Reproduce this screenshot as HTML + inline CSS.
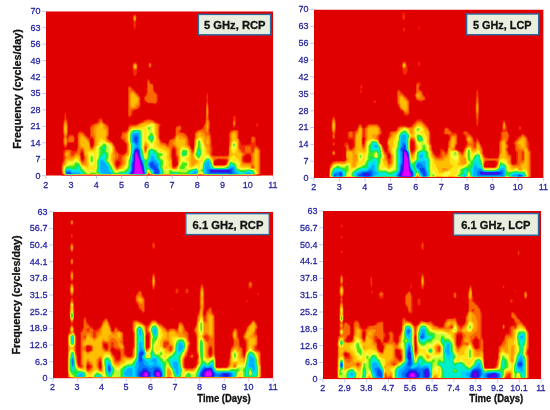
<!DOCTYPE html>
<html><head><meta charset="utf-8"><title>Wavelet spectra</title>
<style>
html,body{margin:0;padding:0;background:#fff;}
body{width:550px;height:410px;overflow:hidden;}
svg{display:block;font-family:"Liberation Sans",sans-serif;}
</style></head><body>
<svg width="550" height="410" viewBox="0 0 550 410">
<defs><filter id="bl" x="-5%" y="-5%" width="110%" height="110%"><feGaussianBlur stdDeviation="0.7"/></filter><clipPath id="clipA"><rect width="227.2" height="164.4"/></clipPath><clipPath id="clipB"><rect width="229.6" height="168.6"/></clipPath><clipPath id="clipC"><rect width="220.4" height="166.7"/></clipPath><clipPath id="clipD"><rect width="218.1" height="168.3"/></clipPath></defs>
<rect width="550" height="410" fill="#fff"/>
<g transform="translate(46.0,11.3)" clip-path="url(#clipA)"><rect width="227.2" height="164.4" fill="#e00000"/><g filter="url(#bl)"><path fill="rgb(228, 6, 0)" d="M88.1,2.2 88.8,2.0 89.2,2.2 89.9,2.8 90.6,4.2 91.0,6.8 90.8,9.2 91.1,14.2 90.8,17.8 90.1,21.2 89.2,22.7 88.8,23.0 88.2,22.8 87.8,22.2 87.2,20.8 86.6,17.8 86.3,14.8 86.5,5.8 87.0,3.8 87.6,2.8ZM88.5,47.8 89.2,47.7 90.2,48.2 91.1,49.2 91.7,50.2 92.7,53.7 93.1,57.8 93.0,61.8 92.2,65.8 91.6,67.2 90.8,68.7 90.2,69.2 89.2,69.7 88.2,69.6 87.8,69.2 86.9,68.2 86.2,67.0 85.3,63.8 84.9,59.8 85.0,55.8 85.8,51.7 86.9,49.2 87.8,48.2ZM103.7,50.2 104.8,50.5 105.2,51.0 105.8,52.2 106.1,53.8 106.0,55.2 105.7,56.2 105.1,57.2 104.2,57.8 103.2,57.5 102.8,57.0 102.2,55.8 101.9,54.2 102.0,52.8 102.3,51.7 102.9,50.8ZM102.1,66.2 102.8,66.2 103.2,66.4 103.8,66.9 105.0,71.2 105.7,71.8 107.2,72.2 107.8,72.8 108.1,73.8 108.2,77.2 108.5,78.2 110.2,79.8 111.1,81.2 112.8,82.3 113.4,83.2 113.5,86.2 113.4,90.8 112.8,91.7 111.1,92.8 110.1,94.8 109.2,95.3 108.3,95.1 107.1,93.2 106.2,92.8 101.8,92.6 98.9,91.8 98.1,90.8 97.5,88.8 97.4,86.2 98.1,83.2 98.8,82.3 99.8,81.6 100.2,80.5 100.4,69.8 101.2,66.9ZM45.0,70.8 46.2,70.4 47.0,70.8 47.5,71.2 47.7,71.8 47.7,72.8 47.4,73.2 46.8,73.8 45.8,74.0 45.2,73.8 44.6,73.2 44.3,72.8 44.3,71.8ZM83.1,72.8 83.8,72.7 84.2,72.9 85.8,74.9 87.8,75.9 88.2,76.4 89.1,78.2 90.8,79.3 92.1,81.2 94.1,82.8 95.1,86.8 95.1,94.2 94.4,97.2 93.6,98.2 89.8,99.3 88.8,100.1 88.5,100.8 88.5,103.2 88.1,104.2 87.6,104.8 85.8,105.6 85.1,106.8 85.0,109.8 85.4,111.2 86.2,111.9 88.8,112.0 90.2,111.9 93.2,111.2 94.0,110.8 95.2,108.9 100.2,107.5 101.8,105.4 102.8,105.2 103.6,105.8 104.2,107.0 104.8,107.5 109.2,108.6 110.2,109.2 110.7,110.2 111.2,110.9 112.0,111.2 116.0,112.2 116.6,112.8 116.8,113.2 116.8,113.9 116.2,114.6 114.8,115.4 114.2,116.7 114.2,126.4 114.8,127.5 116.6,128.8 117.4,130.2 118.2,130.7 120.8,131.2 121.2,131.2 122.0,130.8 122.5,128.8 123.2,127.8 125.2,127.0 126.8,125.3 127.8,124.8 128.4,124.2 128.8,122.8 128.9,116.8 129.3,115.2 130.2,114.5 132.1,113.8 133.2,112.4 134.2,112.2 134.8,112.4 135.4,113.2 136.1,115.8 136.1,117.2 135.8,119.8 136.0,120.2 136.8,120.7 138.8,121.0 140.8,121.6 141.6,122.2 143.0,127.2 144.2,128.3 144.9,129.2 145.2,134.2 145.9,136.8 146.2,137.3 146.8,137.4 147.3,136.2 147.9,122.8 148.6,119.8 148.8,119.2 149.8,118.6 153.8,117.5 154.2,117.0 154.9,115.8 155.2,115.4 156.5,114.8 157.0,114.2 157.2,113.2 156.8,112.2 155.2,111.6 154.7,110.8 154.7,109.8 155.2,108.9 156.2,108.6 157.0,108.8 157.6,109.2 158.2,110.8 158.6,110.2 159.4,102.3 160.1,82.8 160.7,79.2 161.2,78.1 161.8,78.6 161.9,79.2 162.5,82.8 163.2,102.8 163.8,108.2 164.5,109.2 164.6,110.2 164.7,117.2 165.8,120.8 166.4,123.8 166.9,127.8 167.0,131.8 168.1,134.8 168.6,137.2 168.6,140.2 167.9,143.2 168.8,143.8 174.8,143.8 180.8,143.8 181.8,143.2 182.0,142.2 182.0,136.2 182.3,133.2 182.3,123.2 183.0,119.8 183.1,116.8 183.2,116.0 183.8,115.4 184.8,115.2 185.6,115.8 186.4,117.2 186.8,117.5 187.2,117.2 186.2,115.5 185.5,112.8 185.2,109.2 185.4,105.8 186.0,102.8 186.8,100.8 187.8,99.7 188.2,99.5 189.2,99.7 190.2,100.8 191.0,102.8 191.6,105.8 191.8,108.8 191.6,111.8 191.0,114.8 190.2,116.6 189.2,117.8 191.8,118.0 192.2,118.3 193.0,119.2 193.2,120.8 193.2,126.4 193.8,127.5 195.2,128.8 195.9,130.8 196.8,131.4 197.8,131.5 202.8,131.5 203.8,131.2 204.2,130.2 204.5,125.8 205.2,124.8 205.8,124.5 207.8,124.4 209.8,124.9 210.8,125.4 211.4,126.2 211.6,133.2 212.2,134.4 213.8,135.3 214.3,135.9 214.9,137.8 215.1,139.2 215.2,164.2 15.3,164.2 15.0,156.2 15.4,151.8 16.0,148.8 16.0,139.8 16.2,139.0 16.8,138.4 18.1,137.8 17.0,135.2 16.5,131.8 16.4,128.8 16.7,125.8 16.3,119.8 16.4,113.2 17.0,108.2 17.8,105.0 18.1,101.2 18.7,99.2 19.2,98.8 19.8,99.0 20.3,100.2 20.8,103.8 21.5,105.8 22.1,108.8 22.6,114.2 22.7,121.8 22.8,121.9 24.2,121.5 26.2,121.5 27.8,121.9 28.4,122.8 29.2,126.2 29.2,129.8 28.7,131.2 28.2,131.8 27.2,132.1 23.8,132.2 22.8,132.4 22.5,132.8 22.0,135.2 21.2,137.2 24.2,137.4 27.2,138.0 29.3,138.0 30.2,137.5 30.7,136.8 30.8,135.8 30.8,122.8 31.1,121.2 31.9,119.2 32.5,118.8 33.2,118.5 35.8,118.5 37.0,118.7 37.7,119.3 38.8,120.9 40.7,122.2 41.6,124.2 42.2,124.6 42.8,124.5 43.3,123.2 43.4,115.8 44.2,112.9 45.2,112.1 49.1,111.2 50.0,110.8 50.5,109.8 50.6,106.2 51.2,105.4 52.2,105.1 54.8,105.0 55.8,105.1 56.6,105.8 57.8,110.2 58.2,111.0 62.1,112.2 62.9,113.2 63.6,116.2 63.7,123.2 63.2,126.2 63.6,127.2 64.2,127.8 65.8,128.4 66.1,128.8 67.2,130.8 69.2,132.2 70.5,137.2 72.2,138.8 72.7,140.2 73.2,140.9 74.2,141.4 76.2,141.5 77.7,141.2 78.4,140.8 78.9,139.8 79.0,138.8 79.0,134.2 78.7,132.8 77.8,131.8 76.4,131.2 75.9,130.8 74.9,128.8 72.9,127.2 72.7,126.2 73.2,125.3 74.5,124.2 75.1,121.2 75.9,119.2 76.8,118.6 79.8,118.4 80.8,117.9 81.2,116.9 81.9,113.8 82.0,107.2 81.4,104.2 81.3,102.8 81.3,77.2 81.5,75.8 82.1,73.8 82.4,73.2ZM203.5,85.8 204.8,85.5 205.7,85.8 206.4,86.2 207.0,87.2 207.2,88.8 206.9,89.8 206.2,90.7 205.2,91.2 204.2,91.3 203.2,90.9 202.6,90.2 202.1,89.2 202.0,88.2 202.2,87.2 202.8,86.3ZM187.7,88.8 188.8,88.8 189.5,89.2 190.2,90.2 190.5,91.8 190.5,93.2 190.1,94.2 189.2,95.4 188.2,95.7 187.2,95.4 186.8,95.0 186.1,93.8 185.9,92.8 185.9,91.2 186.2,90.2 186.8,89.4ZM210.8,108.8 211.7,108.8 212.8,109.7 213.4,111.2 213.7,113.2 213.6,115.2 213.0,117.2 212.2,118.3 211.2,118.7 210.2,118.4 209.4,117.3 208.9,115.8 208.7,114.2 208.8,112.2 209.2,110.8 209.8,109.6ZM187.7,117.7 187.6,117.8ZM45.2,128.4 44.8,129.2 44.8,130.6 45.1,133.8 45.2,134.1 45.8,134.5 46.2,134.4 46.8,133.3 46.8,129.8 46.2,128.5 45.8,128.3ZM127.2,138.5 126.8,139.2 126.7,140.8 126.7,146.2 127.0,152.8 127.3,153.8 127.8,154.2 128.2,154.3 130.8,153.6 131.2,152.8 131.2,152.2 130.8,151.2 129.8,150.2 129.6,149.8 129.4,146.2 128.9,143.2 128.7,139.2 128.2,138.5 127.8,138.3ZM35.8,142.1 35.4,142.8 35.3,143.8 35.6,146.8 36.2,147.6 36.8,147.4 37.2,146.8 37.2,145.2 36.8,142.4 36.2,141.9ZM200.8,144.6 199.8,145.1 199.1,146.2 199.0,148.2 199.2,149.4 199.8,150.0 200.8,150.3 202.8,150.3 203.8,150.0 204.2,149.2 204.3,148.8 204.3,146.2 204.0,145.2 203.4,144.8 202.8,144.5ZM172.2,148.7 170.9,149.2 170.2,150.2 168.8,151.4 168.5,152.2 168.8,153.0 169.8,153.3 177.2,153.3 178.3,153.3 179.1,152.8 179.7,150.2 179.7,149.8 179.2,149.0 177.8,148.7ZM70.8,151.5 70.3,152.8 70.7,153.8 71.2,154.0 71.8,153.8 72.2,153.2 72.3,152.2 71.8,151.5 71.2,151.3Z"/>
<path fill="rgb(243, 47, 0)" d="M88.5,3.2 89.2,3.4 89.9,4.2 90.3,5.8 90.4,7.2 90.2,9.2 89.6,10.8 89.8,13.2 89.6,15.8 89.2,17.3 88.8,17.9 88.2,17.5 87.8,15.8 87.6,13.2 87.9,10.8 87.2,9.2 87.0,7.2 87.3,4.8 87.8,3.8ZM88.3,51.2 89.2,51.0 89.8,51.2 90.5,51.8 91.3,53.2 91.6,54.8 90.8,62.1 90.2,63.4 89.8,64.1 89.2,64.5 88.8,64.5 88.2,64.1 87.8,63.4 87.3,62.2 86.9,60.3 86.9,57.8 86.6,55.8 86.6,54.2 87.1,52.8 87.7,51.8ZM103.1,51.8 103.7,51.3 104.2,51.3 104.9,51.8 105.3,52.8 105.5,53.8 105.3,55.2 104.9,56.2 104.2,56.7 103.7,56.7 103.2,56.4 102.7,55.2 102.5,53.2ZM102.1,68.2 102.8,68.1 103.2,68.5 103.8,69.5 104.1,71.2 104.8,72.1 106.5,72.8 107.1,73.2 107.4,74.2 107.5,77.2 107.8,78.8 108.8,80.2 111.2,82.8 111.9,83.8 112.0,86.2 111.9,90.2 111.2,91.2 109.2,93.1 108.8,93.1 107.2,92.3 106.2,92.1 102.8,92.0 101.2,91.7 100.4,91.2 99.2,90.2 98.6,89.2 98.2,88.2 98.1,86.8 98.3,85.8 100.2,82.6 100.8,81.2 101.1,70.2 101.3,69.2ZM83.0,74.8 83.8,74.5 84.2,74.8 92.2,82.8 94.2,85.8 94.5,87.8 94.4,94.2 93.8,96.1 92.1,97.8 91.1,98.2 88.8,98.8 87.3,99.8 86.8,100.8 86.5,103.2 85.7,104.2 83.8,106.1 83.2,106.0 82.3,104.8 82.0,102.8 82.0,77.2 82.3,75.8ZM161.1,82.2 161.2,81.8 161.8,82.8 162.0,84.8 161.9,89.8 162.4,92.8 162.6,96.8 162.7,105.2 163.1,108.8 163.8,109.5 164.0,110.8 163.9,117.2 163.2,119.2 164.4,121.8 165.1,124.8 165.6,128.8 165.6,133.8 166.3,135.8 166.7,137.8 166.6,140.2 165.9,142.8 166.0,143.2 167.2,144.2 169.2,144.5 180.8,144.5 181.8,144.2 182.2,143.8 182.5,142.8 182.6,136.2 183.0,133.2 183.1,122.8 183.3,121.8 184.8,118.9 185.2,118.6 190.8,118.5 191.5,118.8 192.1,119.2 192.5,120.8 192.6,126.8 193.9,129.2 194.8,132.8 195.7,134.4 196.2,134.5 197.8,133.8 199.2,133.4 203.8,133.2 204.8,133.0 205.0,132.2 205.0,127.2 205.2,126.0 205.8,125.4 206.2,125.2 207.2,125.1 208.2,125.3 209.6,126.2 210.0,127.2 209.9,130.8 209.5,132.8 209.8,133.2 213.8,137.4 214.4,139.2 214.5,162.8 214.2,163.1 207.2,163.2 20.2,163.2 16.8,163.2 16.2,163.1 16.0,162.8 15.6,159.8 15.6,155.8 16.2,151.8 17.1,149.8 17.3,148.8 17.5,146.2 17.4,141.8 17.5,140.2 17.9,139.2 19.4,138.2 21.8,138.0 23.8,138.1 24.8,138.3 27.2,140.1 29.2,139.7 30.2,139.2 31.2,137.8 31.4,136.8 31.5,123.2 31.8,121.9 32.2,121.0 32.8,120.4 33.8,120.0 35.8,120.0 36.8,120.4 38.7,122.2 40.3,124.2 41.8,125.7 42.8,126.3 43.8,126.4 44.0,126.2 44.0,125.7 44.0,116.8 44.2,115.8 44.6,114.8 45.2,113.9 47.2,112.6 50.1,111.8 51.0,111.2 51.8,110.2 52.4,107.7 52.8,107.2 53.7,106.9 54.8,106.8 55.8,107.3 56.7,108.8 57.2,110.8 57.5,111.2 58.2,111.8 60.6,112.8 62.2,114.4 62.9,116.2 63.0,122.8 62.8,124.2 62.0,126.2 62.1,126.8 63.2,128.2 65.8,130.4 67.6,132.2 69.2,135.2 69.8,137.6 70.2,138.6 71.8,140.8 74.2,143.2 74.8,143.3 76.8,143.0 77.8,142.6 79.7,140.8 80.0,140.2 80.3,139.2 80.3,134.2 80.0,132.8 74.5,126.7 74.4,126.2 75.3,124.2 75.8,121.9 76.2,121.0 77.2,120.2 79.8,119.9 80.8,119.3 81.7,117.8 82.2,115.8 82.6,114.8 83.8,113.3 84.2,113.1 88.8,113.3 90.2,113.1 91.8,112.3 94.2,111.5 98.2,108.8 100.6,108.2 102.2,107.4 102.8,107.4 104.8,108.3 107.2,108.8 108.1,109.2 110.4,111.2 111.3,111.8 113.2,112.3 114.5,113.2 114.6,113.8 113.8,115.4 113.5,116.8 113.5,125.8 113.8,127.2 115.2,129.5 116.4,130.8 117.4,131.2 119.7,131.8 121.2,132.6 121.8,132.5 122.4,131.8 123.4,128.8 124.0,128.2 126.6,127.2 127.8,126.3 129.0,124.8 129.5,123.2 129.5,117.2 129.9,115.8 130.8,115.1 132.1,114.8 133.8,114.0 134.2,114.0 134.8,114.5 135.2,115.2 135.4,116.8 135.2,118.1 134.5,119.8 134.5,120.2 135.0,120.8 135.8,121.2 138.2,121.7 139.6,122.2 140.1,122.8 141.2,124.4 141.8,125.4 142.3,127.8 143.4,129.8 143.6,133.2 144.7,135.2 145.5,137.8 146.2,138.7 146.8,138.8 147.2,138.3 147.8,136.7 148.0,133.8 148.1,129.2 148.5,126.3 148.6,122.8 148.8,121.7 149.8,120.3 150.9,119.2 151.9,118.8 154.2,118.2 155.1,117.8 156.2,116.8 157.2,115.6 157.7,114.8 158.2,112.7 159.3,111.8 159.9,104.8 160.0,96.8 160.2,92.8 160.7,89.8 160.6,84.8ZM19.1,101.2 19.2,101.1 19.8,101.6 19.9,102.2 20.2,106.2 21.2,108.8 21.8,112.8 22.0,119.2 21.4,125.8 21.8,127.5 22.1,125.8 22.8,124.4 23.8,123.5 24.8,123.3 26.2,123.3 27.2,123.8 28.2,125.4 28.5,127.2 28.5,129.8 28.1,130.8 27.5,131.2 26.8,131.4 22.2,131.5 21.8,131.7 21.4,133.8 20.9,135.2 20.2,136.3 19.8,136.6 19.2,136.6 18.8,136.3 18.1,135.2 17.5,133.2 17.1,130.2 17.2,128.2 17.6,125.8 17.0,119.8 17.1,114.2 17.6,109.8 18.5,106.8 18.6,102.8 18.8,101.9ZM188.0,104.8 188.2,104.5 188.8,104.5 189.2,105.0 189.8,106.3 190.0,108.2 189.5,113.8 188.8,115.7 188.2,116.1 187.8,115.9 187.2,114.8 186.9,111.8 187.2,106.8 187.6,105.2ZM210.7,112.2 211.2,112.0 211.6,112.2 212.0,113.2 211.9,114.8 211.2,115.4 210.8,115.2 210.4,114.2 210.4,113.2ZM44.2,126.5 44.0,126.8 44.0,129.8 44.5,133.8 45.0,135.2 45.8,135.9 46.2,135.7 46.8,135.1 47.4,133.8 47.4,129.2 47.2,128.2 46.2,126.9 45.2,126.6ZM127.2,137.0 126.3,138.2 126.1,139.2 126.0,146.2 126.4,149.2 126.6,153.8 127.2,155.2 127.8,155.6 128.2,155.6 131.2,154.0 131.7,153.2 131.8,152.2 130.9,149.2 130.7,146.2 129.7,143.8 129.3,138.8 128.8,137.5 128.2,137.0 127.8,136.8ZM35.8,140.4 34.8,141.8 34.6,143.2 35.2,147.8 35.8,148.7 36.2,149.0 36.8,149.0 37.7,147.8 37.9,145.8 37.2,141.7 36.8,140.8 36.2,140.4ZM200.8,143.1 199.8,143.8 197.8,145.8 197.4,147.2 197.6,149.2 198.4,150.2 199.8,150.8 202.2,151.0 204.0,150.8 204.6,150.2 204.9,149.2 205.0,146.2 204.7,144.8 204.2,144.0 203.3,143.1 202.2,143.0ZM171.2,148.2 170.2,148.6 169.3,149.2 168.2,150.7 168.0,151.8 168.0,152.8 168.2,153.4 168.8,153.7 176.8,153.8 178.8,153.7 179.5,153.2 179.8,152.8 180.9,149.8 180.8,149.2 180.5,148.8 179.8,148.3 178.8,148.1 172.8,148.0ZM71.2,149.7 70.8,149.9 70.1,150.8 69.7,151.8 69.6,152.8 69.8,153.8 70.2,154.6 70.8,155.2 71.2,155.4 71.8,155.2 73.2,153.8 73.6,153.2 73.9,152.2 73.7,150.7 73.2,149.7 72.2,149.5Z"/>
<path fill="rgb(252, 104, 0)" d="M88.3,4.2 88.8,4.1 89.2,4.3 89.7,5.3 90.0,6.8 89.8,9.1 89.2,10.1 88.8,10.3 88.2,10.1 87.8,9.4 87.4,7.8 87.5,5.8ZM88.2,52.2 88.8,52.0 89.8,52.1 90.4,52.8 91.0,54.2 91.1,55.8 90.8,57.1 90.2,57.9 89.2,58.5 88.4,58.2 87.8,57.8 87.2,56.2 87.1,54.8 87.3,53.8 87.8,52.8ZM103.6,52.2 104.2,52.1 104.8,52.7 105.0,53.2 105.0,54.8 104.8,55.3 104.2,55.9 103.6,55.8 103.0,54.8 103.0,53.2ZM102.2,69.8 102.8,69.8 103.2,70.6 103.5,71.8 104.2,72.7 105.8,73.2 106.5,73.8 106.8,74.8 106.9,78.2 107.6,80.8 108.2,81.7 109.8,82.6 110.2,83.3 110.5,84.8 110.5,89.8 110.2,90.8 109.2,91.7 108.8,91.8 106.2,91.4 102.2,91.2 101.4,90.8 100.7,89.8 99.2,88.6 98.8,87.8 98.8,86.8 99.0,86.2 100.8,84.6 101.5,81.8 101.7,80.2 101.7,71.2 101.9,70.2ZM83.1,76.2 83.8,75.9 84.2,76.2 84.7,76.8 85.4,78.2 85.8,78.6 87.8,79.6 89.2,81.5 90.9,82.8 92.1,84.8 93.5,86.2 93.8,87.8 93.8,93.2 93.5,94.8 91.8,96.2 90.8,97.5 86.2,98.6 85.4,99.2 85.0,100.2 84.9,103.2 84.3,104.2 83.8,104.6 83.1,104.2 82.7,102.8 82.7,78.2 82.8,77.1ZM161.1,91.8 161.2,91.3 161.8,92.2 162.0,94.2 162.4,100.2 162.1,106.2 162.6,109.2 163.3,110.8 163.3,116.8 162.8,118.2 162.5,121.8 163.8,124.1 164.4,127.2 164.6,130.8 164.4,134.8 165.0,136.8 165.2,138.8 164.6,142.2 164.8,143.2 165.2,144.0 166.8,144.9 168.8,145.2 180.8,145.2 181.8,144.9 182.2,144.6 182.8,143.8 183.0,142.8 183.0,136.2 183.6,132.8 183.8,122.8 184.2,121.8 186.8,119.4 188.2,119.2 190.8,119.3 191.5,119.8 191.8,120.3 191.9,126.2 193.1,129.8 193.3,136.8 193.8,137.6 195.2,138.8 195.7,140.2 196.2,140.9 197.2,141.4 198.8,141.5 199.0,141.8 198.9,142.8 198.4,143.8 196.8,144.9 196.3,145.8 196.2,149.2 196.8,150.6 197.2,150.9 198.8,151.4 200.8,151.7 203.8,151.6 204.7,151.2 205.2,150.8 205.6,149.2 205.7,146.2 205.0,141.8 205.2,141.5 206.8,141.3 207.5,140.8 208.6,136.2 209.2,135.4 209.8,135.2 210.8,135.6 213.5,138.8 213.8,140.8 213.9,162.8 211.8,163.1 207.2,163.2 108.8,163.2 104.2,163.1 102.8,162.9 100.8,163.2 96.8,163.2 20.2,163.2 17.8,163.1 16.6,162.8 16.0,159.8 16.1,155.2 16.8,152.3 18.2,149.8 18.9,146.8 18.4,142.8 18.6,141.2 19.2,139.5 19.8,139.0 20.8,138.7 23.2,138.7 24.2,139.0 24.8,139.6 25.0,140.2 25.1,143.2 25.8,144.1 26.2,144.3 27.2,144.2 27.8,143.9 29.2,141.8 30.6,141.2 31.1,140.8 32.1,136.8 32.2,123.2 32.8,122.0 33.8,121.5 36.2,121.6 37.2,122.1 38.6,124.2 40.2,125.5 41.6,127.2 42.8,128.2 43.2,129.1 43.9,132.2 44.2,134.8 44.8,136.5 45.2,137.0 45.8,137.1 46.6,136.8 48.0,133.8 48.1,129.2 47.9,127.8 47.2,125.9 46.8,125.4 45.2,124.7 44.8,123.8 44.8,116.2 45.2,115.4 46.8,114.7 48.2,113.0 52.3,111.8 53.3,110.8 53.9,109.2 54.8,108.7 55.8,109.0 56.5,110.8 57.2,111.8 59.6,113.2 60.3,114.2 62.0,115.8 62.3,117.2 62.3,123.2 62.0,124.2 61.0,125.8 60.8,126.8 61.0,127.2 62.4,128.8 63.5,130.2 65.8,131.3 66.7,132.2 67.5,134.2 68.8,136.2 69.8,140.5 70.2,141.2 71.8,142.1 72.2,142.8 72.5,144.2 72.4,146.8 71.8,147.6 70.4,148.2 69.8,148.8 68.9,151.8 68.9,152.8 69.2,153.8 70.2,156.3 70.8,156.9 71.2,157.0 71.9,156.8 73.1,155.2 74.8,153.9 75.2,153.2 75.5,152.2 75.5,146.8 75.8,145.5 76.2,144.9 77.8,144.3 78.4,143.8 79.5,142.2 80.8,141.2 81.2,140.1 81.3,134.2 81.2,132.8 80.8,131.9 79.2,130.3 78.6,128.8 78.1,128.2 76.7,127.8 75.8,126.8 75.8,125.8 76.5,122.2 77.2,121.7 79.8,121.4 80.8,121.0 82.4,117.8 83.0,115.8 83.8,115.0 85.8,114.4 90.2,114.2 92.7,112.8 97.2,111.0 98.8,109.5 101.8,108.7 102.8,108.7 106.2,109.3 107.1,109.7 108.2,110.9 112.3,112.8 113.0,113.2 113.2,113.8 112.9,116.8 112.9,125.8 113.0,126.8 114.3,130.2 114.8,131.1 115.2,131.4 119.2,132.5 120.6,134.2 121.2,134.7 122.2,134.6 122.8,134.0 124.0,129.2 124.8,128.7 127.8,127.9 128.2,127.6 128.8,126.8 130.1,123.2 130.2,117.2 130.5,116.2 131.2,115.7 133.2,115.3 134.2,115.5 134.7,116.2 134.7,117.2 134.2,118.1 132.9,119.2 132.7,120.2 132.9,120.8 133.8,121.4 138.2,122.5 138.8,123.0 139.3,124.2 141.0,125.8 141.9,129.2 142.0,132.8 142.3,133.8 144.0,135.8 145.4,138.8 145.8,140.2 146.2,140.9 146.8,141.0 147.4,140.2 148.1,137.2 148.5,133.8 148.5,129.2 149.1,126.8 149.2,123.2 149.5,122.2 152.2,119.5 157.2,118.1 157.9,117.2 158.8,113.6 159.8,112.4 160.4,106.2 160.3,101.2 160.4,96.2 160.8,92.7ZM18.9,108.8 19.2,108.4 19.8,108.4 20.2,109.0 20.6,109.8 21.2,112.8 21.5,116.2 21.4,121.2 20.7,125.8 21.2,127.8 21.3,130.2 20.8,133.4 20.2,134.5 19.8,134.9 19.1,134.8 18.4,133.8 17.9,132.2 17.7,130.2 17.8,127.8 18.3,125.8 17.6,120.8 17.6,115.2 18.0,111.2ZM188.0,109.2 188.2,109.0 188.8,109.6 189.1,111.8 188.9,113.8 188.8,114.4 188.2,115.0 187.6,114.2 187.3,112.2 187.5,110.2ZM23.6,125.2 24.2,125.0 26.2,125.0 26.9,125.2 27.5,125.8 27.8,126.8 27.8,129.2 27.7,129.8 27.2,130.5 26.2,130.8 23.8,130.8 22.8,130.6 22.4,130.2 22.1,129.2 22.8,126.4 23.0,125.8ZM206.0,126.2 206.8,125.8 207.2,125.9 208.0,126.2 208.3,126.8 208.5,128.2 208.4,130.2 207.8,131.1 207.2,131.3 206.2,131.1 205.8,130.2 205.7,127.2ZM127.2,135.2 126.8,135.4 126.2,135.9 125.5,138.2 125.4,139.8 125.3,145.8 126.0,149.2 126.0,152.8 126.2,154.5 126.8,156.2 127.3,156.8 128.2,156.9 129.2,156.4 131.6,154.2 132.1,153.2 132.1,151.8 131.8,145.9 131.5,145.2 130.3,143.2 130.1,139.2 129.9,137.8 129.3,136.2 128.9,135.8 128.2,135.3ZM200.0,135.2 201.2,135.0 203.2,135.1 204.0,135.2 204.6,135.8 205.0,136.8 205.0,137.8 205.0,141.2 204.8,141.5 199.2,141.5 199.0,141.2 199.1,136.8 199.4,135.8ZM99.2,136.2 99.2,138.3 99.8,138.6 100.1,136.8 100.0,136.2 99.8,135.8ZM35.8,138.2 35.2,138.4 34.6,139.2 33.9,142.8 34.7,147.8 35.2,149.6 35.8,150.4 36.2,150.7 36.8,150.8 37.2,150.6 37.9,149.8 38.5,147.8 38.6,146.2 37.2,139.2 36.8,138.5ZM170.2,147.6 168.5,148.2 168.0,149.2 167.6,151.2 167.6,152.8 168.1,153.8 168.8,154.1 177.2,154.2 179.2,153.9 180.2,153.2 180.5,152.8 181.9,149.8 181.8,148.8 181.5,148.2 179.8,147.5 178.2,147.3 172.8,147.3ZM206.2,154.9 205.9,155.8 206.0,156.2 206.8,156.6 207.2,156.5 207.5,156.2 207.6,155.8 207.4,155.2 206.8,154.8Z"/>
<path fill="rgb(255, 152, 0)" d="M88.2,5.2 88.8,4.9 89.2,5.3 89.7,6.8 89.4,8.8 88.8,9.5 88.3,9.2 87.7,7.8 87.8,6.2ZM88.7,52.8 89.2,52.7 89.8,52.9 90.3,53.8 90.6,54.8 90.6,55.7 90.3,56.8 89.8,57.5 89.2,57.7 88.8,57.7 88.2,57.3 87.6,55.8 87.8,54.0 88.2,53.1ZM103.7,53.2 104.3,53.2 104.5,54.2 104.2,54.8 103.7,54.8 103.5,54.2ZM84.4,80.8 84.8,80.6 85.8,80.5 87.2,80.9 89.2,82.8 90.3,84.2 92.2,86.2 92.7,87.2 92.8,91.2 92.2,93.1 90.7,94.2 89.5,96.2 88.4,96.8 86.8,97.0 84.8,96.9 84.2,96.6 83.9,95.8 83.7,93.8 83.7,83.8 83.9,81.8ZM161.2,94.2 161.8,95.6 162.0,100.8 161.8,105.8 161.2,107.2 160.8,104.9 160.6,100.8 160.8,96.5ZM161.2,108.2 161.8,108.8 162.0,109.8 162.3,112.2 162.4,114.8 162.0,119.2 161.8,120.6 161.2,121.2 160.6,119.8 160.1,115.2 160.5,110.2 160.8,109.1ZM19.1,110.8 19.2,110.6 19.8,110.6 20.2,111.4 20.8,113.5 21.0,116.2 21.0,119.2 20.8,121.9 20.2,124.0 19.8,124.8 19.2,124.8 18.8,124.0 18.2,121.9 18.0,119.2 18.2,113.8 18.8,111.4ZM99.3,110.8 100.2,110.4 101.8,110.3 105.8,110.4 108.2,111.7 110.2,112.5 111.7,113.8 111.9,114.8 111.8,123.2 112.1,126.2 113.2,128.8 113.7,130.8 114.1,131.8 115.2,133.0 118.2,133.6 121.2,136.1 123.8,136.7 124.0,137.2 124.3,138.8 124.4,146.2 125.2,148.2 125.5,149.2 125.6,153.2 126.0,155.8 126.3,156.8 126.9,157.2 127.8,157.5 128.8,157.4 130.2,156.8 131.8,154.8 132.4,153.2 132.4,145.8 132.2,144.8 131.3,142.8 131.1,138.2 130.9,136.8 130.2,135.8 126.6,132.2 126.4,131.8 126.4,131.2 126.8,130.8 128.8,128.6 130.2,124.9 131.8,123.3 132.2,123.2 133.7,123.8 139.8,127.0 140.4,128.8 140.6,133.2 140.9,133.8 143.2,136.2 144.2,137.8 144.8,138.8 145.3,141.2 146.2,142.5 146.8,142.5 147.2,142.0 148.0,140.2 148.9,133.8 149.0,129.2 149.2,128.1 150.1,126.2 150.3,123.2 150.8,122.2 152.2,120.8 153.2,120.3 154.8,120.3 156.1,120.8 157.1,121.2 158.2,122.5 159.1,124.2 159.8,126.8 160.0,125.8 160.8,124.6 161.2,124.2 161.8,124.2 162.2,124.6 162.8,125.4 163.2,126.8 163.6,128.8 163.6,132.2 162.9,135.8 163.4,136.8 163.7,138.2 163.4,141.2 164.8,144.6 165.8,145.8 167.3,146.8 167.4,147.8 167.3,152.2 167.7,153.8 168.2,154.3 169.2,154.5 178.2,154.5 179.8,154.1 180.9,153.2 182.4,149.8 182.4,148.2 181.8,146.8 181.7,146.2 182.9,144.8 183.4,143.2 183.5,136.8 183.6,135.8 184.3,133.2 184.7,129.8 184.8,123.2 185.3,122.2 186.8,120.8 187.8,120.3 188.8,120.2 190.2,120.7 190.7,121.8 190.9,126.2 192.2,128.8 192.5,129.8 192.5,136.2 192.8,137.6 194.3,140.2 196.6,142.8 196.6,143.2 195.7,145.2 195.5,148.8 195.8,150.6 196.8,152.2 197.2,152.5 198.2,152.8 203.8,152.9 204.8,153.2 205.0,153.8 205.1,155.8 205.5,156.8 206.8,157.2 207.8,157.0 208.1,156.8 208.4,155.8 208.2,154.8 206.5,152.2 206.9,149.8 207.0,143.2 208.2,141.1 208.8,138.2 209.2,137.5 209.8,137.1 210.2,137.0 210.8,137.3 212.5,139.2 212.8,140.8 212.8,158.8 213.0,162.8 210.8,163.0 204.2,163.2 160.2,163.2 154.2,163.0 149.8,163.2 108.8,163.2 103.8,162.9 103.2,162.8 102.8,161.9 102.2,162.1 102.1,162.8 101.2,163.0 97.8,163.2 20.8,163.2 18.8,163.1 17.2,162.8 16.5,159.8 16.5,155.8 16.8,154.6 18.7,150.8 19.3,148.2 20.5,146.2 19.3,144.2 19.1,142.8 19.8,141.0 20.8,140.1 22.2,140.2 23.1,140.8 23.4,142.2 23.5,145.2 23.9,145.8 24.8,146.0 25.8,146.2 26.8,146.0 29.2,143.8 30.2,143.1 31.8,142.8 32.2,142.8 32.8,143.1 33.8,144.8 34.5,149.2 35.2,150.9 36.2,152.1 36.8,152.4 37.8,152.5 38.8,152.2 39.4,150.8 39.6,146.8 39.5,145.8 38.6,143.8 37.8,138.4 36.8,136.9 36.2,136.7 34.2,136.4 33.9,136.2 33.3,134.8 33.2,126.8 33.6,124.2 34.2,123.5 35.2,123.3 36.2,123.5 41.2,128.2 42.1,129.2 43.2,131.7 44.2,137.1 44.8,137.6 45.2,137.8 46.2,137.8 46.8,137.6 47.2,137.1 47.8,135.8 48.9,133.8 49.2,132.2 48.9,125.8 48.6,124.2 47.4,121.8 47.4,118.2 49.5,114.2 52.2,113.2 54.8,110.9 55.2,110.8 57.8,113.2 58.5,114.2 59.2,116.2 60.2,116.9 60.9,117.8 61.3,119.2 61.3,122.8 61.1,123.8 60.2,125.8 60.2,127.6 60.8,128.6 62.2,130.2 63.8,131.2 65.2,131.7 66.0,132.2 67.8,136.2 68.3,141.8 69.4,144.8 68.1,148.2 68.1,152.8 70.0,157.2 70.8,157.7 71.2,157.8 72.6,157.2 73.9,156.2 77.0,152.8 77.2,151.8 77.3,147.2 77.5,146.2 80.8,142.7 81.4,141.8 81.8,140.8 82.0,138.8 81.9,132.8 80.6,130.2 79.8,126.7 78.9,125.2 78.8,124.8 79.0,124.2 81.2,121.6 82.5,118.8 84.0,116.2 84.5,115.8 86.2,115.1 89.8,115.0 91.1,114.8 95.2,112.3 97.6,111.8ZM187.9,110.8 188.3,110.3 188.7,111.8 188.6,112.8 188.3,113.7 187.7,112.8 187.7,111.2ZM19.2,126.2 19.8,126.2 20.2,126.8 20.7,128.8 20.5,131.8 20.2,132.6 19.8,133.2 19.2,133.2 18.8,132.6 18.3,130.2 18.5,127.8 18.8,126.8ZM99.8,134.2 99.2,134.4 98.8,135.2 98.5,136.2 98.7,139.8 99.2,140.8 99.8,140.8 100.1,140.2 100.8,136.8 100.7,135.2 100.2,134.5Z"/>
<path fill="rgb(255, 191, 0)" d="M88.4,6.2 88.8,5.9 89.2,6.8 89.2,7.8 88.8,8.5 88.2,7.8ZM88.6,53.8 89.2,53.5 89.6,53.8 90.1,54.8 89.9,56.2 89.2,56.9 88.7,56.8 88.1,55.8 88.1,54.8ZM86.0,82.2 87.1,82.2 87.9,82.8 88.9,84.8 90.9,86.2 91.2,86.8 91.5,87.8 91.4,90.2 91.1,91.2 88.9,92.8 88.2,94.5 87.8,95.1 86.8,95.4 86.0,95.2 85.4,94.8 85.0,93.2 85.1,83.8 85.4,82.8ZM161.2,98.2 161.4,100.8 161.2,103.2 161.1,100.8ZM103.3,111.8 104.8,111.4 106.2,111.5 109.2,112.8 110.0,113.2 110.3,113.8 110.5,114.8 110.6,123.8 111.3,127.2 112.7,129.2 113.6,133.8 114.2,134.6 114.8,134.9 117.8,135.0 118.8,135.3 119.4,135.8 120.8,137.7 122.1,138.2 122.6,138.8 123.0,140.2 123.1,146.8 123.3,147.2 124.7,148.8 125.0,149.8 125.1,153.8 125.4,156.2 126.1,157.2 126.8,157.7 127.8,157.9 128.8,157.9 130.9,157.2 131.4,156.8 132.4,154.2 132.8,152.8 133.1,149.2 133.2,146.8 133.1,145.2 132.5,142.8 132.5,136.8 132.2,136.0 131.8,135.3 130.1,134.2 129.8,133.8 129.5,132.8 129.6,129.2 130.2,126.6 130.8,125.6 131.2,125.4 131.8,125.5 132.2,126.0 132.9,127.2 133.8,127.9 137.2,128.1 138.2,128.4 138.9,129.2 139.0,133.2 139.4,134.2 141.5,135.8 144.0,138.8 145.0,143.2 145.1,152.8 145.2,153.5 145.8,154.1 146.8,154.3 147.8,153.9 148.3,153.2 148.9,151.8 151.0,150.2 151.1,149.8 150.9,149.2 148.8,148.2 148.0,147.2 147.6,143.2 148.4,140.2 148.9,135.8 149.3,133.8 149.5,129.2 149.9,128.2 151.4,126.2 151.8,122.8 152.2,122.1 153.2,121.8 154.1,122.2 154.8,124.0 155.2,124.6 157.0,125.2 157.8,126.0 157.9,126.8 158.0,129.8 158.8,133.8 159.2,134.7 160.4,135.8 161.7,138.2 161.7,139.2 161.2,140.2 161.4,140.8 163.0,142.2 165.1,146.8 166.2,147.6 166.7,148.2 167.0,149.2 167.1,152.8 167.3,153.8 168.2,154.6 169.2,154.8 178.2,154.8 180.1,154.2 181.6,153.2 182.7,150.2 183.0,149.2 183.1,146.2 183.9,143.2 184.1,136.2 184.9,134.2 185.3,131.8 185.9,129.8 186.1,123.2 186.8,122.1 187.2,121.8 188.2,121.7 188.8,121.9 189.3,122.8 189.5,126.2 189.8,127.0 191.2,128.5 191.8,129.6 191.9,136.8 192.6,140.2 193.2,141.2 194.8,142.1 195.2,142.8 195.2,143.8 194.8,146.2 194.9,149.8 195.6,153.2 196.2,154.1 197.8,154.5 203.2,154.6 203.8,154.8 204.8,156.8 205.4,157.2 206.2,157.5 207.2,157.6 208.6,157.2 209.0,156.8 209.1,155.8 208.5,152.2 208.6,142.8 209.2,139.6 209.6,138.8 210.2,138.4 210.8,138.7 211.2,139.2 211.5,140.8 211.5,158.8 212.1,162.8 209.8,163.0 203.8,163.1 159.8,163.1 154.2,162.9 149.8,163.1 120.2,163.0 108.2,163.1 104.8,163.0 103.6,162.8 103.2,161.5 102.8,161.1 102.2,161.2 101.7,162.7 100.8,163.0 98.8,163.1 42.2,163.0 21.2,163.1 19.2,163.1 17.7,162.8 16.9,159.2 17.0,155.8 17.4,154.8 18.9,152.8 20.0,148.8 20.8,148.1 26.8,147.9 27.9,147.2 29.1,145.2 29.8,144.8 30.8,144.5 32.2,144.6 32.7,144.8 33.2,145.3 33.9,149.2 35.8,153.3 36.5,153.8 39.2,154.3 39.9,154.2 40.6,153.8 41.0,152.2 40.9,145.8 40.7,145.2 39.2,143.7 38.5,138.2 37.8,135.9 37.0,135.2 35.2,134.6 34.6,133.8 34.5,129.2 34.7,126.2 35.2,125.4 35.8,125.2 36.8,125.3 37.2,125.6 38.8,127.7 40.4,128.8 41.3,130.8 42.8,132.3 43.4,136.8 43.8,137.8 44.3,138.2 45.2,138.6 46.2,138.6 47.2,138.2 48.0,137.2 48.5,135.8 49.9,134.2 50.4,133.2 50.6,116.2 51.3,115.4 52.8,114.7 54.1,112.8 54.8,112.3 55.8,112.4 56.6,113.2 57.0,114.2 57.0,116.8 57.2,117.5 57.8,118.1 59.3,118.9 59.9,119.8 59.9,123.2 59.4,126.8 60.1,129.8 60.5,130.2 61.2,130.7 65.2,132.5 65.8,133.2 66.8,135.8 67.1,137.2 67.1,139.8 66.5,143.2 66.5,148.8 67.2,152.8 67.5,153.8 68.5,155.2 69.3,157.2 70.2,158.2 71.2,158.4 74.8,157.0 76.2,155.1 78.2,153.9 78.7,153.2 79.0,152.2 79.1,146.2 79.6,145.2 81.4,143.8 82.2,142.1 82.6,139.8 82.6,133.8 82.5,132.8 81.4,129.8 81.3,123.8 81.6,122.2 83.2,118.9 85.4,116.2 86.2,115.8 91.2,115.5 93.8,114.7 95.0,113.2 95.8,112.8 99.2,112.1ZM161.2,112.2 161.7,114.8 161.2,117.2 161.0,114.8ZM19.1,113.2 19.2,113.0 19.8,113.0 20.2,114.4 20.5,116.2 20.4,120.2 19.8,122.4 19.2,122.4 19.0,121.8 18.5,119.2 18.6,115.8 18.8,114.4ZM19.2,128.8 19.2,128.5 19.8,128.5 19.8,128.8 19.9,129.8 19.8,130.9 19.2,130.8ZM161.0,128.8 161.2,128.3 161.8,128.3 162.2,129.6 162.3,131.8 161.8,133.1 161.2,133.1 160.8,131.8 160.7,129.8ZM99.2,132.1 98.8,133.0 98.2,135.2 98.1,136.8 98.6,140.8 99.2,141.6 99.8,141.6 100.4,140.8 101.5,135.8 100.7,132.8 100.2,132.2 99.8,131.9ZM20.1,142.2 20.8,141.8 21.6,142.2 21.8,143.2 21.2,144.0 20.8,144.2 20.1,143.8 19.9,143.2Z"/>
<path fill="rgb(255, 232, 20)" d="M104.4,112.2 105.8,112.1 106.8,112.3 108.3,113.2 108.9,114.2 109.2,122.8 110.4,126.2 110.5,133.8 110.7,134.8 111.9,135.8 115.2,137.2 120.8,140.2 121.2,141.2 121.5,142.8 121.4,144.2 120.8,146.2 122.8,150.8 122.8,154.8 123.1,155.2 125.3,157.2 126.8,158.1 128.2,158.4 129.8,158.2 131.2,157.8 131.8,157.2 133.0,153.8 133.3,151.8 134.2,148.8 134.2,146.2 133.7,142.8 134.0,138.2 134.8,135.9 135.2,135.0 135.8,134.7 137.7,135.8 140.8,136.6 142.2,137.8 143.3,139.2 143.6,142.2 143.5,144.2 143.2,145.4 142.1,147.8 143.4,150.8 143.8,154.8 144.2,155.6 145.2,155.9 146.8,155.8 147.8,155.2 150.2,153.0 152.2,152.5 152.8,151.6 153.1,150.2 152.9,149.8 151.6,148.8 149.4,147.8 148.9,147.2 148.5,146.2 148.1,143.2 148.8,140.2 149.2,136.0 150.1,133.2 150.3,129.2 150.9,128.2 152.2,126.9 153.2,126.1 153.8,126.1 155.4,126.8 156.0,127.2 156.2,127.8 156.6,129.8 157.8,131.9 158.2,134.6 159.4,136.8 159.8,141.8 160.2,142.5 161.8,143.0 162.8,143.7 163.7,145.2 164.3,146.8 166.2,148.6 166.6,149.8 166.9,153.2 167.2,154.1 167.8,154.7 169.2,155.1 177.8,155.2 179.2,155.0 181.2,154.1 182.1,153.2 183.8,147.8 184.2,146.9 185.8,145.4 186.8,144.8 187.2,144.2 187.2,143.8 188.2,143.8 190.2,145.8 190.2,146.8 191.2,146.8 192.8,148.8 193.8,151.1 194.2,154.7 194.8,155.6 196.8,156.1 202.8,156.1 205.8,157.8 209.2,158.0 209.8,158.2 211.2,161.2 211.5,162.8 208.2,163.0 203.2,163.1 159.8,163.1 154.2,162.8 149.8,163.1 120.2,162.9 108.2,163.1 104.0,162.8 103.5,161.2 102.8,160.3 102.2,160.4 101.7,161.1 101.5,162.8 99.2,163.1 42.2,162.9 21.2,163.1 19.2,163.0 18.0,162.8 17.5,159.2 17.8,155.8 18.4,154.8 20.2,152.8 21.2,150.1 21.8,149.8 22.8,149.6 26.8,149.4 27.8,148.7 30.2,146.5 31.2,146.4 31.8,146.5 32.2,147.0 33.0,149.2 34.4,151.2 35.2,153.6 35.8,154.2 37.8,154.8 39.8,156.0 41.2,156.2 42.2,156.1 42.4,155.8 42.5,154.8 42.3,145.2 42.1,143.8 41.3,141.8 41.5,140.2 41.8,140.0 42.2,139.9 47.2,139.9 48.2,139.7 48.7,138.9 49.5,136.2 51.6,133.8 51.9,133.2 52.2,131.2 52.7,129.8 53.7,128.3 54.8,127.2 55.8,127.2 56.1,127.8 59.9,130.8 62.2,131.8 63.8,132.8 65.2,134.2 66.2,135.8 66.5,137.2 66.4,140.2 66.2,141.2 65.3,142.8 65.0,143.8 64.9,148.8 65.0,149.2 66.2,151.2 66.8,153.8 68.5,157.2 70.2,159.0 71.2,159.2 73.2,158.3 75.1,157.8 76.1,157.2 78.8,154.7 80.0,153.2 80.3,152.2 80.4,148.2 80.6,146.2 80.9,145.8 82.7,143.8 83.1,142.8 83.4,140.2 83.4,133.8 83.2,132.8 82.3,130.8 82.0,129.8 82.0,123.8 82.3,122.2 83.9,119.2 85.8,117.4 86.8,116.9 95.6,116.2 97.8,115.3 99.1,114.2 100.1,113.8 102.8,113.1ZM187.5,129.8 188.2,129.3 188.8,129.3 190.2,130.1 190.8,131.2 191.0,132.8 190.8,137.2 190.6,138.8 189.8,140.6 188.8,142.1 188.2,142.2 187.2,142.2 187.1,141.8 186.8,141.5 185.8,140.1 185.2,139.0 184.9,137.2 185.9,131.8 186.8,130.4ZM99.2,130.5 98.8,131.0 98.2,132.2 97.6,136.8 98.2,141.0 98.8,142.0 99.2,142.5 99.8,142.5 100.2,142.0 100.8,141.0 101.2,138.4 102.5,136.2 102.6,135.2 102.5,133.8 102.1,132.8 100.2,130.8 99.8,130.4Z"/>
<path fill="rgb(246, 253, 71)" d="M104.4,113.2 105.8,112.8 106.8,113.1 107.3,113.8 107.5,114.8 107.6,120.3 108.3,123.8 109.7,126.2 109.6,127.3 108.6,128.8 108.2,129.6 107.5,133.2 107.5,135.2 107.7,136.2 108.1,136.8 108.8,137.2 112.8,138.3 113.1,138.8 113.8,140.0 114.2,140.5 118.8,141.6 119.6,142.2 119.8,142.8 119.6,143.8 117.7,145.1 117.3,145.8 117.2,146.2 117.3,146.8 117.8,147.4 119.6,148.8 120.0,149.8 119.9,153.2 119.2,154.2 118.2,154.9 117.8,155.8 117.9,156.8 118.2,157.4 118.8,157.8 120.8,158.0 124.2,157.5 126.8,158.6 128.2,158.9 130.8,158.6 131.8,158.2 132.4,157.2 132.6,155.8 133.4,153.8 133.8,151.8 135.0,150.2 135.4,149.2 135.4,146.2 134.8,144.2 134.6,142.8 135.0,138.8 135.8,137.8 136.8,137.4 137.8,137.3 140.2,137.4 141.2,137.8 142.2,138.8 142.6,139.8 142.7,142.2 142.5,143.8 141.8,144.7 139.5,145.8 139.2,146.2 139.0,147.8 139.1,149.2 139.5,149.8 141.8,150.8 142.5,151.8 142.6,153.2 142.1,155.8 142.4,156.8 142.8,157.0 143.8,157.3 147.2,156.9 148.2,156.3 149.2,155.1 150.2,154.7 151.1,155.2 152.0,156.8 152.5,157.2 153.2,157.6 153.8,157.3 154.4,156.2 154.6,152.2 155.2,151.4 156.3,150.8 157.1,149.8 157.9,146.8 158.0,144.8 157.8,144.5 156.2,144.8 155.8,145.1 155.4,145.8 154.7,147.8 153.8,148.5 152.8,148.5 150.0,147.2 149.4,146.8 148.8,144.5 148.6,143.2 149.4,139.8 149.8,136.1 150.8,133.8 151.0,129.2 151.8,128.2 152.8,127.6 153.2,127.5 154.2,127.8 154.7,128.2 155.5,130.8 156.8,131.9 157.2,132.8 158.0,136.8 158.0,144.2 158.2,144.5 161.8,144.6 162.8,145.0 164.1,147.2 165.9,149.2 166.6,153.2 167.0,154.2 167.8,155.1 168.8,155.5 169.8,155.6 177.8,155.6 179.2,155.4 181.8,154.3 182.2,153.8 183.1,151.2 184.2,148.7 184.8,148.4 185.2,148.4 186.5,149.8 187.2,150.2 191.2,151.1 192.1,151.8 192.5,152.8 192.6,155.8 192.7,156.2 193.2,156.9 194.1,157.2 195.2,157.3 203.2,157.1 205.8,158.1 208.2,158.5 209.0,159.2 210.3,161.2 210.8,162.8 203.8,163.0 159.2,163.0 156.8,162.8 156.6,162.2 155.9,161.8 153.8,161.3 153.2,161.5 153.0,161.8 152.7,162.8 150.2,163.0 119.8,162.8 108.2,163.0 104.3,162.8 103.9,161.2 103.2,160.0 102.8,159.5 102.2,159.5 101.8,160.1 101.5,160.8 101.2,162.8 99.2,163.0 58.8,163.0 42.2,162.8 21.2,163.1 18.3,162.8 18.0,158.8 18.5,155.8 19.2,154.8 21.6,153.2 22.4,151.8 22.8,151.4 23.8,151.1 26.2,151.0 27.2,150.7 27.9,150.2 29.2,148.6 30.2,148.2 30.8,148.4 31.9,149.8 33.8,151.1 34.2,151.9 34.8,153.8 35.2,154.4 37.6,155.8 38.8,157.4 40.7,158.8 41.8,160.4 42.2,160.6 42.8,160.6 43.2,160.4 44.8,158.4 45.8,158.1 46.8,158.4 48.2,159.9 48.8,160.0 49.2,159.8 49.8,156.8 49.8,149.2 50.5,145.8 50.6,136.8 51.1,135.8 52.9,134.2 53.8,132.4 54.2,131.9 57.8,130.9 59.2,131.1 62.2,132.6 62.9,133.2 63.4,134.2 65.2,135.5 65.6,136.2 65.8,137.2 65.8,140.0 65.2,141.1 64.2,141.8 63.8,142.8 63.6,146.8 63.2,149.3 63.7,150.2 65.5,151.8 67.8,157.6 69.8,159.7 70.8,160.2 71.8,160.0 73.8,158.8 77.8,157.8 78.4,157.2 79.6,155.2 81.0,153.8 81.3,152.8 81.4,149.2 81.6,147.8 82.2,145.8 83.4,144.2 83.8,143.2 84.1,139.8 84.1,133.8 83.8,132.2 83.0,130.8 82.7,129.8 82.8,122.7 85.2,118.8 85.8,118.3 86.8,117.9 89.8,117.6 93.8,117.6 97.1,118.8 97.8,119.5 98.0,120.8 98.0,129.2 97.4,132.2 97.1,136.2 97.8,140.8 98.7,143.2 99.2,146.2 99.8,146.7 100.2,145.8 100.4,143.2 101.1,141.2 101.5,138.8 102.2,137.7 103.5,136.8 103.8,136.2 104.0,135.2 104.0,133.8 103.7,132.8 103.2,132.1 101.8,130.9 101.2,130.3 100.5,127.8 100.4,126.2 100.9,123.2 101.0,121.2 100.9,119.8 100.4,117.8 100.4,116.2 100.8,115.3 101.2,114.8 103.2,114.1ZM187.0,131.2 187.8,130.9 188.8,131.0 189.7,131.8 190.1,132.8 190.1,134.2 189.4,136.8 188.8,137.6 188.2,137.8 187.2,137.8 186.8,137.6 186.1,136.8 186.1,132.8 186.5,131.8ZM45.0,141.8 46.2,141.7 47.1,142.2 47.9,144.2 48.2,145.8 48.1,150.2 47.4,153.2 46.8,154.1 45.8,154.4 44.8,154.1 44.2,153.5 43.4,149.8 43.5,144.8 44.2,142.4Z"/>
<path fill="rgb(187, 255, 46)" d="M102.0,115.2 103.8,115.0 104.8,115.0 105.4,115.2 105.6,115.8 105.7,116.8 105.5,119.2 107.2,121.8 107.8,124.2 108.7,126.2 108.6,127.2 107.8,128.8 107.2,131.2 106.2,132.6 105.8,132.9 104.8,132.2 102.8,130.2 101.7,128.6 101.2,127.2 101.2,125.8 102.4,123.2 102.8,120.7 102.7,120.2 101.3,118.2 101.1,117.2 101.2,116.0ZM88.5,118.2 91.2,118.1 93.8,118.2 94.8,118.6 95.6,119.2 96.3,120.2 96.5,123.8 96.3,136.2 97.2,138.8 97.5,141.2 98.6,146.8 99.2,147.6 99.8,147.7 100.2,147.4 100.8,146.8 101.1,142.8 102.0,138.8 102.8,138.0 105.2,136.4 105.8,136.2 106.2,136.4 108.2,137.7 110.1,138.2 111.1,138.8 113.2,140.9 114.3,141.3 116.5,141.8 117.5,142.2 117.9,142.8 118.0,143.2 117.7,143.8 115.8,145.8 115.7,146.2 115.8,146.8 117.7,148.8 118.4,149.8 118.5,152.2 118.2,153.3 117.2,154.9 117.1,156.8 117.8,158.1 119.8,160.6 120.2,160.7 122.4,158.8 123.8,158.2 124.8,158.2 126.8,159.3 127.8,159.6 131.2,159.5 132.4,159.2 132.9,158.8 133.2,155.2 134.6,152.2 135.8,150.8 137.2,149.5 139.2,150.7 141.0,151.2 141.8,152.0 141.9,152.8 141.8,153.8 140.6,156.2 140.6,157.2 140.8,157.8 141.2,158.0 143.2,158.0 147.2,157.5 149.8,156.4 150.2,156.4 151.2,157.1 153.2,158.9 153.8,158.7 155.6,156.8 155.9,155.8 156.1,152.8 157.6,150.2 158.8,147.4 159.8,146.4 161.2,146.1 162.2,146.3 162.8,146.6 164.9,148.8 165.8,150.4 166.3,153.2 166.7,154.2 167.8,155.6 168.8,156.1 177.2,156.2 179.2,155.9 182.2,154.3 182.8,153.6 183.2,151.8 183.8,150.7 184.8,149.8 185.2,149.9 186.8,150.7 189.2,151.3 190.6,152.2 191.0,153.2 191.5,156.2 191.8,156.8 192.8,157.5 193.8,157.9 195.2,158.0 200.2,158.0 203.2,157.7 205.8,158.5 207.3,158.8 208.3,159.3 209.6,161.8 209.9,162.8 203.2,163.0 159.2,163.0 157.3,162.8 157.0,161.8 156.5,161.2 153.2,160.1 152.5,161.2 152.2,162.8 150.8,163.0 127.8,162.9 119.8,162.8 108.2,163.0 104.6,162.8 104.3,161.2 103.3,159.2 102.8,158.8 102.2,158.7 101.8,159.0 101.4,159.8 101.0,162.8 99.2,163.0 69.8,162.9 58.8,163.0 42.2,162.8 21.8,163.0 18.6,162.8 18.4,158.8 19.0,156.2 19.5,155.2 20.2,154.7 22.2,153.9 23.8,152.9 26.8,152.5 29.2,150.3 29.8,150.0 30.2,149.9 33.2,151.3 33.8,151.9 34.3,153.8 35.2,155.2 42.2,162.1 42.8,162.1 44.7,160.3 45.8,159.8 48.0,160.8 49.4,160.8 49.8,160.4 50.0,159.8 50.4,156.8 50.6,149.2 51.8,145.8 52.1,136.8 52.8,135.8 55.8,132.8 57.2,131.8 58.2,131.6 59.8,132.0 61.2,133.2 62.2,136.3 63.1,137.8 63.0,146.2 62.8,147.2 62.1,149.2 62.3,149.8 64.5,152.2 65.8,154.4 66.2,155.3 66.8,157.2 67.8,158.9 68.9,160.2 69.8,160.7 70.8,160.9 71.8,160.7 74.2,159.6 77.8,159.0 80.2,156.8 81.7,154.2 82.0,152.8 82.2,148.8 84.2,143.5 84.6,139.8 84.6,133.8 84.4,132.2 83.4,129.8 83.4,124.2 83.6,122.8 85.1,119.8 85.8,119.0 86.8,118.5ZM153.0,128.2 153.8,128.4 154.1,128.8 154.8,131.2 155.9,133.2 156.4,141.2 156.3,142.8 154.8,145.2 154.2,147.0 153.8,147.6 152.8,147.8 151.4,147.2 150.3,146.2 149.2,144.3 149.0,143.2 149.1,142.2 150.0,140.2 150.4,136.8 151.4,134.2 151.7,129.2 152.2,128.5ZM187.4,131.8 188.2,131.7 188.8,131.9 189.2,132.5 189.4,133.2 189.3,134.2 188.9,135.2 188.2,136.0 187.8,136.2 187.2,136.0 186.8,135.2 186.5,133.8 186.8,132.3ZM136.5,138.2 138.2,138.0 140.8,138.2 141.2,138.5 141.8,139.2 142.0,140.2 141.9,142.8 141.6,143.8 141.1,144.2 139.8,144.8 137.8,146.1 137.2,146.2 136.8,146.1 135.8,144.9 135.1,143.2 135.6,139.2 135.9,138.8ZM45.0,143.8 45.8,143.3 46.2,143.5 47.2,144.8 47.4,145.8 47.3,150.2 46.8,151.5 46.2,152.1 45.8,152.3 45.2,152.1 44.8,151.5 44.1,149.8 44.1,145.8 44.3,144.8Z"/>
<path fill="rgb(75, 232, 25)" d="M102.1,116.2 102.8,115.9 103.6,116.2 103.8,117.2 103.2,118.0 102.8,118.2 102.1,117.8 101.9,116.8ZM88.5,118.8 90.2,118.5 93.2,118.6 94.6,119.2 95.1,120.2 95.5,123.2 95.5,136.2 95.7,137.2 96.8,139.1 97.0,141.2 98.1,146.8 98.8,147.9 99.8,148.4 100.7,147.8 101.2,147.2 101.6,146.2 101.7,142.8 102.3,139.2 103.2,138.4 105.2,137.5 106.8,137.6 109.8,139.0 111.1,140.8 111.8,141.3 113.8,142.0 115.8,142.3 116.4,142.8 116.6,143.2 116.3,143.8 115.8,144.2 114.2,144.9 113.8,145.5 113.7,146.2 114.1,147.2 116.2,148.6 116.9,149.8 117.0,152.8 116.4,155.2 116.4,156.2 117.5,159.2 117.7,162.8 110.8,163.0 105.1,162.8 104.9,161.8 103.8,159.1 103.2,158.5 102.2,158.2 101.8,158.3 101.3,158.8 101.1,159.2 100.8,162.8 99.8,162.9 89.2,163.0 70.2,162.8 54.8,162.9 52.7,162.8 52.2,162.1 51.8,161.8 50.7,161.7 50.6,161.8 50.5,162.8 44.1,162.8 44.8,161.6 45.8,161.1 49.2,161.7 50.2,161.7 50.5,161.2 50.6,158.8 51.1,156.2 51.2,149.8 51.4,148.8 52.7,146.8 53.4,143.2 53.6,136.8 54.2,135.6 56.2,134.4 57.4,132.8 58.2,132.4 59.4,132.8 60.1,133.8 60.6,136.2 60.1,139.8 60.6,140.8 61.8,141.8 62.3,142.8 62.2,146.6 62.0,147.2 61.0,148.8 61.0,149.8 62.8,151.2 63.5,152.2 64.1,153.8 65.4,155.2 66.1,157.2 67.8,160.5 69.2,161.4 70.8,161.6 71.8,161.4 73.8,160.5 77.8,160.2 78.7,159.8 79.8,158.5 81.2,157.4 81.8,156.8 82.5,154.2 82.8,149.2 83.9,146.8 84.6,143.8 85.0,140.2 85.0,133.2 84.1,129.8 84.1,123.2 84.6,121.8 85.9,119.8 86.6,119.2ZM105.1,121.8 105.8,121.7 106.5,122.2 108.0,126.2 107.8,127.2 106.7,130.2 106.2,131.0 105.8,131.3 105.2,131.2 104.6,130.8 103.4,128.8 102.2,127.7 101.8,126.7 101.8,126.2 102.2,125.3 103.4,124.2 104.4,122.2ZM152.7,129.2 153.2,129.2 153.7,129.8 154.4,132.8 154.5,136.2 155.1,138.8 155.2,140.8 155.1,142.8 154.9,143.8 153.8,146.3 153.2,146.9 152.8,147.0 151.8,146.4 150.0,144.2 149.6,143.2 149.7,142.2 150.8,140.3 151.0,138.2 152.0,134.8 152.2,130.2ZM187.3,132.8 187.8,132.5 188.4,132.8 188.6,133.8 188.2,134.4 187.8,134.6 187.3,134.2 187.1,133.2ZM137.3,138.8 139.8,138.7 140.8,139.0 141.2,139.8 141.3,141.8 141.2,142.8 140.8,143.6 138.2,144.9 137.2,145.0 136.8,144.9 136.0,144.2 135.6,142.8 136.2,139.7 136.8,139.0ZM45.1,145.2 45.8,144.8 46.2,145.0 46.8,146.2 46.8,149.4 46.2,150.5 45.8,150.7 45.1,150.2 44.7,149.2 44.7,146.2ZM161.4,147.2 162.8,147.3 163.8,148.0 164.4,148.8 165.5,151.2 166.1,153.8 167.2,155.7 168.2,156.6 169.2,156.8 176.8,156.8 179.2,156.5 182.2,154.8 183.0,153.8 183.8,151.4 184.2,150.9 185.2,150.7 188.2,151.8 189.1,152.2 190.1,154.2 190.7,156.8 191.1,157.2 192.0,157.8 193.8,158.5 194.8,158.6 200.2,158.6 203.2,158.1 204.2,158.3 207.2,159.2 207.8,159.7 208.8,161.8 209.1,162.8 203.8,162.9 184.2,163.0 160.2,163.0 157.6,162.8 157.2,161.2 156.8,160.7 155.1,159.8 154.9,159.2 155.2,158.6 156.8,157.2 157.0,156.2 157.2,152.2 158.8,149.0 159.8,147.9ZM30.0,151.2 32.2,151.6 33.2,152.2 35.8,157.6 37.4,158.8 38.5,160.2 40.4,161.8 40.9,162.8 22.2,163.0 18.8,162.7 18.8,158.8 20.0,155.8 20.8,155.2 23.2,154.6 26.8,154.5 27.5,154.2 28.1,153.8 29.1,151.8ZM136.8,151.2 138.2,151.2 140.8,152.0 141.2,152.7 141.0,153.8 139.4,155.2 138.8,157.0 138.2,157.6 136.8,158.0 134.2,157.8 133.8,157.4 133.6,156.8 133.8,155.5 135.2,153.8 136.1,151.8ZM149.7,157.2 150.8,157.4 152.1,158.8 152.3,159.8 151.8,162.8 148.2,163.0 123.0,162.8 123.2,159.8 123.5,159.2 124.2,158.9 125.2,159.2 126.2,159.9 127.2,160.3 131.8,160.4 134.8,161.0 139.8,161.0 140.8,160.7 141.2,160.4 142.2,159.2 143.0,158.8Z"/>
<path fill="rgb(12, 232, 90)" d="M88.6,119.2 90.2,119.0 92.8,119.0 93.8,119.3 94.5,120.2 94.9,123.2 95.0,136.8 96.0,139.2 96.4,142.8 97.2,144.7 97.7,146.8 98.2,148.0 99.2,149.2 99.8,149.5 102.0,147.2 102.5,145.8 102.9,140.2 103.3,139.2 104.8,138.3 105.8,138.1 106.8,138.3 108.3,139.2 112.2,143.2 112.3,143.8 112.1,145.8 112.4,146.8 115.1,149.8 115.4,151.8 115.4,156.2 116.9,159.2 117.0,162.8 110.8,163.0 105.8,162.8 105.5,161.8 104.0,158.8 102.8,157.8 101.8,157.7 101.2,157.8 100.8,158.5 100.6,162.8 100.2,162.8 96.8,163.0 89.2,163.0 71.0,162.8 72.4,161.8 73.8,161.1 77.8,160.9 79.2,160.4 80.8,159.2 83.0,156.8 83.2,155.4 83.5,149.8 84.4,147.2 85.4,139.8 85.4,133.2 84.6,129.2 84.6,123.2 84.9,122.2 85.8,120.9 86.8,120.1ZM104.8,124.2 105.2,123.9 105.8,123.8 106.8,124.9 107.3,126.2 107.0,127.8 105.8,129.2 105.2,129.1 104.7,128.7 103.1,126.8 103.1,126.2 103.3,125.7ZM57.9,134.2 58.2,134.0 58.8,134.0 59.2,134.5 59.7,135.2 59.9,136.2 59.8,137.2 58.5,139.8 60.7,142.2 61.2,143.2 61.2,146.2 60.2,148.5 60.2,149.8 60.8,150.5 62.5,151.8 63.3,153.8 66.0,158.2 67.0,160.8 68.5,162.8 60.8,162.9 53.4,162.8 53.0,161.8 51.5,160.8 51.1,160.2 51.1,158.8 51.9,156.2 52.0,150.2 52.2,149.2 53.2,147.2 53.8,144.8 55.2,142.2 55.8,139.8 55.4,137.8 55.5,136.8 56.3,135.8ZM152.5,137.2 152.8,137.0 153.2,137.0 153.8,137.5 154.3,138.8 154.5,140.2 154.4,142.8 154.2,143.6 153.8,144.6 153.3,145.2 152.8,145.4 152.2,145.2 150.9,143.8 150.6,142.8 151.4,140.8 151.8,138.5ZM137.3,140.2 138.2,140.0 139.4,140.2 139.9,140.8 140.2,141.8 140.1,142.8 139.7,143.2 138.8,144.0 137.8,144.3 136.8,144.2 136.1,143.2 136.2,141.7 136.8,140.8ZM161.9,147.8 162.8,147.8 163.9,148.8 164.4,149.8 165.6,153.8 167.1,156.2 167.6,156.8 168.2,157.0 177.8,157.2 180.2,156.8 181.2,156.2 182.2,155.4 183.4,153.8 184.1,151.8 184.8,151.3 185.3,151.3 188.8,153.5 189.6,154.8 190.3,157.2 190.8,157.8 193.8,159.4 195.2,159.7 199.2,159.6 200.8,159.3 202.8,158.6 203.8,158.6 204.8,158.9 207.2,160.3 208.2,161.8 208.4,162.8 184.2,163.0 160.2,162.9 158.0,162.8 157.7,161.2 156.6,159.2 157.5,156.8 157.7,152.2 158.2,151.0 160.0,148.8 160.8,148.1ZM99.8,150.2 99.2,150.5 98.8,151.8 98.7,152.8 99.2,154.5 99.8,155.0 100.2,154.5 100.5,152.8 100.2,150.9ZM30.8,153.2 31.8,153.0 32.2,153.1 33.2,153.9 34.2,155.6 34.8,157.6 35.2,158.5 38.2,161.2 39.4,162.8 22.2,163.0 19.0,162.8 19.2,158.8 19.8,157.4 20.2,156.8 20.8,156.5 21.8,156.2 27.2,156.2 28.8,156.0 29.2,155.8 29.7,155.2 30.2,153.9ZM149.6,157.8 150.8,158.0 151.2,158.4 151.7,159.2 151.5,162.8 148.2,162.9 140.2,162.8 142.7,160.3 144.2,159.2 145.2,158.7ZM124.9,161.2 125.8,161.0 131.2,161.1 133.1,161.8 134.2,162.8 124.5,162.8 124.7,161.8Z"/>
<path fill="rgb(0, 238, 204)" d="M89.1,119.8 91.2,119.5 93.2,119.7 93.8,120.2 94.2,121.5 94.5,123.8 94.6,136.8 95.4,139.8 95.6,143.2 96.8,145.2 97.4,147.2 98.5,149.8 98.4,153.2 99.2,156.6 100.0,158.8 100.3,162.8 96.8,163.0 72.7,162.8 73.2,162.1 74.2,161.8 78.2,161.6 80.8,160.8 81.4,160.2 83.8,157.2 84.0,156.2 84.2,151.2 84.9,147.2 85.4,142.2 86.0,139.2 85.9,133.2 85.0,129.8 85.1,123.2 85.3,122.2 85.8,121.6 86.2,121.2 87.8,120.6ZM104.6,125.8 105.2,125.3 105.8,125.3 106.2,125.6 106.6,126.2 106.6,126.8 106.2,127.4 105.8,127.7 105.2,127.7 104.8,127.4 104.4,126.8 104.4,126.2ZM57.7,135.8 58.2,135.5 58.9,135.8 59.1,136.8 58.8,137.4 58.2,137.7 57.5,137.2 57.3,136.8ZM152.7,138.8 153.2,138.7 153.6,139.2 153.8,140.8 153.6,143.2 153.2,143.8 152.8,144.0 152.2,143.8 151.7,142.8 152.2,139.7ZM104.6,139.2 105.8,138.8 106.8,139.1 107.3,139.8 107.8,140.8 109.8,142.1 110.2,142.8 110.8,146.8 111.2,147.4 112.9,148.8 113.9,150.8 114.1,152.2 114.2,156.4 114.6,157.2 115.8,158.5 116.2,159.2 116.3,162.8 110.8,162.9 106.5,162.8 106.2,161.6 104.4,158.8 103.2,157.6 101.4,156.8 101.1,156.2 101.1,149.8 101.7,148.8 102.8,147.7 103.2,146.8 104.0,142.8 104.1,140.2ZM137.7,141.8 138.5,142.2 138.6,142.8 138.2,143.3 137.2,143.5 136.9,143.2 136.8,142.6 137.2,141.8ZM57.4,142.2 58.3,141.8 58.8,141.8 59.7,142.8 60.0,143.8 60.0,145.8 59.4,148.8 59.5,149.8 60.2,150.8 62.0,152.2 63.4,155.2 64.0,157.2 65.2,158.5 65.7,159.3 67.1,162.8 54.1,162.8 53.3,161.2 52.0,160.2 51.7,159.8 51.7,158.8 52.6,157.2 52.8,156.3 53.0,149.2 54.5,145.2 55.0,144.8 56.2,144.1 56.6,143.8ZM161.7,148.2 162.8,148.3 163.2,148.6 163.8,149.2 164.9,153.8 166.4,156.2 166.8,156.8 167.8,157.3 169.2,157.5 178.2,157.5 181.2,156.9 182.3,156.2 184.6,152.2 185.2,152.2 186.8,153.5 188.8,154.4 189.3,155.2 189.7,157.2 190.2,158.1 192.1,159.2 193.8,160.8 195.2,161.0 197.8,160.9 200.8,160.2 202.8,159.2 203.8,159.1 204.8,159.6 207.2,161.5 207.8,162.8 184.2,162.9 158.3,162.8 157.5,159.2 158.0,156.8 158.1,152.2 158.8,151.1 159.8,150.2 160.9,148.8ZM31.9,155.2 32.2,155.0 32.8,154.9 33.2,155.2 33.8,156.2 34.0,157.8 34.7,159.8 35.2,160.4 37.2,161.6 37.9,162.8 22.2,162.9 19.2,162.8 19.4,159.2 19.8,158.3 20.2,157.7 21.3,157.4 22.8,157.3 24.2,157.4 26.8,158.0 30.2,157.9 31.1,157.2ZM149.1,158.2 150.2,158.2 150.8,158.5 151.2,159.1 151.4,160.2 151.2,162.7 142.1,162.8 142.8,161.6 145.7,159.2ZM127.3,161.8 131.0,161.8 131.8,162.0 132.3,162.8 126.1,162.8 126.3,162.2Z"/>
<path fill="rgb(0, 216, 250)" d="M89.2,120.8 90.8,120.3 92.8,120.5 93.2,120.9 93.9,122.2 94.1,123.8 94.1,136.2 94.8,139.2 95.0,143.2 96.4,146.8 97.8,149.2 98.1,153.8 98.8,157.2 99.8,160.8 100.0,162.8 96.8,163.0 80.3,162.8 83.2,159.6 84.2,157.8 84.5,156.8 84.6,151.8 85.4,147.2 85.7,142.8 86.7,139.8 87.0,136.2 86.9,133.2 85.8,131.1 85.5,129.8 85.5,123.2 85.8,122.4 86.2,121.8ZM105.9,142.8 106.2,142.6 107.2,142.9 108.5,143.8 109.4,146.8 112.2,149.8 113.2,151.2 113.5,152.8 113.6,156.8 115.1,159.8 115.2,162.8 110.8,162.9 107.0,162.8 106.8,161.2 106.2,160.2 102.5,156.2 101.9,155.2 101.5,153.2 101.7,150.8 103.7,147.8 104.2,145.2 104.6,144.2 105.2,143.3ZM55.2,146.8 56.2,146.3 57.2,146.3 57.8,146.6 58.6,149.8 60.8,152.2 62.2,154.4 62.8,155.3 63.3,157.8 63.8,158.6 65.8,160.9 66.2,161.8 66.5,162.8 55.2,162.8 54.6,161.8 52.8,159.8 52.6,159.2 53.3,157.2 53.5,156.2 53.6,149.2 54.2,147.9ZM162.0,148.8 162.8,148.8 163.3,149.2 164.3,154.2 165.5,156.2 166.8,157.2 168.2,157.7 169.8,157.7 178.2,157.7 181.2,157.3 182.7,156.8 184.2,154.1 184.8,153.7 185.2,153.7 188.2,154.8 188.7,155.2 189.2,157.3 189.8,158.4 194.2,162.8 184.2,162.9 158.7,162.8 158.1,159.2 158.6,152.2 159.2,151.3 160.2,150.7 161.3,149.2ZM20.6,158.2 21.8,158.0 24.2,158.2 26.2,159.2 27.2,159.5 30.2,159.5 32.2,159.2 32.8,159.3 36.0,162.8 22.2,162.9 19.4,162.8 19.8,159.4 20.0,158.8ZM149.0,158.8 150.2,158.7 150.8,159.2 151.0,160.2 150.8,162.8 143.6,162.8 144.3,161.8 145.8,160.3ZM202.7,160.2 203.8,160.1 204.2,160.4 205.7,161.8 206.4,162.8 197.3,162.8 198.4,161.8 199.2,161.3 201.6,160.8Z"/>
<path fill="rgb(0, 173, 255)" d="M89.2,121.8 90.8,121.5 92.2,121.6 92.7,121.8 93.2,122.2 93.4,122.8 93.5,135.8 94.4,139.2 94.6,143.2 95.7,147.2 96.9,148.8 97.3,149.8 98.5,157.8 99.7,162.8 96.8,162.9 82.1,162.8 82.6,161.8 84.0,160.2 84.8,158.0 85.0,156.2 85.0,152.2 85.9,147.8 86.2,142.8 87.3,140.8 88.5,135.8 88.5,133.8 88.2,132.8 87.8,132.1 86.7,131.2 86.1,130.2 86.0,128.2 86.1,123.2 86.3,122.8 86.8,122.4ZM105.7,144.8 106.4,144.8 107.1,145.2 107.9,147.2 109.8,148.6 110.8,150.2 112.5,151.8 112.8,152.8 113.0,156.8 114.1,159.8 114.2,162.8 107.5,162.8 107.3,161.2 106.8,159.5 106.2,158.9 104.8,157.9 104.1,157.2 102.2,154.0 102.0,152.8 102.2,151.8 103.8,149.8 104.5,147.8 104.8,145.8 105.2,145.0ZM55.3,148.2 55.9,148.2 56.6,148.8 57.3,150.2 59.3,151.8 60.3,153.8 61.8,155.0 62.2,155.8 62.5,157.8 63.2,160.1 63.8,160.7 65.2,161.5 65.8,162.8 57.0,162.8 56.8,162.0 56.2,161.4 54.3,160.2 53.7,159.2 54.1,156.8 54.2,149.8 54.6,148.8ZM161.9,149.8 162.2,149.5 162.8,149.8 163.6,154.8 164.1,156.2 164.8,156.9 168.2,157.9 179.2,157.9 181.8,157.6 182.9,157.2 183.4,156.8 184.2,155.2 184.8,154.9 185.2,154.8 187.2,155.2 188.3,155.8 188.9,158.2 189.8,160.2 190.2,160.7 191.8,161.6 192.4,162.8 159.1,162.8 158.7,159.2 159.1,152.8 159.2,152.2 160.8,151.2ZM21.1,158.8 23.8,158.8 24.7,159.2 25.8,160.4 26.8,160.9 32.8,161.1 33.9,161.8 34.4,162.8 19.7,162.8 19.8,161.2 20.2,159.5 20.8,158.9ZM148.7,159.8 149.8,159.3 150.2,159.6 150.4,160.2 150.3,162.8 145.1,162.8 145.8,161.6 147.8,160.7ZM202.8,161.2 203.8,161.3 204.2,161.6 204.9,162.8 199.2,162.8 199.5,162.2 200.2,161.8Z"/>
<path fill="rgb(2, 122, 250)" d="M87.9,123.8 89.2,123.4 90.8,123.3 91.8,123.5 92.2,124.1 92.7,126.2 92.6,130.8 92.2,132.5 91.8,133.6 91.2,134.0 87.8,130.8 87.1,129.8 87.1,125.8 87.2,124.6ZM91.2,135.2 91.8,135.4 92.2,136.1 93.2,137.5 93.9,138.8 94.3,143.8 95.2,147.6 97.1,151.2 98.5,159.8 99.3,162.8 96.8,162.9 83.4,162.8 84.7,160.2 85.2,158.2 85.5,152.2 85.8,151.2 86.6,149.2 87.0,142.8 87.8,141.1 88.2,138.8 88.6,137.8 89.8,136.4ZM106.0,149.2 106.2,149.1 106.8,149.2 108.2,149.9 109.7,152.2 111.2,153.4 112.1,156.8 113.4,159.2 113.5,162.8 107.9,162.8 107.5,159.8 107.1,158.8 106.6,158.2 105.2,157.7 104.3,156.8 103.0,153.2 103.0,152.2 103.8,151.2ZM184.7,156.8 185.8,156.5 186.7,156.8 187.1,157.2 187.6,158.8 188.0,161.2 188.5,162.8 161.6,162.8 161.3,161.8 161.1,158.8 161.2,158.0 161.8,157.6 165.2,157.6 168.8,158.2 178.8,158.2 182.8,157.8ZM21.5,159.8 22.8,159.7 23.8,160.0 26.8,162.8 20.0,162.8 20.2,161.1 20.8,160.2Z"/>
<path fill="rgb(8, 68, 240)" d="M89.6,125.2 90.2,125.2 90.8,125.4 91.2,126.0 91.4,126.8 91.3,130.2 90.8,131.1 90.2,131.2 89.8,131.2 89.1,130.8 88.8,130.2 88.5,129.2 88.7,126.2 88.9,125.8ZM89.5,137.8 90.2,137.5 91.8,137.6 92.8,138.1 93.2,138.8 93.5,139.8 93.7,143.2 94.3,145.2 94.7,147.2 95.5,149.8 96.8,152.1 97.6,155.8 98.1,159.8 98.8,162.8 84.4,162.8 85.7,159.2 85.9,157.2 86.1,152.2 87.4,149.8 87.7,142.8 88.7,138.8ZM105.4,151.2 106.2,151.2 107.1,151.8 107.9,153.8 110.1,155.2 110.8,157.2 112.4,158.8 112.8,159.8 112.8,162.8 108.5,162.8 108.1,159.2 107.8,158.3 107.2,157.8 105.2,156.9 104.8,156.1 104.1,152.8 104.6,151.8ZM164.3,158.2 165.2,158.1 168.8,158.5 177.8,158.5 184.8,158.2 185.2,158.4 185.9,159.2 186.0,162.8 182.9,162.8 182.7,162.2 182.2,161.9 181.2,161.7 165.2,161.6 164.2,161.2 163.5,160.2 163.5,159.2 163.7,158.8ZM21.1,161.2 22.2,161.0 23.8,161.3 24.4,161.8 24.9,162.8 20.4,162.8 20.7,161.8Z"/>
<path fill="rgb(35, 23, 229)" d="M90.0,138.2 90.8,138.2 91.8,138.6 92.4,139.2 92.6,139.8 93.0,143.2 93.9,145.2 95.2,150.8 97.1,155.2 97.6,159.8 98.4,162.8 85.0,162.8 85.3,161.8 86.5,159.8 86.7,158.8 86.9,152.8 87.8,150.8 88.0,149.8 88.2,142.8 89.2,138.8ZM164.7,158.8 165.8,158.6 169.2,158.9 182.2,158.7 183.9,159.2 184.2,159.8 184.3,160.2 184.0,160.8 183.2,161.0 165.8,160.9 165.0,160.8 164.4,160.2 164.3,159.2Z"/>
<path fill="rgb(95, 0, 229)" d="M89.8,139.2 90.2,139.0 90.8,139.1 91.2,139.5 91.6,140.2 92.2,143.3 93.3,145.2 94.3,148.8 95.3,153.2 96.7,155.8 97.0,159.2 98.0,162.8 85.7,162.8 86.1,161.8 87.2,160.6 87.8,159.5 87.9,152.8 88.5,149.2 88.5,143.2 88.8,142.1ZM165.6,159.2 169.8,159.5 180.8,159.3 181.8,159.5 182.2,159.8 181.8,160.0 180.8,160.2 166.5,160.2 165.8,160.1 165.2,159.8Z"/>
<path fill="rgb(175, 0, 255)" d="M89.7,141.2 90.2,140.8 90.8,141.1 91.2,141.8 91.8,144.2 93.8,148.4 94.7,153.8 95.8,156.2 96.1,159.2 97.2,161.5 97.5,162.8 87.1,162.8 88.2,160.8 88.4,159.8 88.5,152.8 88.9,149.8 89.0,143.2 89.2,142.0Z"/>
<path fill="rgb(228, 0, 255)" d="M89.7,142.8 90.2,142.3 90.6,142.8 91.8,147.1 93.2,148.9 93.9,153.8 94.5,156.2 94.6,159.8 95.2,160.7 96.2,161.3 96.7,161.8 97.0,162.8 88.5,162.8 89.1,159.8 89.2,152.8Z"/></g></g>
<g transform="translate(314.0,9.5)" clip-path="url(#clipB)"><rect width="229.6" height="168.6" fill="#e00000"/><g filter="url(#bl)"><path fill="rgb(228, 6, 0)" d="M88.9,1.2 89.8,0.9 90.2,1.0 90.8,1.6 91.5,3.2 91.9,5.8 91.9,8.2 91.4,10.8 90.8,12.0 90.2,12.6 89.8,12.7 89.2,12.6 88.8,12.2 88.2,11.3 87.8,9.8 87.5,7.8 87.5,5.8 87.8,3.8 88.2,2.3ZM104.6,15.2 105.2,15.1 105.8,15.3 106.4,16.2 106.7,17.8 106.6,19.2 106.3,20.2 105.8,21.1 105.2,21.3 104.8,21.3 104.2,20.8 103.7,19.8 103.5,18.8 103.6,16.8 104.1,15.8ZM90.2,16.8 90.8,16.9 91.5,17.8 91.8,18.8 92.0,20.2 91.8,21.8 91.4,22.8 90.8,23.5 90.2,23.7 89.8,23.6 89.0,22.8 88.6,21.8 88.4,20.2 88.6,18.8 88.9,17.8 89.8,16.8ZM89.9,48.8 90.8,48.5 91.8,48.6 92.8,49.2 93.8,50.4 94.5,51.8 95.1,53.8 95.8,57.8 95.7,62.2 94.8,66.5 94.0,68.2 93.2,69.3 92.2,70.2 91.2,70.5 89.8,70.2 88.8,69.3 88.0,68.2 86.9,65.2 86.2,61.2 86.3,57.2 87.0,53.2 88.2,50.4 89.2,49.2ZM104.2,50.2 104.8,49.8 105.3,49.8 105.8,50.0 106.6,51.2 107.0,53.2 107.1,55.2 106.7,57.2 106.2,58.2 105.8,58.8 105.2,59.0 104.8,59.0 104.0,58.2 103.5,57.2 103.2,55.8 103.2,52.8 103.6,51.2ZM190.0,60.2 190.8,59.8 191.2,59.8 192.0,60.2 192.3,60.8 192.4,61.8 191.8,63.0 190.8,63.2 190.0,62.8 189.6,61.8 189.7,60.8ZM103.0,71.2 104.2,71.0 106.8,71.0 107.5,71.2 108.1,71.8 108.5,73.2 108.4,76.2 107.7,77.1 106.2,78.0 105.9,78.8 105.8,79.2 106.2,80.0 107.8,80.5 108.7,81.2 109.5,83.8 111.2,85.2 112.0,87.8 112.1,89.8 111.7,90.8 111.2,91.2 108.9,92.2 108.1,93.8 107.2,94.3 106.2,94.3 105.8,94.1 104.6,92.2 102.3,91.2 101.5,90.2 100.9,88.2 99.8,87.2 99.2,86.2 99.4,85.2 100.8,84.0 101.2,82.9 101.4,74.8 102.1,72.2 102.4,71.8ZM46.7,72.2 47.2,71.9 47.8,72.1 48.2,73.0 48.7,74.8 48.9,76.8 48.7,83.8 48.2,85.6 47.8,86.4 47.2,86.8 46.8,86.8 46.2,86.4 45.8,85.6 45.4,84.2 45.1,82.2 45.2,80.2 45.7,78.2 45.9,74.8 46.2,73.2ZM163.0,72.2 163.2,71.9 163.8,72.4 164.2,74.2 164.8,78.2 165.4,87.2 165.7,97.8 165.5,108.2 165.0,117.2 164.2,122.8 163.8,124.6 163.2,125.1 162.8,124.4 162.2,122.3 161.6,117.2 161.1,108.8 160.9,99.3 161.1,89.8 161.5,81.2 162.2,74.7ZM84.1,74.2 84.8,74.2 85.2,74.4 85.8,75.0 85.9,75.8 86.1,79.2 86.6,80.2 87.2,80.8 88.8,81.4 89.2,81.9 90.1,83.8 91.8,84.8 93.1,86.8 94.8,87.8 95.4,88.8 96.1,92.2 96.1,103.2 95.4,106.8 94.8,107.6 94.2,107.9 91.2,108.0 90.5,107.8 89.9,107.2 88.5,102.2 87.8,101.8 86.3,101.2 85.8,100.8 84.9,98.8 83.8,97.7 83.1,96.8 82.4,93.2 82.3,82.8 83.0,79.2 83.1,75.2 83.4,74.8ZM59.3,89.2 60.8,89.1 61.8,89.2 63.0,89.8 63.9,90.8 64.3,91.8 64.3,92.8 63.9,93.8 62.8,94.8 61.2,95.3 59.8,95.3 58.2,94.7 57.3,93.8 56.9,92.8 57.0,91.2 57.8,90.1ZM127.7,90.8 128.2,90.5 129.2,90.6 129.9,91.2 130.3,92.2 130.3,93.2 130.0,94.2 129.2,95.0 128.8,95.1 128.2,95.1 127.6,94.8 127.2,94.2 126.9,93.2 127.0,91.8ZM106.0,98.2 107.2,98.2 108.1,98.8 108.3,99.8 107.8,100.6 107.2,100.8 106.2,100.8 105.4,100.2 105.2,99.2 105.4,98.8ZM19.6,104.2 20.2,104.4 20.8,105.1 21.6,107.2 22.3,111.8 22.6,116.2 22.4,120.2 21.7,125.2 21.5,128.8 20.8,130.8 19.8,131.7 19.2,131.5 18.7,130.8 17.9,128.8 17.7,125.2 17.0,120.8 16.8,116.8 17.0,112.2 17.6,108.2 18.6,105.2 19.2,104.3ZM103.0,108.2 103.8,108.0 106.2,108.0 107.8,108.4 108.2,108.9 108.7,110.2 109.2,110.9 110.8,111.8 112.2,113.9 114.2,114.9 114.8,115.5 115.8,120.2 116.2,121.0 117.7,122.2 118.0,123.2 118.0,132.8 118.7,136.2 118.8,139.8 119.2,141.0 120.7,142.2 121.3,143.8 122.2,144.7 123.2,144.8 124.1,144.2 124.4,143.2 124.5,141.8 124.4,140.2 124.1,139.2 123.5,138.8 121.8,138.1 121.2,137.5 121.0,136.8 121.0,129.8 121.4,128.8 122.2,128.1 124.2,128.0 124.5,128.2 124.6,129.8 124.9,130.8 127.1,132.2 127.8,134.0 128.2,134.6 129.6,135.2 130.1,135.8 130.5,136.8 130.5,139.2 130.8,140.2 131.2,140.9 131.8,141.2 132.2,141.1 132.8,140.7 133.2,137.7 133.4,132.2 133.9,129.8 133.8,126.7 133.5,126.2 132.8,125.8 127.8,125.0 127.5,124.8 127.8,122.5 129.5,120.8 130.3,118.3 131.2,117.5 132.8,117.4 134.2,117.6 136.2,118.3 136.8,118.9 137.2,120.3 138.2,121.2 139.2,121.5 142.2,121.6 142.8,121.9 143.2,122.5 144.1,126.2 144.1,133.8 143.6,136.2 143.5,138.2 143.6,139.2 144.2,140.2 145.2,140.8 147.2,141.3 148.2,141.3 148.8,140.9 149.2,140.0 150.2,135.9 150.8,135.3 151.8,134.6 152.2,133.8 152.2,133.2 151.9,132.2 150.3,130.8 150.1,130.2 150.0,127.2 149.7,126.2 148.8,125.2 147.4,124.8 146.9,124.2 146.6,123.2 146.8,122.5 147.2,121.9 148.2,121.5 150.8,120.9 152.8,121.0 155.8,121.9 156.2,122.4 157.1,124.2 159.2,125.8 160.0,128.2 160.3,130.2 160.8,131.0 161.2,131.2 162.0,127.8 162.7,126.2 163.2,125.9 163.8,126.1 164.6,127.8 165.2,130.8 166.2,131.8 167.1,134.2 168.2,135.3 168.9,136.2 169.6,139.2 169.7,143.2 170.1,144.2 171.7,145.8 172.4,147.2 173.2,147.7 174.8,147.8 182.8,147.8 183.8,147.2 184.3,143.2 184.4,132.8 185.0,129.8 185.0,123.2 185.4,122.2 185.9,121.8 185.7,118.2 186.0,114.8 187.0,111.8 188.2,109.9 189.8,108.9 190.8,108.8 191.8,109.2 193.2,110.5 194.6,113.2 195.1,115.2 195.3,117.2 195.3,119.2 195.1,121.8 195.2,123.6 195.8,124.6 196.8,125.3 197.3,126.2 197.1,127.3 195.8,128.4 195.2,129.5 194.6,133.2 195.1,136.8 194.7,140.2 195.5,143.8 197.3,144.8 198.0,145.8 198.2,147.2 198.2,153.0 198.6,153.8 199.2,154.1 199.8,154.1 200.5,153.8 201.0,152.8 201.0,143.2 200.4,140.8 200.2,136.2 199.8,135.4 197.9,134.2 197.7,133.8 197.7,132.8 198.2,131.9 199.8,131.3 200.4,130.8 201.4,128.8 203.2,127.4 204.8,125.4 206.3,124.8 207.3,123.8 207.2,123.1 206.8,123.4 205.8,123.5 204.8,123.1 204.2,122.7 203.2,120.9 202.9,118.8 203.1,116.8 203.9,114.8 205.2,113.6 205.8,113.5 206.8,113.6 208.1,114.8 208.9,116.8 209.1,118.8 208.6,121.2 208.8,121.6 209.8,121.9 210.2,122.5 211.1,124.3 213.2,125.8 213.9,127.8 214.5,130.8 215.0,131.2 216.2,131.9 216.9,132.8 217.0,139.8 217.7,143.2 217.7,168.2 14.7,168.2 14.9,159.2 15.5,155.2 16.4,152.2 17.2,151.6 19.8,150.9 30.1,150.8 30.8,150.5 31.2,149.8 31.0,144.8 31.2,139.8 30.8,138.9 29.2,138.1 28.8,137.5 28.5,136.2 28.5,133.8 28.9,132.2 29.5,131.8 31.2,131.1 31.9,130.2 32.0,123.2 32.2,122.5 32.8,121.9 34.8,121.1 36.2,120.9 37.8,120.9 39.8,121.3 40.2,121.2 41.2,120.2 41.8,118.8 43.4,117.2 44.3,114.8 44.8,114.2 45.8,113.9 46.8,113.9 47.8,114.3 48.5,115.2 49.2,117.2 49.8,117.5 50.2,117.3 50.7,116.8 51.2,115.4 51.8,114.8 54.8,113.9 62.8,113.9 64.2,114.1 66.1,114.8 66.9,115.8 68.0,120.8 69.6,122.3 69.9,123.2 69.6,124.2 67.8,125.6 67.1,126.8 67.1,132.8 67.8,134.0 69.7,135.8 70.8,139.9 71.1,140.8 71.8,141.2 72.2,141.1 72.7,140.2 72.8,139.2 72.6,132.2 72.9,128.8 73.5,126.3 73.5,123.2 73.9,122.2 74.8,121.6 76.8,121.0 80.8,120.8 81.8,120.5 82.2,119.8 83.1,115.8 83.8,114.9 84.2,114.6 87.2,114.5 91.2,114.6 92.2,115.2 92.8,116.2 93.2,116.6 93.8,116.8 94.8,116.8 95.3,116.2 96.2,114.9 98.2,113.9 99.8,111.8 101.4,110.8 102.4,108.8ZM125.5,125.2 127.2,125.0 127.5,125.2 127.3,126.8 127.1,127.2 126.5,127.8 124.8,128.0 124.5,127.8 124.7,126.2 124.9,125.8ZM49.2,129.1 49.1,130.2 49.2,133.2 49.2,133.6 49.8,133.6 50.2,129.8 49.8,128.8ZM36.2,131.7 35.4,132.2 35.2,132.8 35.1,133.8 35.8,137.2 36.2,138.0 36.8,138.2 37.8,137.9 38.2,137.2 38.5,136.2 38.4,133.2 38.2,132.5 37.8,131.9 37.2,131.7ZM18.7,132.2 19.2,131.8 20.2,131.9 20.8,132.3 21.3,133.2 21.5,134.2 21.5,135.2 21.1,136.2 20.2,137.1 19.2,137.2 18.7,136.8 18.1,135.8 17.9,133.8ZM97.2,132.1 96.8,133.8 96.8,139.2 97.2,140.7 97.8,141.1 98.4,140.8 98.9,139.8 99.0,133.8 98.7,132.8 98.4,132.2 97.8,131.9ZM18.9,140.2 19.8,140.0 20.8,140.4 21.5,141.2 21.9,142.8 21.9,144.2 21.5,145.8 20.8,146.6 19.8,147.0 18.8,146.7 18.2,146.2 17.5,144.2 17.5,142.8 17.7,141.8 18.2,140.8ZM74.8,145.6 74.4,146.2 74.4,147.2 74.8,147.8 75.2,147.8 75.6,147.2 75.5,146.2 75.3,145.7ZM173.8,152.2 172.4,152.8 171.7,154.2 170.8,155.5 170.6,156.8 171.2,157.2 179.8,157.3 180.3,157.2 181.1,156.8 181.8,153.8 181.8,153.1 181.2,152.5 179.7,152.2Z"/>
<path fill="rgb(243, 47, 0)" d="M89.6,3.2 90.2,3.5 90.6,4.2 91.0,6.8 90.8,9.1 90.2,10.1 89.8,10.4 89.2,10.2 88.8,9.4 88.4,6.8 88.8,4.2 89.2,3.4ZM105.0,17.2 105.2,17.2 105.6,17.8 105.5,18.8 105.2,19.3 104.8,19.0 104.6,18.2 104.8,17.4ZM89.7,18.8 90.2,18.4 90.8,18.7 91.1,19.8 90.9,21.2 90.8,21.7 90.2,22.0 89.8,21.8 89.3,20.8 89.3,19.8ZM89.5,52.2 90.2,52.0 90.8,52.1 92.0,53.2 92.7,54.8 93.4,57.8 93.5,60.2 93.1,62.8 92.2,64.5 91.2,65.3 90.2,65.0 89.2,63.7 88.7,61.8 88.4,58.8 87.9,56.8 88.0,54.2 88.8,52.8ZM104.6,52.8 104.8,52.5 105.2,52.3 105.8,52.9 105.9,53.8 105.8,55.8 105.2,56.5 104.8,56.3 104.3,55.2 104.2,53.8ZM103.6,72.8 104.2,72.6 105.3,72.8 106.2,73.2 106.5,73.8 106.7,75.2 106.5,75.8 105.2,77.9 105.2,79.8 105.8,80.6 107.5,81.2 108.1,81.8 108.8,84.2 109.2,85.1 110.8,86.9 111.3,88.2 111.3,89.8 110.8,90.6 108.8,91.3 106.8,92.4 104.8,91.3 102.8,90.6 102.2,90.0 101.7,88.2 100.7,86.2 100.7,85.8 101.7,83.8 102.0,82.8 102.2,74.8 102.8,73.5ZM46.9,75.2 47.2,74.8 47.8,75.3 48.0,76.8 47.8,79.1 47.2,79.6 46.8,78.8 46.6,77.8 46.7,76.2ZM163.2,79.8 163.8,80.4 164.3,83.8 165.1,98.2 164.4,112.8 163.8,116.6 163.2,117.3 162.8,116.3 162.2,112.8 161.5,98.8 162.2,84.8 162.8,80.7ZM46.7,80.2 47.2,80.1 47.6,81.2 47.6,82.2 47.2,83.4 46.8,83.4 46.4,82.2 46.4,81.2ZM84.0,80.2 84.2,80.0 84.8,79.9 85.8,80.8 93.2,88.2 95.2,91.2 95.5,93.2 95.4,103.2 94.8,105.1 93.8,106.0 91.8,106.2 90.8,105.7 89.8,104.2 89.3,102.3 89.0,101.8 88.2,101.2 86.8,100.6 86.4,100.2 83.3,94.2 83.0,92.2 83.0,82.8 83.3,81.2ZM60.0,91.2 61.2,91.3 61.8,91.8 61.9,92.2 61.7,92.8 60.8,93.3 59.8,93.0 59.3,92.2 59.4,91.8ZM19.1,107.2 19.8,106.9 20.2,107.2 20.8,108.2 21.6,111.2 21.9,115.2 21.7,120.8 21.0,124.8 21.0,127.8 20.6,129.2 20.2,129.8 19.8,130.0 19.2,129.9 18.8,129.2 18.4,127.8 18.3,126.2 18.5,124.8 17.8,121.8 17.5,117.8 17.5,114.2 17.8,111.3 18.4,108.8ZM103.3,110.2 104.2,109.8 105.2,109.8 106.2,109.8 107.2,110.3 113.2,116.2 114.4,117.8 114.8,118.8 115.3,120.8 116.6,123.2 116.7,132.8 116.9,133.8 117.8,135.8 118.1,140.2 120.3,144.2 122.8,146.5 123.8,146.7 124.8,146.5 125.2,146.3 125.6,145.8 125.9,144.8 126.2,141.2 127.2,138.9 127.8,138.9 131.8,142.6 132.2,142.6 132.8,142.2 133.2,141.3 133.9,137.2 134.1,132.8 134.3,131.8 135.2,129.8 135.3,126.8 134.5,125.8 133.8,125.3 131.2,124.8 130.2,124.4 129.4,123.7 129.3,123.3 130.2,121.1 130.9,118.8 131.8,118.2 132.8,118.1 134.6,118.8 138.2,122.7 139.2,123.2 141.8,123.5 142.8,124.4 143.2,125.2 143.5,126.8 143.5,133.2 143.2,134.6 142.3,136.8 142.1,138.8 142.5,139.8 143.1,140.2 144.7,141.3 146.2,141.8 147.8,142.7 148.2,142.7 149.5,141.2 150.5,138.2 152.7,134.8 152.9,133.8 152.9,132.8 151.4,129.8 151.3,126.8 150.7,125.8 148.8,123.8 148.7,123.2 148.9,122.8 150.2,121.8 151.2,121.6 152.2,121.7 153.6,122.2 154.2,122.8 158.2,126.8 159.2,128.4 159.8,131.2 160.8,132.5 161.2,132.6 161.8,132.4 162.2,130.2 162.8,129.0 163.2,128.6 163.8,128.8 164.2,129.9 164.6,131.2 165.8,132.5 166.3,134.2 168.7,138.8 168.9,139.8 169.1,143.8 169.8,145.1 171.0,147.2 171.5,147.8 172.8,148.3 174.8,148.5 182.8,148.5 183.8,148.2 184.2,147.7 185.0,143.2 185.1,132.8 185.3,131.8 186.2,130.2 186.5,129.2 186.7,123.2 187.5,122.2 188.4,121.8 188.0,118.2 188.6,113.8 189.2,111.8 189.8,111.1 190.2,111.0 190.9,111.8 191.6,113.2 191.8,114.1 192.2,114.8 192.8,116.2 193.0,118.8 192.6,121.2 194.1,122.3 194.8,124.6 195.6,126.2 195.6,126.8 194.7,128.8 194.2,131.1 193.4,133.2 194.2,135.4 194.5,136.8 194.3,137.8 193.5,139.8 193.5,140.2 194.2,141.9 194.9,144.2 195.4,144.8 196.8,145.4 197.4,146.2 197.6,153.2 198.0,154.2 198.7,154.8 200.2,154.8 201.5,154.2 202.3,153.2 202.5,152.2 202.5,143.8 202.2,142.8 201.2,140.8 200.9,136.2 200.7,135.2 199.8,133.8 199.6,133.2 199.8,132.8 204.2,127.8 208.8,123.9 209.2,123.9 210.2,124.8 212.2,126.8 213.2,128.2 213.8,131.1 215.2,133.8 215.3,137.8 215.5,139.8 216.7,141.8 216.9,142.8 217.0,167.2 216.8,167.6 214.8,167.7 16.2,167.7 15.2,167.5 15.2,163.2 15.5,158.8 16.3,155.2 17.9,152.8 19.2,151.8 20.2,151.6 30.2,151.4 31.2,151.0 31.8,150.2 31.6,143.8 31.9,139.8 31.7,138.8 30.5,136.8 30.3,136.2 30.4,135.2 30.8,134.0 31.2,133.6 32.2,133.2 32.8,133.1 33.2,133.3 34.2,134.4 34.7,135.2 35.2,138.1 35.8,139.0 36.2,139.5 36.8,139.6 37.8,139.2 39.5,137.2 39.8,136.2 39.8,132.8 39.2,130.3 38.8,129.8 34.8,129.7 34.2,129.5 33.8,128.3 33.6,127.2 33.7,123.2 34.5,122.2 36.2,121.6 37.8,121.7 39.8,122.6 40.2,122.6 42.6,120.2 44.2,117.2 44.8,115.5 45.2,114.9 46.2,114.6 47.2,114.9 47.8,115.5 48.3,117.2 48.8,118.1 49.2,118.7 49.8,118.9 51.2,117.8 53.4,115.2 54.8,114.7 56.2,114.5 62.8,114.6 63.8,114.8 65.1,115.8 66.7,118.2 67.2,121.1 68.2,123.2 68.1,123.8 66.3,125.8 65.6,126.8 65.5,129.8 66.0,132.8 66.6,133.8 68.4,135.8 70.8,141.6 71.8,142.8 72.2,143.1 73.2,143.2 73.5,142.2 73.5,137.8 73.1,133.8 73.1,132.2 73.7,128.8 74.9,126.2 75.0,123.8 75.4,122.8 76.0,122.2 77.2,121.7 81.2,121.4 82.2,121.0 82.8,120.2 83.2,118.4 83.8,117.4 84.8,116.4 85.2,116.3 90.2,116.0 91.2,116.3 93.2,117.3 94.2,117.5 95.7,117.2 97.2,116.2ZM205.2,117.2 205.8,116.8 206.2,116.8 206.8,117.2 207.0,117.8 207.0,119.2 206.8,119.8 206.2,120.2 205.8,120.2 205.2,119.8 205.0,119.2 204.9,118.2ZM49.8,127.2 49.2,127.4 48.8,128.2 48.5,129.8 48.5,133.8 48.8,134.7 49.2,135.4 49.8,135.4 50.2,134.7 50.9,130.2 50.8,128.5 50.2,127.5ZM97.2,130.7 96.8,131.4 96.4,132.8 96.4,139.2 96.8,141.2 97.2,142.1 97.8,142.4 98.2,142.2 99.2,141.2 100.2,139.8 100.2,134.6 100.1,133.2 99.7,132.2 98.2,130.8 97.8,130.5ZM18.9,133.2 19.2,132.9 19.8,132.8 20.2,133.0 20.8,133.8 20.8,135.3 20.2,136.0 19.8,136.2 19.2,136.1 18.7,135.2 18.5,134.2ZM18.9,141.2 19.8,140.9 20.2,141.1 20.9,141.8 21.3,142.8 21.4,143.8 21.2,144.8 20.8,145.5 20.2,145.9 19.8,146.1 18.8,145.6 18.1,144.2 18.1,142.8 18.5,141.8ZM73.8,143.4 73.6,143.8 73.5,144.8 73.7,147.8 74.2,149.0 74.8,149.5 75.2,149.5 75.8,149.0 76.2,148.0 76.4,146.2 76.0,145.2 75.2,144.3 74.2,143.5ZM172.8,151.7 171.8,152.1 171.2,152.5 170.2,155.0 170.1,156.8 170.3,157.2 170.8,157.6 172.2,157.8 180.2,157.8 181.2,157.4 181.8,156.8 183.0,153.2 182.9,152.8 182.2,152.1 181.2,151.7 180.2,151.5 174.2,151.5Z"/>
<path fill="rgb(252, 104, 0)" d="M89.3,53.2 89.8,52.9 90.8,53.0 91.5,53.8 92.0,55.3 92.0,56.8 91.7,57.8 91.2,58.4 90.8,58.8 90.2,59.0 89.2,58.5 88.7,57.8 88.4,56.8 88.5,54.8ZM103.1,74.8 103.8,74.3 104.2,74.4 104.8,75.0 104.9,76.2 104.3,78.8 104.5,80.2 105.2,81.2 106.8,81.8 107.5,82.2 108.8,86.6 110.2,87.9 110.7,88.8 110.5,89.8 109.8,90.2 107.2,90.9 106.2,90.9 103.7,90.2 103.2,90.0 102.8,89.4 101.7,86.8 101.5,85.8 102.6,82.8 102.7,75.8ZM84.1,81.8 84.8,81.4 85.3,81.8 86.4,83.8 86.8,84.1 88.2,84.7 88.9,85.2 90.0,86.8 91.9,88.2 93.1,90.2 94.5,91.8 94.8,93.2 94.8,102.8 94.5,103.8 93.8,104.3 91.8,104.5 90.8,104.0 90.0,102.2 89.3,101.2 88.8,100.8 87.2,100.1 86.8,99.5 85.6,97.2 85.0,95.2 84.0,93.8 83.7,92.2 83.7,83.8 83.8,82.6ZM163.1,86.8 163.2,86.4 163.8,87.5 164.5,94.8 164.7,98.2 164.5,102.2 163.9,108.2 163.8,109.5 163.2,110.6 162.8,108.9 162.1,102.2 161.9,98.8 162.1,94.2 162.8,88.1ZM19.2,109.2 19.8,108.8 20.2,109.2 20.8,110.3 21.2,112.8 21.5,115.8 21.4,118.8 21.1,121.2 20.5,123.2 19.8,124.2 20.2,124.7 20.4,125.2 20.5,127.2 20.2,128.3 19.8,128.8 19.1,128.2 18.8,126.8 19.1,124.8 19.7,124.2 19.2,123.8 18.5,122.2 18.1,119.8 17.9,117.2 18.2,112.2 18.7,110.2ZM103.3,111.8 105.2,111.5 107.2,111.8 107.9,112.2 109.2,114.0 110.9,115.2 112.1,117.2 114.0,118.8 115.6,123.2 115.7,133.2 116.0,134.2 117.2,136.2 117.5,140.2 119.2,144.7 120.4,145.8 121.7,147.9 122.2,148.2 123.2,148.5 125.8,148.4 126.5,148.2 127.1,147.8 127.5,146.8 127.7,142.8 128.2,141.9 128.8,141.8 129.8,142.1 130.2,142.7 130.8,144.1 131.2,144.6 132.2,144.8 133.0,144.2 133.8,141.2 134.6,137.2 134.8,132.8 136.2,130.2 137.0,125.2 137.2,125.0 141.8,125.2 142.2,125.5 142.7,126.2 142.8,133.2 142.5,134.2 141.3,136.2 140.8,139.2 140.9,139.8 141.6,140.2 143.2,140.9 145.8,142.4 147.2,144.4 148.2,144.8 148.8,144.5 149.2,143.8 150.9,139.2 152.6,137.2 153.4,135.2 153.6,133.2 152.5,130.2 152.4,129.2 153.0,125.2 153.2,125.0 153.8,125.0 154.8,125.1 155.8,125.6 158.5,128.8 159.5,133.2 159.6,136.8 159.8,137.5 160.2,138.1 160.8,138.2 161.2,138.0 161.7,137.2 162.5,132.2 162.8,131.3 163.2,130.7 163.8,131.1 164.2,132.3 165.0,132.8 166.4,135.8 167.0,137.8 168.2,139.8 168.5,143.8 169.8,147.2 170.5,148.2 171.8,148.9 173.8,149.2 182.2,149.2 183.8,148.9 184.2,148.6 184.8,147.8 185.6,143.8 185.7,133.2 186.0,132.2 187.4,130.8 187.9,129.8 188.2,123.2 188.5,122.8 189.2,122.3 192.2,122.2 192.8,122.3 193.5,122.8 194.3,126.2 193.7,130.2 193.2,131.1 192.7,131.8 192.3,132.8 192.5,134.2 193.5,135.8 193.8,136.8 193.5,137.8 192.5,139.2 192.3,140.2 192.8,141.2 193.5,142.2 194.3,144.8 194.8,145.2 196.2,146.0 196.7,146.8 196.9,152.8 197.3,154.2 197.8,154.8 198.8,155.5 199.8,155.6 201.2,155.4 203.1,154.8 203.6,154.2 203.9,153.8 204.0,147.2 203.9,142.8 203.2,141.8 202.2,141.1 201.8,140.0 201.6,136.2 201.1,133.8 201.2,132.8 201.8,132.1 203.4,130.8 204.8,128.6 206.8,127.4 208.2,125.6 209.2,125.4 209.9,125.8 211.0,127.2 212.2,128.3 212.7,129.2 213.5,133.2 213.6,137.2 214.2,140.1 214.8,141.1 215.8,141.9 216.2,143.0 216.3,167.2 214.8,167.5 16.2,167.5 15.8,167.5 15.5,167.2 15.5,162.8 15.9,158.8 16.9,155.8 19.4,152.8 20.8,152.2 30.2,152.1 31.2,151.7 32.2,150.8 32.5,149.8 32.0,147.2 32.0,143.8 32.1,142.2 32.6,139.8 32.1,136.8 32.4,135.8 33.2,135.3 33.9,135.8 35.0,139.8 35.4,140.2 36.2,140.7 37.2,140.7 38.2,140.3 40.5,137.8 40.8,136.2 40.8,127.2 41.0,125.2 41.7,122.8 43.5,120.8 45.2,116.2 45.8,115.5 46.2,115.4 47.0,115.8 48.4,118.8 48.6,119.8 48.7,125.7 48.0,129.2 48.0,133.2 48.8,137.0 49.2,137.8 49.7,137.8 50.2,137.0 51.6,130.2 51.6,128.8 51.0,126.2 51.0,121.8 51.1,119.8 51.6,118.8 53.4,117.2 54.4,115.8 55.2,115.3 56.2,115.2 62.8,115.3 63.6,115.7 64.6,117.2 65.8,118.3 66.2,119.2 66.9,123.2 66.4,124.2 64.8,125.6 64.3,126.2 64.0,127.8 64.2,129.8 65.0,131.8 65.4,133.2 65.7,133.8 67.2,135.0 67.8,135.8 68.4,137.8 69.1,139.2 71.1,144.2 72.6,145.8 73.0,148.2 74.0,151.8 74.3,153.8 74.8,154.4 75.2,154.6 75.8,154.2 76.4,153.2 76.5,150.2 77.1,147.8 77.1,146.8 75.7,142.8 74.7,141.2 74.2,140.3 74.1,136.8 73.6,134.2 73.5,132.8 74.5,128.8 76.2,126.7 76.8,123.1 77.0,122.8 77.8,122.3 81.2,122.1 82.2,121.7 83.2,120.8 84.2,118.4 84.8,118.0 86.2,117.5 90.8,117.1 94.2,118.0 96.8,118.0 97.8,117.7 98.8,116.8 99.6,115.2 101.2,114.0 102.6,112.2ZM189.6,112.8 189.8,112.5 190.2,112.3 190.8,112.9 191.4,115.8 191.4,117.2 191.2,118.8 190.8,120.1 190.2,120.7 189.8,120.5 189.3,119.8 188.9,117.8 189.0,114.8ZM131.5,119.2 132.2,118.8 133.2,119.0 133.8,119.5 134.3,120.8 134.8,121.2 136.4,122.2 136.7,122.8 137.0,123.8 137.0,124.8 136.8,125.0 132.0,124.2 131.0,123.8 130.7,122.8 131.2,119.8ZM35.5,122.8 36.2,122.3 37.2,122.3 38.0,122.8 38.4,123.2 38.5,124.8 38.4,126.8 37.8,127.6 37.2,127.8 36.2,127.8 35.8,127.6 35.1,126.8 35.0,123.8ZM150.5,122.8 151.2,122.4 151.8,122.4 152.5,122.8 152.8,123.2 153.0,124.8 152.8,125.0 151.8,124.9 150.8,124.4 150.3,123.8 150.3,123.2ZM97.2,129.0 96.8,129.6 96.1,132.2 96.0,139.2 96.2,140.7 97.2,144.1 97.8,144.5 98.2,144.3 98.7,143.8 99.5,142.2 100.8,141.0 101.1,140.2 101.3,139.2 101.3,136.8 100.8,132.2 98.6,129.2 97.8,128.9ZM19.4,134.2 19.8,133.9 20.0,134.2 20.0,134.8 19.8,135.1 19.4,134.8ZM19.4,141.8 19.8,141.7 20.2,141.9 20.8,142.6 20.9,143.2 20.6,144.8 20.2,145.1 19.8,145.3 19.2,145.2 18.8,144.8 18.5,143.8 18.8,142.4ZM208.2,141.9 207.8,142.5 207.6,143.2 207.5,149.2 207.9,150.8 208.8,151.2 209.4,150.8 209.8,149.8 209.8,143.8 209.7,142.8 209.2,142.0 208.8,141.8ZM171.8,151.1 170.8,151.7 170.4,152.2 169.8,155.2 169.7,156.2 169.9,157.2 170.2,157.8 170.8,158.0 179.2,158.2 181.2,157.9 182.2,157.2 182.5,156.8 183.8,153.8 183.8,152.5 183.4,151.8 181.8,151.0 180.2,150.8 174.2,150.8Z"/>
<path fill="rgb(255, 152, 0)" d="M89.7,53.8 90.2,53.6 90.8,53.7 91.2,54.3 91.6,55.2 91.6,56.2 91.4,57.2 90.8,58.1 90.2,58.2 89.8,58.1 89.2,57.7 88.8,56.2 89.0,54.8ZM103.7,83.2 104.2,82.8 104.8,82.9 105.8,83.2 106.2,83.8 106.6,85.2 106.7,87.7 106.7,88.2 106.1,88.8 104.8,89.0 103.7,88.7 102.8,87.6 102.3,86.8 102.3,85.2 102.8,84.4ZM85.4,86.2 85.8,86.1 86.8,86.0 88.2,86.4 90.2,88.2 93.5,92.2 93.8,93.8 93.8,100.2 93.2,102.1 92.8,102.5 91.8,102.6 91.2,102.3 88.8,99.9 87.2,98.8 86.3,97.2 85.8,94.9 84.9,93.2 84.7,92.2 84.8,88.2 84.9,87.2ZM163.2,92.8 163.8,93.8 164.2,98.2 163.9,102.8 163.8,103.6 163.2,104.3 162.7,102.8 162.4,98.8 162.7,94.2ZM19.6,110.8 19.8,110.7 20.2,111.2 20.6,112.2 21.0,116.2 20.8,120.2 20.2,121.8 19.8,122.3 19.2,122.0 18.8,120.7 18.4,116.8 18.8,112.3 19.2,111.0ZM103.5,113.2 104.2,113.0 105.8,113.0 107.2,113.4 109.2,115.2 110.8,117.2 112.7,119.2 114.5,121.8 114.9,122.8 115.0,123.8 115.0,133.2 115.3,134.2 116.4,136.8 116.7,140.2 117.7,142.2 118.2,144.6 118.8,145.6 120.3,147.8 122.2,149.6 123.8,150.0 126.2,150.0 127.8,149.8 128.6,149.2 129.8,147.0 132.2,146.5 133.2,145.6 133.8,144.2 134.6,139.2 135.6,136.8 135.8,133.2 136.8,131.1 137.2,128.4 138.2,126.9 139.2,126.6 140.2,126.6 141.2,127.1 141.6,127.8 141.8,129.2 141.8,132.8 141.6,133.8 140.8,135.4 140.3,137.8 139.6,139.8 140.0,140.2 142.8,141.1 143.8,141.8 144.9,142.8 146.3,144.8 147.8,146.2 148.2,146.4 148.8,146.2 149.7,144.8 150.3,142.2 151.8,139.2 153.2,137.6 155.8,135.5 156.2,135.3 156.8,135.7 158.8,139.4 159.2,139.7 160.2,139.9 161.2,139.5 162.2,138.2 162.4,137.2 162.8,133.9 163.2,132.9 163.8,133.5 164.8,134.3 165.7,135.8 166.2,138.1 167.2,140.2 167.7,143.8 168.7,145.7 169.3,147.8 170.5,149.8 170.5,150.2 169.8,152.3 169.5,156.8 169.8,157.6 170.2,158.2 171.2,158.5 180.8,158.4 182.3,157.8 183.2,156.8 184.3,153.8 184.2,151.9 183.9,150.2 185.1,148.2 185.7,145.2 186.6,143.2 186.8,133.2 187.3,132.2 190.8,128.9 191.2,129.0 191.7,134.2 192.6,136.8 191.7,139.2 191.7,140.8 192.7,143.2 193.2,145.8 193.8,146.5 195.2,147.5 195.6,148.2 195.8,149.8 195.8,152.8 196.1,153.8 197.8,155.7 199.2,156.7 204.2,156.6 204.8,156.5 205.2,156.2 206.3,153.8 206.8,153.3 208.8,153.0 209.8,152.0 210.2,151.2 210.5,149.2 210.4,142.8 210.2,141.8 209.2,140.4 208.2,140.1 206.2,140.0 205.6,139.8 205.1,139.2 203.2,136.3 202.7,134.8 202.7,133.2 203.3,132.2 207.8,127.8 208.8,127.0 209.2,127.0 211.2,128.8 211.7,129.8 212.1,136.8 213.2,138.8 213.8,141.1 214.7,142.8 215.0,143.8 215.1,159.8 215.3,167.2 104.2,167.3 104.1,167.2 103.8,166.2 103.2,166.2 102.9,167.2 102.8,167.3 15.7,167.2 15.8,163.2 16.2,159.2 16.8,157.9 18.3,155.2 19.8,153.9 20.8,153.4 23.8,153.2 29.2,153.2 30.8,152.9 32.7,151.2 33.3,150.2 33.4,149.8 32.6,147.8 32.4,145.8 32.5,142.8 32.8,141.7 33.2,140.9 33.8,140.5 35.8,141.3 37.2,141.5 39.2,141.4 39.8,141.1 41.2,138.2 41.4,137.2 41.7,125.8 42.2,124.4 44.2,121.2 44.8,118.8 45.8,117.3 46.2,117.0 46.8,117.3 47.7,118.8 48.0,119.8 48.0,125.8 47.6,129.2 47.6,133.8 48.2,137.8 48.8,139.0 49.2,139.4 49.8,139.4 50.2,139.0 50.8,138.0 51.6,132.2 52.6,129.8 52.5,120.8 52.9,119.2 55.2,116.8 56.7,116.4 62.2,116.6 63.2,117.3 64.7,118.8 65.0,119.2 65.3,120.2 65.3,123.2 64.7,124.2 62.3,126.8 62.0,127.2 62.3,128.8 62.5,129.2 64.3,131.2 65.1,133.8 66.8,135.0 67.3,135.8 68.0,138.2 69.7,142.2 70.3,144.2 71.5,146.2 71.9,149.8 73.2,151.8 73.8,154.5 74.2,155.5 74.8,156.0 75.2,156.0 77.2,154.2 77.7,153.2 78.0,147.2 77.8,146.2 76.8,144.2 76.2,141.9 75.3,139.8 75.1,136.8 74.2,134.8 74.0,132.8 74.2,131.7 75.4,129.2 77.6,126.8 78.4,124.2 79.0,123.8 81.8,123.0 83.7,121.2 85.2,119.0 86.8,118.2 90.2,117.6 91.2,117.7 95.7,118.8 97.2,119.5 99.2,117.8 102.2,114.3ZM190.0,113.8 190.2,113.6 190.8,114.6 191.0,116.2 190.8,118.4 190.2,119.4 189.8,119.1 189.6,118.8 189.2,116.8 189.4,114.7 189.8,113.9ZM154.0,127.2 154.8,126.8 155.2,126.9 157.2,128.8 157.7,129.8 157.8,131.2 157.6,132.2 156.8,134.0 156.2,134.4 154.8,132.9 153.2,130.6 153.1,129.8 153.2,128.8ZM97.2,128.2 96.8,128.5 96.3,129.2 95.8,132.2 95.8,139.2 96.8,144.4 97.2,145.5 97.8,145.9 98.2,145.7 99.7,144.2 101.6,140.8 101.9,139.8 102.0,137.2 101.4,132.2 100.0,129.2 98.8,128.3ZM19.2,142.8 19.8,142.5 20.2,142.9 20.2,144.1 19.8,144.5 19.2,144.3 19.1,143.8Z"/>
<path fill="rgb(255, 191, 0)" d="M89.6,54.8 90.2,54.3 90.8,54.6 91.1,55.2 91.0,56.8 90.8,57.2 90.2,57.5 89.7,57.2 89.3,56.2 89.3,55.2ZM103.2,85.2 103.8,84.9 104.5,85.2 104.8,86.2 104.2,87.0 103.8,87.1 103.2,86.8 103.0,86.2ZM87.0,87.8 87.8,87.7 88.8,88.1 89.3,88.8 89.9,90.2 91.8,91.6 92.2,92.2 92.5,93.8 92.5,98.8 92.3,99.8 91.8,100.6 91.2,100.7 90.3,100.2 89.2,98.8 87.2,97.5 86.9,96.8 86.1,92.8 86.0,90.2 86.2,88.5ZM163.2,96.8 163.2,96.3 163.6,98.2 163.2,100.7 163.0,98.8ZM19.6,112.8 19.8,112.6 20.2,113.4 20.6,116.2 20.3,119.2 19.8,120.4 19.2,119.8 18.8,116.7 19.0,114.2 19.2,113.1ZM103.3,114.8 104.2,114.5 106.2,114.5 107.3,114.8 107.8,115.1 109.1,117.2 110.9,118.8 111.9,120.8 113.9,122.2 114.3,123.8 114.4,133.2 115.5,136.2 115.8,140.2 117.2,142.8 117.5,144.8 118.2,147.2 118.8,147.9 120.4,149.2 121.3,150.8 122.0,151.2 123.8,151.5 129.2,151.4 130.1,150.8 130.8,149.4 131.2,148.9 133.2,148.1 133.9,147.2 134.5,144.8 135.2,139.4 135.8,138.8 136.8,138.6 137.0,138.8 137.2,140.0 137.8,140.5 142.8,141.5 143.8,142.2 144.2,142.8 144.8,144.4 145.9,145.8 146.4,146.8 146.5,152.8 146.9,154.2 147.5,154.8 148.2,154.9 151.2,154.3 152.0,153.8 152.2,153.2 152.0,150.2 151.7,149.2 150.3,147.8 150.1,146.2 150.8,142.8 152.4,139.2 153.8,137.9 154.8,137.6 155.8,137.7 156.7,138.2 157.1,138.8 157.8,140.7 158.2,141.3 159.8,141.5 161.2,141.2 162.3,140.2 163.0,138.2 163.3,136.2 163.8,135.5 164.2,135.4 164.8,135.6 165.1,136.2 166.8,143.8 168.0,145.8 169.5,149.8 169.2,156.2 169.3,157.2 169.8,158.1 170.8,158.7 171.8,158.8 179.8,158.8 181.2,158.6 183.1,157.8 183.8,156.8 184.6,153.8 184.9,150.8 185.7,148.2 186.2,145.8 187.7,144.2 188.0,143.2 188.1,133.2 188.8,132.1 189.8,131.7 190.2,131.9 190.7,132.8 191.4,136.2 190.9,140.2 191.4,143.2 191.6,147.2 192.2,148.1 193.8,148.9 194.2,149.5 194.7,153.7 195.2,154.5 196.8,155.8 197.8,157.6 198.2,158.1 199.3,158.4 201.8,157.9 203.2,158.0 204.2,158.8 204.9,160.2 205.8,160.7 206.8,160.5 207.4,159.8 207.5,156.8 207.9,155.8 208.4,155.2 209.8,154.6 210.4,153.8 211.0,151.2 211.2,149.2 211.2,142.8 210.6,140.2 210.6,138.8 210.8,138.6 211.8,138.7 212.4,139.2 212.8,140.0 213.4,143.2 213.5,159.8 214.1,162.8 214.5,166.8 213.2,167.1 209.2,167.2 124.2,167.0 106.2,167.2 104.8,167.1 104.4,166.8 104.0,165.8 103.8,165.5 103.2,165.5 102.8,166.1 102.6,166.8 102.2,167.1 100.8,167.2 19.8,167.2 16.8,167.2 16.2,167.0 16.0,166.8 16.1,162.8 16.5,159.2 16.8,158.7 18.1,157.2 18.8,155.8 19.2,155.2 20.2,154.5 23.2,154.1 27.8,154.3 30.8,154.2 31.5,153.8 32.8,152.2 34.6,150.8 34.8,150.2 34.6,149.2 33.3,147.8 33.0,146.8 33.0,143.2 33.2,142.3 33.8,141.9 37.2,142.3 38.2,142.9 38.5,144.2 38.6,156.8 38.9,157.2 39.8,157.6 40.8,157.4 41.3,156.8 41.6,152.8 42.2,151.8 43.2,151.2 43.6,150.8 43.8,149.8 43.3,145.8 41.9,144.2 41.5,142.8 41.5,140.2 42.2,136.8 42.2,126.8 42.8,125.4 43.8,124.7 44.2,124.1 45.2,119.6 45.8,118.6 46.2,118.4 46.8,118.6 47.3,119.8 47.3,125.8 47.0,129.8 47.1,134.2 47.4,137.8 47.9,139.8 48.4,140.8 49.2,141.3 50.2,141.1 50.9,140.2 51.6,137.8 52.1,132.8 52.2,132.2 53.4,130.8 53.9,129.8 54.0,120.8 54.3,119.2 55.2,118.3 56.2,118.0 61.8,118.0 62.8,118.3 63.4,118.8 63.9,119.8 64.0,121.8 63.9,123.2 63.4,124.2 62.2,124.9 59.2,125.1 58.5,125.2 57.9,125.8 57.7,126.8 58.2,127.6 59.8,128.3 60.8,129.8 61.7,130.2 62.8,130.5 63.8,131.2 64.4,132.2 64.8,133.8 67.0,135.8 68.2,140.7 69.0,142.2 70.5,146.2 70.6,147.2 70.2,149.8 70.2,150.4 70.8,151.1 72.0,151.8 72.5,152.2 73.7,157.2 74.2,157.9 74.8,158.1 75.2,158.1 75.9,157.8 77.1,155.8 78.2,154.7 78.7,153.8 78.8,147.2 78.6,145.8 77.3,143.8 76.5,139.8 76.4,136.2 76.2,135.8 74.8,134.2 74.6,133.2 74.8,132.2 76.2,130.8 77.1,128.8 79.2,127.2 79.9,125.7 80.4,125.2 82.2,124.4 83.7,122.2 85.3,120.8 86.4,119.2 87.2,118.8 89.8,118.2 91.2,118.1 94.9,119.2 95.6,120.2 96.2,123.3 96.7,124.2 97.2,124.7 97.8,124.8 98.2,124.6 98.8,124.0 98.9,123.2 99.0,120.2 99.2,119.2 99.8,118.5 101.3,117.2 102.6,115.2ZM190.0,115.8 190.2,115.5 190.2,117.5 189.8,116.8ZM97.2,127.5 96.2,128.4 95.9,129.8 95.5,132.8 95.5,139.2 97.1,147.2 97.2,147.7 97.8,148.1 98.2,148.1 98.6,147.8 99.2,146.2 100.8,144.3 101.4,142.2 102.6,139.8 102.7,137.2 101.8,132.2 100.8,128.7 100.2,128.1 99.2,127.6 98.2,127.4ZM138.7,128.2 139.2,128.2 139.8,128.4 140.3,129.2 140.5,130.8 140.4,133.8 139.5,137.8 138.8,138.3 137.2,138.5 137.0,137.8 137.1,132.8 137.8,129.2 138.2,128.5ZM154.1,128.8 154.7,128.3 155.2,128.3 155.9,128.8 156.2,129.2 156.3,130.2 155.8,131.1 154.8,131.2 154.1,130.8 153.8,129.8ZM208.1,128.8 208.8,128.4 209.2,128.4 209.9,128.8 210.4,129.8 210.5,137.8 210.5,138.2 210.2,138.5 209.2,138.4 208.2,138.1 207.8,137.5 207.1,135.8 206.5,135.2 204.8,134.6 204.2,133.8 204.3,132.8 204.6,132.2 205.2,131.7 206.8,131.1 207.2,130.6ZM128.8,158.6 127.9,159.2 127.6,160.2 127.9,161.2 128.8,161.8 132.8,161.2 133.5,160.8 133.8,160.3 133.6,159.2 132.8,158.6 130.8,158.5Z"/>
<path fill="rgb(255, 232, 20)" d="M103.9,116.2 105.2,116.2 106.8,116.4 109.2,118.7 109.8,119.8 110.1,122.8 110.2,123.2 111.6,124.8 112.8,127.2 113.1,129.2 113.1,132.8 113.5,133.8 114.2,134.9 114.9,136.2 115.1,140.2 116.4,143.2 116.8,146.8 117.3,147.8 119.1,149.8 120.2,153.2 121.2,154.7 122.2,155.8 122.2,157.8 123.2,157.8 123.3,158.8 124.8,163.4 128.8,163.4 130.9,162.2 133.8,161.7 134.6,161.2 137.2,158.8 137.5,158.8 137.8,158.3 138.1,158.2 138.2,157.8 139.2,157.8 139.2,155.8 138.2,155.8 136.2,154.2 136.2,152.8 135.8,152.8 135.5,152.2 135.7,143.2 135.9,142.2 136.2,141.7 137.2,141.5 141.8,141.6 142.8,141.8 143.7,142.8 144.2,145.3 144.9,146.8 145.0,149.8 144.8,151.8 144.2,153.2 143.3,154.8 143.3,155.2 145.3,156.2 147.8,156.5 152.2,154.5 152.8,153.8 152.9,152.8 152.4,149.2 151.4,146.8 151.6,143.2 152.9,139.2 153.8,138.5 154.8,138.2 155.8,138.3 156.4,138.8 156.8,139.4 157.2,141.3 158.2,142.9 158.8,143.2 160.2,143.1 161.2,142.7 163.8,140.3 164.2,140.1 165.2,141.0 165.8,141.9 166.2,143.9 167.2,145.8 168.9,149.8 169.1,157.2 169.6,158.2 170.2,158.9 171.8,159.2 180.2,159.1 181.2,159.0 183.2,158.1 183.8,157.7 184.2,156.9 184.9,154.2 185.2,151.8 185.6,150.8 186.2,150.0 188.2,148.4 188.8,148.4 189.8,149.2 192.0,150.2 192.5,150.8 193.4,153.8 195.6,156.2 196.2,158.8 196.4,159.2 197.0,159.8 199.2,159.9 201.2,158.8 202.8,158.7 203.6,159.2 204.4,160.8 205.2,161.2 206.2,161.3 207.9,160.8 210.2,159.0 210.8,159.0 212.8,161.4 213.2,162.2 213.9,166.8 212.2,167.1 206.8,167.2 160.2,167.2 154.8,166.9 150.8,167.2 143.8,167.1 138.2,166.8 131.2,167.0 124.2,166.8 119.8,167.1 106.8,167.1 105.2,167.0 104.8,166.8 104.2,165.5 103.8,165.0 103.2,165.0 102.8,165.4 102.2,166.8 101.2,167.1 99.2,167.2 45.2,167.2 33.8,166.9 30.8,167.1 20.2,167.2 17.2,167.1 16.2,166.8 16.3,163.2 16.8,159.8 17.2,158.8 18.4,157.8 19.5,155.8 20.2,155.2 23.8,154.6 27.2,155.0 30.2,155.0 31.2,154.7 33.8,153.3 35.8,153.1 36.2,153.5 36.6,154.2 37.0,157.2 37.3,158.2 38.2,158.5 40.2,158.4 41.2,158.0 42.3,157.2 42.9,156.2 43.4,154.2 44.5,152.8 44.5,150.2 44.1,146.8 44.2,142.8 44.8,141.8 45.2,141.8 47.1,142.8 49.8,143.6 51.2,143.1 51.8,142.6 52.2,140.9 52.6,135.8 53.0,132.8 53.8,131.8 56.2,129.4 58.8,129.6 60.8,130.5 63.2,131.2 64.0,132.2 64.7,134.2 66.6,135.8 67.0,136.8 67.9,141.2 68.7,143.8 69.9,146.2 69.8,147.8 68.8,150.2 68.8,151.2 69.2,152.8 70.7,155.8 74.2,159.2 74.8,159.5 75.2,159.5 77.7,157.2 78.9,155.2 79.4,153.8 79.4,146.2 79.2,145.2 78.3,143.2 78.0,139.8 78.2,138.2 79.5,135.2 79.3,133.2 79.9,130.8 80.8,129.2 81.4,126.8 83.7,124.2 85.3,121.8 87.2,120.0 90.2,118.6 92.0,118.8 93.0,119.2 94.2,120.3 95.2,121.8 95.9,124.2 97.1,126.2 95.8,128.7 95.5,129.8 95.3,133.2 95.3,139.8 95.9,142.2 96.8,147.9 97.2,149.1 97.8,149.6 98.2,149.8 99.2,149.6 99.8,149.3 100.1,148.8 100.4,146.8 101.3,144.8 101.9,142.2 103.5,139.8 103.7,138.8 103.6,136.8 102.6,134.2 101.3,128.2 100.1,126.2 100.5,123.2 100.4,119.8 100.9,118.8 101.8,117.8 103.2,116.5Z"/>
<path fill="rgb(246, 253, 71)" d="M102.8,117.8 103.8,117.4 105.2,117.6 107.2,118.2 108.2,119.2 108.3,120.2 108.1,120.8 107.6,121.2 105.8,122.1 105.3,122.8 105.2,123.2 105.8,123.9 108.2,124.8 108.7,125.3 109.8,127.5 111.2,128.8 111.5,129.8 111.5,132.8 111.8,133.8 112.2,134.4 113.8,135.5 114.2,136.2 114.5,140.2 115.6,143.2 115.8,147.2 116.2,148.1 117.4,149.2 117.9,150.2 118.1,160.8 118.8,161.6 120.2,162.3 120.8,162.9 121.5,165.2 121.7,166.8 119.8,167.0 113.8,167.1 105.8,167.0 105.0,166.8 104.7,165.8 104.2,164.9 103.8,164.6 103.2,164.5 102.4,165.2 102.0,166.8 101.2,167.0 98.8,167.1 39.8,167.1 34.9,166.8 34.6,165.8 34.2,165.5 33.8,165.5 33.2,165.9 33.1,166.8 31.2,167.0 19.8,167.1 17.2,167.0 16.5,166.8 16.6,162.8 17.3,159.7 19.1,157.8 20.0,156.2 20.7,155.8 23.8,155.1 27.2,155.6 30.2,155.6 33.2,154.5 34.2,154.6 34.8,154.8 35.5,155.8 35.8,160.8 36.2,161.6 36.8,161.7 37.8,161.2 38.8,159.8 39.2,159.4 40.8,158.9 44.0,157.2 45.2,155.4 49.8,154.0 50.3,153.2 50.9,150.2 51.1,146.2 51.8,145.3 52.8,144.6 53.2,143.5 53.4,136.2 54.1,133.2 54.6,132.2 55.2,131.7 58.2,130.7 59.2,130.7 62.2,131.2 63.2,131.6 63.8,132.3 64.3,134.2 64.8,134.8 66.1,135.8 66.5,136.2 68.0,143.8 69.0,145.8 69.3,146.8 69.1,147.8 68.0,149.2 67.7,150.2 67.6,153.8 67.1,156.8 67.4,157.8 68.2,158.4 71.2,158.5 72.2,158.8 72.9,159.2 74.2,160.9 75.2,161.1 75.8,161.0 77.2,159.1 79.1,157.8 80.0,154.8 80.2,153.2 80.2,146.8 79.6,143.2 79.6,140.2 79.9,139.2 81.8,138.0 82.2,136.9 82.4,132.8 82.9,129.8 83.0,127.2 83.2,126.2 84.9,124.2 85.5,122.8 86.2,121.7 87.2,121.0 88.8,120.4 90.2,119.2 90.8,119.1 91.6,119.2 92.2,119.7 94.2,121.8 96.1,125.7 96.2,126.8 95.4,128.8 95.0,131.8 95.1,140.2 95.8,142.8 96.4,147.8 97.2,150.8 97.8,151.2 98.2,151.2 100.2,150.7 100.9,150.2 101.2,149.8 101.4,146.2 102.2,142.4 102.8,141.6 104.5,140.2 104.8,139.8 105.0,138.8 104.9,136.2 104.7,135.8 103.2,134.2 102.2,130.8 101.4,126.7 101.4,125.8 101.9,123.2 101.4,120.8 101.4,119.7 101.8,118.8ZM154.1,138.8 154.8,138.6 155.5,138.8 156.1,139.2 156.4,139.8 157.1,143.2 157.3,146.8 157.8,147.8 158.3,147.8 158.8,146.8 159.0,145.8 159.8,144.8 162.0,143.8 163.1,142.2 163.8,141.8 164.2,141.7 164.8,142.0 166.6,145.8 167.2,147.8 168.2,149.8 168.6,151.8 168.9,157.2 169.3,158.2 170.2,159.3 171.8,159.6 179.8,159.6 181.2,159.4 183.2,158.5 184.2,157.8 184.5,157.2 185.8,151.6 186.8,151.0 187.8,151.0 190.8,151.9 191.2,152.4 192.2,154.2 193.9,155.8 194.4,156.8 194.7,160.2 195.2,161.0 196.2,161.2 199.8,160.9 200.3,160.8 201.8,159.5 202.2,159.4 203.0,159.8 204.2,161.2 205.2,161.6 206.8,161.6 209.2,161.1 210.8,161.4 211.8,161.9 212.6,162.8 213.3,165.2 213.5,166.8 211.8,167.0 206.8,167.1 193.2,166.9 189.2,167.1 158.2,167.1 155.4,166.8 155.2,166.0 154.8,165.6 154.2,166.8 152.8,167.0 146.8,167.1 140.5,166.8 140.9,165.8 142.8,164.4 143.2,163.8 143.5,162.8 143.6,159.8 144.2,158.9 146.2,158.1 148.4,157.8 149.2,157.4 150.4,156.2 152.2,155.2 153.2,154.2 153.5,153.8 153.6,152.8 152.4,146.8 152.4,143.2 153.2,139.8 153.5,139.2ZM138.2,142.2 141.8,141.9 142.8,142.2 143.2,142.8 143.5,144.2 143.5,149.2 143.3,150.2 142.8,151.1 142.2,151.3 141.2,151.1 139.8,148.9 138.0,148.2 137.2,147.5 137.0,146.2 137.1,143.2 137.3,142.8ZM45.2,144.8 46.2,144.4 47.2,144.5 48.2,145.2 48.6,146.2 48.6,147.8 47.9,150.2 47.2,151.1 46.8,151.3 45.8,151.2 45.4,150.8 44.8,148.5 44.6,146.2 44.8,145.3ZM61.8,145.6 61.4,146.2 61.5,146.8 61.8,147.1 62.2,147.3 62.8,146.8 62.8,146.0 62.2,145.5ZM134.7,162.2 135.8,162.2 136.2,162.4 136.8,163.1 136.8,163.8 136.2,164.6 134.9,165.2 134.4,165.8 134.0,166.8 131.2,166.9 127.5,166.8 127.8,166.0 128.2,165.4 129.8,164.7 131.2,163.0Z"/>
<path fill="rgb(187, 255, 46)" d="M103.2,118.2 103.8,118.1 104.7,118.3 106.1,119.2 106.3,119.8 105.7,120.8 103.8,122.6 103.2,122.6 102.8,122.0 102.2,121.0 102.1,120.2 102.2,119.2 102.8,118.5ZM90.6,120.2 91.2,120.2 91.8,120.4 93.1,121.8 95.4,125.2 95.7,126.2 94.9,129.8 94.7,139.2 95.6,142.8 96.7,150.8 97.2,152.1 97.8,152.5 98.2,152.3 100.7,151.3 101.4,150.8 101.9,149.8 102.1,146.2 102.8,142.4 103.2,141.8 105.8,140.2 106.6,139.2 106.6,134.2 105.8,133.8 104.2,133.2 103.8,132.7 102.8,131.2 102.5,130.2 102.1,126.8 102.2,125.8 102.8,124.5 103.2,123.9 103.8,123.8 105.2,124.7 107.8,125.4 108.2,125.9 108.8,127.2 109.9,129.2 110.1,130.8 109.7,132.8 109.8,133.2 112.2,135.8 112.9,136.8 113.2,139.8 114.9,142.8 115.1,147.2 116.6,150.2 116.7,160.2 117.0,162.2 117.2,163.0 117.8,163.4 119.2,163.7 120.2,164.5 120.8,165.5 121.0,166.8 111.2,167.1 105.8,166.9 105.2,166.8 105.0,165.8 104.2,164.4 103.8,164.0 103.2,163.9 102.8,164.2 102.2,164.9 101.8,166.8 99.2,167.1 45.8,167.1 39.8,167.0 36.6,166.8 36.3,164.2 36.4,163.8 39.2,160.9 41.4,159.2 44.2,158.0 47.4,155.8 50.0,154.8 50.6,154.2 51.3,151.8 52.4,149.8 52.6,146.8 53.8,144.2 54.0,136.8 54.2,135.4 54.8,134.4 56.4,132.2 57.2,131.6 58.2,131.2 59.8,131.2 62.8,131.8 63.4,132.2 64.2,134.6 65.8,135.9 66.3,136.8 66.9,139.2 67.6,144.2 68.4,146.8 68.1,147.8 67.1,149.8 66.8,154.2 65.8,156.8 65.8,158.2 66.2,159.5 66.8,159.8 67.8,160.0 71.8,160.2 74.2,161.7 75.2,161.9 76.2,161.7 78.2,160.4 80.2,159.7 80.8,159.1 81.0,158.2 81.2,154.2 81.1,140.8 81.4,139.8 82.2,138.6 82.9,137.2 83.1,132.8 84.1,129.8 84.3,126.8 86.5,122.2 87.2,121.7 88.8,121.2ZM154.2,139.2 155.2,139.2 155.8,139.8 156.4,142.8 156.7,147.8 157.2,149.0 157.8,149.3 158.2,149.1 158.8,148.6 159.2,147.8 159.8,146.0 160.2,145.4 162.2,144.5 163.8,143.5 164.2,143.5 165.2,144.3 166.1,145.8 166.8,148.4 168.1,151.8 168.8,157.8 169.8,159.3 170.8,160.0 172.2,160.2 180.2,160.2 181.2,159.9 183.8,158.7 184.3,158.2 184.9,157.2 186.0,152.2 186.6,151.8 187.2,151.7 188.6,152.2 190.2,153.4 192.6,155.8 193.1,156.8 193.4,160.2 193.6,160.8 194.2,161.4 195.2,161.8 196.2,161.9 200.2,161.4 202.2,160.7 204.2,161.7 205.2,161.9 208.8,161.6 209.8,161.7 210.9,162.2 211.8,163.2 212.8,165.1 213.0,166.8 210.2,167.0 206.2,167.1 193.2,166.8 189.2,167.1 157.8,167.0 156.0,166.8 155.8,165.2 155.2,164.4 154.8,164.1 154.1,164.8 153.7,166.8 153.2,166.9 150.8,167.0 142.1,166.8 142.8,165.8 144.6,163.8 145.0,162.8 145.0,160.8 145.4,159.8 146.8,158.8 149.2,158.2 150.1,157.8 152.2,156.1 154.5,153.8 154.5,152.8 153.6,150.8 153.0,146.2 153.2,141.8 153.7,139.8ZM139.9,142.8 140.8,142.4 141.8,142.3 142.7,142.8 142.9,143.2 143.0,144.2 142.8,145.2 142.2,146.1 141.8,146.7 141.2,146.9 139.8,146.4 139.1,145.8 138.9,144.8 138.9,143.8ZM61.8,144.0 60.8,145.2 60.6,146.8 60.8,147.2 61.3,147.8 62.7,147.9 63.4,147.2 63.4,145.8 62.8,144.3 62.2,143.9ZM45.8,145.2 47.0,145.2 47.6,145.8 47.8,146.2 47.8,148.0 47.2,149.0 46.8,149.5 46.2,149.6 45.8,149.2 45.1,147.8 45.1,146.2 45.2,145.7ZM33.0,155.2 33.8,155.2 34.2,155.4 34.9,156.2 35.0,162.8 34.8,163.2 33.8,163.8 33.2,164.3 32.7,165.2 32.5,166.8 30.2,167.0 21.2,167.1 16.8,166.8 16.9,163.2 17.8,160.2 18.3,159.2 20.8,156.9 22.7,155.8 23.8,155.5 25.2,155.7 27.2,156.7 29.8,156.8 30.8,156.6Z"/>
<path fill="rgb(75, 232, 25)" d="M103.1,119.2 103.8,119.0 104.5,119.2 104.7,119.8 104.7,120.2 104.2,120.8 103.8,121.1 103.1,120.8 102.9,119.8ZM90.1,121.2 91.2,121.1 92.2,121.7 92.7,122.2 93.4,123.8 94.9,125.2 95.3,126.2 95.2,127.2 94.4,129.8 94.3,139.2 94.5,140.2 95.3,142.2 96.4,150.8 96.8,152.5 97.2,153.9 97.8,154.1 98.7,153.8 99.4,152.8 101.2,151.6 102.4,150.2 102.6,149.2 102.8,145.5 103.2,142.7 103.8,142.2 105.2,141.4 107.2,140.7 108.0,140.2 108.5,139.2 108.7,136.2 109.2,135.4 110.2,135.3 111.2,136.2 111.8,140.2 112.2,140.9 113.8,142.0 114.2,142.8 114.5,147.2 115.6,150.2 115.7,160.2 116.0,166.8 110.8,167.0 105.8,166.8 105.5,166.8 105.1,165.2 104.2,163.8 103.8,163.2 103.2,163.1 102.8,163.3 101.9,164.8 101.5,166.8 99.2,167.0 52.2,167.1 41.8,167.0 37.8,166.8 37.9,163.8 38.3,162.8 38.8,162.2 41.0,160.8 42.2,159.6 45.2,158.1 47.2,157.5 48.8,156.0 50.2,155.5 51.2,154.8 52.0,152.2 53.4,150.8 53.9,149.8 54.0,146.8 54.6,143.8 54.8,136.2 55.2,135.4 56.5,134.2 57.4,132.2 58.8,131.6 61.8,131.8 62.9,132.2 63.3,132.8 64.0,134.8 65.8,136.6 66.5,139.2 67.6,146.8 67.3,147.8 66.5,149.8 66.2,153.8 65.0,155.8 64.8,156.4 64.7,159.8 65.0,160.8 65.8,161.2 66.2,161.3 71.8,161.4 75.2,162.6 76.8,162.4 81.8,161.0 82.2,160.2 82.3,159.2 82.3,140.8 82.5,139.8 83.5,137.2 83.8,132.8 84.9,130.2 85.2,126.2 86.8,123.1 87.7,122.2ZM103.1,125.8 103.8,125.3 104.2,125.3 106.8,125.7 107.6,126.2 108.9,128.8 109.1,129.8 109.0,130.8 108.2,131.7 107.3,132.1 105.8,132.1 104.2,131.7 103.7,131.2 103.3,130.7 103.0,129.8 102.8,126.8ZM154.2,140.2 154.8,139.8 155.2,140.1 155.5,140.8 155.8,142.8 155.9,147.8 156.5,151.2 156.8,151.5 157.8,151.3 158.5,150.8 160.2,146.6 160.8,145.9 163.8,144.5 164.8,144.7 165.2,145.1 165.9,146.2 166.8,150.4 167.8,152.5 168.5,157.8 169.2,159.2 170.2,160.4 171.8,160.8 179.2,160.8 180.8,160.7 181.8,160.3 183.8,159.2 184.8,158.3 185.2,157.2 186.2,153.2 186.8,152.6 187.2,152.6 188.4,153.8 190.8,154.8 191.7,155.8 192.1,156.8 192.6,160.8 192.8,161.3 193.2,161.9 194.2,162.4 195.8,162.6 202.2,161.5 205.3,162.3 208.8,162.1 209.8,162.2 210.6,162.8 211.0,163.2 212.2,165.5 212.5,166.8 206.8,167.0 195.2,166.9 193.7,166.8 193.2,165.7 192.8,166.1 192.6,166.8 190.2,167.0 157.8,166.9 156.5,166.8 156.3,165.2 155.8,163.3 155.2,162.5 154.8,162.3 154.2,162.5 153.8,163.3 153.3,166.8 151.2,167.0 143.6,166.8 144.1,165.8 145.8,164.4 146.2,163.8 146.5,162.8 146.5,160.8 147.0,159.8 147.8,159.3 152.2,157.6 152.8,157.2 153.8,155.7 155.8,154.6 156.4,153.8 156.5,151.8 156.2,151.5 154.8,151.2 154.2,150.7 154.0,149.8 153.7,147.2 153.7,143.8 153.8,142.2ZM61.2,142.5 60.8,143.0 60.4,143.8 60.0,145.2 59.9,146.8 60.1,147.2 60.8,148.0 61.8,148.4 62.8,148.4 63.2,148.2 63.7,147.8 63.9,147.2 63.8,145.0 63.0,142.8 62.2,142.3ZM141.0,143.2 141.8,143.0 142.2,143.2 142.3,143.8 142.1,144.2 141.8,144.6 141.2,144.5 140.8,143.8ZM45.8,146.2 46.2,146.0 46.9,146.2 47.1,147.2 46.8,147.9 46.2,148.1 45.8,147.6 45.6,146.8ZM23.3,156.2 24.7,156.2 25.9,157.2 26.8,157.7 30.2,158.4 31.2,158.1 32.8,156.1 33.2,156.0 33.9,156.2 34.3,157.2 34.2,160.8 33.8,161.8 33.2,162.2 32.8,163.1 32.0,166.8 27.8,167.0 21.2,167.0 17.2,166.8 17.3,163.2 18.6,159.8 19.8,158.4 21.8,157.5ZM118.4,165.8 119.2,165.3 119.8,165.5 120.3,166.8 118.0,166.8Z"/>
<path fill="rgb(12, 232, 90)" d="M90.5,121.8 91.2,121.8 92.0,122.2 93.0,124.2 94.2,125.3 94.9,126.2 94.8,127.2 93.9,129.2 93.8,130.2 93.9,139.2 94.1,140.2 94.9,141.8 95.2,142.8 96.2,151.2 96.8,154.2 97.2,154.7 97.8,154.9 99.8,154.8 100.8,152.8 103.2,150.2 103.6,149.2 103.5,146.2 103.8,144.0 104.3,142.8 105.8,141.8 108.1,141.2 109.8,140.4 110.2,140.4 112.2,142.2 112.9,143.2 113.2,146.7 114.9,149.8 115.0,160.2 115.4,163.2 115.4,166.8 110.2,167.0 105.8,166.8 105.4,165.2 104.2,162.9 103.2,162.2 102.8,162.3 102.2,162.8 101.4,165.2 101.2,166.8 99.2,167.0 64.2,166.9 52.2,167.0 38.5,166.8 38.6,163.8 39.2,162.5 41.6,161.2 45.2,158.8 47.6,158.2 49.8,157.0 51.2,156.7 52.0,156.2 52.4,155.2 53.0,152.8 55.6,149.8 56.2,147.3 56.7,146.3 57.2,145.8 57.8,146.1 59.4,147.8 60.8,148.6 62.8,148.9 63.8,148.7 64.2,148.2 64.4,147.2 64.3,145.2 63.9,142.8 63.2,141.9 62.2,141.6 60.8,141.8 59.9,142.2 57.8,144.1 57.3,144.2 56.8,143.5 56.2,142.3 55.9,139.8 56.1,136.8 57.2,134.8 57.8,132.8 58.3,132.2 59.2,132.0 61.8,132.2 62.8,132.6 63.7,134.8 65.2,136.8 66.2,139.7 66.9,146.8 66.7,147.8 65.5,149.8 65.2,153.2 64.3,155.2 64.1,156.2 64.0,159.8 64.2,160.8 64.5,161.2 65.2,161.8 65.8,161.9 72.2,162.1 74.8,163.4 75.8,163.6 77.8,163.4 79.8,162.3 81.8,161.8 82.2,161.5 82.8,160.8 83.0,159.8 83.0,140.2 83.3,139.2 84.4,136.8 84.6,133.2 85.5,130.2 85.7,126.2 86.2,125.0 87.2,123.8 89.4,122.2ZM105.4,126.8 106.8,126.9 107.8,127.9 108.2,128.8 108.3,130.2 108.1,130.8 107.5,131.2 106.8,131.4 105.8,131.3 104.8,130.9 104.1,130.2 103.8,129.2 104.0,127.8 104.2,127.2ZM163.4,145.2 164.2,145.2 164.8,145.4 165.4,146.2 166.1,150.8 167.8,155.0 168.3,157.8 169.9,160.8 170.8,161.1 173.2,161.2 180.2,161.1 182.2,160.8 183.8,159.9 184.8,158.9 185.4,157.8 186.2,154.8 186.8,154.3 187.3,154.3 190.2,155.2 190.8,155.5 191.3,156.2 192.1,161.2 193.0,163.2 193.1,163.8 192.2,165.2 192.0,166.8 189.8,166.9 180.8,167.0 160.8,166.9 156.9,166.8 156.2,162.4 155.8,161.4 154.8,160.6 153.8,161.4 153.2,162.8 153.0,166.8 151.2,166.9 145.1,166.8 145.8,165.8 148.0,163.2 148.4,160.8 149.2,159.8 151.2,158.6 154.2,158.4 155.5,157.2 157.2,156.1 157.8,154.9 158.1,153.2 159.2,151.2 159.8,149.3 160.2,148.4 161.7,146.2ZM23.1,157.8 23.8,157.4 24.2,157.4 25.9,158.2 28.2,158.8 30.2,160.0 31.8,160.5 32.0,161.2 32.0,162.8 31.6,166.8 27.8,167.0 21.2,167.0 17.6,166.8 17.9,163.2 19.2,159.8 20.2,158.8 22.1,158.2ZM201.0,162.2 202.2,162.1 205.2,162.6 208.8,162.5 209.7,162.8 210.5,163.8 211.6,165.8 211.8,166.8 205.8,167.0 194.5,166.8 194.5,164.8 194.8,164.0 197.8,162.7Z"/>
<path fill="rgb(0, 238, 204)" d="M90.1,122.8 90.8,122.5 91.2,122.6 92.6,124.8 94.2,126.2 94.2,127.2 93.4,128.8 93.2,129.8 93.1,133.2 93.5,139.8 94.7,141.8 95.0,142.8 96.4,154.2 96.8,155.0 97.2,155.4 98.8,156.3 99.4,158.2 99.9,160.8 101.1,162.2 101.2,162.7 100.8,166.8 98.2,167.0 92.8,167.0 78.2,166.8 52.2,167.0 39.2,166.8 39.3,163.8 40.0,162.8 43.8,161.0 45.0,159.8 45.7,159.3 49.2,158.6 52.2,158.4 53.3,157.9 53.9,156.8 54.0,153.8 54.3,152.8 55.2,151.8 56.8,151.1 57.2,150.6 57.9,149.2 58.8,148.7 61.2,149.4 63.2,149.6 63.9,150.2 64.0,152.8 63.4,156.2 63.3,159.8 63.8,161.2 64.8,162.2 66.2,162.7 71.9,162.8 73.0,163.2 74.5,164.8 76.8,165.0 77.8,165.0 78.8,164.6 79.9,163.2 81.8,162.5 82.8,161.8 83.5,160.8 83.6,159.8 83.7,140.2 84.0,139.2 85.0,137.8 85.3,136.8 85.4,133.2 86.0,130.2 86.1,126.2 86.8,125.1 89.1,123.8ZM106.1,128.2 106.8,128.3 107.2,128.6 107.6,129.2 107.5,130.2 106.8,130.7 105.8,130.4 105.2,129.8 105.4,128.8ZM58.7,132.8 60.2,132.6 62.2,132.9 64.5,136.8 65.8,140.2 66.2,146.2 65.8,147.7 65.2,147.6 64.6,142.8 64.2,141.8 63.8,141.3 62.2,140.9 58.8,141.3 58.2,141.1 57.8,140.5 57.5,139.2 57.5,136.8 58.3,133.5ZM109.3,141.8 110.3,141.8 111.2,142.8 111.8,147.5 112.2,148.1 113.8,149.0 114.2,150.1 114.3,159.8 115.0,163.2 115.0,166.8 110.2,167.0 106.2,166.8 106.0,165.8 104.7,162.8 103.8,161.7 102.7,161.2 102.1,160.8 101.1,157.8 101.1,155.8 101.6,152.8 102.8,151.4 104.5,150.2 104.8,149.8 104.4,146.2 105.1,143.2 105.5,142.8 106.2,142.3ZM163.1,146.2 163.8,145.9 164.2,145.9 164.8,146.3 165.4,150.8 166.1,153.8 167.2,155.4 168.1,158.2 169.2,160.7 169.8,161.1 171.8,161.5 179.8,161.5 182.0,161.2 183.7,160.8 184.2,160.3 185.6,158.2 186.3,156.2 186.8,155.5 187.2,155.3 189.7,155.8 190.2,156.0 190.8,156.7 191.4,159.2 192.0,163.2 191.5,166.8 180.8,166.9 161.2,166.9 157.4,166.8 157.1,162.8 156.6,160.8 156.7,159.8 157.2,158.8 158.2,158.1 158.7,157.2 159.0,155.2 160.3,149.8 160.8,149.0 162.2,147.8ZM23.2,158.8 24.2,158.7 27.8,159.5 29.2,161.3 30.8,162.3 31.2,163.5 31.0,166.8 21.2,167.0 18.1,166.8 18.5,163.2 19.8,160.2 20.2,159.6 20.8,159.3ZM150.6,159.8 151.8,159.4 152.6,159.8 152.8,160.2 152.4,163.2 152.7,166.8 151.2,166.9 146.6,166.8 147.2,165.6 149.2,164.4 149.7,163.8 150.0,162.8 150.1,160.8ZM201.6,162.8 209.2,163.2 209.8,163.6 210.2,164.5 211.1,166.8 205.8,167.0 195.2,166.8 195.4,165.8 195.7,165.2 198.2,163.2Z"/>
<path fill="rgb(0, 216, 250)" d="M90.1,124.2 90.8,124.0 91.2,124.2 92.8,125.8 93.3,126.8 92.6,128.8 92.5,130.2 92.5,133.2 92.9,136.2 93.0,139.8 93.5,140.8 94.4,141.8 94.8,142.8 96.2,154.8 98.4,158.2 99.2,160.8 100.5,163.2 100.4,166.8 92.8,167.0 80.3,166.8 81.3,164.2 83.6,161.8 84.4,160.2 84.7,152.8 84.6,140.8 84.7,139.8 85.7,137.8 86.0,136.8 86.0,133.2 86.4,130.2 86.6,126.2 87.2,125.3ZM60.3,133.8 61.8,133.8 62.2,134.1 63.4,135.8 64.0,137.2 64.0,138.8 63.8,139.5 63.1,139.8 61.2,139.8 60.2,139.7 59.5,139.2 59.1,137.8 59.1,135.8 59.6,134.2ZM106.5,143.8 107.8,143.5 109.2,143.8 109.9,145.2 110.2,149.2 112.2,150.4 112.8,150.9 113.1,152.8 113.3,159.8 113.5,160.8 114.4,162.8 114.6,166.8 110.2,166.9 106.9,166.8 104.9,162.2 102.2,158.9 101.9,158.2 101.6,156.2 102.3,152.8 103.2,151.8 104.8,151.2 106.1,150.2 106.1,149.8 105.2,147.8 105.1,146.2 105.6,144.8ZM60.0,152.2 60.2,152.1 60.8,152.2 61.8,153.8 62.1,155.8 62.1,159.8 62.5,160.8 66.4,164.8 67.2,165.9 67.8,166.2 68.2,166.2 68.2,166.8 52.8,167.0 40.2,166.8 40.2,164.2 40.8,163.2 41.4,162.8 42.3,162.2 44.2,161.7 46.2,160.5 48.8,160.2 51.8,160.0 52.8,159.7 55.6,156.8 56.0,154.8 56.5,153.8ZM162.0,152.8 162.2,152.4 162.8,152.3 163.2,152.8 164.8,156.0 166.8,157.1 167.8,158.4 168.8,160.8 169.3,161.2 170.2,161.6 180.2,161.7 183.8,161.3 184.7,160.8 185.8,158.8 187.2,157.0 188.2,156.9 189.2,157.0 190.2,157.8 190.9,159.2 191.4,163.2 191.1,166.8 158.3,166.7 158.1,160.2 159.2,158.1 159.7,155.8 160.1,154.8 160.8,153.8ZM20.7,160.8 21.8,160.4 23.8,160.3 26.2,160.3 27.2,160.6 28.7,161.8 30.0,163.2 30.2,164.2 30.2,166.8 21.2,166.9 18.6,166.8 19.2,162.8 19.8,161.9ZM200.6,163.8 206.8,163.7 208.8,163.9 209.8,164.9 210.2,165.7 210.4,166.8 205.8,166.9 196.3,166.8 196.8,165.8 198.2,164.3 199.2,163.9ZM151.0,164.2 151.2,164.1 151.8,164.5 152.2,165.8 152.3,166.8 148.5,166.8 149.8,165.2Z"/>
<path fill="rgb(0, 173, 255)" d="M90.5,125.2 91.2,125.4 91.7,125.8 92.3,126.8 91.9,129.2 91.8,132.8 92.4,136.2 92.6,139.8 93.0,140.8 94.2,142.0 94.6,142.8 95.0,145.8 95.8,154.2 96.9,157.8 98.0,159.2 98.6,160.8 99.6,162.8 99.9,163.8 99.9,166.8 92.8,167.0 82.3,166.8 82.5,165.2 83.0,163.8 84.8,161.6 85.3,160.2 85.4,156.2 86.0,152.2 86.0,143.8 85.4,140.2 86.6,136.8 87.1,126.8 87.3,126.2 87.8,125.9ZM61.7,135.2 62.2,135.4 62.8,135.8 63.2,136.8 63.0,137.8 62.8,138.1 62.2,138.3 61.3,138.1 60.7,137.2 60.7,136.2 60.9,135.8ZM106.7,145.2 107.2,145.2 107.8,145.4 108.3,146.2 108.3,147.2 108.1,147.8 107.2,148.3 106.8,148.3 106.2,148.0 105.8,147.2 105.8,146.2 106.2,145.5ZM105.7,151.8 107.2,151.5 109.8,151.5 110.5,151.8 111.1,152.2 111.4,153.2 111.5,156.8 112.3,160.8 112.8,161.6 113.8,162.7 113.9,163.2 114.0,166.8 107.8,166.8 107.5,165.8 106.2,164.1 104.1,159.8 102.5,158.2 102.1,157.2 102.1,156.2 102.8,153.2 103.2,152.5 103.7,152.2ZM58.6,155.2 59.2,155.2 59.8,155.4 60.3,156.2 60.5,160.2 60.9,161.2 61.2,161.6 63.2,162.8 63.7,163.8 63.2,164.6 61.2,165.4 60.8,166.0 60.6,166.8 52.8,166.9 41.5,166.8 41.6,164.2 41.7,163.8 42.2,163.1 43.0,162.8 48.2,161.5 52.2,161.3 53.2,161.0 54.8,159.1 56.6,158.2 57.1,157.8 57.9,155.8ZM160.6,155.8 161.2,155.3 161.8,155.4 162.2,156.0 162.8,157.5 163.2,158.1 164.2,158.4 166.8,158.6 167.5,159.2 168.8,161.2 169.8,161.8 170.8,162.0 180.2,162.0 183.8,161.6 184.8,161.3 185.2,160.9 186.2,159.2 186.8,158.8 188.2,158.5 189.7,158.8 190.2,159.2 190.4,159.8 190.8,162.7 190.5,166.8 159.5,166.8 159.5,160.2 160.2,156.6ZM24.8,161.8 26.8,161.4 27.8,161.8 28.3,162.2 29.1,163.8 29.2,166.8 19.0,166.8 19.3,164.8 19.8,163.3 20.2,162.5 21.2,162.1ZM203.4,164.8 205.7,164.4 207.8,164.7 208.8,165.1 209.2,165.5 209.8,166.8 197.6,166.8 198.1,165.8 198.8,165.2ZM150.7,165.8 151.2,165.6 151.8,166.8 150.1,166.8Z"/>
<path fill="rgb(2, 122, 250)" d="M89.0,132.8 89.2,132.4 89.8,132.6 90.8,133.6 91.8,135.2 92.3,140.2 94.3,142.8 95.2,149.2 95.6,154.2 96.2,157.5 97.4,160.2 99.1,162.8 99.4,163.8 99.4,166.8 92.8,166.9 83.0,166.8 83.2,165.8 83.6,164.8 85.8,161.2 86.0,160.2 86.2,155.8 87.4,153.2 87.5,143.8 87.2,142.8 86.2,141.0 86.2,139.8 86.5,138.8 87.8,136.8 88.2,134.2 88.8,133.0ZM103.9,153.8 104.2,153.6 105.2,153.6 107.2,154.2 108.0,154.8 110.8,157.9 111.3,159.2 111.8,161.6 112.9,163.8 113.0,166.8 108.5,166.8 108.2,165.2 107.8,164.4 105.7,161.8 105.2,160.8 104.8,159.2 104.4,158.8 103.2,158.2 102.6,157.2 102.5,156.2 102.8,155.2 103.2,154.3ZM55.3,160.8 55.8,160.5 56.8,160.3 57.8,160.3 58.2,160.5 59.5,163.2 59.0,166.8 52.8,166.9 43.0,166.8 43.3,164.8 43.6,164.2 44.2,163.9 46.2,163.4 48.8,162.2 53.2,161.8ZM164.4,160.8 165.8,160.3 166.8,160.3 168.9,161.8 170.2,162.2 180.2,162.2 184.8,161.8 186.0,161.2 186.8,160.7 187.8,160.4 188.8,160.7 189.1,161.2 189.5,162.8 189.5,164.2 189.2,165.5 188.8,166.8 163.1,166.8 162.8,165.0 162.8,162.2 162.8,161.8 163.4,161.2ZM26.0,162.2 27.2,162.2 27.8,162.5 28.2,163.2 28.5,164.2 28.5,166.8 19.5,166.8 19.8,165.2 20.8,163.8 21.8,163.6 23.8,163.7 24.9,162.8ZM204.5,165.2 205.8,165.1 207.0,165.2 208.0,165.8 208.7,166.8 202.3,166.8 203.4,165.8Z"/>
<path fill="rgb(8, 68, 240)" d="M89.9,135.8 90.2,135.5 90.8,135.5 91.2,135.9 91.5,139.2 91.8,140.2 92.5,141.2 93.8,142.5 94.1,143.2 94.7,146.2 95.4,154.2 96.0,158.2 96.7,160.8 98.2,162.1 98.8,162.9 99.0,164.2 99.0,166.8 92.8,166.9 83.7,166.8 84.0,165.8 85.1,164.2 86.4,161.2 86.6,160.2 86.8,156.2 87.2,155.4 88.2,154.3 88.5,153.2 88.4,142.8 88.2,142.0 87.0,140.8 86.9,139.8 87.2,139.1 89.1,137.8ZM103.4,155.8 103.8,155.5 104.2,155.5 104.5,155.8 104.8,156.2 104.8,157.3 104.2,157.6 103.8,157.5 103.4,157.2 103.2,156.2ZM106.2,158.8 107.2,158.5 109.2,158.5 109.9,158.8 110.5,159.2 111.4,163.8 111.5,166.8 109.2,166.8 109.0,165.2 108.2,162.9 107.8,162.3 106.2,161.4 105.9,160.8 105.8,159.7ZM166.4,161.8 167.2,161.5 169.8,162.4 171.2,162.5 180.8,162.5 186.8,162.2 187.6,162.8 187.8,163.8 187.6,164.2 186.8,164.9 183.8,165.6 167.8,165.6 166.2,165.2 165.5,164.2 165.5,162.8ZM54.7,162.2 56.2,162.2 57.1,162.8 57.4,163.8 57.5,166.8 44.6,166.8 44.8,166.0 45.2,165.4 47.2,164.6 48.8,163.0 49.8,162.7 52.8,162.6ZM26.0,163.2 26.8,163.0 27.2,163.1 27.7,163.8 27.8,166.8 25.5,166.8 25.6,164.2ZM21.1,165.2 21.8,165.4 22.1,165.8 22.5,166.8 20.0,166.8 20.3,165.8 20.8,165.3ZM204.5,166.2 205.2,165.8 206.3,165.8 207.0,166.2 207.3,166.8 204.2,166.8Z"/>
<path fill="rgb(35, 23, 229)" d="M89.3,140.2 89.8,139.9 90.2,139.8 90.8,140.0 93.0,142.2 93.6,143.2 94.2,145.5 94.8,149.2 95.1,154.2 96.0,160.2 96.3,161.2 97.8,162.3 98.4,163.2 98.6,166.8 92.8,166.9 84.8,166.8 85.8,164.6 86.3,162.8 87.6,160.2 87.8,156.8 88.9,154.2 89.1,152.8 89.1,141.2ZM167.1,162.2 171.2,162.9 184.2,162.7 185.7,163.2 185.9,163.8 185.5,164.2 184.8,164.7 183.2,165.0 167.8,164.9 166.8,164.6 166.2,163.8 166.4,162.8ZM51.7,163.8 53.8,163.8 55.2,164.2 55.6,165.2 55.7,166.8 48.7,166.8 50.1,164.2Z"/>
<path fill="rgb(95, 0, 229)" d="M90.2,141.2 90.8,141.1 91.2,141.3 92.4,142.2 93.0,143.2 93.8,145.3 94.7,149.8 94.9,154.2 95.6,160.8 96.2,162.1 97.8,163.2 98.0,164.2 98.0,166.8 86.1,166.8 86.8,163.2 87.2,162.5 88.2,161.6 88.8,160.5 88.9,156.8 89.5,153.2 89.6,142.8 89.8,141.8ZM167.2,163.2 167.8,163.0 171.2,163.5 180.2,163.5 182.8,163.3 183.8,163.5 184.1,163.8 183.2,164.2 182.2,164.2 168.2,164.3 167.2,163.9ZM52.1,165.2 52.8,165.2 53.2,165.4 53.8,166.0 53.9,166.8 51.1,166.8 51.4,165.8Z"/>
<path fill="rgb(175, 0, 255)" d="M90.2,142.2 90.7,141.9 91.2,141.9 92.2,142.8 94.2,149.1 95.1,160.8 95.6,162.2 96.8,163.8 96.9,164.2 97.0,166.8 87.8,166.8 88.1,163.8 89.2,161.8 89.4,160.8 89.5,156.8 89.9,153.2 90.0,143.8Z"/>
<path fill="rgb(228, 0, 255)" d="M90.7,143.2 90.8,143.0 91.2,142.8 91.6,143.2 92.6,147.2 93.8,149.2 93.9,149.8 94.6,160.8 95.4,163.8 95.5,166.8 89.5,166.8 89.5,163.8 90.1,160.8Z"/></g></g>
<g transform="translate(52.9,211.7)" clip-path="url(#clipC)"><rect width="220.4" height="166.7" fill="#e00000"/><g filter="url(#bl)"><path fill="rgb(228, 6, 0)" d="M18.7,7.2 19.8,7.4 20.2,7.9 20.9,9.2 21.1,10.2 21.0,11.8 20.7,12.8 20.0,13.8 19.2,14.2 18.2,14.0 17.8,13.5 17.1,12.2 16.9,11.2 17.0,9.8 17.3,8.8 17.8,7.9ZM18.3,20.8 18.8,20.5 19.2,20.5 19.8,20.8 20.4,21.8 20.7,22.8 20.8,24.2 20.5,25.8 20.0,26.8 19.2,27.3 18.8,27.3 18.0,26.8 17.5,25.8 17.3,24.8 17.4,22.2ZM100.2,28.8 100.8,28.6 101.2,28.7 101.8,29.3 102.4,30.8 102.8,33.2 102.8,35.2 102.4,37.2 101.8,38.6 101.2,39.1 100.8,39.2 100.2,39.1 99.8,38.8 99.2,37.8 98.6,34.8 98.6,32.8 99.0,30.8 99.7,29.2ZM18.3,30.2 18.8,30.0 19.2,30.0 20.1,30.8 20.9,32.8 21.2,34.2 21.2,37.2 20.9,39.2 20.2,40.8 19.8,41.5 19.2,41.8 18.8,41.8 18.2,41.5 17.7,40.8 17.1,39.2 16.8,37.2 17.0,33.2 17.6,31.2ZM18.2,45.8 18.8,45.4 19.2,45.4 19.8,45.7 20.4,46.8 20.9,48.8 20.9,50.8 20.6,52.2 19.9,53.8 19.2,54.2 18.7,54.2 18.2,53.9 17.8,53.2 17.4,52.2 17.1,50.8 17.0,49.2 17.3,47.8 17.6,46.8ZM18.3,57.2 18.8,56.9 19.2,56.9 20.0,57.8 20.6,59.2 21.1,62.2 21.1,66.8 20.3,70.2 20.9,71.8 21.5,74.2 21.7,78.8 21.4,81.8 20.6,84.8 21.6,90.8 21.9,99.8 21.6,107.8 20.8,113.2 21.5,114.8 21.8,116.2 21.9,117.8 21.7,119.8 22.3,120.8 22.8,122.4 24.2,124.2 24.5,125.2 24.6,141.8 25.1,144.2 25.2,148.8 25.6,151.8 25.8,152.3 26.2,152.8 26.6,152.2 26.8,151.2 26.9,120.8 27.8,117.4 28.2,116.8 29.2,116.1 29.7,115.2 29.9,107.7 30.4,105.2 30.8,104.4 31.3,103.9 32.2,103.7 32.8,103.9 33.4,104.8 34.0,106.8 34.3,108.8 34.8,109.6 36.2,110.8 37.1,112.8 37.8,113.3 39.2,113.9 40.6,115.8 41.2,116.2 42.2,116.5 43.8,116.5 44.8,116.2 45.2,115.9 46.3,114.2 47.8,113.0 48.2,112.2 48.5,110.2 49.4,107.2 49.9,106.8 50.8,106.4 52.2,106.0 53.8,105.9 54.7,106.2 55.2,106.7 56.1,109.2 57.8,110.9 58.5,113.8 59.2,118.5 59.8,118.8 60.1,118.2 60.6,116.2 61.4,114.2 62.2,113.7 63.2,113.7 64.2,114.2 65.2,115.9 67.2,117.2 68.0,118.8 70.2,119.8 71.0,120.8 71.1,121.8 71.2,131.9 71.8,133.0 72.8,133.8 73.4,134.8 73.5,141.2 73.8,142.2 74.8,143.2 75.8,143.5 77.2,143.4 77.9,143.2 78.5,142.8 78.8,141.8 78.9,137.8 79.4,135.2 79.5,133.2 79.5,122.2 78.9,118.8 78.8,111.8 79.0,110.2 79.6,107.8 80.2,106.9 81.8,106.5 83.8,106.5 84.5,106.8 85.1,107.2 85.7,108.2 86.2,108.9 87.1,109.2 89.2,109.6 91.2,110.3 92.8,112.7 93.8,113.1 94.2,112.9 94.7,112.2 95.3,110.8 97.3,109.2 98.4,107.2 99.0,106.8 100.8,106.5 103.0,106.8 103.6,107.2 104.8,109.2 105.8,109.7 106.6,109.2 107.4,107.2 108.1,106.8 108.8,106.7 109.2,106.9 109.9,107.8 110.0,111.2 110.3,112.2 111.2,113.2 112.8,113.9 114.1,115.8 114.8,116.2 115.2,116.3 118.8,115.8 123.8,116.1 124.2,115.8 124.4,115.2 125.0,110.8 125.8,109.8 126.8,109.4 127.8,109.4 130.6,110.2 131.4,111.2 132.5,115.8 134.2,117.2 135.1,119.2 136.8,120.3 137.4,121.2 137.6,128.2 138.1,131.8 137.6,135.2 137.5,139.8 137.8,140.0 139.8,140.1 140.6,140.8 141.5,143.8 141.6,144.8 141.5,145.8 141.2,146.3 140.2,147.0 138.8,147.1 134.8,146.5 133.2,146.7 132.8,147.1 132.4,147.8 132.2,148.8 132.2,154.5 132.8,155.4 133.8,155.8 138.8,155.8 140.2,155.4 142.8,152.9 143.1,152.2 143.3,151.2 143.4,147.2 143.8,145.2 143.4,142.8 143.0,138.8 143.0,125.2 142.7,124.2 141.3,122.8 141.1,122.2 140.4,119.2 140.4,117.2 141.2,114.4 142.7,112.8 142.9,112.2 143.3,108.8 143.4,104.2 144.1,101.2 144.3,100.8 145.7,99.2 145.9,98.8 146.0,96.8 145.8,87.7 146.4,77.8 147.0,73.8 147.6,71.2 148.2,69.8 148.8,69.3 149.2,69.2 149.8,69.5 150.2,70.3 150.9,72.2 151.5,75.2 151.9,79.2 152.3,86.8 152.4,91.2 152.1,97.8 151.6,102.2 151.8,102.7 152.2,101.7 152.5,100.2 153.4,97.2 155.2,95.9 156.8,93.9 157.8,93.7 158.2,93.9 158.9,94.8 160.0,99.2 161.8,100.9 162.6,104.2 162.7,141.8 163.2,147.2 163.4,153.8 163.6,154.8 164.2,155.2 164.8,155.3 171.8,155.3 172.8,155.2 173.8,154.5 174.4,151.8 174.6,147.8 174.8,147.2 176.2,145.8 176.4,145.2 176.6,140.8 177.1,136.2 177.8,134.4 179.2,133.1 179.8,131.8 179.8,128.8 179.6,127.8 179.2,127.0 178.2,126.2 177.6,125.2 177.5,123.2 177.6,121.2 178.2,120.3 179.4,119.2 180.3,116.8 181.2,116.0 182.8,115.9 185.2,116.6 186.1,117.2 186.4,117.8 186.5,124.2 187.1,127.8 187.2,132.0 187.8,133.1 189.2,133.9 189.9,134.8 190.6,137.2 190.8,141.8 191.2,142.5 191.4,142.2 191.8,141.5 192.3,138.2 192.3,131.8 191.8,130.4 190.8,129.7 190.2,129.1 189.5,126.2 189.4,124.2 190.1,121.2 190.8,120.3 191.8,119.5 192.2,118.8 192.6,116.2 193.3,114.2 195.3,112.8 196.3,110.8 198.3,109.2 199.4,107.3 200.1,106.8 200.8,106.7 201.6,107.3 202.7,109.2 204.7,110.8 205.6,114.2 205.6,115.8 205.1,117.8 205.0,119.2 205.0,121.8 205.6,124.2 205.7,125.8 205.6,132.2 205.2,135.2 205.8,136.1 207.1,136.8 207.6,137.2 208.6,140.8 208.7,151.8 209.0,155.2 209.0,166.2 14.5,166.2 14.2,157.8 14.2,148.2 14.5,137.2 14.4,125.2 14.9,121.2 15.3,120.2 16.2,119.2 16.1,117.8 16.3,115.8 16.5,114.8 17.2,113.2 16.4,107.2 16.1,98.8 16.4,90.8 17.4,84.8 16.5,81.2 16.3,77.2 16.6,73.8 17.1,71.8 17.7,70.2 16.9,66.2 16.9,61.8 17.5,58.8ZM99.9,59.2 100.8,58.8 101.2,59.0 102.0,59.8 102.7,61.2 103.6,64.8 104.1,69.8 104.0,74.8 103.4,79.2 102.2,82.4 101.6,83.2 100.8,83.7 100.2,83.6 99.7,83.2 99.1,82.2 98.5,80.8 97.7,77.2 97.3,72.8 97.3,68.2 97.9,64.2 98.8,61.0ZM196.2,66.8 197.8,66.4 198.8,66.7 199.5,67.2 200.2,68.1 200.9,69.2 201.5,71.8 201.6,74.8 200.9,77.2 199.6,79.2 198.8,79.9 197.8,80.2 196.2,79.9 195.0,78.8 193.9,76.8 193.4,74.8 193.4,72.2 193.9,69.8 194.8,68.1ZM123.2,74.8 124.2,74.5 125.2,74.9 126.2,76.2 126.8,78.2 126.8,80.2 126.3,82.2 125.2,83.7 124.2,84.1 123.2,83.9 122.5,83.2 121.8,81.8 121.4,80.2 121.4,78.2 121.8,76.8 122.2,75.7ZM133.2,74.8 134.2,74.5 135.2,74.9 136.2,76.2 136.8,78.2 136.8,80.2 136.3,82.2 135.2,83.7 134.2,84.1 133.2,83.9 131.9,82.8 131.4,80.2 131.4,78.2 131.8,76.8 132.2,75.7ZM86.5,76.8 87.8,76.7 88.6,77.2 89.5,80.2 89.8,82.2 90.2,83.1 91.8,84.4 92.6,87.2 92.6,99.2 91.8,102.5 91.2,103.1 90.8,103.3 89.8,103.1 89.2,102.5 88.8,101.2 88.2,100.6 86.4,99.8 85.9,99.3 84.7,94.8 84.2,93.9 83.2,93.2 82.8,92.6 81.9,89.2 81.9,84.8 82.6,81.2 83.2,80.3 84.9,79.2 85.9,77.2ZM204.0,80.2 204.8,79.8 205.7,79.9 206.3,80.3 206.8,81.2 207.0,82.2 206.8,83.2 206.3,84.2 205.8,84.7 204.8,84.8 204.2,84.5 203.8,84.0 203.4,83.2 203.3,81.8 203.6,80.8ZM193.0,87.2 193.8,86.8 194.8,86.9 195.2,87.3 195.8,88.2 196.0,89.2 195.8,90.2 195.3,91.2 194.8,91.7 193.8,91.8 193.2,91.5 192.8,91.0 192.4,90.2 192.3,88.8 192.6,87.8ZM102.1,90.2 102.8,90.2 103.2,90.4 103.8,91.2 103.8,92.2 103.6,92.8 102.8,93.3 101.8,93.1 101.2,92.2 101.2,91.0 101.8,90.4ZM118.8,93.8 119.2,93.6 119.7,94.2 120.1,96.2 120.0,99.2 119.8,100.2 119.2,101.0 118.8,100.8 118.5,100.2 118.1,98.2 118.2,95.8ZM94.2,124.1 93.8,124.3 93.6,124.8 93.5,127.8 93.6,134.8 93.8,135.4 94.2,135.5 94.8,134.9 94.9,134.2 95.0,126.8 94.8,124.7ZM52.8,134.0 52.3,134.8 52.4,135.2 52.8,135.8 53.2,136.0 53.8,135.9 54.1,135.2 53.9,134.2 53.2,133.8ZM35.2,134.7 34.8,134.8 34.4,135.2 34.2,136.8 34.3,138.2 34.8,138.9 35.2,139.0 35.9,138.8 36.3,138.2 36.5,136.8 36.2,135.2 35.8,134.8ZM59.2,137.1 58.8,138.2 59.1,139.2 59.8,139.8 60.7,139.9 60.9,139.8 61.0,139.2 60.7,137.8 60.2,137.2 59.8,136.9ZM157.2,137.2 156.8,138.2 156.7,139.8 156.8,141.8 157.2,142.8 157.8,142.8 158.1,142.2 158.2,141.6 158.3,139.8 158.1,137.8 157.8,137.2ZM61.2,140.0 61.0,140.2 61.0,141.2 61.3,142.2 61.6,142.8 62.2,143.3 63.8,143.9 65.2,146.1 65.8,146.2 66.2,146.0 66.8,144.9 66.8,142.8 66.7,141.2 66.2,140.5 65.2,140.0ZM136.2,140.2 135.6,140.8 135.3,141.8 135.5,142.8 135.8,143.0 136.2,143.1 136.8,142.8 137.2,142.2 137.5,140.8 137.4,140.2 137.2,140.1ZM47.2,151.0 46.8,151.8 46.7,153.8 46.8,154.8 47.2,155.6 47.8,155.3 47.9,154.2 47.8,152.1ZM35.2,154.1 34.7,154.8 34.8,155.4 35.2,155.9 35.8,155.8 36.1,155.2 36.1,154.8 35.8,154.2Z"/>
<path fill="rgb(243, 47, 0)" d="M18.6,8.2 19.2,8.1 19.8,8.4 20.3,9.2 20.5,10.2 20.5,11.2 20.2,12.2 19.8,13.0 19.2,13.2 18.8,13.2 18.2,13.0 17.8,12.2 17.5,11.2 17.5,10.2 17.7,9.2ZM18.7,22.2 19.2,22.2 19.9,23.2 19.8,24.8 19.2,25.6 18.8,25.6 18.4,25.2 18.1,24.2 18.2,22.8ZM100.2,30.8 100.8,30.5 101.3,30.8 101.8,31.8 102.0,33.2 102.0,34.8 101.8,36.0 101.2,37.0 100.8,37.3 100.3,37.1 99.8,36.3 99.4,34.8 99.5,32.2ZM18.3,31.8 18.8,31.4 19.2,31.4 19.8,31.8 20.4,33.2 20.7,34.8 20.7,36.8 20.5,38.2 19.9,39.8 19.2,40.5 18.8,40.5 18.1,39.8 17.6,38.8 17.3,37.2 17.4,34.2 17.7,32.8ZM18.5,46.8 18.8,46.5 19.2,46.5 19.8,47.0 20.4,48.8 20.3,51.2 19.8,52.6 19.2,53.1 18.8,53.1 18.2,52.6 17.6,50.8 17.7,48.2 18.1,47.2ZM18.6,58.8 19.2,58.6 19.8,59.2 20.3,60.8 20.6,63.2 20.4,67.2 19.9,68.8 19.2,69.6 18.8,69.6 18.1,68.8 17.6,67.2 17.4,65.2 17.6,61.2 18.0,59.8ZM100.2,61.8 100.8,61.3 101.2,61.8 101.6,62.8 102.1,64.8 102.5,69.2 102.5,72.2 102.2,74.8 101.8,76.6 101.2,77.5 100.8,77.8 100.2,77.6 100.0,77.2 99.4,75.8 98.9,71.2 99.1,66.8 99.6,63.2ZM197.1,69.8 197.8,69.7 198.8,70.3 199.3,71.2 199.6,72.8 199.6,74.2 199.2,75.4 198.8,76.3 197.8,76.9 196.8,76.7 196.2,76.2 195.7,75.2 195.3,73.8 195.4,72.2 195.8,71.2 196.2,70.3ZM18.4,71.2 18.8,71.0 19.2,71.0 20.0,71.8 20.7,73.8 21.1,76.2 21.1,79.2 20.7,81.8 20.1,83.8 19.2,84.6 18.8,84.6 18.3,84.2 17.8,83.4 17.1,81.2 16.9,79.2 16.9,76.8 17.2,74.2 17.7,72.2ZM148.7,72.2 149.2,72.1 149.8,72.5 150.2,73.6 150.9,76.2 151.2,79.2 151.6,91.8 151.3,96.8 150.6,101.8 150.8,103.2 151.2,104.1 151.8,104.3 152.2,104.0 152.8,103.0 153.2,100.8 153.8,99.4 154.8,97.8 156.2,96.3 157.2,95.5 157.8,95.6 158.2,96.0 158.7,96.8 159.3,99.8 161.4,103.2 161.9,104.8 162.0,141.2 162.8,147.8 163.0,154.2 163.2,155.2 163.8,155.6 164.8,155.8 172.2,155.8 173.8,155.5 174.4,154.8 175.7,151.8 175.9,148.2 176.9,145.8 177.1,140.8 177.7,137.2 178.2,135.9 179.8,134.1 180.3,132.8 180.5,128.2 180.2,127.2 178.9,124.8 178.8,122.2 179.1,121.2 180.2,119.2 180.8,117.5 181.5,116.8 182.2,116.6 183.2,116.8 184.0,117.2 184.9,118.2 185.1,120.2 185.2,124.6 186.4,127.8 186.7,132.8 187.2,134.1 189.2,135.9 189.8,136.9 190.0,138.2 190.1,142.2 190.4,143.2 190.8,143.9 191.2,144.0 191.8,143.6 192.2,142.2 192.9,138.2 193.0,131.8 192.7,130.2 190.3,126.2 190.1,125.2 190.2,124.2 191.5,121.2 192.7,119.2 193.3,116.8 194.5,114.8 196.8,112.2 198.8,109.8 199.8,108.9 200.2,108.6 200.8,108.6 201.8,109.3 203.1,110.8 204.7,113.8 204.9,114.8 204.8,116.1 203.8,118.2 203.6,121.3 203.8,122.2 204.7,123.8 204.9,124.8 205.0,131.8 204.8,133.1 203.9,134.8 203.6,135.8 203.8,136.8 204.2,137.6 206.2,138.4 206.8,138.8 207.7,140.2 207.9,141.2 208.0,151.8 208.4,155.8 208.4,165.2 208.2,165.6 203.8,165.7 21.8,165.7 15.2,165.6 15.0,165.2 14.7,158.2 14.7,148.2 15.1,137.2 14.8,131.8 14.8,125.2 15.0,123.8 15.6,121.2 15.9,120.8 16.9,119.8 16.7,117.8 16.9,115.8 17.8,114.0 18.8,113.3 19.8,113.5 20.2,114.0 21.1,115.8 21.3,117.8 21.1,119.8 21.7,120.8 22.2,122.6 23.1,124.2 23.4,125.2 23.4,131.8 23.2,137.2 23.5,141.8 24.4,144.8 24.6,148.8 25.2,152.8 25.8,153.9 26.2,154.3 26.8,154.5 27.3,154.2 27.5,153.2 27.6,121.2 28.1,119.8 29.8,117.1 30.3,115.8 30.6,107.8 31.1,106.2 31.8,105.6 32.2,105.6 32.8,106.0 33.2,106.8 33.8,109.8 35.3,112.2 37.2,114.2 39.2,115.8 41.8,118.2 42.2,118.5 44.2,118.1 46.7,115.8 48.5,113.2 49.3,110.2 50.5,108.2 51.4,107.2 52.2,106.8 53.2,106.6 54.0,106.8 54.6,107.2 55.3,109.2 57.7,113.7 58.6,118.8 59.2,119.6 59.8,119.7 60.6,119.2 61.6,116.2 62.2,115.5 62.8,115.3 63.8,115.8 67.4,119.2 69.8,120.4 70.4,121.2 70.5,122.2 70.5,131.8 70.8,132.8 72.1,135.2 72.1,141.8 72.8,142.8 74.2,144.2 74.8,144.5 75.8,144.8 77.2,144.8 78.2,144.5 79.2,143.2 79.5,141.8 79.6,137.8 80.6,134.8 80.6,122.2 80.5,121.2 79.6,118.8 79.5,112.2 79.8,110.2 80.2,109.4 81.2,108.4 82.2,108.2 83.8,108.3 86.2,109.7 88.8,110.3 89.6,110.8 92.8,113.8 93.8,114.4 95.2,113.2 96.1,112.2 96.9,110.8 99.2,108.5 100.2,108.1 102.2,108.2 103.2,108.9 105.8,111.2 106.2,111.4 107.8,111.5 108.2,111.8 110.8,114.2 112.2,115.3 114.2,117.2 114.8,117.6 115.2,117.6 116.9,116.8 118.8,116.5 121.8,116.7 123.8,117.5 124.2,117.1 124.8,116.2 125.5,111.8 125.9,110.8 126.8,110.2 128.2,110.3 129.1,110.7 130.0,111.8 131.2,113.8 131.8,116.1 132.2,117.1 133.3,118.8 135.2,120.8 135.9,121.8 136.3,128.2 137.2,130.2 137.4,131.2 137.3,132.8 136.4,135.2 136.1,138.2 134.6,141.2 134.5,144.2 134.1,144.8 132.8,145.7 132.0,146.8 131.6,147.8 131.6,154.8 132.2,155.9 132.8,156.2 133.8,156.5 139.2,156.5 140.2,156.2 141.1,155.8 142.3,154.8 143.8,152.2 144.1,147.8 144.9,145.2 144.7,144.2 144.1,142.8 143.6,138.8 143.5,124.8 143.2,123.7 141.2,119.6 141.1,117.8 141.6,116.2 143.3,113.2 143.9,108.8 144.2,104.2 146.2,99.8 146.5,98.8 146.8,95.8 146.6,89.2 147.0,78.8 147.8,74.3 148.2,72.9ZM123.2,77.2 123.8,76.8 124.2,76.8 124.9,77.2 125.4,78.2 125.5,79.8 125.3,80.8 124.8,81.6 124.2,81.8 123.8,81.8 123.2,81.3 122.8,80.2 122.7,78.8ZM133.2,77.2 133.8,76.8 134.2,76.8 134.9,77.2 135.4,78.2 135.5,79.8 135.3,80.8 134.8,81.6 134.2,81.8 133.8,81.8 133.2,81.3 132.8,80.2 132.7,78.8ZM87.1,78.8 87.8,78.9 88.4,79.8 88.8,80.8 89.3,83.2 89.8,84.1 91.2,85.9 91.9,87.8 91.9,98.8 91.7,99.8 90.8,101.0 90.2,101.0 89.8,100.7 86.2,97.1 85.8,96.1 85.2,93.8 83.1,90.2 82.6,88.8 82.5,85.2 82.8,83.8 84.3,81.3 86.2,79.3ZM204.6,81.8 205.2,81.5 205.6,81.8 205.8,82.3 205.6,82.8 205.2,83.1 204.8,83.0 204.6,82.8ZM18.5,85.8 18.8,85.5 19.2,85.5 19.8,86.1 20.3,87.8 21.0,91.8 21.3,97.2 21.2,104.2 21.0,107.2 20.2,111.0 19.8,112.5 19.2,113.2 18.8,113.2 18.2,112.5 17.8,111.0 17.0,107.2 16.8,104.2 16.7,97.8 17.0,92.2 17.7,87.8ZM193.6,88.8 194.2,88.5 194.6,88.8 194.8,89.3 194.6,89.8 194.2,90.1 193.8,90.0 193.6,89.8ZM119.1,96.2 119.2,96.1 119.4,97.2 119.2,98.5 118.8,97.7 118.8,97.2ZM94.2,122.0 93.2,123.6 93.0,125.2 93.0,134.8 93.2,136.0 93.7,136.8 94.2,136.7 95.7,135.2 96.1,133.8 96.1,124.2 95.8,122.7 95.4,122.2 94.8,121.9ZM51.8,132.1 51.2,132.4 50.9,133.2 50.8,134.2 51.0,135.2 52.8,137.2 53.2,137.5 53.8,137.5 54.2,137.0 54.8,135.8 54.9,134.8 54.7,133.8 54.2,133.0 53.2,132.1ZM34.8,134.1 34.2,134.3 33.6,135.2 33.5,137.8 33.7,138.8 34.0,139.2 34.8,139.7 35.2,139.8 36.6,139.2 37.8,138.2 38.0,137.8 38.1,136.2 37.8,135.2 37.2,134.8 36.2,134.2ZM59.2,135.5 58.8,136.0 58.2,137.2 58.1,138.8 58.5,139.8 60.3,142.8 62.6,145.2 63.2,147.3 63.6,147.8 64.8,148.1 65.8,148.0 66.8,147.0 67.4,145.2 67.4,141.2 66.9,139.8 65.8,138.5 62.8,138.1 60.2,135.8 59.8,135.4ZM157.2,135.6 156.8,136.0 156.2,137.2 156.0,139.8 156.2,142.8 156.8,143.9 157.2,144.2 157.8,144.1 158.7,142.8 159.0,141.8 159.0,139.8 158.9,137.8 158.7,136.8 158.2,136.0 157.8,135.6ZM139.1,142.2 139.8,142.4 140.2,143.0 140.7,143.8 140.9,144.8 140.8,145.5 140.2,146.1 139.8,146.3 138.8,146.4 137.0,145.8 136.5,145.2 136.4,144.8 138.2,142.8ZM46.8,149.6 46.1,151.2 46.0,154.2 46.3,155.8 47.2,157.0 47.8,157.0 48.2,156.2 48.5,154.2 48.3,151.2 48.0,150.2 47.8,149.8 47.2,149.3ZM35.2,152.6 34.8,152.9 34.3,153.7 34.0,154.8 34.2,156.3 34.8,157.1 35.2,157.4 36.2,156.7 37.5,155.2 37.5,154.8 37.2,154.2 35.8,152.8Z"/>
<path fill="rgb(252, 104, 0)" d="M18.3,9.2 18.8,8.9 19.2,8.9 19.9,9.8 20.1,11.2 19.8,12.1 19.2,12.5 18.8,12.5 18.4,12.2 17.9,11.2 17.9,10.2ZM18.4,32.8 18.8,32.4 19.2,32.4 19.6,32.8 20.3,34.8 20.3,36.2 20.1,37.8 19.8,38.9 19.2,39.4 18.8,39.4 18.2,38.9 17.7,36.8 17.8,34.2ZM100.7,32.8 100.8,32.8 101.2,33.8 100.8,35.1 100.2,34.2 100.2,33.4ZM18.5,47.8 18.8,47.4 19.2,47.4 19.8,48.1 20.0,48.8 20.0,50.8 19.8,51.5 19.2,52.2 18.8,52.2 18.2,51.5 18.0,50.8 18.0,49.2ZM18.6,60.2 18.8,60.0 19.2,60.0 19.4,60.2 19.9,61.2 20.2,62.8 20.1,66.2 19.8,67.5 19.2,68.2 18.8,68.2 18.2,67.5 17.8,65.2 17.9,62.2 18.2,60.8ZM100.4,63.2 100.8,63.0 101.3,63.8 101.7,65.7 102.0,68.2 101.8,72.8 101.2,75.0 100.8,75.6 100.2,75.2 99.8,73.8 99.4,70.2 99.7,65.8 100.0,64.2ZM196.9,71.2 197.3,70.8 197.8,70.8 198.4,71.8 198.5,73.2 198.4,73.8 197.8,74.6 197.2,74.6 196.6,73.8 196.5,72.2ZM18.3,72.8 18.8,72.3 19.2,72.3 19.8,72.8 20.3,74.2 20.7,76.2 20.7,78.8 20.5,80.8 20.0,82.2 19.2,83.3 18.8,83.3 18.0,82.2 17.3,79.2 17.5,75.2 17.8,74.0ZM148.6,74.8 148.8,74.4 149.2,74.3 149.8,74.9 150.3,76.8 150.7,79.8 151.0,92.2 150.8,95.4 150.0,101.2 150.1,102.8 150.6,104.8 151.2,109.0 151.8,109.5 152.2,109.5 152.8,109.0 152.9,108.2 153.0,105.2 153.8,101.2 154.2,100.4 155.7,99.2 156.7,97.2 157.2,96.9 157.8,97.1 158.2,97.8 158.5,99.8 159.2,102.2 160.8,103.8 161.2,104.9 161.3,141.2 162.5,147.2 162.7,154.8 163.2,155.8 163.8,156.0 164.8,156.2 173.2,156.1 174.2,155.8 174.8,155.2 176.5,152.8 176.8,151.8 176.9,148.2 177.5,145.2 177.7,140.2 178.5,137.2 180.3,135.2 181.1,132.8 181.1,128.2 180.0,125.2 179.9,122.2 180.1,120.8 181.2,118.2 181.8,117.6 182.8,117.6 183.2,118.0 183.6,118.8 184.1,120.8 184.2,125.3 184.7,126.2 185.5,127.2 185.8,128.0 185.9,132.2 186.1,133.8 186.8,135.8 188.8,136.9 189.2,137.8 189.4,142.2 189.6,143.8 190.2,145.3 190.8,145.8 191.4,145.8 191.8,145.2 192.2,143.7 192.9,140.2 193.6,138.2 193.6,131.8 193.5,130.2 192.8,127.8 191.2,126.2 190.8,125.2 190.8,124.8 191.2,123.8 192.0,122.8 194.0,117.2 195.1,115.8 195.8,114.2 196.2,113.7 198.1,112.2 198.8,110.8 199.2,110.2 200.2,109.6 200.8,109.6 201.8,110.2 202.2,110.8 203.0,112.8 203.8,113.8 204.2,114.8 204.0,115.8 202.8,117.8 202.1,121.8 202.4,122.8 203.8,123.9 204.2,124.8 204.3,131.8 203.8,133.2 202.3,134.8 202.0,135.8 202.0,137.2 202.2,138.2 202.6,138.8 203.6,139.2 206.2,140.0 206.8,140.4 207.2,141.2 207.4,151.8 208.0,155.2 208.0,165.2 207.2,165.5 203.8,165.7 122.2,165.7 115.2,165.5 112.2,165.7 21.8,165.7 16.8,165.6 15.5,165.2 15.0,157.8 15.0,147.8 15.5,137.2 15.2,131.8 15.2,125.2 15.4,123.8 16.2,121.5 17.6,120.2 17.2,118.2 17.3,116.2 17.8,115.1 18.2,114.4 18.8,114.1 19.2,114.1 19.8,114.4 20.5,115.8 20.9,117.8 20.5,120.2 21.2,121.0 22.6,124.2 22.8,125.2 22.7,132.2 22.2,135.2 22.2,138.2 22.8,142.2 23.8,144.8 24.0,148.8 24.7,152.8 25.2,154.3 25.9,155.2 26.8,155.5 28.8,155.7 29.4,155.2 29.6,154.8 29.2,153.9 28.4,152.8 28.2,151.8 28.2,121.8 28.7,120.4 29.8,119.7 30.2,119.1 31.0,116.2 31.2,108.3 31.8,107.2 32.2,107.2 32.6,107.8 33.0,109.8 33.9,112.8 35.8,114.1 36.4,115.2 36.5,116.2 36.2,116.5 34.8,116.7 33.9,117.2 33.6,118.2 33.8,119.0 34.2,119.6 34.8,119.8 35.8,119.6 36.3,118.8 36.5,116.8 36.8,116.5 38.2,116.6 39.2,117.1 39.7,117.8 40.0,118.8 40.1,124.8 40.6,125.8 41.2,126.1 41.8,126.1 42.2,125.9 42.7,125.2 43.0,124.2 43.0,121.8 43.4,120.8 45.6,119.2 46.6,117.2 48.0,115.8 49.4,112.8 50.0,110.8 51.4,109.2 52.5,107.8 53.2,107.4 53.8,107.6 54.2,108.2 55.4,110.8 56.0,112.8 57.2,114.7 58.2,119.2 58.8,120.1 59.8,120.5 60.8,120.2 61.5,119.2 62.1,117.2 62.8,116.8 63.8,117.1 64.8,118.8 65.2,119.1 66.8,119.6 69.2,120.9 69.6,121.2 69.8,122.2 69.9,131.8 71.1,135.2 70.5,138.8 70.6,142.2 71.2,143.2 72.8,144.1 73.8,145.2 74.8,145.7 75.8,145.8 78.2,145.7 79.0,145.2 79.4,144.8 80.0,142.8 80.2,137.8 81.3,135.2 81.3,121.8 81.1,120.8 80.2,118.8 80.1,117.2 80.2,111.4 80.8,110.4 81.2,110.0 82.8,109.5 83.8,109.4 87.7,110.8 88.6,111.2 89.8,112.4 91.8,113.6 92.5,114.8 93.0,117.2 93.1,120.8 92.7,125.2 92.7,134.8 93.2,137.3 93.8,138.3 94.2,138.0 95.1,136.8 96.3,135.8 96.8,135.0 96.9,134.2 97.0,124.8 96.8,121.8 96.2,120.9 95.2,120.2 94.5,119.2 94.4,117.3 95.2,114.8 96.8,113.0 97.8,110.7 98.2,110.2 99.2,109.5 100.2,109.3 102.2,109.4 103.2,109.8 104.2,110.8 105.2,112.4 108.2,113.5 109.2,114.1 110.8,115.9 112.9,117.2 113.7,118.8 114.2,119.4 114.8,119.6 115.2,119.6 115.8,119.4 117.2,117.5 118.0,117.2 119.2,117.2 120.8,117.2 121.8,117.5 123.2,119.4 123.8,119.6 124.2,119.5 124.8,118.7 126.2,111.7 126.8,111.1 127.8,111.1 130.5,114.2 131.9,119.2 133.8,120.6 134.2,121.2 134.5,122.2 134.5,124.8 135.2,128.5 135.5,129.2 136.6,130.8 136.8,131.8 136.6,132.8 135.7,134.2 135.0,138.8 134.2,140.8 133.7,142.8 132.3,144.8 131.0,147.8 130.9,149.8 131.0,154.8 131.4,155.8 132.2,156.6 133.8,157.1 139.2,157.1 140.2,156.9 142.2,155.8 142.8,155.2 144.4,152.2 144.6,151.2 144.7,147.8 145.6,145.2 145.5,144.2 144.7,142.2 144.0,138.8 143.9,124.2 143.2,121.2 142.0,119.2 141.7,118.2 142.0,117.2 143.2,115.3 143.8,113.5 144.6,108.2 144.8,104.8 146.2,102.2 147.5,95.8 147.2,90.2 147.4,80.2 147.9,76.8ZM86.1,80.8 86.8,80.3 87.2,80.3 87.9,80.8 88.2,81.5 88.6,83.8 89.2,85.2 90.8,86.8 91.2,87.8 91.3,98.2 90.9,99.2 90.2,99.6 89.8,99.3 89.3,98.8 88.6,97.2 86.5,95.8 85.3,91.2 83.8,89.7 83.3,88.8 83.2,86.8 83.3,84.8 83.8,83.9 85.2,82.8ZM18.7,88.2 19.2,88.1 19.8,88.9 20.1,90.2 20.6,92.8 20.9,97.8 20.9,105.8 20.4,108.2 19.2,110.5 18.8,110.5 17.8,108.7 17.3,106.7 17.0,104.2 17.4,92.8 18.0,89.8ZM151.8,123.7 151.2,124.1 150.9,124.8 151.2,125.8 152.7,127.2 153.3,128.8 153.8,129.4 154.8,129.7 155.2,129.6 155.8,129.0 155.9,128.2 156.0,125.8 155.7,124.8 155.2,124.1 154.2,123.6 152.8,123.5ZM31.2,124.0 30.8,124.7 30.7,125.2 31.2,126.0 31.8,126.2 32.4,125.8 32.6,124.8 32.2,123.9 31.8,123.8ZM59.2,130.2 58.4,130.8 58.1,131.8 57.9,134.8 57.4,137.8 57.6,139.2 59.0,142.8 60.5,144.2 61.0,145.2 61.5,146.8 61.8,148.8 62.2,149.5 62.8,149.8 63.8,150.0 65.2,150.0 66.2,149.8 67.3,148.8 68.1,145.8 68.2,141.2 67.5,138.2 66.9,137.2 66.2,136.8 65.2,136.5 62.8,136.4 61.8,135.9 61.1,134.8 60.9,131.8 60.8,131.0 60.2,130.4ZM111.8,130.2 111.2,130.5 110.8,131.2 110.7,134.2 110.8,134.8 111.2,135.4 112.2,135.7 113.2,135.2 114.2,133.9 115.4,133.2 115.7,132.8 115.8,131.8 115.5,130.8 114.8,130.2 113.2,130.0ZM50.2,130.5 49.8,131.2 49.7,132.2 49.7,134.8 50.0,135.8 51.4,137.2 52.4,138.8 53.2,139.1 54.2,139.0 54.9,138.2 55.6,135.8 55.6,134.2 55.0,131.8 54.7,131.2 53.8,130.8 51.2,130.3ZM34.2,133.7 33.2,134.5 32.8,135.8 32.9,138.2 33.7,139.8 34.2,140.2 35.2,140.5 38.8,139.0 39.2,138.2 39.3,137.8 39.3,135.8 39.0,134.8 38.3,134.2 36.2,133.7 35.2,133.6ZM157.2,133.7 156.4,134.2 155.9,135.2 155.4,137.2 155.3,139.8 155.4,142.2 155.8,144.1 156.2,144.9 157.2,145.3 157.8,145.3 158.2,144.8 159.4,142.8 159.6,141.8 159.7,139.8 159.6,137.2 158.9,134.8 158.2,133.9ZM116.8,134.7 116.5,135.8 116.7,138.2 117.0,138.8 117.8,139.0 118.2,138.9 118.7,138.2 118.7,135.2 118.2,134.5 117.8,134.4 117.2,134.4ZM138.2,144.2 138.8,143.8 139.2,143.8 139.8,144.0 140.0,144.8 139.9,145.2 139.2,145.6 138.2,145.4 137.9,144.8ZM46.8,147.2 46.2,147.8 45.5,150.2 45.4,154.8 45.6,155.8 46.8,158.1 47.2,158.6 47.8,158.6 48.2,158.1 48.8,156.5 48.9,154.2 48.6,150.8 47.9,147.8 47.8,147.4 47.2,147.0ZM34.8,150.6 34.2,151.5 33.7,153.8 33.6,155.2 34.2,158.2 34.8,158.9 35.2,159.0 36.0,158.8 37.2,157.1 38.8,156.1 39.1,155.2 39.1,154.8 38.8,153.9 37.1,152.8 35.9,150.8 35.2,150.4Z"/>
<path fill="rgb(255, 152, 0)" d="M18.7,9.8 19.2,9.7 19.5,10.2 19.6,10.8 19.2,11.7 18.8,11.7 18.5,11.2 18.5,10.2ZM18.5,33.8 18.8,33.4 19.2,33.4 19.9,34.8 19.8,37.2 19.2,38.4 18.8,38.4 18.6,38.2 18.1,36.8 18.1,35.2ZM18.6,48.8 18.8,48.4 19.2,48.4 19.6,49.2 19.6,50.3 19.2,51.2 18.8,51.2 18.5,50.8 18.4,49.8ZM18.5,61.8 18.8,61.3 19.2,61.3 19.8,62.8 19.8,65.2 19.2,66.9 18.8,66.9 18.2,65.2 18.2,63.2ZM100.6,64.8 100.8,64.6 101.2,65.4 101.6,68.8 101.4,72.2 101.2,73.2 100.8,74.0 100.2,73.2 99.8,69.8 100.0,66.2 100.2,65.1ZM197.2,71.8 197.8,71.6 198.0,72.2 198.0,73.2 197.8,73.8 197.2,73.8 197.0,73.2 197.0,72.2ZM18.6,73.8 18.8,73.5 19.2,73.5 19.8,74.2 20.3,76.8 20.1,80.2 19.8,81.4 19.2,82.1 18.8,82.1 18.2,81.4 17.7,78.8 17.8,75.8 18.2,74.2ZM148.6,76.8 148.8,76.5 149.2,76.3 149.8,77.1 150.3,80.8 150.4,83.2 150.1,85.8 150.4,91.8 150.1,94.8 149.5,97.2 149.6,101.2 149.7,103.2 150.8,109.5 151.2,110.5 152.2,111.7 152.8,112.2 153.2,112.3 153.8,111.6 154.4,109.8 154.5,105.2 154.8,103.6 155.2,102.4 156.2,101.7 156.8,101.6 157.2,101.8 158.8,103.3 160.0,104.8 160.3,105.8 160.3,121.8 160.2,123.2 159.8,124.8 159.2,125.7 158.8,126.1 153.2,120.8 152.8,121.0 151.2,122.7 150.5,123.8 150.2,124.8 150.4,125.8 152.0,128.8 154.8,131.8 155.0,132.2 154.6,134.2 154.3,139.2 154.4,143.8 154.6,144.8 155.0,145.2 156.2,145.9 157.8,145.9 158.7,145.2 159.8,143.4 160.2,142.9 160.8,143.0 161.2,143.8 162.1,146.8 162.4,150.8 162.5,154.8 162.8,155.6 163.2,156.2 164.2,156.5 166.2,156.5 172.8,156.5 174.2,156.2 175.1,155.8 176.2,154.8 176.9,153.8 177.3,152.8 177.5,148.2 177.9,145.2 178.0,141.8 178.2,140.1 179.8,137.2 183.2,134.0 183.8,134.2 184.2,134.9 185.7,137.8 187.2,138.6 187.7,139.2 188.4,144.8 190.2,146.7 190.8,147.1 191.2,147.2 191.8,146.8 192.2,145.8 193.2,140.8 194.4,138.2 194.7,135.2 194.7,130.8 194.4,128.2 194.1,127.8 192.3,125.8 192.0,124.8 192.8,123.1 193.3,120.8 195.7,116.2 196.2,114.6 196.8,114.0 198.6,112.8 199.5,110.8 200.2,110.3 200.8,110.3 201.2,110.5 201.8,111.2 202.2,113.1 203.0,114.8 203.0,115.2 202.2,117.2 201.8,119.6 200.6,121.8 200.5,123.8 200.8,124.3 202.4,125.2 202.9,125.8 203.3,127.2 203.3,130.2 203.0,132.2 200.9,134.8 200.7,135.2 200.7,137.2 201.0,138.2 201.4,138.8 202.8,139.6 205.5,140.8 206.2,141.8 206.5,144.2 206.7,151.8 207.4,154.2 207.6,155.2 207.6,165.2 206.8,165.5 203.8,165.6 122.2,165.6 115.2,165.3 112.2,165.6 22.2,165.6 17.2,165.5 15.9,165.2 15.3,157.7 15.3,147.8 15.5,141.2 15.9,137.2 15.9,135.2 15.5,131.8 15.5,125.2 15.8,123.9 16.2,122.9 17.2,121.7 18.7,120.8 17.9,119.8 17.6,118.2 17.6,116.8 18.2,115.3 18.8,114.9 19.2,114.9 20.0,115.8 20.4,116.8 20.4,118.2 20.2,119.3 19.8,120.2 20.9,121.2 22.4,124.8 22.3,131.8 22.1,133.2 21.6,135.2 21.5,137.8 22.5,142.8 23.1,144.8 23.4,148.8 24.3,152.8 25.1,155.2 25.6,155.8 27.8,156.3 29.2,156.3 30.1,155.8 30.4,154.8 30.2,153.8 29.3,151.8 29.2,150.2 29.2,140.8 29.8,138.7 30.2,137.8 30.8,137.7 34.2,141.1 34.8,141.4 35.2,141.4 37.2,140.3 39.2,139.6 39.9,138.8 40.0,137.2 40.0,135.2 39.8,134.5 39.2,133.9 38.2,133.5 35.8,133.1 34.2,133.2 33.1,133.8 30.8,135.8 30.2,135.7 29.8,134.8 29.2,132.8 29.2,130.7 29.8,128.8 30.2,128.3 31.8,128.0 32.8,127.0 33.4,125.2 33.6,122.2 34.2,121.8 37.2,121.8 37.8,122.3 38.4,124.8 38.8,125.2 41.2,127.6 41.8,127.6 42.2,127.2 44.1,125.2 45.2,122.2 46.8,121.3 47.1,120.8 47.6,118.2 48.7,116.2 49.3,114.2 50.9,111.2 52.2,109.8 53.2,109.1 53.8,109.3 54.7,110.8 55.3,113.2 57.2,116.7 57.7,119.2 58.1,120.2 58.8,121.1 60.8,123.0 61.2,123.1 63.1,120.2 63.8,120.0 65.8,120.1 66.8,120.3 68.2,121.3 68.8,122.2 68.8,125.2 68.6,126.8 68.2,127.8 67.2,129.5 66.9,129.8 66.8,130.2 68.8,132.1 70.2,134.2 70.4,135.2 70.2,136.0 69.8,137.0 69.2,137.5 68.8,137.6 68.2,137.2 64.9,133.8 64.5,132.8 65.0,130.8 64.7,130.2 60.8,126.3 59.8,126.3 58.2,126.9 56.2,129.8 55.2,130.0 53.2,129.9 52.2,129.7 50.8,128.9 50.2,129.0 49.8,129.5 49.2,130.8 49.1,135.2 49.8,137.1 50.9,138.8 52.5,139.8 54.2,139.8 56.2,139.0 56.8,139.3 57.7,140.8 58.5,143.2 60.7,146.8 61.3,149.8 61.8,150.6 62.8,151.5 64.8,151.7 65.8,151.5 66.2,151.2 68.6,148.8 69.6,145.8 69.8,145.4 70.2,145.1 71.8,145.2 74.2,146.3 77.2,146.5 78.2,146.4 79.2,146.0 80.2,145.2 80.6,144.8 80.8,143.2 80.9,138.2 81.7,135.8 81.8,134.2 81.8,121.7 81.7,120.8 80.9,118.2 81.1,113.8 81.2,111.9 81.5,111.2 82.7,110.3 84.2,110.2 85.2,110.5 91.0,113.8 91.8,114.8 92.4,117.2 92.7,121.2 92.4,125.8 92.6,135.8 93.2,138.8 93.8,139.2 94.2,139.1 94.7,138.8 95.5,137.2 96.8,136.1 97.2,135.2 97.5,125.2 97.2,121.2 96.8,120.5 95.4,119.2 95.1,118.2 95.1,117.2 95.8,115.8 97.6,112.8 98.5,110.8 99.2,110.2 99.8,110.1 101.8,110.0 102.8,110.2 103.2,110.5 104.8,112.8 107.2,114.1 108.2,114.8 114.8,121.1 115.2,121.1 115.8,120.7 117.8,118.8 118.8,118.5 119.8,118.4 121.2,118.8 124.2,121.5 125.2,121.4 125.5,120.8 125.6,117.8 126.2,113.7 126.8,112.9 127.2,112.6 127.8,112.8 129.2,114.2 129.5,114.8 129.8,115.8 130.0,122.2 130.2,122.7 131.8,123.5 133.8,125.9 134.2,126.9 134.8,129.2 135.6,130.8 135.9,131.8 135.1,134.2 134.2,139.2 130.3,147.8 130.1,151.2 130.3,154.8 130.8,155.8 132.2,157.2 133.2,158.0 133.8,158.2 139.2,158.1 142.7,156.2 143.2,155.7 144.1,153.8 145.3,151.8 145.4,148.2 146.1,145.2 145.9,143.8 144.5,138.8 144.4,124.8 143.8,120.8 142.9,118.2 143.9,115.8 144.6,110.8 145.4,108.2 145.7,105.2 146.9,102.8 147.6,97.2 148.2,95.8 147.8,91.2 148.0,86.2 147.8,81.8 148.1,78.8ZM86.2,84.8 86.8,84.6 87.2,84.8 89.7,87.2 90.2,88.2 90.2,89.3 89.9,90.8 89.2,92.2 88.8,92.7 88.2,92.7 85.7,90.2 84.8,89.2 84.3,88.2 84.3,86.8 84.6,85.8 85.2,85.2ZM18.6,90.8 18.8,90.4 19.2,90.4 19.9,91.2 20.3,92.8 20.2,94.3 20.7,102.8 20.7,105.2 20.4,107.2 19.8,108.8 19.2,109.4 18.8,109.4 17.9,108.2 17.5,106.8 17.3,104.3 17.8,94.2 17.7,92.8 18.1,91.2ZM182.1,119.2 182.8,119.5 183.4,121.2 183.5,126.8 183.2,128.4 182.2,127.8 181.3,126.6 180.8,125.8 180.6,124.8 180.6,121.2 181.2,119.9 181.8,119.3ZM112.8,128.2 111.8,128.5 111.2,128.8 110.2,130.4 110.0,132.8 110.2,135.2 110.8,136.0 111.2,136.3 114.2,136.6 114.8,137.0 115.1,138.2 116.0,139.2 117.3,139.8 118.2,139.7 118.9,139.2 119.4,138.2 119.5,135.8 119.2,134.5 118.8,133.9 117.2,133.3 116.8,132.8 116.2,130.2 115.8,129.4 114.8,128.3 114.2,128.0ZM47.2,145.5 45.8,146.8 44.6,148.2 44.4,150.2 44.3,153.8 44.6,155.2 45.7,157.2 46.2,158.6 46.8,159.1 47.7,159.4 48.3,159.2 48.8,158.8 49.3,156.2 49.4,154.8 48.4,146.8 47.8,145.6ZM34.8,149.0 34.2,149.5 33.7,150.8 33.1,154.2 33.1,155.8 33.8,158.8 34.8,159.7 35.8,159.8 37.1,159.2 38.8,157.7 39.7,156.2 39.9,154.8 39.7,153.8 38.8,152.3 35.8,149.3 35.2,149.0ZM181.8,152.6 181.2,153.0 180.7,154.2 180.7,154.8 181.0,155.2 181.8,155.6 182.6,155.2 182.9,154.2 182.7,153.2 182.2,152.6Z"/>
<path fill="rgb(255, 191, 0)" d="M18.7,34.8 18.8,34.5 19.2,34.5 19.5,35.2 19.5,36.2 19.2,37.3 18.8,37.3 18.6,36.8 18.5,35.8ZM18.7,63.8 18.8,63.4 19.2,63.4 19.2,64.8 18.8,64.8ZM100.5,66.8 100.8,66.3 101.3,68.8 101.2,70.5 100.8,72.3 100.2,71.3 100.2,70.2 100.2,67.8ZM18.7,74.8 19.3,74.8 19.8,75.8 19.9,76.8 19.9,79.2 19.2,80.9 18.7,80.8 18.2,79.8 18.1,78.8 18.2,76.2ZM148.9,78.8 149.2,78.6 149.5,79.2 149.9,81.2 149.8,84.6 149.2,86.0 148.8,85.7 148.3,82.7 148.4,80.2 148.8,78.9ZM86.5,86.8 87.8,86.8 88.7,87.8 88.8,88.8 88.2,89.6 87.8,89.8 86.8,89.7 85.8,88.8 85.8,87.6ZM149.1,87.8 149.2,87.6 149.5,90.2 149.2,93.0 148.8,92.3 148.6,90.8 148.8,88.3ZM18.5,91.2 18.8,91.1 19.2,91.1 19.5,91.2 19.8,91.8 20.1,92.8 19.9,95.2 20.1,99.8 20.5,102.8 20.5,104.8 20.2,106.7 19.8,108.1 19.2,108.7 18.8,108.7 18.1,107.8 17.7,106.2 17.4,104.2 18.1,95.2 17.9,92.8 18.2,91.8ZM148.2,98.2 148.2,97.9 148.8,97.9 149.1,103.2 150.2,109.2 150.8,111.2 151.0,112.2 150.9,119.8 150.5,122.2 149.6,124.8 149.8,125.8 150.6,127.2 151.2,129.3 152.5,130.8 152.9,131.8 153.0,144.2 153.3,145.2 153.6,145.8 154.8,146.4 157.8,146.4 158.9,145.8 160.2,144.3 160.8,144.5 161.9,147.2 162.3,155.2 162.8,156.1 163.2,156.5 164.8,156.8 172.2,156.8 173.8,156.7 175.2,156.2 177.1,155.2 177.9,153.8 178.2,152.2 178.5,141.2 178.9,140.2 180.2,138.8 181.1,137.2 181.8,136.8 182.8,136.9 183.2,137.4 184.2,139.2 186.2,140.8 186.5,141.8 186.6,144.8 186.9,145.8 187.4,146.2 189.2,147.1 189.8,147.8 190.4,149.2 190.8,149.5 191.2,149.5 191.8,149.0 192.2,147.2 193.5,140.8 195.2,138.3 195.9,135.2 196.0,126.8 196.2,126.5 200.8,126.6 201.2,126.9 201.9,127.8 201.9,131.8 201.2,132.9 199.4,134.2 199.2,134.8 199.2,135.8 199.8,138.1 200.2,138.8 204.6,141.2 205.4,143.2 205.9,147.2 206.0,151.8 207.1,155.2 207.1,165.2 203.8,165.5 191.2,165.5 187.2,165.4 183.2,165.5 122.2,165.5 117.2,165.3 116.5,165.2 116.6,164.8 116.8,164.2 118.2,162.8 118.4,161.2 117.8,160.2 116.8,159.2 116.1,157.8 115.2,157.1 114.8,157.5 114.6,158.2 114.5,165.2 112.8,165.5 41.2,165.5 36.8,165.4 22.2,165.5 16.4,165.2 15.9,162.2 15.5,157.2 15.5,147.8 15.9,141.2 16.5,137.8 16.4,135.2 15.9,132.8 15.8,131.2 15.8,125.2 16.2,123.7 18.8,121.5 19.8,121.2 20.2,121.4 20.8,122.0 22.0,124.2 22.2,126.8 22.0,132.2 21.8,133.2 20.9,135.2 20.8,137.2 20.9,138.2 21.9,140.8 22.6,144.8 23.0,149.2 23.8,152.8 25.0,155.8 25.6,156.2 26.2,156.5 28.8,157.0 29.8,156.9 30.7,156.2 31.1,155.2 31.1,154.2 30.6,152.2 30.5,150.8 30.5,142.2 30.9,140.8 31.8,140.3 32.2,140.4 33.1,141.2 33.9,142.8 34.6,143.2 35.2,143.3 36.1,142.8 36.6,141.8 37.2,141.1 39.8,140.2 40.5,139.2 40.6,138.2 40.6,134.8 40.2,133.8 39.8,133.3 38.8,132.9 35.2,132.6 31.7,133.2 30.9,132.8 30.7,132.2 30.7,131.2 30.9,130.8 33.1,129.2 34.3,124.8 34.8,123.9 35.2,123.8 36.1,124.2 36.8,125.6 37.2,126.1 38.8,126.7 39.4,127.2 40.2,129.0 40.8,129.6 41.2,129.8 42.2,129.6 42.8,129.0 43.6,127.2 45.7,125.8 46.4,124.2 48.6,122.8 49.0,121.8 49.1,117.8 49.8,114.8 50.2,114.0 51.7,112.8 52.3,111.2 52.7,110.8 53.2,110.5 53.8,110.7 54.1,111.3 54.5,113.2 55.2,115.6 56.7,117.3 57.1,119.2 57.8,121.2 57.8,122.2 57.2,123.1 55.9,123.8 55.4,124.2 55.0,125.2 54.9,128.2 54.6,128.8 54.2,129.0 53.7,129.2 52.8,129.0 52.2,128.5 51.6,127.2 50.9,126.8 50.1,126.8 49.4,127.2 48.4,131.2 48.5,136.2 49.1,138.8 49.9,139.8 52.8,140.6 54.2,140.6 55.7,140.3 56.2,140.3 56.8,140.6 58.8,145.2 60.1,147.2 61.1,151.8 61.7,152.8 62.2,153.1 63.2,153.5 65.2,153.5 66.2,153.2 66.8,152.9 68.1,150.8 70.1,149.2 70.9,147.2 71.6,146.8 72.2,146.7 74.8,147.1 77.8,147.1 80.0,146.2 80.9,145.8 81.3,145.2 81.5,143.8 81.6,138.2 82.2,134.2 82.2,121.8 81.7,118.8 81.6,117.2 82.1,113.2 82.6,111.8 83.2,111.0 84.2,110.9 85.0,111.2 86.1,112.2 88.8,113.1 90.6,114.2 91.4,115.2 91.9,117.2 92.3,121.2 92.3,135.8 92.8,138.4 93.2,139.5 93.8,139.7 94.2,139.7 95.1,139.2 95.9,137.8 97.2,136.2 97.7,134.2 97.7,128.2 97.9,124.8 97.6,121.8 97.2,120.4 95.9,118.8 95.8,117.8 97.6,113.8 99.0,111.2 99.8,110.8 101.8,110.7 102.8,111.0 104.8,113.4 106.7,114.8 107.8,116.0 109.2,117.1 109.8,117.8 110.4,119.2 110.8,119.6 112.3,120.2 113.2,121.3 113.5,122.8 113.4,125.2 112.8,126.1 111.0,126.8 110.2,127.5 109.4,130.8 109.3,134.2 109.5,135.2 110.2,136.2 111.2,137.0 112.3,137.2 113.2,137.8 113.9,139.2 114.4,139.8 116.8,140.5 117.8,140.5 118.8,140.1 119.2,139.6 120.0,138.2 120.1,135.8 119.9,134.2 119.2,133.3 118.0,132.8 117.4,132.2 116.6,128.8 116.5,122.2 116.8,121.2 117.2,120.6 117.8,120.3 118.8,120.0 120.2,120.0 121.2,120.3 122.2,121.2 122.9,122.8 123.4,123.2 124.8,123.8 126.2,125.2 127.2,125.5 130.8,125.6 132.2,126.1 133.2,126.8 134.8,130.8 135.0,132.2 133.7,138.8 132.3,141.2 131.9,142.8 129.5,147.8 129.4,151.8 129.6,154.8 130.1,155.8 131.6,157.2 132.2,158.5 132.8,159.1 133.2,159.2 136.2,159.1 138.8,159.3 140.2,159.0 141.5,157.8 143.2,156.4 144.3,154.2 145.8,152.4 146.0,151.8 146.4,144.8 145.8,140.9 145.1,139.2 144.9,138.2 145.0,124.8 144.6,120.8 144.1,118.2 144.6,115.8 145.0,111.2 146.2,108.8 146.5,106.8 147.5,103.2ZM156.4,104.2 157.2,103.8 157.8,103.8 158.7,104.7 159.0,105.8 159.0,121.2 158.6,122.8 157.8,123.2 157.2,123.2 156.6,122.8 156.3,122.2 156.0,121.2 156.0,106.2 156.2,104.8ZM200.2,111.2 200.8,111.2 201.2,111.8 201.8,114.8 201.2,118.8 200.8,119.6 199.4,120.8 198.6,122.8 196.4,124.2 196.2,124.8 196.0,126.2 195.8,126.5 194.3,126.2 193.6,125.8 193.2,124.8 193.8,121.2 194.2,120.5 195.8,119.1 197.0,114.8 199.2,113.2ZM127.0,114.2 127.2,114.1 127.8,114.2 128.2,114.8 128.5,115.8 128.3,118.8 127.8,119.6 127.2,119.7 126.8,119.6 126.5,119.2 126.2,118.2 126.5,115.2ZM18.3,116.2 18.8,115.8 19.2,115.8 19.9,116.8 20.0,117.8 19.9,118.8 19.8,119.3 19.2,119.8 18.6,119.8 18.1,118.8 18.0,117.2ZM181.7,120.8 182.3,120.8 182.8,121.8 182.8,124.9 182.2,125.9 181.7,125.8 181.2,124.6 181.2,121.9ZM64.9,121.2 65.2,121.0 66.2,120.9 66.9,121.2 67.3,121.8 67.5,123.2 67.3,125.2 66.8,126.1 66.2,126.3 65.2,126.1 64.6,125.2 64.5,122.2ZM68.0,134.2 68.8,133.9 69.2,134.2 69.6,135.2 69.2,135.9 68.8,136.0 68.2,135.8 67.8,134.8ZM47.2,143.7 46.3,144.2 45.2,145.9 43.8,146.8 43.2,147.5 43.0,148.8 43.0,154.2 43.3,155.8 44.8,157.0 45.7,158.8 46.8,159.7 47.8,159.9 48.8,159.7 49.3,159.2 49.6,158.2 49.8,155.2 49.4,152.2 48.9,144.8 48.2,143.9ZM34.8,146.7 34.2,146.9 33.8,147.5 33.0,150.2 32.5,154.2 32.5,155.8 32.9,158.2 33.4,159.2 34.8,160.4 35.8,160.6 38.2,160.0 39.4,159.2 40.0,158.2 40.4,156.8 40.6,154.8 39.6,150.8 39.1,150.2 37.2,149.4 36.7,148.8 36.2,147.5 35.8,146.9ZM181.2,150.9 180.8,151.2 180.5,151.8 180.0,153.8 180.0,154.8 180.8,155.8 182.2,156.0 182.8,155.8 183.4,154.8 183.4,151.8 183.2,151.2 182.8,151.0 182.2,150.8Z"/>
<path fill="rgb(255, 232, 20)" d="M18.7,76.8 18.8,76.4 19.2,76.4 19.4,77.8 19.2,79.2 18.8,79.2 18.6,78.8ZM18.5,91.8 18.8,91.4 19.2,91.4 19.8,92.1 19.9,92.8 19.8,94.2 19.2,95.2 18.8,95.2 18.2,94.2 18.1,92.8ZM18.7,95.8 19.2,95.7 19.6,99.2 20.2,101.2 20.4,102.8 20.1,106.2 19.8,107.5 19.2,108.1 18.8,108.1 18.2,107.5 17.9,106.2 17.6,104.2 17.7,101.8 18.4,99.2ZM148.2,105.8 148.8,105.9 149.3,106.8 150.4,111.8 150.3,119.8 149.8,122.7 148.6,124.8 150.1,127.2 150.8,129.6 151.7,131.8 151.9,144.8 152.3,145.8 153.2,146.7 154.2,147.6 154.8,147.7 158.2,146.6 160.2,145.5 160.8,145.7 161.2,146.4 161.7,147.8 162.0,154.8 162.3,155.8 162.8,156.5 163.2,156.9 164.2,157.1 173.2,157.1 176.2,156.4 178.8,155.1 180.8,156.2 182.2,156.4 183.4,155.8 183.7,155.2 184.2,153.3 184.8,152.4 186.1,150.8 186.2,150.3 186.8,150.1 189.2,151.4 190.2,151.6 190.8,151.5 191.8,150.5 192.3,149.2 193.1,144.2 194.0,140.8 195.8,138.8 196.2,137.0 196.8,136.0 197.2,135.5 197.8,135.5 198.7,136.8 199.3,138.8 199.9,139.2 202.0,140.2 203.2,141.2 204.2,142.9 204.9,144.2 205.4,147.2 205.5,152.2 206.5,155.2 206.4,165.2 203.8,165.5 191.2,165.5 187.2,165.3 183.2,165.5 132.8,165.5 130.2,165.3 122.2,165.5 118.1,165.2 119.0,162.8 118.8,160.8 117.3,157.8 115.2,155.9 114.8,156.0 114.6,156.2 114.3,156.7 114.0,157.8 113.9,165.2 112.8,165.4 41.2,165.5 36.8,165.3 32.8,165.5 22.2,165.5 17.2,165.2 16.3,162.8 15.8,158.8 15.8,148.2 16.1,145.2 16.3,140.8 16.8,139.5 18.2,137.4 18.8,137.3 19.2,137.6 20.8,139.1 21.4,140.2 22.3,144.8 22.6,149.2 23.3,152.8 24.4,155.8 25.2,156.6 28.8,157.9 31.2,158.0 31.8,158.3 36.8,163.1 41.8,158.3 42.2,158.0 44.2,158.4 46.0,159.8 47.2,160.3 49.2,160.4 49.8,160.3 50.2,159.8 50.4,155.2 49.7,152.2 49.5,147.8 49.8,146.2 50.4,144.8 50.5,142.8 51.0,142.2 52.2,142.0 55.2,141.9 56.2,142.2 56.8,142.7 57.7,144.2 58.3,145.8 59.3,147.8 59.9,151.2 60.3,152.2 62.2,154.3 63.2,154.9 65.2,155.0 66.2,154.6 69.2,151.9 71.2,151.2 72.8,148.8 73.8,148.5 77.8,148.2 81.2,146.2 81.8,145.6 82.0,144.8 82.1,138.2 82.5,134.8 82.5,121.8 82.1,118.8 82.1,117.2 82.8,113.8 83.8,112.5 84.2,112.4 85.8,112.9 87.8,113.2 88.8,113.6 90.2,114.8 91.2,116.6 92.0,121.2 92.1,135.8 92.7,139.2 93.2,140.0 93.8,140.2 94.8,140.1 96.0,139.2 97.8,135.8 98.0,127.8 98.3,124.8 97.8,120.8 96.7,118.8 96.6,117.8 98.1,113.8 98.8,112.8 99.8,111.9 101.8,111.7 102.8,112.1 105.0,114.2 107.7,117.2 108.4,118.2 108.9,120.8 110.1,123.2 107.2,129.2 106.9,130.8 106.9,133.8 111.4,138.2 112.2,140.8 112.8,141.6 116.2,141.7 117.8,141.5 118.8,140.7 120.6,138.8 120.9,137.2 120.8,133.8 120.2,131.8 119.7,130.8 119.5,129.8 119.6,126.8 119.9,125.2 120.2,125.0 123.2,125.0 125.8,125.9 130.2,126.1 131.9,126.8 132.8,127.8 134.2,130.8 134.4,132.2 133.9,135.8 133.0,138.8 131.9,140.8 131.2,142.8 129.8,145.5 129.1,147.2 128.9,151.8 129.3,155.2 129.8,156.2 130.9,157.2 131.7,159.2 132.2,159.8 133.2,159.9 136.2,159.6 139.2,160.0 140.8,159.7 142.1,158.8 143.8,156.5 144.8,154.3 146.2,152.8 146.5,151.8 146.7,144.8 146.2,141.0 145.6,138.8 145.5,137.2 145.6,127.8 146.2,124.8 145.8,122.8 145.3,117.8 145.8,111.2 146.7,109.2 147.3,106.8 147.8,106.0ZM18.6,117.2 18.8,116.9 19.2,116.9 19.5,117.8 19.2,118.8 18.7,118.8 18.6,118.2ZM19.1,122.2 19.8,122.0 20.2,122.3 21.5,123.8 21.9,125.2 21.9,128.8 21.7,132.2 21.4,133.2 20.2,134.9 18.8,136.2 18.2,136.1 17.8,135.5 16.8,134.0 16.3,132.8 16.2,125.8 16.3,124.8 16.8,123.8ZM181.6,138.8 182.2,138.6 182.8,138.9 184.2,140.2 184.9,141.2 185.2,142.2 185.3,146.8 186.5,149.8 186.2,150.1 180.2,150.0 179.8,149.9 179.3,149.2 179.1,146.2 179.2,141.8 179.9,140.2Z"/>
<path fill="rgb(246, 253, 71)" d="M18.4,92.2 18.8,91.8 19.2,91.8 19.7,92.8 19.8,93.8 19.2,94.8 18.8,94.8 18.2,93.8ZM18.7,99.8 19.2,99.6 19.8,100.5 20.2,102.8 20.0,105.8 19.8,106.7 19.2,107.5 18.8,107.5 18.3,106.8 17.8,104.8 17.9,101.8 18.2,100.5ZM147.9,107.8 148.2,107.3 148.8,107.6 149.8,110.8 150.0,112.2 149.9,119.2 149.1,122.2 148.8,122.9 148.2,123.1 147.8,123.0 147.1,122.2 146.5,119.8 146.4,118.2 146.4,111.8ZM100.5,112.8 102.2,112.7 103.8,113.5 104.4,114.2 105.2,115.8 106.5,117.2 107.0,118.8 106.9,125.2 106.7,125.8 105.2,127.0 104.8,127.8 104.5,129.8 103.6,132.8 102.2,133.9 101.8,134.8 101.7,137.2 101.9,138.8 102.2,139.4 102.8,139.8 103.8,140.0 105.3,139.9 106.4,139.2 107.2,137.5 107.8,136.9 108.2,136.8 109.2,137.2 109.9,138.2 110.6,140.8 110.6,142.2 110.3,144.2 110.3,145.2 110.8,145.9 111.2,146.2 112.1,146.2 112.8,145.9 113.8,144.2 114.4,143.8 118.2,142.5 119.4,140.8 121.2,138.9 121.5,137.8 121.9,130.8 122.6,127.8 123.2,126.9 124.8,126.5 129.8,126.5 131.2,127.0 131.9,127.8 132.5,129.2 133.7,131.2 133.8,132.8 133.4,135.8 132.7,137.2 132.1,139.2 130.5,142.8 129.2,144.7 128.6,147.2 128.5,151.8 128.9,155.2 129.2,156.3 130.5,157.8 130.8,158.8 130.6,159.8 129.6,161.2 129.2,165.2 127.2,165.4 119.5,165.2 119.4,161.2 118.3,157.8 116.6,156.2 115.2,154.2 114.8,154.2 114.2,154.9 113.6,157.2 113.5,165.2 113.2,165.3 41.2,165.4 39.3,165.2 39.5,163.8 40.2,161.2 41.2,160.2 43.2,159.5 44.8,159.6 46.8,160.6 48.5,161.2 50.2,162.9 50.8,162.9 51.0,162.8 51.3,161.8 51.1,155.2 50.2,152.2 50.0,147.8 50.4,146.8 52.3,144.2 53.0,143.8 55.2,143.5 56.2,143.7 56.8,144.0 58.5,147.8 59.3,152.2 61.2,154.2 62.2,156.0 63.2,156.4 65.2,156.5 66.2,156.2 66.9,155.8 68.1,154.2 68.8,153.7 72.2,152.7 73.0,152.2 74.2,150.4 75.2,150.0 77.2,150.0 78.2,149.7 78.9,149.2 80.0,147.8 81.8,146.4 82.2,145.8 82.4,144.8 82.5,138.2 82.8,134.8 82.8,121.8 82.5,117.8 83.2,114.7 83.8,113.9 84.2,113.6 86.8,113.5 88.2,113.8 89.4,114.8 90.8,117.0 91.6,121.2 91.8,134.8 92.3,138.8 92.8,139.9 93.8,140.7 94.8,140.7 96.2,140.1 97.2,138.8 98.2,135.8 98.3,128.2 98.8,125.2 98.2,121.2 97.3,118.8 97.2,117.8 98.1,114.8 98.6,113.8 99.2,113.2ZM19.2,122.8 20.2,122.8 21.2,123.8 21.6,124.7 21.7,126.2 21.7,129.2 21.3,132.8 20.7,133.7 20.2,134.1 19.2,134.3 17.8,133.8 16.8,132.8 16.6,131.8 16.6,128.8 16.8,124.7 17.5,123.8ZM147.4,126.2 148.2,126.0 149.4,126.8 149.9,127.8 150.8,131.2 151.0,144.2 151.2,145.9 152.4,147.2 153.3,148.8 154.2,149.5 154.8,149.5 155.2,149.2 156.6,147.8 159.8,146.4 160.2,146.3 160.8,146.5 161.4,147.8 162.0,155.8 162.8,156.9 163.8,157.5 173.8,157.6 176.2,157.1 178.8,156.0 181.2,156.7 182.2,156.7 183.2,156.4 183.8,156.0 184.8,154.2 185.2,153.7 186.2,153.5 190.2,153.5 191.2,153.2 191.8,152.7 192.8,149.2 193.4,144.8 194.3,141.2 196.1,139.2 197.2,137.2 197.8,137.2 199.1,139.2 201.9,140.8 204.3,144.8 205.0,147.8 205.1,152.2 205.9,155.2 205.9,161.8 205.6,165.2 203.8,165.4 191.2,165.4 189.3,165.2 189.2,161.6 188.9,160.8 188.2,160.3 187.8,160.3 187.1,160.8 186.2,162.8 184.8,164.2 184.5,165.2 183.2,165.4 132.8,165.4 130.8,165.2 131.0,163.8 131.5,161.8 131.8,161.1 132.2,160.8 135.8,160.1 138.8,160.6 140.2,160.6 141.8,160.2 142.5,159.8 143.2,158.8 145.1,154.8 146.7,152.8 147.0,151.2 147.0,145.2 146.6,140.8 146.1,138.2 146.1,131.8 146.4,127.8 146.8,126.8ZM18.9,139.2 20.2,139.4 20.8,139.8 21.3,140.8 22.0,144.8 22.2,149.2 22.8,152.4 23.9,155.8 25.2,157.1 26.8,157.8 28.2,158.6 31.8,159.4 33.1,160.2 34.1,161.8 34.2,165.2 32.2,165.4 18.4,165.2 18.0,164.2 17.1,163.2 16.8,162.4 16.1,158.8 16.1,147.8 16.5,145.2 16.8,141.0 17.2,140.1 18.2,139.4ZM181.4,139.8 182.2,139.6 183.2,140.2 184.0,141.2 184.1,142.2 184.1,145.2 183.9,146.8 183.2,148.6 182.2,149.2 181.2,149.1 180.8,148.6 179.9,145.2 179.9,142.2 180.0,141.2 180.7,140.2ZM94.2,143.6 93.5,144.2 93.3,144.8 93.7,145.3 95.8,145.4 96.4,145.2 96.7,144.8 96.6,144.2 96.2,143.8 95.2,143.5Z"/>
<path fill="rgb(187, 255, 46)" d="M18.7,92.2 19.2,92.2 19.5,92.8 19.5,93.8 19.2,94.4 18.8,94.4 18.5,93.8 18.5,92.8ZM18.5,100.8 18.8,100.3 19.2,100.3 19.8,101.2 19.9,102.2 19.9,105.2 19.2,106.9 18.8,106.9 18.6,106.8 18.2,106.0 18.0,104.8 18.1,102.2ZM148.0,109.8 148.2,109.5 148.8,109.7 149.1,110.3 149.4,111.2 149.5,112.2 149.5,118.8 149.2,119.8 148.8,120.6 148.2,120.8 147.8,120.5 147.2,119.5 147.0,117.8 147.1,111.8 147.3,110.8ZM101.0,113.2 102.7,113.3 104.0,114.2 105.6,117.7 105.8,119.8 105.6,124.8 104.3,127.2 103.7,129.8 101.8,132.9 101.2,134.2 101.0,136.2 101.1,138.8 101.8,140.1 102.7,141.3 104.2,141.7 105.2,141.5 107.7,139.3 108.2,139.0 108.8,139.0 109.7,140.2 109.9,141.8 109.8,143.1 108.9,144.8 109.0,145.2 111.2,147.7 111.8,147.8 112.2,147.7 115.9,144.2 118.8,143.0 120.1,140.8 121.8,139.3 122.0,138.2 122.1,134.2 122.7,130.8 123.2,129.4 124.4,127.8 125.8,127.1 128.8,126.9 130.2,127.1 130.8,127.3 131.2,127.8 132.9,131.8 133.0,134.8 131.6,139.2 130.3,141.2 128.8,144.2 128.2,146.8 128.1,149.2 128.2,152.8 128.7,155.8 129.8,158.2 129.7,159.2 129.1,160.8 128.5,165.2 120.7,165.2 120.1,163.2 119.7,160.8 118.8,157.4 117.0,155.8 115.8,153.4 115.2,152.8 114.8,152.7 114.2,153.0 113.8,154.0 113.1,157.2 113.1,165.2 40.0,165.2 40.3,163.8 41.9,161.2 43.2,160.3 44.2,160.1 45.2,160.4 48.2,162.2 51.2,165.1 51.8,165.2 52.0,164.2 52.0,161.8 51.6,158.8 51.5,154.8 50.7,151.8 50.7,148.2 51.4,146.8 53.2,145.1 54.2,144.9 55.2,144.9 56.2,145.3 56.8,145.7 57.8,147.3 59.0,152.8 60.5,154.2 61.8,156.6 64.2,159.6 69.9,154.2 70.9,153.8 72.8,153.2 75.2,151.7 77.8,151.4 78.8,150.7 80.2,149.2 82.4,146.2 82.9,144.8 83.2,134.2 83.0,117.8 83.2,116.6 83.8,115.6 84.4,114.8 85.2,114.2 87.2,114.0 88.1,114.2 88.7,114.8 90.2,117.2 91.2,120.8 91.5,124.8 91.7,135.8 92.2,139.4 92.8,140.4 93.8,141.8 93.8,142.2 92.7,144.3 92.7,145.2 93.2,145.8 94.2,146.0 95.8,146.0 96.8,145.8 97.3,145.3 97.4,144.2 96.3,141.8 97.7,139.2 98.5,136.2 98.7,134.8 98.7,127.8 99.4,125.2 98.5,120.8 97.7,118.8 97.7,117.8 98.8,114.3 99.8,113.6ZM19.0,123.2 19.8,123.1 20.8,123.5 21.2,124.2 21.5,125.2 21.5,128.8 21.1,132.2 20.8,133.2 19.8,133.7 18.8,133.6 17.8,132.9 17.4,132.2 17.2,131.2 17.2,125.2 17.6,124.2ZM147.4,127.2 148.2,126.8 148.8,126.9 149.2,127.4 150.3,131.2 150.4,144.8 150.6,146.2 151.0,147.2 151.6,148.2 153.8,150.3 154.2,150.7 154.8,150.7 156.8,148.9 159.1,147.2 160.2,146.9 160.8,147.2 161.1,148.2 161.5,150.8 161.6,154.8 161.8,155.8 162.8,157.3 163.8,158.1 166.2,158.3 175.2,158.1 176.2,157.9 178.8,156.7 181.2,157.1 182.8,157.0 183.8,156.6 185.8,155.2 186.8,155.2 188.2,155.7 190.8,155.0 191.8,154.2 192.3,153.3 193.3,148.8 193.8,144.2 194.8,141.7 195.3,140.8 196.8,139.3 197.2,138.9 197.8,138.9 199.2,139.9 201.1,140.8 201.8,141.4 202.3,142.8 203.4,144.8 204.2,146.6 204.5,147.8 204.6,151.8 205.4,155.8 205.4,162.2 205.0,165.2 190.0,165.2 189.8,160.8 189.2,159.4 188.2,158.6 187.2,159.3 185.4,161.2 184.2,163.7 184.0,165.2 183.8,165.3 131.5,165.2 131.8,163.8 132.8,162.2 133.8,161.2 135.2,160.6 136.2,160.5 137.3,160.8 140.8,163.1 143.2,160.1 144.4,157.2 147.1,152.8 147.4,151.2 147.4,148.2 147.0,141.2 146.6,138.2 146.6,132.2 147.0,128.2ZM18.1,140.2 18.8,139.9 19.8,139.8 20.2,139.9 21.0,140.8 21.7,144.8 22.4,152.8 23.3,155.8 24.7,157.4 26.8,158.8 28.2,159.2 30.8,159.6 32.2,160.2 32.8,160.6 33.4,161.8 33.5,165.2 19.9,165.2 19.6,164.8 17.8,162.8 16.8,160.2 16.4,158.8 16.3,148.8 16.4,147.2 17.0,144.8 17.2,141.7 17.6,140.8ZM181.0,140.8 181.8,140.3 182.2,140.3 183.0,140.8 183.4,141.8 183.3,145.8 182.8,147.0 182.2,147.4 181.8,147.4 181.2,147.0 180.7,145.8 180.5,142.2 180.7,141.2ZM197.2,159.6 196.8,160.3 196.5,161.8 196.9,162.8 197.2,163.1 197.8,163.1 198.4,162.2 198.4,161.2 198.2,160.6 197.8,159.8Z"/>
<path fill="rgb(75, 232, 25)" d="M18.7,93.2 18.7,92.8 19.2,92.8 19.2,93.8 18.8,93.8ZM18.6,101.2 18.8,100.9 19.2,100.9 19.8,102.2 19.8,104.8 19.2,106.3 18.8,106.3 18.2,104.8 18.2,102.8ZM148.0,111.2 148.2,110.9 148.8,111.2 148.9,112.2 148.9,118.2 148.8,118.9 148.2,119.2 148.0,118.8 147.7,117.8 147.7,112.2ZM101.0,113.8 102.8,113.7 103.2,114.0 103.8,114.8 104.9,118.2 104.9,121.8 104.6,124.8 104.4,125.8 103.0,129.2 101.2,130.9 100.4,133.8 100.3,135.8 100.4,138.8 102.0,142.2 102.8,142.8 105.2,143.4 106.8,143.5 107.0,143.8 107.1,144.8 107.6,145.8 109.4,147.2 110.2,148.8 111.2,149.7 113.2,150.0 113.5,149.8 113.6,148.2 114.1,147.2 115.8,146.0 116.8,144.8 119.3,143.3 120.5,141.2 122.0,139.8 122.4,138.8 122.6,134.2 123.2,131.2 123.7,130.3 125.6,128.2 126.2,127.7 128.2,127.5 130.2,127.7 130.8,128.3 132.0,131.2 132.3,134.8 131.2,139.2 129.4,141.2 127.9,145.2 127.6,147.8 127.6,151.8 128.3,155.8 129.0,158.2 127.9,165.2 121.8,165.2 120.6,162.8 119.2,157.2 117.2,155.1 115.2,150.5 114.8,150.2 113.8,150.0 113.5,150.2 113.5,151.8 112.9,154.2 112.6,157.2 112.5,165.2 67.5,165.2 67.5,158.8 67.8,157.8 68.1,157.2 69.8,156.0 70.8,154.8 71.7,154.2 74.8,153.0 78.0,152.8 79.1,152.2 80.0,150.8 81.5,149.2 83.1,145.8 83.4,144.2 83.6,134.8 83.5,118.2 83.9,116.8 85.3,115.2 86.2,114.6 87.8,114.7 88.8,115.7 89.6,117.2 90.8,121.2 91.3,124.8 91.4,135.2 92.0,139.2 93.0,141.8 92.9,142.8 92.3,144.2 92.2,145.2 92.8,146.0 93.8,146.4 96.2,146.4 96.9,146.2 97.5,145.8 97.9,144.8 97.4,142.2 97.5,141.2 98.6,138.8 99.2,135.8 99.2,127.8 100.2,125.2 98.3,119.3 98.1,117.8 99.2,114.6 99.8,114.2ZM18.7,123.8 19.8,123.4 20.2,123.5 21.0,124.2 21.2,125.2 21.3,128.8 20.9,131.8 20.6,132.8 19.8,133.3 19.2,133.2 18.4,132.8 17.9,131.8 17.8,130.8 17.6,125.8 17.9,124.8ZM148.2,127.8 148.8,128.0 148.9,128.2 149.8,130.6 150.0,131.8 150.0,147.2 150.3,148.8 152.8,150.2 154.1,152.2 154.8,152.3 156.2,150.2 158.2,149.0 159.7,147.8 160.2,147.7 160.8,148.7 161.2,150.8 161.5,155.8 162.8,158.0 163.2,158.7 163.8,158.9 166.2,159.0 175.8,158.8 176.8,158.6 178.8,157.4 182.2,157.6 183.2,157.4 184.8,156.9 185.8,156.9 186.3,157.8 186.2,158.8 184.4,160.8 183.4,165.2 143.0,165.2 143.4,161.8 143.6,160.8 144.8,157.8 147.4,153.2 147.9,151.8 148.0,148.2 147.6,145.8 147.0,138.2 147.0,132.2 147.2,130.0 147.8,128.3ZM197.2,139.8 197.8,139.7 198.2,139.8 200.8,141.2 201.2,141.8 202.7,145.3 203.8,147.2 204.0,148.2 204.1,151.8 204.8,154.2 205.0,155.8 205.0,162.2 204.4,165.2 190.7,165.2 190.6,161.2 190.1,158.8 190.2,157.8 190.4,157.2 191.8,156.1 192.2,155.3 192.8,153.2 193.2,150.8 193.8,148.8 194.2,144.5 195.6,141.2 196.2,140.4ZM19.4,140.2 20.2,140.4 20.8,141.2 21.5,144.8 22.1,153.2 22.8,156.1 24.7,158.8 25.2,159.1 30.2,159.9 32.0,160.8 32.8,161.8 32.9,165.2 21.4,165.2 21.1,164.2 19.1,162.8 18.0,160.8 17.2,159.8 16.8,158.7 16.7,157.8 16.7,147.8 17.5,145.2 18.1,141.2 18.8,140.5ZM107.7,140.8 108.2,140.4 108.8,140.6 109.1,141.2 109.1,142.2 108.8,143.0 108.2,143.3 107.2,143.5 107.0,143.2 107.1,141.8ZM181.7,141.2 182.3,141.2 182.8,142.2 182.7,144.8 182.2,145.8 181.8,145.8 181.3,144.8 181.2,142.2ZM52.8,146.2 53.8,145.9 54.8,146.0 56.2,146.6 56.8,147.0 57.2,147.8 58.1,150.2 58.6,152.8 60.2,154.8 61.5,157.8 61.6,159.2 60.9,162.2 60.2,163.2 59.2,164.0 58.7,165.2 54.3,165.2 53.9,164.2 52.8,162.7 52.1,159.2 52.0,154.8 51.5,152.2 51.4,149.8 51.5,147.8 52.2,146.8ZM197.2,158.0 196.6,158.8 196.2,160.2 196.1,161.8 196.5,163.2 197.2,163.8 197.8,163.8 198.2,163.5 198.8,162.8 198.9,161.2 197.8,158.3ZM43.4,161.2 44.3,160.9 44.8,160.9 46.6,162.2 48.2,162.9 49.2,163.8 49.9,165.2 40.7,165.2 41.2,163.8 42.3,162.8ZM135.3,161.2 136.7,161.2 137.3,161.8 138.0,163.8 138.1,165.2 132.2,165.2 132.8,163.8Z"/>
<path fill="rgb(12, 232, 90)" d="M18.7,101.8 18.8,101.6 19.2,101.6 19.6,102.8 19.6,104.2 19.2,105.6 18.8,105.6 18.4,104.2 18.4,102.8ZM101.2,114.2 102.2,114.1 102.8,114.2 103.3,114.8 104.2,117.2 104.4,118.8 104.4,122.2 103.9,125.2 102.8,127.2 101.8,128.0 101.2,127.8 100.9,124.8 98.7,119.2 98.5,118.2 98.6,117.2 99.2,115.9 100.3,114.8ZM85.9,115.8 86.7,115.3 87.2,115.3 88.2,115.9 88.9,116.8 90.8,123.8 91.0,125.2 91.1,135.2 91.8,139.2 92.6,141.8 92.5,142.8 91.8,144.8 92.0,145.8 92.8,146.5 93.7,146.9 96.2,146.9 97.6,146.2 98.0,145.8 98.3,144.8 98.1,142.2 98.2,140.9 98.8,139.9 99.2,139.4 99.8,139.4 100.7,140.8 101.4,142.8 102.0,143.2 103.8,143.8 105.2,144.8 107.7,147.2 108.8,148.8 111.5,151.8 111.7,152.8 111.8,164.8 110.8,165.1 109.2,165.2 93.2,165.2 73.2,165.2 70.8,165.1 69.0,164.8 68.9,160.2 69.0,158.8 69.4,157.8 71.8,155.4 74.2,153.8 75.2,153.5 78.2,153.4 80.0,152.8 80.5,152.2 82.0,149.8 82.8,147.5 83.7,145.8 84.0,144.2 84.3,128.2 84.1,118.8 84.5,117.2ZM18.7,124.2 19.2,123.9 20.2,123.9 20.8,124.4 21.0,125.2 21.0,128.8 20.8,130.8 20.4,132.2 19.8,132.8 19.2,132.6 18.8,132.1 18.2,129.2 18.1,125.8 18.3,124.8ZM126.5,128.8 127.2,128.4 128.8,128.4 129.8,128.7 130.2,129.2 131.4,131.2 131.8,134.2 131.8,135.2 130.8,139.1 128.8,141.1 128.2,142.8 127.1,144.8 126.8,145.8 126.7,148.2 126.9,151.8 127.7,154.2 128.4,158.2 127.8,163.2 127.1,164.8 126.8,164.9 123.2,165.1 122.4,164.8 120.2,159.6 119.6,157.2 117.0,153.2 116.2,150.4 115.4,148.8 115.3,148.2 115.4,147.8 116.3,146.7 120.6,142.8 122.4,140.2 122.9,138.8 123.0,135.2 123.2,133.6 124.5,130.8ZM148.2,129.8 148.8,129.8 149.2,130.5 149.5,132.2 149.5,145.2 149.2,146.5 148.8,147.0 148.2,146.5 148.0,145.2 147.5,138.2 147.5,131.8 147.8,130.3ZM19.7,140.8 20.4,141.2 21.1,144.2 22.0,155.8 23.2,159.7 23.8,160.0 29.2,160.1 31.0,160.8 31.6,161.2 32.0,162.2 32.0,164.8 31.8,164.9 30.2,165.1 25.8,165.2 24.2,165.1 22.8,164.8 22.7,163.2 22.2,162.0 20.2,161.5 19.8,161.2 17.8,159.0 17.5,158.2 17.3,155.8 17.2,148.2 18.0,145.2 18.6,141.8 19.2,140.9ZM196.6,140.8 197.2,140.3 197.8,140.3 198.9,140.8 200.1,141.8 201.5,143.8 203.2,147.8 203.4,151.8 204.5,154.8 204.6,157.2 204.4,162.8 203.5,164.8 203.2,164.9 200.2,165.1 197.9,164.8 198.8,163.9 199.1,163.2 199.4,161.8 198.3,157.8 197.8,157.3 197.2,157.1 196.7,157.2 196.2,157.8 195.6,161.2 195.9,163.2 196.2,163.9 197.1,164.8 195.8,165.0 194.2,165.1 191.7,164.8 191.6,158.2 192.9,155.8 193.5,151.2 194.6,148.2 194.8,144.8 196.2,141.3ZM53.2,146.8 54.2,146.7 55.5,147.2 57.2,149.4 57.8,150.8 58.2,152.8 60.5,156.8 60.9,157.8 60.9,158.8 60.7,159.8 58.1,164.8 57.8,165.0 55.8,165.1 54.9,164.8 53.7,162.2 52.6,159.2 52.4,154.8 52.0,151.8 52.0,148.8 52.2,147.7 52.8,147.0ZM158.6,149.8 159.8,149.3 160.2,149.4 160.8,150.2 161.3,155.8 162.6,158.8 163.2,159.3 165.8,159.6 176.2,159.3 179.7,158.3 183.1,158.8 183.5,159.2 183.5,160.2 183.1,164.8 182.8,165.0 181.8,165.1 174.2,165.2 147.2,165.2 144.8,165.1 143.8,164.9 143.6,164.8 143.6,164.2 144.3,160.8 147.4,154.2 148.6,152.2 149.2,150.2 150.2,150.0 151.8,150.2 152.5,150.8 153.5,152.8 154.2,153.2 154.8,153.2 155.5,152.8 156.2,151.1 156.8,150.5ZM44.1,162.2 44.8,162.1 48.2,163.4 48.8,163.9 49.3,164.8 48.2,165.1 45.2,165.2 42.8,165.1 41.7,164.8 42.8,163.3ZM135.4,162.8 135.8,162.5 136.2,162.6 136.8,163.0 137.4,164.8 136.8,165.0 135.8,165.1 133.5,164.8Z"/>
<path fill="rgb(0, 238, 204)" d="M18.7,102.8 19.2,102.6 19.2,104.6 18.8,104.6ZM101.8,114.8 102.8,115.0 103.2,115.7 103.8,117.2 104.0,118.8 104.0,121.8 103.8,123.5 103.1,125.2 102.8,125.8 102.2,125.9 101.8,125.3 100.7,122.8 100.1,120.8 99.3,119.2 99.1,118.2 99.2,117.2 99.8,116.5 101.0,115.2ZM86.3,116.2 87.2,116.0 87.8,116.2 88.7,117.2 89.8,122.8 90.5,124.8 90.7,134.8 91.5,139.2 92.2,141.8 92.1,142.8 91.3,144.8 91.5,145.8 92.3,146.8 93.8,147.4 95.8,147.5 97.2,147.1 98.6,145.8 98.9,144.2 98.8,141.8 99.2,140.8 99.8,140.8 100.2,141.7 100.5,142.8 101.2,143.7 103.7,144.8 104.8,146.0 106.2,147.1 106.8,147.8 107.4,149.2 109.2,150.6 109.9,151.8 110.0,154.8 110.6,157.2 110.9,160.8 111.0,164.8 109.8,165.1 108.2,165.1 93.2,165.2 81.2,165.0 74.8,165.1 70.4,164.8 69.9,162.8 69.9,161.2 70.5,158.2 71.1,157.2 72.8,156.0 73.9,154.8 74.8,154.3 79.2,154.0 80.8,153.5 81.2,153.1 81.7,152.2 83.3,147.8 84.4,145.8 84.6,144.8 84.9,138.2 84.9,131.2 85.5,127.2 85.5,125.2 84.9,122.2 84.9,118.8 85.3,117.3ZM19.3,124.2 19.8,124.1 20.2,124.3 20.6,124.8 20.8,125.8 20.7,129.2 20.2,131.1 19.8,131.8 19.2,131.2 18.7,129.8 18.5,128.2 18.6,125.2 18.8,124.8ZM126.3,129.8 127.2,129.4 128.2,129.5 129.8,130.1 130.2,130.5 130.7,131.2 131.2,133.5 131.4,135.2 130.3,138.8 128.6,140.2 128.0,141.2 127.4,142.8 126.2,143.8 125.6,144.8 125.5,146.2 125.6,148.8 126.2,152.3 127.3,154.8 127.8,157.8 127.8,159.2 127.4,162.2 127.0,163.2 125.7,164.8 123.8,164.9 123.0,164.8 122.2,162.8 121.6,160.8 120.7,159.2 120.1,157.2 118.6,154.2 117.3,152.2 116.6,148.2 117.2,147.1 118.8,146.2 120.2,144.2 121.8,143.2 122.2,142.6 123.3,139.2 123.5,135.2 123.7,134.2 124.6,132.8 125.3,130.8ZM148.2,131.8 148.2,131.4 148.8,131.4 148.9,132.2 148.8,144.2 148.1,138.8ZM197.1,141.2 197.8,141.0 198.3,141.2 200.8,143.9 202.5,147.8 202.7,152.2 203.8,154.2 204.0,155.2 204.0,160.8 203.8,162.7 202.3,164.2 202.1,164.8 200.8,164.9 199.2,164.8 199.9,162.8 199.8,161.2 198.8,157.5 198.2,156.9 197.2,156.6 196.3,156.8 195.8,157.2 195.3,158.2 195.0,162.2 195.8,164.8 194.2,164.9 193.0,164.8 193.1,158.2 193.6,155.8 194.1,151.2 195.3,148.8 195.5,144.8 196.8,141.7ZM19.6,141.8 19.8,141.7 20.3,142.3 20.8,144.2 21.5,151.2 21.4,158.2 21.1,159.2 20.2,159.7 19.2,159.4 18.6,158.2 18.0,155.8 17.7,152.2 17.7,147.8 18.8,143.6 19.2,142.1ZM53.1,147.8 53.8,147.5 54.2,147.6 55.3,148.8 56.8,149.7 57.2,150.3 58.1,153.2 60.2,157.8 60.1,159.2 59.0,160.8 58.4,162.8 57.4,164.8 57.2,164.8 55.6,164.8 54.6,162.8 54.2,161.2 53.0,158.8 52.7,150.8 52.7,148.8ZM157.7,150.8 159.8,150.4 160.2,150.7 160.6,151.8 160.9,155.8 162.2,158.9 163.1,159.8 165.8,160.0 170.2,159.7 176.2,159.7 179.2,159.4 180.8,159.6 182.2,160.2 182.6,160.8 182.8,162.2 182.6,164.8 180.8,165.0 176.7,165.1 155.8,165.2 145.8,165.1 144.0,164.8 144.8,161.2 146.0,159.2 146.7,157.2 147.8,154.8 148.2,154.0 149.5,152.8 150.3,151.2 151.2,150.9 151.8,151.1 153.2,153.3 154.2,153.9 154.8,153.9 155.8,153.2 157.0,151.2ZM25.6,160.8 28.8,160.4 30.2,160.8 31.0,161.8 31.1,164.8 30.2,165.0 28.2,165.1 25.2,165.0 23.9,164.8 24.5,161.8 24.8,161.2ZM43.8,163.2 44.8,163.0 47.8,163.7 48.5,164.2 48.8,164.8 47.8,165.0 45.2,165.0 42.5,164.8 43.2,163.8ZM135.2,164.2 135.8,163.9 136.2,164.1 136.7,164.8 134.8,164.8Z"/>
<path fill="rgb(0, 216, 250)" d="M101.3,116.2 102.2,115.8 102.8,116.1 103.5,117.8 103.5,122.2 103.2,123.2 102.8,124.0 102.2,124.0 101.3,122.8 100.8,120.4 100.0,118.8 100.1,117.8ZM86.7,116.8 87.8,116.9 88.2,117.4 88.5,118.2 88.9,121.2 89.0,123.8 88.8,125.6 88.2,126.1 86.2,124.1 85.6,122.2 85.6,118.2 86.0,117.2ZM19.5,124.8 19.8,124.7 20.2,125.0 20.4,126.2 20.3,129.2 19.8,130.1 19.2,129.6 19.0,128.2 19.0,125.8 19.2,125.0ZM87.8,127.8 88.2,127.3 88.8,127.4 89.8,129.5 90.0,131.2 90.1,134.8 91.9,141.2 91.8,142.8 90.8,144.8 90.8,145.8 91.8,146.9 93.2,148.2 95.8,148.8 96.2,148.7 97.2,147.9 100.2,145.0 102.2,145.3 103.8,146.3 105.1,147.8 105.8,150.3 106.2,151.2 107.8,152.2 108.1,152.8 108.6,154.8 109.8,156.9 110.4,160.8 110.4,164.8 109.2,165.0 105.8,165.1 99.8,165.0 89.8,165.1 81.2,164.8 74.8,165.0 71.7,164.8 71.2,164.1 70.7,162.8 70.7,160.8 71.2,159.4 73.3,156.8 74.2,155.8 75.2,155.3 77.8,155.2 80.2,155.4 80.8,155.2 81.8,154.1 82.2,153.2 82.8,150.8 83.8,148.8 85.0,145.2 85.1,141.2 85.5,138.2 85.7,130.8 86.2,129.4ZM126.7,130.2 127.2,130.1 128.2,130.3 129.5,131.2 130.8,133.7 130.9,135.2 130.7,136.2 129.3,138.8 126.8,141.3 126.2,141.6 125.2,141.7 124.8,141.4 124.4,140.2 124.4,135.2 125.2,133.1 125.7,131.2 126.0,130.8ZM197.5,142.8 197.8,142.6 198.2,142.8 199.7,144.2 201.2,146.4 201.9,147.8 202.1,152.2 203.1,155.2 203.2,157.8 203.1,159.2 202.8,161.0 202.2,161.5 201.8,161.7 201.2,161.6 200.2,160.5 199.7,159.2 199.2,157.2 198.8,156.6 197.8,156.2 195.2,156.0 194.8,155.2 194.9,151.8 195.9,149.2 196.1,144.8 196.8,143.4ZM19.4,143.8 19.8,143.4 20.2,143.8 20.5,144.8 21.0,147.2 21.2,151.2 20.9,156.2 20.2,157.4 19.8,157.4 19.2,157.0 18.7,155.8 18.1,151.8 18.2,147.8ZM121.8,147.2 122.2,147.0 122.8,147.3 124.8,149.4 125.2,150.4 125.6,152.8 126.6,155.2 126.8,158.2 126.6,161.8 125.7,163.2 124.2,164.4 123.8,164.2 122.8,162.8 122.2,160.2 121.1,157.8 119.9,155.8 118.3,151.8 118.3,149.8 118.7,148.8ZM54.1,150.2 54.8,150.0 55.8,150.1 56.4,150.2 57.0,150.8 59.3,157.8 59.3,158.8 58.3,160.8 57.7,162.8 56.8,164.1 56.2,164.1 55.3,162.8 54.7,160.8 53.9,159.2 53.7,158.2 53.7,151.8 53.8,150.8ZM157.8,152.3 158.8,152.0 159.2,152.2 159.6,152.8 160.4,155.8 161.2,157.3 161.9,159.2 162.8,160.1 163.8,160.4 164.8,160.4 166.8,160.4 170.2,160.0 178.2,160.0 179.8,160.2 181.0,160.8 181.5,161.2 181.8,162.2 181.7,164.8 174.2,165.1 163.8,165.0 155.8,165.1 147.2,165.0 144.5,164.8 144.8,163.6 145.7,161.2 146.7,159.2 147.5,156.8 148.9,154.8 150.2,153.3 151.2,152.6 151.8,152.8 153.8,154.5 154.8,154.7 155.8,154.1ZM26.9,161.2 28.8,160.8 30.0,161.2 30.5,162.2 30.5,164.8 28.2,165.0 24.6,164.8 25.2,162.9 26.2,161.8ZM44.2,163.8 45.2,163.6 47.2,164.0 47.9,164.2 48.3,164.8 45.2,164.9 43.2,164.8 43.5,164.2Z"/>
<path fill="rgb(0, 173, 255)" d="M101.7,117.2 102.2,117.1 102.5,117.2 102.8,117.6 102.9,118.2 102.9,121.8 102.8,122.3 102.2,122.6 101.8,121.8 101.2,118.8 101.3,117.7ZM86.6,117.8 87.2,117.5 87.7,117.9 88.2,120.8 88.2,122.0 88.0,122.8 87.8,123.1 87.2,123.2 86.6,122.8 86.2,121.8 86.2,118.8ZM87.2,130.2 87.8,130.2 88.2,130.4 88.8,131.0 89.1,135.2 90.2,137.0 91.5,141.2 91.5,142.2 91.2,143.1 89.9,144.8 89.8,145.2 90.2,146.2 91.6,147.8 92.4,149.2 94.6,150.8 95.4,152.8 96.2,153.4 97.2,153.5 99.8,153.4 100.6,152.8 100.8,152.2 100.8,151.2 100.6,150.8 98.4,149.2 98.2,148.2 98.8,147.4 99.8,146.7 100.8,146.5 102.2,146.6 103.2,147.1 103.9,148.2 104.0,151.8 104.4,152.8 106.7,154.2 107.6,155.8 108.8,156.8 109.2,157.8 110.0,161.2 110.0,164.8 106.2,165.1 99.2,164.9 93.2,165.1 82.5,164.8 82.5,155.2 83.3,151.2 84.7,149.2 85.3,146.2 85.5,141.2 86.1,138.2 86.2,131.8 86.5,130.8ZM126.6,131.2 127.2,131.0 128.0,131.2 128.8,132.8 130.2,134.2 130.3,134.8 130.2,135.8 128.8,137.2 128.1,138.8 127.7,139.2 126.8,139.7 126.2,139.6 125.8,139.0 125.5,137.2 125.6,134.8 126.2,131.9ZM197.2,144.2 197.8,144.0 198.2,144.2 199.3,145.8 200.8,147.0 201.1,147.8 201.4,152.2 201.9,154.8 202.0,156.2 201.8,158.8 201.2,159.5 200.8,159.5 200.2,159.0 199.8,157.2 199.2,156.2 198.2,155.7 196.6,155.2 196.2,154.8 196.1,151.8 196.6,149.2 196.7,145.2ZM19.6,145.2 19.8,145.0 20.2,145.5 20.7,147.2 20.9,151.2 20.8,153.8 20.2,155.5 19.8,155.8 19.2,155.1 18.8,153.4 18.5,151.2 18.6,147.8 19.2,145.8ZM120.5,150.2 121.8,150.0 123.8,150.2 124.2,150.5 124.7,151.2 125.4,155.2 125.5,160.8 125.2,162.2 124.8,162.8 124.2,163.0 123.8,162.8 123.4,162.2 122.2,157.2 120.8,155.9 120.2,154.9 119.6,151.8 119.9,150.8ZM55.4,151.2 55.8,151.0 56.2,151.1 56.8,151.7 57.9,154.8 58.5,157.8 58.3,159.2 56.8,162.7 56.2,162.7 55.9,162.2 54.4,158.2 54.4,154.2 55.1,151.8ZM150.6,154.2 151.2,153.9 151.8,153.9 153.5,155.2 154.8,155.4 155.8,155.0 157.2,153.9 158.2,153.9 158.8,154.3 160.7,157.2 161.8,159.8 162.8,160.6 163.8,160.9 166.8,160.9 169.2,160.4 170.8,160.3 176.2,160.3 179.2,160.8 180.1,161.2 180.4,161.8 180.5,164.8 173.8,165.0 163.8,164.9 155.8,165.1 145.1,164.8 146.1,162.8 146.7,160.8 148.0,157.2ZM74.8,156.8 75.8,156.5 77.8,156.6 78.5,156.8 79.1,157.2 79.5,158.8 79.5,164.8 73.4,164.8 72.8,163.8 71.5,162.8 71.3,161.8 71.5,160.8 73.2,159.2 73.8,157.7ZM27.8,161.8 28.8,161.4 29.5,161.8 29.8,162.2 29.8,164.8 25.3,164.8 25.8,163.9 27.2,162.8ZM44.0,164.8 44.8,164.3 45.2,164.3 47.5,164.8Z"/>
<path fill="rgb(2, 122, 250)" d="M87.6,138.2 88.2,138.0 89.8,138.6 90.8,140.0 91.2,141.2 91.2,142.2 90.9,142.8 89.4,144.2 89.1,145.2 89.3,146.2 90.1,147.8 90.4,148.8 90.6,152.8 92.2,153.5 93.3,154.2 96.7,155.8 97.8,156.5 98.2,156.5 99.3,155.8 102.2,154.5 104.8,155.0 105.8,155.4 108.1,157.8 109.2,160.1 109.5,161.8 109.6,164.8 105.8,165.0 99.2,164.8 93.2,165.0 84.0,164.8 84.0,161.2 84.2,159.7 84.8,158.3 85.7,156.8 86.4,153.8 85.8,152.6 85.5,150.8 86.0,141.2 86.2,140.2 86.8,139.3ZM19.6,146.8 19.8,146.6 20.3,147.2 20.6,151.2 20.3,153.2 19.8,153.8 19.2,153.1 19.0,151.2 19.0,148.2 19.2,147.1ZM55.6,153.2 56.2,152.9 56.8,153.3 57.2,154.2 57.9,157.2 57.8,159.1 57.3,160.1 56.8,160.6 56.2,160.6 55.8,160.1 55.3,159.2 55.1,158.2 55.1,154.8ZM157.1,155.2 157.8,155.2 158.2,155.4 159.2,156.3 160.0,157.2 161.1,159.8 163.8,162.2 164.2,162.4 166.8,161.9 168.1,161.2 169.8,160.7 176.8,160.8 178.1,161.2 178.7,161.8 179.0,162.8 179.0,164.8 173.2,165.0 163.8,164.8 155.8,165.0 146.0,164.8 146.8,163.1 147.5,160.2 148.9,157.8 150.8,155.8 151.2,155.5 151.8,155.4 153.2,155.9 154.8,156.0Z"/>
<path fill="rgb(8, 68, 240)" d="M87.3,140.2 88.2,140.0 89.8,140.1 90.4,140.8 90.7,141.8 90.2,142.6 89.2,143.3 88.5,144.2 88.4,145.2 88.9,147.8 88.8,149.0 88.2,149.6 87.2,149.8 86.8,149.6 86.5,149.2 86.2,148.2 86.5,141.8 86.8,140.8ZM56.0,154.8 56.2,154.4 56.8,154.7 56.9,155.2 57.2,157.8 57.0,158.8 56.8,159.2 56.2,159.2 55.8,158.2 55.7,155.8ZM156.0,156.2 157.8,156.1 158.8,156.7 159.2,157.2 160.0,159.2 161.8,161.8 162.0,164.8 155.8,165.0 147.1,164.8 148.0,160.8 149.4,159.2 150.8,157.1 151.8,156.6ZM90.0,156.8 91.2,156.5 93.2,156.5 94.0,156.8 94.6,157.2 95.7,159.2 97.2,160.3 97.8,160.9 98.0,162.2 98.0,164.8 93.2,165.0 85.5,164.8 85.6,161.8 85.9,160.8 86.4,160.2 88.2,159.4 88.8,158.8 89.4,157.2ZM102.0,156.8 102.8,156.5 104.8,156.5 105.8,156.8 106.4,157.2 108.8,160.8 109.0,161.8 109.1,164.8 105.2,165.0 100.9,164.8 100.4,162.8 100.4,160.8 101.1,157.8 101.4,157.2ZM169.8,161.2 175.2,161.2 176.8,161.4 177.2,161.8 177.4,162.2 177.5,164.8 173.2,164.9 165.6,164.8 166.2,163.9 167.8,163.1 168.8,161.8Z"/>
<path fill="rgb(35, 23, 229)" d="M156.0,156.8 157.8,156.7 158.2,157.0 158.8,157.6 159.3,159.2 160.6,161.8 160.7,164.8 155.8,164.9 148.5,164.8 148.7,162.2 149.0,161.2 151.9,157.8 153.2,157.1ZM91.3,158.2 92.8,158.2 93.8,158.5 96.1,160.8 96.6,161.8 96.7,164.8 93.2,164.9 87.2,164.8 87.5,161.8 90.2,158.8ZM103.3,158.2 104.8,158.2 105.8,158.5 107.6,160.2 108.3,161.8 108.4,164.8 105.2,164.9 102.1,164.8 101.2,162.8 101.2,160.8 101.8,159.4 102.2,158.8ZM171.4,162.2 173.8,162.1 175.2,162.5 175.8,163.2 176.0,164.8 169.4,164.8 170.4,162.8Z"/>
<path fill="rgb(95, 0, 229)" d="M153.7,157.8 156.8,157.3 157.2,157.3 158.0,157.8 159.5,161.2 159.7,164.8 155.8,164.9 150.0,164.8 150.0,162.2 150.3,161.2 150.8,160.6 152.4,159.2ZM91.4,159.8 93.2,159.4 94.2,159.8 94.8,160.2 95.6,161.8 95.7,164.8 93.2,164.9 89.0,164.8 89.0,162.2 89.3,161.2 90.2,160.2ZM103.4,159.8 105.2,159.4 106.2,159.8 106.8,160.2 107.6,161.8 107.6,164.8 103.2,164.8 102.0,162.8 101.7,161.8 102.3,160.4ZM172.6,163.8 173.2,163.7 173.8,163.9 174.3,164.8 171.7,164.8 171.9,164.2Z"/>
<path fill="rgb(175, 0, 255)" d="M154.5,158.8 155.2,158.5 156.8,158.5 157.8,159.2 158.9,161.2 159.0,164.8 151.5,164.8 151.5,162.2 151.9,161.2 153.8,159.3ZM92.5,160.2 93.8,160.2 94.2,160.5 94.8,161.2 95.0,162.2 95.0,164.8 90.5,164.8 90.7,161.8 91.5,160.8ZM104.5,160.2 105.8,160.2 106.2,160.5 106.8,161.2 107.0,162.2 107.0,164.8 103.9,164.8 102.9,161.8 103.0,161.2 103.5,160.8Z"/>
<path fill="rgb(228, 0, 255)" d="M154.3,160.2 155.2,160.0 156.8,160.1 157.8,160.6 158.3,161.8 158.3,164.8 153.0,164.8 153.1,161.8 153.6,160.8ZM92.5,161.2 93.2,161.0 93.8,161.1 94.2,161.8 94.3,164.8 92.0,164.8 92.1,162.2ZM104.5,161.2 105.2,161.0 105.8,161.1 106.2,161.8 106.3,164.8 104.7,164.8 104.2,162.2 104.2,161.8Z"/></g></g>
<g transform="translate(323.0,211.0)" clip-path="url(#clipD)"><rect width="218.1" height="168.3" fill="#e00000"/><g filter="url(#bl)"><path fill="rgb(228, 6, 0)" d="M17.7,12.8 18.2,12.5 19.2,12.6 19.9,13.2 20.3,14.2 20.3,15.2 20.0,16.2 19.2,17.0 18.8,17.2 17.8,16.9 17.0,15.8 16.9,14.3 17.2,13.3ZM17.7,24.2 18.2,24.0 19.2,24.1 19.9,24.8 20.3,25.8 20.3,26.8 20.0,27.8 19.2,28.5 18.8,28.7 17.8,28.4 17.0,27.2 16.9,25.8 17.2,24.8ZM98.9,29.2 99.2,29.0 99.8,28.9 100.2,29.2 100.8,29.9 101.4,31.8 101.7,33.8 101.7,36.2 101.3,38.8 100.7,40.3 100.2,40.8 99.8,41.1 99.2,41.0 98.8,40.6 98.3,39.8 97.8,38.3 97.5,36.2 97.5,34.2 97.7,32.2 98.2,30.3ZM195.5,37.8 196.2,38.0 196.8,38.8 197.2,40.2 197.3,41.8 196.9,44.8 196.2,46.0 195.8,46.3 195.2,46.2 194.5,45.2 194.0,43.8 193.9,42.2 193.9,40.8 194.3,39.2 194.8,38.3ZM18.5,38.2 19.2,38.4 19.7,38.8 20.3,40.2 20.3,41.2 19.8,42.2 19.2,42.8 18.8,43.0 17.9,42.8 17.4,42.2 16.9,40.8 17.2,39.1 17.8,38.5ZM99.0,59.8 99.8,59.6 100.2,59.8 101.1,60.8 101.8,62.3 102.6,65.8 103.0,70.8 102.9,75.8 102.2,80.2 101.2,82.9 100.7,83.8 99.8,84.4 98.8,84.1 98.2,83.5 97.3,81.2 96.5,77.8 96.2,73.2 96.3,68.2 96.9,64.2 97.8,61.5 98.2,60.5ZM48.0,60.2 48.2,59.9 48.8,60.4 48.9,60.8 49.3,62.2 49.7,65.2 50.0,71.8 49.6,77.8 49.8,78.1 50.8,78.6 51.2,79.2 51.7,80.3 51.6,81.2 51.1,82.2 50.2,82.9 49.2,83.1 48.2,82.9 47.3,82.2 47.0,81.8 46.7,80.8 47.1,78.8 46.7,72.8 46.8,66.8 47.2,62.4 47.8,60.6ZM17.9,62.2 18.2,61.8 18.8,61.8 19.2,62.1 20.1,64.2 20.6,68.2 20.3,72.8 21.1,75.8 21.5,78.8 21.5,81.2 21.2,83.8 20.1,87.8 20.9,93.8 21.2,98.2 21.2,104.8 20.7,111.2 21.8,110.5 22.8,110.4 23.8,110.5 26.8,111.4 27.4,112.2 28.2,115.8 28.1,123.2 27.8,124.2 27.2,124.7 25.2,125.5 24.8,126.2 24.2,129.2 24.3,129.8 24.8,130.2 25.8,130.4 26.8,130.2 29.2,127.2 29.8,123.2 29.9,111.8 30.8,108.5 31.2,107.9 32.2,107.5 34.8,107.5 35.5,107.8 36.1,108.2 37.5,113.8 39.2,115.2 39.8,116.8 40.2,117.4 40.8,117.6 41.2,117.6 41.9,117.2 42.9,115.2 43.4,114.7 46.2,113.9 50.2,113.7 51.1,113.2 51.9,111.8 52.4,111.2 56.2,110.2 57.1,109.8 58.2,107.9 59.2,107.7 59.8,107.9 60.4,108.8 61.1,111.8 61.2,118.8 61.5,120.2 62.1,120.8 62.8,121.0 64.8,120.9 65.9,120.2 67.2,118.4 68.2,118.2 68.8,118.4 70.1,120.2 71.8,121.3 72.4,122.2 72.6,129.8 73.2,130.8 73.8,131.0 74.3,130.8 74.8,129.8 74.9,125.2 75.6,122.2 76.2,121.3 77.2,120.7 77.9,119.8 78.4,108.2 79.2,105.4 79.8,104.9 80.2,104.7 80.9,104.8 81.7,105.2 82.6,106.8 84.3,107.8 85.8,109.7 88.2,110.4 90.2,111.3 90.8,111.9 91.4,113.2 92.2,114.0 92.8,114.0 93.2,113.7 94.3,111.8 96.3,110.2 97.4,108.2 98.1,107.8 98.8,107.7 99.2,107.9 100.8,109.8 104.2,110.2 105.6,109.8 106.8,107.9 107.8,107.7 108.6,108.2 109.6,110.2 111.2,111.3 111.7,111.8 112.2,113.0 112.8,113.5 116.2,114.4 117.8,114.5 119.2,114.3 120.0,113.8 121.1,108.8 121.8,107.8 124.8,106.9 129.2,106.7 130.1,106.2 131.2,104.9 132.2,104.7 132.8,104.9 133.4,105.8 134.6,110.2 136.2,111.8 137.1,113.8 137.8,114.1 138.2,114.1 138.8,113.9 139.2,113.2 139.8,111.8 141.5,110.2 141.8,109.2 141.9,105.2 142.6,102.2 143.2,101.3 144.2,100.5 144.8,99.4 144.8,89.8 144.5,85.8 144.6,81.2 144.9,78.8 145.6,77.2 146.5,73.2 147.2,71.9 147.8,71.8 148.5,72.8 149.1,74.8 149.7,78.2 149.9,83.2 150.1,83.8 151.2,84.7 151.4,85.2 151.5,88.8 151.8,89.8 152.2,90.4 154.2,91.7 155.2,93.4 157.1,94.8 158.0,97.8 158.3,99.8 158.8,100.6 160.1,101.8 160.5,102.8 160.5,125.8 161.1,129.2 161.2,139.8 161.5,142.8 161.8,154.8 162.1,156.2 162.8,156.8 169.8,156.7 171.2,156.4 171.8,155.9 172.4,153.2 172.6,149.2 172.8,148.8 174.2,147.2 174.4,146.8 175.0,135.2 175.8,134.3 177.2,133.5 177.8,132.8 178.8,128.9 179.2,128.3 180.2,127.6 180.7,126.8 181.0,124.8 181.9,121.8 182.5,121.2 184.2,120.6 184.8,120.0 184.9,119.2 185.0,116.2 185.4,115.2 186.2,114.6 189.8,113.8 190.6,113.2 190.9,112.2 190.0,108.8 188.2,107.7 187.5,106.8 187.4,105.8 187.4,102.8 187.5,101.8 188.3,100.8 189.8,100.4 191.2,100.6 192.8,101.1 193.6,101.8 195.0,106.2 196.8,107.3 197.2,107.8 198.0,109.8 199.8,110.8 200.5,111.8 201.0,113.2 202.8,114.3 203.2,114.7 204.1,117.2 205.8,118.9 206.5,121.2 206.7,123.2 206.7,136.2 206.1,139.8 206.0,141.8 206.7,146.2 206.7,168.2 13.8,168.2 13.5,153.8 14.0,145.8 13.9,132.2 14.4,125.8 14.8,124.8 15.8,123.8 15.6,121.2 15.7,119.2 16.0,117.2 15.8,113.7 16.3,110.8 15.9,105.2 15.8,98.2 16.1,93.8 16.9,87.2 16.0,83.8 15.7,79.2 16.0,76.2 16.9,72.8 16.6,69.2 16.8,65.8 17.2,63.8ZM87.6,68.8 87.8,68.5 88.2,68.5 88.8,69.5 89.2,72.8 89.3,76.8 89.0,79.2 88.6,81.2 88.7,82.2 89.2,83.6 90.6,84.8 91.0,86.2 91.0,102.8 90.8,103.5 90.2,104.1 88.8,104.5 86.2,104.4 85.4,103.8 84.0,98.2 82.8,97.2 82.1,96.2 81.5,93.8 81.3,92.2 81.3,85.8 81.6,83.8 82.3,81.8 84.2,80.4 84.8,79.8 85.4,78.2 86.8,77.3 86.8,72.2 87.2,69.8ZM179.7,73.8 180.2,73.4 181.2,73.5 181.9,74.2 182.2,75.2 182.3,76.2 182.1,77.2 181.5,78.2 180.8,78.6 180.2,78.6 179.7,78.2 178.9,76.8 178.9,75.2ZM57.3,77.2 58.2,77.1 59.2,77.2 61.0,78.2 62.4,80.2 63.1,82.8 63.0,85.8 62.1,88.3 60.8,90.0 59.8,90.6 58.8,90.9 57.8,90.9 56.8,90.6 55.2,89.4 54.0,87.2 53.5,85.2 53.5,82.8 54.2,80.2 55.6,78.2ZM191.3,77.8 192.2,77.5 192.8,77.8 193.2,78.4 193.6,79.2 193.6,80.2 193.4,81.2 192.8,82.2 192.2,82.5 191.2,82.2 190.8,81.6 190.4,80.8 190.4,79.2 190.8,78.4ZM202.2,78.8 202.8,78.6 203.2,78.9 203.9,79.8 204.5,81.2 204.7,83.2 204.7,85.8 204.3,87.2 203.8,88.6 203.2,89.1 202.8,89.4 202.2,89.3 201.8,89.0 201.2,88.2 200.6,86.2 200.4,84.8 200.5,82.8 200.9,80.8 201.6,79.2ZM130.8,80.8 131.8,80.4 132.8,80.5 133.2,80.8 134.0,81.8 134.2,83.2 134.1,86.2 133.7,87.3 132.8,88.0 131.2,88.0 130.8,87.7 130.0,86.8 129.8,85.2 129.9,82.2 130.3,81.3ZM95.5,84.2 96.2,84.1 96.8,84.3 97.5,85.2 98.3,87.2 98.7,89.8 98.7,92.8 98.2,95.2 97.2,97.2 96.2,97.9 95.2,97.7 94.2,96.5 93.6,94.2 93.3,92.2 93.3,89.8 93.7,87.2 94.5,85.2ZM187.5,86.8 188.2,86.5 189.2,86.8 190.2,87.8 190.7,89.2 190.7,90.8 190.5,91.8 189.8,92.8 188.8,93.4 187.8,93.4 186.8,92.7 186.1,91.8 185.9,90.8 185.9,89.2 186.1,88.2 186.8,87.3ZM179.7,112.8 180.2,112.3 180.8,112.3 181.2,112.5 181.8,113.2 182.3,114.8 182.3,116.2 182.0,117.8 181.4,118.8 180.8,119.1 180.2,119.1 179.8,118.7 179.2,117.8 178.9,116.8 179.0,114.2ZM40.8,121.7 40.3,122.8 40.2,123.8 40.2,125.9 40.8,127.1 41.3,126.8 41.7,123.2 41.6,122.2 41.3,121.8ZM135.2,124.7 134.8,125.0 134.3,125.8 134.2,127.2 134.2,132.8 134.7,133.8 135.2,134.0 135.8,133.8 136.4,132.8 136.5,129.8 136.8,129.0 137.2,128.3 138.2,127.6 138.7,126.2 138.5,125.2 137.8,124.7 136.8,124.5ZM64.2,125.0 63.8,125.5 63.6,126.2 63.6,127.8 63.8,127.9 64.8,127.8 65.2,127.5 65.6,126.8 65.6,125.8 65.2,125.0 64.8,124.8ZM62.2,128.2 61.6,128.8 61.3,129.8 61.8,130.4 62.2,130.6 62.8,130.4 63.2,129.9 63.5,128.8 63.2,128.1ZM152.2,128.6 151.6,129.8 151.6,132.8 152.3,136.2 152.8,136.9 153.2,137.0 154.0,136.8 154.4,135.8 154.5,130.2 154.2,129.2 153.8,128.6 153.2,128.4 152.8,128.4ZM55.2,129.0 54.8,129.5 54.7,130.2 55.1,132.2 55.4,136.8 55.8,137.5 57.2,138.8 57.8,139.9 58.2,140.3 58.8,140.4 59.2,140.1 59.4,139.8 59.8,137.2 59.7,135.8 59.2,134.9 57.8,133.6 56.5,129.2 55.8,128.9ZM73.8,139.1 73.3,139.8 73.2,140.2 73.3,143.2 73.8,144.0 74.2,144.2 75.2,144.4 75.5,144.2 75.5,143.8 75.5,140.8 75.3,139.8 74.8,139.1 74.2,139.0ZM22.2,142.7 22.1,143.2 22.2,143.8 22.8,144.1 23.2,144.0 23.6,143.2 23.3,142.8 22.8,142.6ZM75.8,144.5 75.5,144.8 75.5,145.2 75.8,146.8 76.2,147.4 76.8,147.7 77.2,147.6 77.7,147.2 77.9,146.8 77.8,145.3 77.2,144.8Z"/>
<path fill="rgb(243, 47, 0)" d="M18.7,13.8 19.2,14.2 19.4,14.8 19.2,15.4 18.8,15.9 18.2,15.8 17.8,14.8 18.2,13.8ZM18.7,25.2 19.2,25.7 19.4,26.2 19.2,26.9 18.8,27.4 18.2,27.2 17.8,26.2 18.2,25.3ZM99.3,31.2 99.8,31.1 100.2,31.6 100.7,32.8 100.9,34.2 100.7,37.2 100.2,38.4 99.8,38.9 99.3,38.7 98.8,38.0 98.3,35.7 98.5,32.8 98.8,32.0ZM18.1,39.8 18.8,39.6 19.3,40.2 19.3,41.2 18.8,41.7 18.2,41.5 17.8,40.8ZM195.2,39.8 195.8,39.6 195.9,39.8 196.2,40.2 196.5,41.2 196.4,43.2 196.2,43.8 195.8,44.4 195.2,44.2 194.7,42.8 194.8,40.8ZM99.7,62.8 100.3,63.3 101.0,65.8 101.4,71.8 101.3,74.2 101.0,76.2 100.2,78.1 99.8,78.5 99.2,78.4 98.8,77.8 98.2,76.3 97.8,71.8 97.9,67.8 98.5,64.8 99.2,62.9ZM18.2,63.8 18.8,63.5 19.2,64.0 19.9,66.2 20.1,70.2 19.5,73.8 20.4,75.8 20.9,79.2 20.9,81.2 20.5,83.8 20.1,85.2 19.3,86.8 19.6,87.8 19.6,90.2 20.3,94.2 20.6,98.8 20.6,107.7 20.0,111.2 20.1,111.8 20.8,114.1 21.1,112.2 21.8,111.4 22.8,111.1 24.2,111.6 25.2,112.2 26.8,113.9 27.4,115.8 27.5,121.8 27.4,123.2 26.8,124.1 25.0,124.8 24.4,125.2 23.8,127.6 23.0,129.2 23.0,129.8 23.3,130.2 24.2,130.8 25.8,131.0 27.3,130.8 28.7,129.8 29.8,127.8 30.5,122.8 30.6,112.2 31.2,110.4 31.8,109.8 32.8,109.3 34.8,109.5 35.8,110.4 36.2,111.4 36.7,113.8 37.2,115.1 38.3,116.8 40.8,119.2 41.2,119.2 43.2,117.2 44.4,115.8 45.8,114.8 46.8,114.6 49.8,114.5 51.1,114.2 52.1,113.8 53.4,112.2 54.2,111.6 55.2,111.2 57.1,110.8 58.8,109.9 59.2,110.0 60.2,111.2 60.4,112.2 60.7,120.2 61.2,121.6 62.5,123.2 61.9,126.2 60.7,128.8 60.6,129.8 60.8,130.8 61.2,131.3 62.8,131.3 64.0,130.8 65.0,129.8 66.2,127.8 66.4,126.2 66.2,124.8 65.0,122.8 65.3,122.2 67.2,120.3 67.8,120.0 68.2,120.0 70.2,121.8 70.9,122.8 71.1,129.8 72.3,131.2 73.2,132.2 73.8,132.4 74.2,132.2 75.2,130.8 75.4,129.8 75.7,125.2 78.3,120.2 78.6,115.8 79.0,112.8 79.1,108.8 79.6,107.2 80.2,106.6 80.8,106.5 81.2,106.8 84.3,109.8 85.2,110.2 87.2,110.7 88.4,111.2 89.0,111.8 90.2,113.3 92.2,115.2 92.8,115.2 93.2,114.8 97.8,109.9 98.8,109.6 100.8,110.4 104.2,110.9 105.5,110.8 107.2,109.9 107.8,109.9 109.7,111.8 111.5,113.8 112.4,114.2 114.8,114.8 116.8,115.9 117.8,116.1 119.2,115.9 120.2,115.1 120.8,113.8 121.3,111.2 122.5,109.2 123.4,108.2 124.8,107.7 129.2,107.4 130.2,107.2 131.8,106.5 132.2,106.5 132.8,107.0 133.2,107.8 133.8,110.2 135.4,113.2 137.2,115.2 137.8,115.6 138.2,115.6 140.7,113.2 142.2,110.8 142.5,109.2 142.7,105.2 145.4,99.8 145.5,89.8 145.1,86.2 145.1,81.8 145.6,78.8 146.2,77.8 146.8,75.3 147.2,74.4 147.8,74.3 148.4,75.2 149.0,77.8 149.4,83.8 150.1,86.3 150.1,89.2 150.8,90.2 155.7,95.2 156.8,96.9 157.3,98.2 157.8,100.6 158.7,102.2 159.0,103.2 159.0,125.2 159.1,126.2 160.2,128.2 160.5,129.8 160.5,139.8 160.9,142.8 161.4,155.2 161.8,156.7 162.8,157.2 170.2,157.1 171.8,156.8 172.4,156.2 173.5,153.8 173.9,149.8 174.8,147.8 175.0,146.8 175.1,142.8 175.5,139.8 175.5,136.2 175.8,135.5 176.2,134.9 177.8,134.1 178.2,133.5 179.1,131.2 181.2,127.8 181.7,125.2 182.2,123.9 183.2,123.0 185.2,122.5 185.8,122.3 186.1,121.8 186.4,120.2 186.5,116.8 186.9,115.8 187.5,115.2 188.8,114.7 191.8,114.4 192.3,113.8 192.3,112.8 191.2,110.6 190.8,108.5 190.2,107.9 188.8,107.1 188.2,106.5 188.1,105.8 188.0,103.2 188.2,102.0 189.0,101.2 190.2,101.2 191.2,101.6 192.1,102.2 193.4,104.2 194.4,106.8 196.6,108.2 197.4,110.2 197.9,110.8 199.2,111.4 199.8,112.0 200.5,113.8 202.6,115.2 203.4,117.2 205.2,120.3 205.9,121.8 206.0,123.8 206.0,136.2 205.8,137.6 204.9,139.8 204.7,141.8 204.8,142.8 205.8,144.9 206.0,146.2 206.0,166.8 205.8,167.1 205.2,167.2 201.8,167.2 188.2,167.2 185.2,166.8 182.2,167.2 178.3,167.2 14.8,167.2 14.3,166.8 14.2,163.2 14.3,149.8 14.6,145.8 14.6,136.8 14.3,132.8 14.6,128.8 15.1,125.8 15.8,124.9 16.6,124.2 16.2,120.8 16.4,118.8 16.8,117.2 16.4,115.2 16.4,113.8 17.0,111.2 16.4,107.7 16.4,98.8 16.7,94.2 17.4,90.2 17.4,87.8 17.7,86.8 16.6,83.2 16.3,79.2 16.7,76.2 17.1,74.8 17.7,73.8 17.1,70.8 17.1,68.2 17.5,65.2ZM48.2,65.2 48.8,66.2 49.2,70.8 48.9,75.2 48.8,76.0 48.2,76.8 47.8,75.5 47.5,71.2 47.7,66.8ZM87.6,72.8 87.8,72.3 88.3,72.3 88.6,74.8 88.3,77.7 87.8,77.7 87.5,76.2ZM180.0,75.2 180.2,74.9 180.8,74.8 181.2,75.4 181.2,76.6 180.8,77.2 180.2,77.1 180.0,76.8 179.9,76.2ZM191.7,79.2 192.2,79.2 192.5,79.8 192.2,80.8 191.8,80.8 191.5,80.2ZM49.2,79.8 49.8,80.0 50.0,80.8 49.8,81.3 49.2,81.4 48.8,81.3 48.4,80.8 48.4,80.2ZM85.8,80.2 86.2,80.0 86.8,80.0 87.2,80.5 87.8,81.4 88.3,83.8 89.2,85.2 89.5,86.2 89.4,100.2 89.2,101.3 88.8,102.2 87.8,102.6 86.8,102.5 85.6,101.2 85.2,100.2 84.7,97.8 82.3,93.8 82.0,92.2 82.0,86.2 82.2,84.4 83.2,82.8ZM202.0,80.2 202.8,80.0 203.2,80.3 204.0,81.8 204.2,83.2 204.0,86.2 203.2,87.7 202.8,88.0 202.2,88.0 201.6,87.2 201.0,84.8 201.1,82.2 201.4,81.2ZM57.2,80.8 58.2,80.4 59.2,80.6 60.2,81.7 60.7,82.8 60.8,84.2 60.5,85.8 59.8,87.0 58.8,87.6 57.8,87.5 57.2,87.2 56.3,86.2 55.9,85.2 55.8,84.2 55.9,82.8 56.3,81.8ZM131.6,81.2 132.2,81.2 132.8,81.4 133.2,82.0 133.4,82.8 133.4,86.2 132.8,87.1 132.2,87.3 131.2,87.1 130.8,86.5 130.6,85.8 130.6,82.2 130.9,81.8ZM95.4,87.8 95.8,87.4 96.2,87.4 96.6,87.8 97.1,88.8 97.4,89.8 97.4,91.2 97.3,92.8 96.8,94.1 96.2,94.6 95.8,94.6 95.2,94.1 94.6,92.2 94.6,89.8 94.9,88.8ZM188.1,88.2 188.8,88.3 189.2,88.8 189.6,89.8 189.2,91.2 188.8,91.7 188.2,91.8 187.4,91.2 187.0,90.2 187.2,89.0ZM180.5,113.2 180.8,113.2 181.2,113.5 181.8,115.2 181.6,117.2 181.2,117.9 180.8,118.2 180.2,118.1 179.8,117.5 179.3,115.8 179.8,113.9ZM40.8,119.8 40.2,120.5 39.7,121.8 39.5,124.2 39.6,126.8 40.2,128.1 40.8,128.5 41.2,128.5 41.8,127.7 42.4,122.8 42.2,121.5 41.8,120.5 41.2,119.8ZM135.2,123.0 134.2,123.9 133.8,124.9 133.5,127.8 133.6,133.2 134.2,134.6 134.8,135.2 135.2,135.4 136.7,134.2 137.9,132.8 138.1,129.8 139.2,127.8 139.4,126.2 139.2,124.8 138.2,123.3 137.2,122.8 136.2,122.8ZM92.3,124.6 91.7,126.2 91.7,133.2 92.0,140.2 92.2,141.2 92.8,141.6 93.2,141.1 93.5,140.2 93.5,136.2 93.0,125.8 92.8,124.8ZM152.8,126.9 150.4,129.2 150.1,130.8 150.3,132.8 151.2,134.9 151.7,136.8 152.2,137.5 153.2,137.9 154.2,137.7 155.0,137.2 155.8,136.2 156.0,130.8 155.9,129.8 155.2,128.8 153.8,127.3 153.2,126.9ZM53.8,128.1 53.2,128.5 53.2,129.8 54.3,132.2 54.5,136.2 54.8,137.2 56.7,140.2 58.2,141.2 59.2,141.1 59.8,140.7 60.0,139.8 60.5,136.2 60.2,134.8 57.8,131.2 57.1,128.8 56.2,128.2ZM73.8,138.2 72.9,138.8 72.6,139.8 72.5,142.8 72.8,144.1 73.2,145.1 74.8,147.2 76.2,148.7 76.8,149.1 77.2,149.1 77.8,148.7 78.2,147.8 78.5,146.2 78.2,144.7 77.2,142.8 77.0,140.2 76.8,139.8 75.6,138.8 74.8,138.3ZM22.8,141.7 21.8,142.0 21.3,142.8 21.2,143.2 21.5,144.2 22.2,145.3 23.2,146.0 24.8,145.9 25.2,145.4 25.4,144.8 25.4,143.8 25.2,143.2 24.1,142.2Z"/>
<path fill="rgb(252, 104, 0)" d="M99.6,33.8 99.8,33.6 100.0,34.8 99.8,36.4 99.2,36.0 99.1,35.2 99.2,34.0ZM99.1,64.8 99.2,64.5 99.8,64.3 100.2,65.1 100.8,68.8 100.9,71.2 100.6,73.2 100.2,74.9 99.8,75.7 99.2,75.5 98.8,74.2 98.4,71.2 98.5,67.2ZM18.1,65.2 18.2,65.0 18.8,64.8 19.2,65.5 19.7,67.8 19.6,71.2 19.2,72.5 18.8,73.2 18.2,73.0 17.9,72.2 17.5,70.2 17.6,67.2ZM18.1,74.8 18.8,74.5 19.5,75.2 20.1,76.8 20.4,78.8 20.4,81.2 20.1,83.2 19.5,84.8 18.8,85.5 18.2,85.4 17.4,84.2 16.8,81.2 16.8,79.2 17.0,77.2 17.4,75.8ZM147.5,76.2 147.8,76.2 148.2,76.9 148.9,80.2 149.1,86.2 148.6,88.8 148.6,89.8 149.2,90.7 150.9,91.8 152.2,93.7 153.9,94.8 154.8,96.8 156.5,98.2 157.4,102.2 157.5,103.8 157.5,127.8 157.2,128.0 156.8,127.9 155.8,127.7 154.8,126.8 154.1,125.2 153.4,124.8 152.8,124.7 151.9,125.2 150.9,127.2 148.9,128.8 148.7,129.2 148.6,130.2 149.3,133.2 150.6,135.2 151.3,137.2 152.2,138.2 153.8,138.6 156.2,137.9 157.1,137.2 157.5,135.8 157.6,128.2 157.8,128.1 158.8,128.2 159.4,128.8 159.8,130.2 159.9,139.8 160.5,142.8 160.5,146.8 161.2,155.8 161.4,156.8 161.8,157.3 162.8,157.6 171.2,157.4 172.6,156.8 174.3,154.4 174.9,149.2 175.4,147.2 175.5,142.8 176.1,140.2 176.2,136.8 176.5,135.8 178.2,134.7 178.7,134.2 179.5,132.2 181.1,130.8 182.0,127.8 182.3,125.8 182.8,125.0 183.8,124.5 186.8,124.4 187.6,123.8 188.0,122.2 188.1,116.8 188.5,115.8 189.2,115.4 190.2,115.5 190.7,115.8 191.3,116.8 192.2,117.1 192.9,116.8 193.2,116.1 193.9,113.2 193.8,112.0 192.0,110.2 191.2,107.8 190.7,107.2 189.2,106.5 188.8,105.8 188.8,102.8 189.2,102.1 189.8,101.9 190.5,102.2 191.3,103.8 192.8,104.9 193.8,107.2 194.2,107.7 196.0,108.8 196.8,110.8 197.3,111.2 198.8,112.0 200.2,114.2 202.1,115.8 205.3,122.2 205.3,136.2 205.1,137.2 204.1,139.2 203.8,142.2 203.9,143.2 205.1,145.2 205.3,146.2 205.4,166.8 204.2,167.0 201.8,167.2 191.2,167.2 187.8,166.9 187.3,166.8 187.2,163.2 186.8,162.6 186.2,162.4 185.5,162.8 184.6,164.2 183.2,165.3 182.8,165.9 182.5,166.8 181.8,167.0 180.2,167.1 122.2,167.2 112.2,167.0 106.2,167.2 70.8,167.1 69.2,167.0 68.4,166.8 68.2,166.0 67.8,165.6 67.2,165.8 66.6,166.8 65.2,166.9 63.4,166.8 62.8,164.0 62.3,163.6 62.1,166.8 60.2,167.2 46.8,167.0 41.2,167.2 16.8,167.1 15.2,167.1 14.7,166.8 14.5,159.8 14.7,149.8 15.0,144.8 15.0,136.2 14.7,132.8 15.1,128.8 15.8,126.2 16.2,125.5 17.5,124.8 16.9,123.2 16.6,121.2 16.9,118.8 17.5,117.2 17.0,115.2 17.0,113.8 17.2,112.6 17.7,111.8 17.1,110.2 16.8,108.2 16.8,99.8 17.2,93.9 17.8,91.9 18.2,91.1 18.8,91.1 19.5,92.8 19.9,95.2 20.2,98.2 20.3,107.8 20.0,109.8 19.3,111.8 19.9,113.2 20.1,114.8 19.5,117.2 19.8,117.7 20.2,117.7 20.6,117.2 21.8,112.8 22.2,112.1 22.8,111.9 23.5,112.2 24.8,114.1 26.2,114.9 26.8,116.2 26.7,122.8 26.2,123.5 24.8,124.0 23.8,124.8 23.0,127.2 21.9,128.8 21.8,129.8 22.2,130.6 24.2,131.3 26.2,131.5 28.9,130.8 29.8,129.8 30.3,127.8 31.1,122.8 31.2,112.8 31.5,111.8 32.2,111.2 34.2,111.0 35.2,111.5 35.7,112.2 36.0,114.2 36.7,116.8 37.2,117.4 38.8,118.6 39.2,119.2 39.3,120.2 38.9,122.8 38.9,126.2 40.2,129.8 40.8,130.4 41.2,130.4 41.7,129.8 42.3,127.8 43.1,122.8 42.7,119.8 43.1,118.8 44.8,117.7 45.2,117.2 45.8,116.0 46.2,115.5 47.2,115.2 50.8,115.1 53.2,114.4 54.1,113.8 54.8,112.5 55.2,112.0 55.9,111.8 58.8,111.3 59.5,111.8 59.8,112.8 59.9,119.8 60.5,123.2 60.5,126.2 59.6,130.8 59.2,131.1 58.8,130.9 57.7,128.2 56.8,127.5 55.7,127.2 54.8,126.8 54.1,125.2 53.2,124.7 52.2,124.9 51.8,125.5 51.6,126.2 51.5,128.8 51.5,129.8 51.9,130.8 53.2,131.9 53.7,132.8 54.0,136.8 55.5,140.2 56.0,140.8 57.8,141.6 58.8,141.9 59.2,141.9 59.8,141.6 60.3,140.8 61.1,136.8 61.1,135.8 60.7,133.2 60.8,132.7 61.5,132.2 63.2,132.0 65.2,131.4 66.1,130.8 66.4,130.2 67.1,126.8 67.1,125.2 66.6,122.8 67.1,121.8 67.8,121.4 68.2,121.4 68.8,121.6 69.4,122.8 69.5,129.2 69.9,130.8 71.8,132.1 73.2,134.1 73.8,134.2 74.4,133.8 76.0,130.2 76.3,125.8 76.8,124.9 77.8,123.8 78.8,120.2 79.0,115.8 79.6,112.8 79.8,109.1 80.1,108.2 80.8,107.9 81.4,108.2 82.3,109.8 82.8,110.1 87.8,111.5 88.5,112.2 89.0,113.2 90.8,114.6 91.5,115.8 92.0,118.8 92.2,121.8 92.1,122.8 91.5,124.8 91.4,126.2 91.6,139.8 91.8,141.1 92.2,142.6 92.8,143.3 93.2,142.9 93.8,141.4 94.0,139.2 93.9,135.8 93.5,130.2 93.4,125.8 92.7,122.2 93.0,118.2 93.3,116.2 93.8,115.3 96.0,113.2 96.8,111.8 97.8,110.8 98.8,110.5 104.8,111.6 106.8,111.2 107.8,111.3 108.4,111.8 109.6,113.8 110.2,114.3 114.2,115.5 115.4,116.8 116.2,117.2 119.2,117.3 120.2,117.1 120.8,116.7 121.4,114.8 122.0,111.8 123.4,110.2 124.4,108.8 125.8,108.2 129.2,108.1 131.8,107.8 132.2,108.0 132.7,108.8 134.5,113.8 135.9,115.2 136.8,117.0 137.2,117.6 137.8,117.8 138.8,117.4 140.1,115.2 141.9,113.8 142.5,112.8 143.1,110.2 143.3,105.8 144.5,103.8 146.1,99.2 146.2,89.8 145.5,86.2 145.5,82.2 146.8,77.6 147.2,76.3ZM202.1,81.2 202.8,81.0 203.2,81.4 203.8,83.2 203.6,85.8 203.2,86.6 202.8,87.0 202.2,86.9 201.8,86.2 201.4,84.8 201.5,82.8ZM58.0,81.8 58.2,81.6 58.8,81.8 59.1,82.2 59.4,83.2 59.1,84.2 58.8,84.6 58.2,84.8 57.5,84.2 57.3,83.2 57.5,82.2ZM85.6,81.8 86.2,81.4 86.8,81.6 87.2,82.2 88.0,86.2 87.9,99.2 87.6,100.2 86.8,100.7 86.2,100.5 85.8,99.8 84.8,94.9 84.2,94.3 83.2,93.6 82.7,92.2 82.8,85.2 83.2,84.4 84.7,83.2ZM131.6,82.2 132.2,82.2 132.8,83.1 132.8,85.4 132.2,86.3 131.6,86.2 131.2,85.4 131.2,83.2ZM18.1,87.2 18.2,87.1 18.8,87.1 19.1,87.8 19.2,88.8 18.8,89.9 18.2,89.9 17.9,89.2 17.8,88.2ZM149.8,97.7 148.9,98.2 148.7,99.2 149.2,100.4 150.2,100.7 151.1,100.2 151.3,99.8 151.3,98.8 150.8,97.9ZM180.1,114.2 180.8,114.0 181.2,114.5 181.4,115.2 181.3,116.8 180.8,117.4 180.2,117.3 179.8,116.2 179.8,115.3ZM127.8,115.1 127.3,115.8 127.2,116.2 127.4,116.8 128.2,117.2 128.8,117.1 129.2,116.8 129.4,116.2 129.2,115.3 128.8,114.8 128.2,114.8ZM135.2,121.2 134.2,121.9 133.6,122.8 133.0,124.8 132.8,127.2 133.0,133.2 134.3,136.8 134.8,137.4 135.2,137.6 135.8,137.3 136.2,136.8 137.1,135.2 138.8,133.9 139.2,133.2 139.5,132.2 139.5,129.8 140.1,126.2 139.9,124.2 139.5,122.8 138.9,121.8 137.8,121.1 136.2,121.0ZM143.2,132.6 143.2,133.3 143.8,133.4 144.3,133.2 144.2,132.7 143.8,132.5ZM115.8,135.6 115.2,136.1 115.1,136.8 115.1,139.2 115.5,140.2 116.2,140.5 116.8,140.1 116.9,139.8 116.9,136.8 116.6,135.8 116.2,135.6ZM73.2,137.5 72.3,138.2 71.9,139.8 71.9,143.8 72.6,146.8 73.2,147.7 74.9,148.8 76.1,150.2 76.8,150.4 77.7,150.2 78.2,149.6 78.9,146.8 78.9,145.2 78.4,142.8 78.2,139.8 78.0,139.2 77.3,138.8 74.2,137.5ZM22.2,141.1 21.2,141.8 20.6,142.8 20.6,143.2 22.0,147.2 22.6,147.8 23.2,148.0 25.8,147.9 26.8,147.6 27.2,147.0 27.4,146.2 26.5,142.8 25.9,142.2 23.2,141.2ZM70.8,151.7 69.9,152.2 69.7,153.2 70.2,153.9 71.2,154.0 71.8,153.8 72.2,153.2 72.3,152.8 71.8,151.9ZM34.2,152.6 33.8,153.2 34.1,154.2 34.8,154.6 35.2,154.6 35.8,154.4 36.2,153.8 36.2,153.2 36.0,152.8 35.2,152.4Z"/>
<path fill="rgb(255, 152, 0)" d="M99.7,65.8 100.2,66.9 100.5,69.8 100.3,72.8 99.8,74.3 99.2,74.0 99.0,73.2 98.7,70.2 98.7,68.2 99.0,66.8 99.2,66.0ZM18.5,66.2 18.8,66.2 19.2,67.2 19.4,68.8 19.2,70.7 18.8,71.8 18.2,71.6 17.8,69.2 18.0,67.2 18.2,66.4ZM18.3,75.8 18.8,75.7 19.3,76.2 19.8,77.3 20.0,79.2 19.8,82.7 19.2,83.9 18.8,84.3 18.2,84.2 17.8,83.5 17.2,80.8 17.4,77.8 17.8,76.5ZM147.2,78.2 147.8,77.9 148.2,79.0 148.6,82.8 148.3,86.8 147.8,88.1 147.2,88.3 146.8,88.1 146.2,87.2 146.0,84.8 146.1,81.8ZM58.0,82.2 58.2,82.1 58.8,82.4 59.0,83.2 58.7,84.0 58.2,84.3 57.8,83.9 57.6,83.2 57.8,82.5ZM202.2,82.2 202.8,82.0 203.3,83.2 203.2,85.2 202.8,86.0 202.2,85.8 201.9,84.8 201.9,83.2ZM18.2,93.2 18.8,93.1 19.2,94.2 19.7,96.8 19.9,99.8 19.8,104.2 20.1,106.2 20.0,108.2 19.6,110.2 19.2,111.0 18.8,111.5 18.2,111.5 17.6,110.8 17.1,109.2 16.9,107.2 17.2,104.2 17.1,100.8 17.2,97.4 17.7,94.2ZM146.9,100.2 147.2,100.1 147.8,100.3 151.2,103.6 152.7,104.8 152.8,106.8 153.2,106.8 153.4,107.8 154.2,110.1 154.5,113.2 154.4,117.8 153.8,120.5 153.4,120.8 151.8,121.3 148.8,124.1 147.2,124.9 147.0,125.2 147.1,129.8 148.2,131.8 148.8,133.8 150.5,137.2 152.2,139.2 154.2,140.9 154.8,141.1 157.2,139.9 158.2,139.8 159.2,140.8 159.8,141.7 160.0,143.2 160.1,146.2 161.0,156.2 161.3,157.2 162.2,157.9 171.2,157.7 172.7,157.2 173.4,156.8 174.2,155.8 174.8,154.8 175.0,153.8 175.9,147.2 176.1,142.2 177.1,139.8 177.6,137.2 178.2,136.6 181.2,135.2 181.7,134.8 182.8,132.7 183.1,131.2 183.5,128.2 183.8,127.2 184.1,126.8 185.2,126.4 188.2,126.0 188.8,125.8 189.1,125.2 189.4,123.8 189.6,119.2 189.9,118.2 190.2,118.1 192.2,117.9 193.2,117.5 193.8,116.8 194.2,114.9 194.8,113.9 195.8,112.8 196.2,112.7 198.2,113.2 201.8,116.7 203.2,118.8 204.4,121.8 204.7,123.2 204.5,135.8 204.3,136.8 203.6,138.8 203.1,142.8 203.4,143.8 204.4,145.8 204.6,146.8 204.7,166.8 203.2,167.0 201.2,167.1 191.8,167.1 188.2,166.8 188.0,166.8 187.9,162.8 187.2,161.9 186.2,161.6 185.2,161.8 183.9,162.8 182.2,165.5 182.0,166.8 180.8,167.0 178.2,167.1 121.8,167.1 115.8,167.0 112.2,166.8 106.2,167.2 70.8,167.1 69.0,166.8 68.8,165.2 68.2,164.4 67.8,164.1 67.2,164.3 65.2,166.1 64.8,166.0 63.8,164.8 63.3,162.5 62.8,162.0 62.2,162.0 61.7,162.8 61.6,166.8 60.2,167.1 50.2,167.1 46.8,166.8 41.2,167.1 35.2,167.0 25.2,167.1 16.2,167.0 15.0,166.8 14.8,159.8 15.0,156.2 15.0,149.2 15.4,146.2 15.4,143.8 15.4,136.2 15.0,132.8 15.8,128.2 16.2,127.3 17.2,126.5 20.2,125.5 20.8,125.6 21.0,126.8 21.0,129.8 21.2,130.5 21.8,131.1 23.2,131.6 25.8,131.9 28.2,131.6 29.8,131.0 30.5,129.8 31.1,125.2 32.1,122.8 32.4,117.8 33.2,115.8 33.8,115.5 35.2,116.8 37.6,119.2 37.9,120.2 37.9,126.2 39.2,128.8 39.8,130.5 40.2,131.1 40.8,131.3 41.8,131.1 42.4,130.2 43.1,125.2 44.0,123.2 44.3,120.8 44.8,120.0 48.8,118.0 51.8,118.7 52.8,118.8 52.8,120.2 52.2,120.4 51.2,121.9 49.3,126.2 49.9,128.2 50.2,131.8 50.8,132.6 51.9,133.2 52.4,133.8 53.1,136.8 54.2,138.8 55.0,140.8 55.8,141.3 58.2,142.6 59.2,142.8 59.8,142.5 60.6,141.2 61.2,138.2 62.0,136.8 62.4,134.2 62.8,133.6 63.8,133.2 67.8,132.5 69.2,132.9 70.6,133.8 71.5,135.8 71.6,136.2 71.1,137.8 70.8,139.2 71.0,148.8 70.7,149.2 68.7,150.2 68.2,150.9 67.6,152.8 67.8,153.2 68.9,154.2 69.8,154.7 70.8,154.9 71.8,154.6 73.0,153.8 73.5,153.2 73.9,151.8 74.2,151.2 77.8,150.9 78.6,150.2 79.0,149.2 79.4,146.2 78.8,139.2 77.9,138.2 76.2,137.7 74.7,136.8 74.3,136.2 74.3,135.8 75.2,134.2 75.8,132.2 77.1,129.8 77.3,126.2 78.3,124.2 79.3,119.8 79.6,115.2 80.8,111.8 81.2,111.1 83.8,111.1 87.2,111.8 87.8,112.2 88.7,113.8 90.2,115.0 90.8,115.8 91.4,118.8 91.5,120.2 91.4,122.8 91.0,126.8 91.3,139.8 92.0,143.8 92.2,144.3 92.8,144.7 93.2,144.3 93.8,143.2 94.4,140.2 94.4,136.2 93.8,130.8 93.7,125.8 93.3,122.8 93.6,118.8 94.0,116.2 94.5,115.2 96.3,113.8 97.5,111.8 98.2,111.2 98.8,111.1 102.2,111.6 104.8,112.6 107.2,112.9 110.8,116.1 113.2,116.5 115.8,117.8 122.2,118.0 123.6,117.8 124.2,117.3 124.4,117.8 125.2,117.9 127.8,118.0 129.2,117.6 129.9,116.8 129.9,114.8 129.2,113.4 128.8,113.1 128.2,113.3 124.2,117.2 123.8,117.1 122.9,115.2 122.7,113.8 123.0,112.2 124.8,110.3 125.8,109.6 126.8,109.6 128.8,110.0 130.8,109.5 131.8,109.7 132.8,110.9 133.2,111.8 133.8,113.8 135.1,116.2 135.6,118.8 135.6,119.2 134.9,120.2 132.4,122.8 132.1,123.2 131.8,125.8 132.3,133.2 133.2,135.2 133.8,137.8 134.8,139.0 135.2,139.0 137.2,137.2 138.8,135.2 140.8,133.4 141.2,133.3 142.8,134.2 143.8,134.3 144.8,134.0 145.3,133.2 145.3,132.2 144.8,131.8 141.8,131.4 141.2,131.0 141.0,129.8 141.2,128.1 141.8,126.7 142.8,124.9 143.0,124.8 142.9,124.2 138.8,120.2 138.4,119.8 138.4,119.2 143.5,113.2 144.1,110.2 144.3,106.3 145.2,104.1 145.8,101.7 146.2,100.9ZM17.9,112.8 18.2,112.4 18.8,112.4 19.2,112.9 19.5,113.8 19.6,114.8 19.4,115.8 18.8,116.6 18.2,116.6 17.9,116.2 17.5,115.2 17.5,113.8ZM180.2,115.2 180.8,114.9 180.9,115.2 181.0,115.8 180.8,116.5 180.2,116.2ZM18.0,117.8 18.2,117.5 18.8,117.5 19.2,118.0 20.1,119.8 20.2,120.2 20.1,122.8 19.8,123.0 19.6,123.8 18.8,124.5 18.2,124.5 17.8,124.0 17.2,122.9 17.0,121.8 17.2,119.2ZM115.8,134.7 114.5,135.2 113.7,136.2 113.7,138.8 113.8,139.8 114.5,140.8 115.2,141.2 116.2,141.3 116.8,141.2 117.4,140.2 117.5,136.8 117.1,135.2 116.8,134.9ZM22.2,140.1 20.3,141.8 19.7,142.8 19.9,143.8 20.8,145.3 21.3,147.8 22.2,149.2 24.8,151.7 25.2,152.1 26.8,151.6 27.8,150.6 28.8,148.3 28.9,146.8 28.7,145.8 27.8,144.2 27.2,142.5 26.8,141.9 24.8,141.2 22.8,140.1ZM34.2,151.7 32.9,152.2 32.1,153.2 32.3,153.8 34.2,155.7 34.8,156.0 35.2,156.0 37.2,154.2 37.5,153.2 37.4,152.8 37.0,152.2 36.2,151.8 35.2,151.6Z"/>
<path fill="rgb(255, 191, 0)" d="M99.3,67.8 99.8,67.4 100.1,69.2 100.1,70.8 99.8,72.6 99.2,72.2 99.1,71.2 99.1,69.2ZM18.6,68.2 18.8,68.1 18.8,69.9 18.4,69.2ZM18.1,77.2 18.2,77.0 18.8,76.9 19.1,77.2 19.6,79.2 19.5,81.8 19.2,82.5 18.8,83.1 18.2,83.0 18.1,82.8 17.8,81.9 17.6,80.8 17.6,78.8ZM147.2,80.2 147.8,79.8 148.3,82.8 147.9,85.8 147.8,86.2 147.2,86.7 146.8,86.4 146.6,84.8 146.7,82.8ZM58.1,83.2 58.2,82.8 58.4,83.2 58.2,83.5ZM18.2,95.2 18.8,95.2 19.6,98.2 19.4,103.8 19.9,106.8 19.7,109.2 19.2,110.4 18.8,111.0 18.2,111.0 17.7,110.2 17.2,108.8 17.1,107.2 17.2,105.8 17.6,103.8 17.4,98.2ZM146.7,101.8 147.2,101.5 147.8,101.7 148.4,102.8 148.6,109.2 149.1,110.2 150.8,111.3 151.4,112.2 151.5,114.8 151.4,116.8 150.8,117.7 149.6,118.8 148.7,120.8 147.8,121.5 146.2,121.6 143.8,121.0 141.2,120.9 140.1,120.2 139.9,119.8 139.9,119.2 140.2,118.6 142.1,117.2 142.8,115.7 144.2,114.1 144.7,113.2 145.5,109.2 145.6,105.8 146.2,102.7ZM83.4,111.8 85.8,111.9 86.8,112.2 88.1,113.8 89.7,115.2 90.3,116.2 91.0,119.8 91.0,122.8 90.7,126.2 90.7,131.8 91.1,140.2 91.8,144.4 92.2,146.1 92.8,146.5 94.4,143.2 95.0,140.2 94.9,136.2 94.1,130.8 94.0,125.8 93.7,122.8 94.1,118.8 94.9,115.8 96.9,113.8 98.0,112.2 98.8,111.8 99.2,111.8 102.2,112.2 104.2,113.6 107.8,114.8 108.8,115.7 109.6,117.2 110.8,117.9 113.2,118.0 116.2,118.6 119.8,118.8 120.8,119.2 122.2,120.2 125.3,120.8 126.2,120.6 127.3,119.2 129.2,118.3 129.9,117.8 130.5,116.2 130.7,112.2 131.2,111.5 131.8,111.4 132.2,111.6 132.6,112.2 134.0,115.8 134.4,119.2 134.1,120.2 133.2,121.2 131.1,122.2 130.7,122.8 130.5,126.2 131.1,128.8 131.5,133.2 132.7,135.8 133.0,137.8 133.8,140.2 134.8,141.2 135.8,141.1 136.2,140.5 137.1,138.8 139.1,137.2 139.7,135.8 140.2,135.1 141.2,134.7 143.2,135.1 144.2,135.0 145.2,134.3 145.7,133.8 146.4,132.2 146.8,131.9 147.2,132.1 148.9,135.2 149.5,137.2 150.8,138.8 151.4,139.8 151.6,143.2 152.2,144.1 153.8,144.5 156.2,144.4 157.1,143.8 157.8,142.5 158.2,142.0 158.8,142.0 159.2,142.4 159.6,146.2 160.1,149.2 160.8,156.8 161.2,157.6 161.8,158.0 162.8,158.2 171.2,157.9 172.8,157.6 174.4,156.8 174.8,156.2 175.2,155.0 176.0,150.2 176.4,147.2 176.5,143.2 176.8,142.2 178.2,140.3 178.9,138.8 179.8,138.2 180.4,138.2 181.1,138.8 181.8,140.3 182.8,141.2 183.8,141.3 184.6,140.8 185.0,139.2 185.0,130.2 185.4,128.8 186.2,128.1 189.8,127.9 190.6,127.2 190.9,126.2 191.0,120.2 191.3,119.3 193.8,117.8 194.5,116.8 195.0,115.2 195.6,114.8 196.8,114.5 198.5,114.8 199.3,115.2 200.4,116.8 202.4,118.2 203.9,121.8 204.1,122.8 204.1,129.8 203.9,133.8 202.5,142.8 203.8,145.8 204.0,148.2 204.1,166.8 201.2,167.1 195.8,166.9 191.8,167.0 188.6,166.8 188.6,163.2 188.4,162.2 187.8,161.3 186.2,160.9 183.8,161.4 182.8,162.2 181.5,166.8 178.2,167.1 116.8,167.0 114.3,166.8 114.1,165.8 113.8,165.3 112.2,165.0 111.2,165.1 110.8,165.4 110.2,166.8 108.2,167.1 71.2,167.0 69.5,166.8 68.8,163.0 68.2,162.0 67.8,161.8 67.2,161.9 66.8,162.5 66.2,163.8 65.8,164.3 65.2,164.6 64.6,164.2 63.7,161.8 62.8,161.1 62.2,161.2 61.8,161.7 61.5,162.2 61.3,163.2 61.3,166.8 60.2,167.1 48.8,167.0 47.4,166.8 47.2,166.0 46.8,165.6 46.2,165.7 45.6,166.8 41.8,167.1 35.2,166.9 29.2,167.1 17.2,167.0 15.3,166.8 15.0,163.8 15.0,159.8 15.3,156.2 15.4,149.2 15.9,146.2 16.0,143.2 15.9,136.2 15.4,132.8 16.2,128.8 16.8,128.2 17.2,128.1 18.2,126.8 18.7,126.8 19.6,127.8 19.8,128.3 20.1,128.8 20.5,130.8 21.2,131.7 21.8,132.0 25.8,132.5 29.2,132.0 30.3,131.2 31.0,130.2 31.8,125.3 33.2,123.8 33.4,123.2 33.8,119.0 34.2,118.4 35.2,118.3 35.9,118.8 36.4,119.8 36.6,126.2 37.1,127.2 38.5,128.8 39.3,131.2 40.2,132.0 41.2,132.1 42.2,131.8 42.7,131.2 43.1,130.2 43.8,125.4 44.2,124.8 45.2,124.6 45.4,124.8 45.5,126.2 45.9,127.2 46.4,127.8 47.8,128.4 48.4,129.2 48.5,132.8 48.9,133.8 51.1,135.2 51.8,137.2 53.2,138.5 54.0,140.2 54.7,141.2 57.0,142.8 58.2,144.1 59.2,144.3 59.8,144.1 60.2,143.6 61.1,141.8 61.8,138.8 63.2,137.2 63.8,135.5 64.2,134.9 65.2,134.6 66.8,134.5 67.8,134.6 68.8,134.9 69.4,135.8 69.5,136.8 69.4,146.8 68.8,147.6 67.4,148.2 66.9,148.8 66.2,150.5 65.8,151.1 64.4,151.8 63.9,152.2 63.6,153.2 63.5,154.8 63.8,155.0 67.8,155.0 70.8,155.5 74.2,153.8 75.2,152.2 75.8,151.8 78.2,151.1 78.8,150.8 79.5,149.8 79.9,146.2 79.4,139.2 78.8,138.2 78.2,137.8 76.1,136.8 75.7,135.8 76.3,132.8 77.8,130.9 77.9,130.2 78.4,125.8 79.2,121.8 79.8,119.8 80.1,115.2 82.2,112.3ZM124.6,111.8 125.3,111.3 125.8,111.3 126.6,111.8 126.8,112.8 126.2,113.9 125.2,114.2 124.4,113.8 124.2,112.8ZM18.1,114.2 18.2,113.9 18.8,113.9 18.8,115.1 18.2,115.1ZM18.0,118.8 18.2,118.5 18.8,118.5 19.2,119.0 19.8,120.2 19.6,121.8 19.2,122.9 18.8,123.5 18.2,123.5 18.0,123.2 17.4,121.8 17.4,120.2ZM46.6,121.2 47.4,121.2 48.1,121.8 48.3,122.2 48.3,123.2 48.1,123.8 47.5,124.2 45.8,124.5 45.5,123.8 45.7,122.2 45.9,121.8ZM143.6,128.2 144.2,128.2 144.8,128.4 145.2,129.1 145.3,130.2 144.8,130.6 143.8,130.7 142.9,130.2 142.7,129.8 142.8,129.1 143.2,128.4ZM114.7,134.1 113.2,134.7 112.3,135.8 112.1,136.8 112.7,140.2 113.2,141.2 113.8,141.5 115.2,142.0 116.2,142.0 117.2,141.6 117.8,140.7 118.0,139.2 117.9,135.8 117.4,134.8 116.8,134.2 115.8,134.0ZM189.2,134.7 188.8,134.9 188.1,135.8 188.0,138.8 188.0,149.2 188.3,150.2 188.7,150.8 189.2,151.0 189.8,150.8 190.3,149.8 190.3,145.8 190.9,142.8 191.0,138.8 190.9,136.2 190.8,135.5 190.2,134.9ZM40.8,134.9 40.3,135.8 40.4,136.8 40.8,137.4 41.2,137.6 41.8,137.5 42.3,136.8 42.3,135.8 41.8,134.9 41.2,134.8ZM22.2,138.2 21.4,138.8 20.3,140.8 18.8,141.8 18.2,142.8 18.4,143.8 19.8,145.0 20.2,145.8 21.0,148.8 21.5,151.8 21.5,156.8 21.6,157.2 22.2,157.7 22.8,157.7 26.2,156.9 26.8,156.7 28.4,155.2 30.8,155.0 31.8,155.1 32.8,155.6 34.1,157.2 34.8,157.7 35.8,157.6 38.3,154.3 38.5,153.2 38.2,152.0 37.8,151.5 35.8,150.9 34.2,150.9 32.2,151.3 31.2,151.1 30.8,150.5 30.6,149.8 30.4,145.8 29.8,144.8 28.5,143.8 27.7,141.8 26.8,141.0 24.8,140.4 23.2,138.4ZM104.2,145.0 103.8,145.8 104.1,146.8 104.8,147.0 105.2,146.9 105.7,146.2 105.7,145.8 105.2,145.2 104.8,144.9ZM62.8,155.1 62.2,155.3 61.8,155.9 61.8,156.8 62.2,157.5 62.8,157.5 63.3,156.8 63.4,155.2 63.2,155.1Z"/>
<path fill="rgb(255, 232, 20)" d="M18.3,78.8 18.8,78.5 19.0,79.2 19.1,80.2 18.8,81.5 18.2,81.2 18.2,80.8ZM18.1,97.2 18.2,97.0 18.8,97.0 19.2,97.8 19.4,98.8 19.1,100.2 18.9,103.2 19.6,105.2 19.7,107.8 19.3,109.8 18.8,110.5 18.2,110.5 17.8,109.8 17.3,107.8 17.4,105.2 18.1,103.2 17.9,100.2 17.6,98.8ZM146.5,110.2 146.8,110.0 147.2,109.9 149.6,112.2 150.0,113.2 150.1,115.2 149.9,116.8 148.8,118.8 148.2,120.1 147.8,120.6 146.8,120.9 145.8,120.7 144.9,120.2 143.8,119.2 143.6,118.8 143.9,116.2 145.2,113.8 145.8,111.2ZM83.8,112.8 86.2,112.9 87.2,113.5 89.3,115.8 90.4,118.8 90.6,122.2 90.4,126.2 90.3,132.2 90.7,135.8 90.8,139.8 91.8,146.6 92.2,147.9 92.8,148.1 93.2,147.4 93.8,145.2 95.5,142.8 96.5,139.8 95.6,135.8 94.8,133.8 94.3,130.8 94.0,122.8 94.6,118.8 95.7,115.8 97.8,113.5 98.8,112.8 99.2,112.7 101.3,112.8 102.2,113.2 103.8,114.1 106.5,115.2 109.2,118.2 110.8,119.2 119.2,119.8 121.4,120.8 123.8,121.3 125.8,122.5 127.8,122.8 128.2,123.3 128.9,126.2 129.8,127.4 130.3,128.8 131.1,133.8 131.9,136.2 132.2,139.2 132.5,140.2 134.2,142.2 136.8,144.4 137.2,144.5 139.8,143.8 141.2,143.8 141.3,141.2 142.4,137.8 146.2,134.2 146.8,133.9 147.2,133.9 148.2,135.2 148.8,137.2 150.1,139.8 150.2,143.8 150.8,145.7 151.2,146.0 151.8,146.1 157.8,145.9 158.2,146.1 159.2,147.5 159.8,149.2 160.6,156.8 161.2,158.0 162.2,158.5 165.2,158.3 171.8,158.2 174.2,157.5 175.2,156.8 175.7,155.2 176.1,152.2 176.8,149.8 177.3,143.2 177.8,142.2 179.8,140.4 180.2,140.4 180.8,140.8 182.8,142.6 183.8,143.0 185.8,143.2 186.4,144.8 186.7,149.2 187.0,150.2 188.8,152.2 189.2,152.4 189.8,152.2 190.5,151.2 190.9,150.2 191.1,145.8 191.3,144.8 192.1,143.2 192.4,141.8 192.5,138.8 192.4,135.2 191.8,133.2 190.6,131.2 191.8,129.2 192.1,127.8 192.5,120.2 193.1,119.2 195.8,116.6 196.8,116.3 198.2,116.5 199.8,117.4 201.8,118.3 202.2,118.8 203.3,121.2 203.6,122.7 203.7,129.8 203.4,133.2 202.5,140.2 201.9,142.8 201.9,143.2 203.1,145.2 203.6,148.2 203.7,166.8 201.2,167.0 195.8,166.8 192.2,167.0 189.5,166.8 189.5,163.2 189.2,161.2 188.8,160.1 188.4,159.8 187.2,159.6 184.2,159.9 183.2,160.2 182.2,161.8 181.1,166.8 178.8,167.0 123.2,167.0 116.2,166.9 115.0,166.8 115.0,164.2 114.8,163.5 114.2,163.3 111.8,163.1 111.2,163.4 110.2,164.8 109.7,166.8 108.2,167.0 76.8,167.1 69.9,166.8 69.2,161.8 68.2,160.3 66.7,158.8 66.6,158.2 67.0,157.8 67.9,157.2 70.8,156.5 72.8,155.1 74.6,154.2 76.2,152.2 78.7,151.2 79.9,150.2 80.2,149.8 80.4,146.8 80.3,139.7 79.6,138.2 77.7,136.2 77.4,135.8 77.4,134.2 77.5,133.2 78.4,131.2 79.5,122.2 80.4,119.2 80.6,115.8 81.2,114.8 82.2,113.6 83.2,112.9ZM131.3,114.2 131.8,113.8 132.2,113.9 133.2,115.2 133.8,118.2 133.7,119.8 133.2,120.6 132.2,121.3 129.2,121.4 128.9,121.2 128.8,120.9 128.8,120.2 128.9,119.8 130.7,117.2ZM18.6,119.2 19.2,119.5 19.6,120.8 19.2,122.0 18.8,122.4 18.2,122.4 17.8,121.3 17.8,120.2 18.2,119.4ZM33.7,126.2 34.2,126.1 34.8,126.3 37.5,129.2 38.2,131.9 39.5,133.8 39.6,136.2 39.8,137.2 41.2,139.4 41.8,139.7 42.8,139.6 44.9,138.8 46.2,137.9 46.8,137.8 48.2,138.3 50.3,139.2 52.2,139.8 53.2,140.6 55.8,143.2 56.6,145.2 57.0,145.8 62.0,148.2 62.0,152.8 61.2,154.8 61.0,156.2 61.2,157.3 62.5,159.2 62.5,159.8 61.8,160.8 61.2,162.2 61.1,166.8 59.2,167.1 48.8,166.9 48.0,166.8 47.8,165.5 47.2,164.6 46.8,164.2 46.2,164.4 45.3,165.2 44.4,166.8 42.2,167.0 35.2,166.8 25.8,167.0 15.7,166.8 15.3,163.8 15.3,160.8 15.7,156.2 15.7,149.2 16.2,147.6 16.8,146.9 18.2,145.6 18.8,145.6 19.5,146.2 20.1,147.2 20.6,148.8 21.1,152.8 21.0,157.8 21.8,158.7 22.2,159.0 22.8,158.8 24.2,157.9 26.8,157.4 28.8,156.4 29.8,156.3 31.2,156.4 32.2,156.8 36.2,160.4 36.8,160.1 37.2,159.1 37.9,156.8 38.9,154.2 39.0,150.2 38.8,149.9 38.2,149.8 35.6,149.2 33.8,148.2 30.2,140.8 27.5,138.2 26.6,135.8 26.9,135.2 27.2,135.1 27.4,134.8 31.6,130.8 32.1,129.8 32.8,127.0ZM17.8,127.8 18.2,127.3 18.8,127.3 19.5,128.2 20.1,130.2 20.2,133.6 21.0,134.8 20.6,135.2 18.8,136.9 18.2,137.1 17.2,136.2 16.2,134.9 15.8,133.2 16.0,131.8 16.8,130.4 16.9,129.8ZM113.8,133.1 112.8,133.8 111.3,135.2 110.8,136.2 111.8,138.8 112.1,142.2 112.5,142.8 113.2,142.9 116.2,143.1 117.2,142.5 117.9,141.8 118.3,140.8 118.4,138.8 118.3,135.8 117.8,134.5 116.8,133.4 116.2,133.0 115.2,132.9ZM103.8,143.2 103.2,143.3 103.0,144.2 103.1,146.2 103.5,147.2 104.2,147.8 104.8,147.9 105.8,147.7 106.5,147.2 107.0,146.8 107.2,146.2 107.1,145.8 105.2,143.8 104.8,143.4Z"/>
<path fill="rgb(246, 253, 71)" d="M18.1,97.8 18.2,97.5 18.8,97.5 19.1,98.2 19.1,99.2 18.8,100.0 18.2,100.0 17.9,99.2ZM18.1,104.2 18.2,104.0 18.8,104.0 19.2,104.8 19.5,105.8 19.5,108.2 19.2,109.2 18.8,110.0 18.2,110.0 18.1,109.8 17.5,108.2 17.5,105.8ZM146.6,111.8 147.2,111.4 147.8,111.7 148.2,112.2 149.1,115.8 148.9,117.2 147.8,119.5 147.2,120.0 146.8,120.1 145.9,119.8 145.5,119.2 145.0,117.8 144.9,116.8 145.2,115.2ZM83.2,113.8 85.8,113.6 87.2,114.1 88.4,115.2 89.9,118.8 90.1,120.8 89.9,132.2 90.4,135.8 90.5,140.2 91.5,147.2 92.2,149.5 92.7,149.8 93.6,147.8 94.1,145.8 94.6,144.8 96.6,143.2 97.8,141.9 98.2,141.7 98.9,141.8 99.7,142.2 100.6,143.8 101.8,144.7 102.1,145.2 102.8,147.2 103.2,147.8 104.2,148.5 105.8,148.5 107.8,147.8 108.4,147.2 108.9,146.2 109.0,144.8 108.8,144.5 107.8,144.4 106.8,143.9 105.3,142.2 103.4,140.8 103.0,139.8 103.0,138.2 102.8,138.0 98.8,138.0 97.8,137.6 97.2,137.0 96.8,135.8 95.6,134.2 95.2,133.2 94.6,130.2 94.3,123.2 94.4,121.8 95.0,119.2 96.3,115.8 97.2,114.5 98.8,113.6 100.8,113.6 102.2,113.9 105.2,115.5 106.8,117.4 108.2,118.5 109.8,120.0 113.8,121.0 119.2,121.1 122.8,121.8 123.6,122.2 124.8,124.1 126.1,124.8 126.6,125.2 127.6,127.2 129.2,128.4 129.7,129.2 131.1,135.8 131.3,140.2 131.8,141.1 133.3,142.8 134.0,144.8 134.1,146.2 134.0,147.2 133.2,148.2 132.2,148.8 131.8,149.3 131.8,150.1 132.2,150.6 133.2,150.7 135.7,150.2 136.3,149.8 137.2,148.4 138.2,148.2 139.1,148.8 140.0,150.2 142.2,151.2 142.7,151.8 143.2,153.3 143.8,154.0 144.2,154.3 146.8,154.8 147.8,154.2 148.8,152.2 150.2,151.0 150.7,150.2 151.0,148.8 151.8,147.8 153.2,147.3 155.2,147.1 156.8,147.1 158.2,147.7 159.2,148.8 159.9,152.2 160.4,156.8 160.8,157.7 161.2,158.4 162.2,158.9 164.8,158.6 172.2,158.4 174.9,157.8 175.6,157.2 175.9,156.8 176.5,152.8 177.5,150.2 178.2,144.2 178.7,142.8 179.1,142.2 179.8,141.9 180.2,141.9 180.9,142.2 182.2,143.9 184.2,144.9 184.8,145.5 186.0,150.8 187.4,152.2 187.9,153.2 187.9,156.8 187.6,157.2 186.8,157.9 183.2,158.8 182.5,159.2 181.8,161.5 181.3,164.2 180.6,166.8 178.8,166.9 122.8,167.0 115.7,166.8 115.9,165.8 117.0,164.2 117.3,162.8 117.3,159.2 117.1,157.8 116.9,156.8 116.2,156.2 115.7,156.2 115.2,156.8 114.9,160.2 114.2,161.1 113.8,161.3 112.8,161.1 112.2,160.5 111.8,159.0 111.2,158.5 110.8,158.5 110.2,158.9 110.1,160.2 110.1,163.2 109.2,166.8 106.2,167.0 81.2,167.0 73.8,167.0 70.4,166.8 70.1,162.2 69.6,160.2 69.6,159.2 69.8,158.8 71.2,157.5 72.6,155.8 75.2,154.4 76.6,152.8 78.2,152.0 80.1,150.8 80.7,150.2 80.9,149.8 80.9,139.8 80.7,138.8 79.3,136.8 79.0,135.8 79.0,129.2 79.6,126.8 80.0,122.2 80.9,119.8 81.3,115.8 81.8,114.8ZM131.7,115.8 131.8,115.5 132.2,115.4 132.8,116.2 133.4,119.2 133.2,119.8 132.8,120.5 131.8,120.9 130.8,120.7 130.2,120.2 130.1,119.8 130.1,119.2 131.2,117.2ZM195.5,118.2 196.2,118.0 198.2,118.0 201.2,118.8 201.8,119.1 202.2,119.9 203.2,122.2 203.2,131.2 202.4,136.2 202.0,140.2 201.1,142.8 201.2,143.4 202.4,144.8 202.9,145.8 203.3,149.2 203.3,166.8 202.8,166.9 200.2,167.0 196.3,166.8 195.8,163.2 195.2,163.0 194.8,163.8 194.7,166.8 192.8,166.9 190.4,166.8 190.0,157.2 190.3,153.2 191.5,150.2 191.8,145.8 193.2,143.2 194.0,139.8 194.0,136.2 193.4,133.2 193.1,126.8 193.4,122.2 194.0,119.8 194.7,118.8ZM18.5,119.8 18.8,119.5 19.2,119.8 19.4,120.2 19.4,121.2 18.8,121.9 18.2,121.2 18.1,120.8ZM18.2,127.8 18.8,127.7 19.2,128.3 19.9,131.2 19.9,132.8 19.5,134.8 18.8,135.7 18.2,135.7 17.5,134.8 17.2,133.9 16.8,133.9 16.4,133.2 17.6,128.8ZM33.9,128.8 34.7,128.3 35.2,128.3 36.2,129.2 37.3,133.2 38.6,135.2 39.1,137.2 40.0,139.2 40.2,142.2 40.0,144.2 39.2,147.0 38.8,147.6 38.2,147.8 37.2,147.6 36.8,147.0 35.9,145.2 33.8,143.8 33.1,141.8 32.5,138.8 31.2,137.7 30.6,136.8 30.5,134.8 30.6,133.2 31.2,132.2 32.9,130.8ZM113.2,131.6 112.3,132.2 111.2,133.9 109.8,134.8 109.2,135.8 109.4,136.8 110.8,138.3 111.3,139.8 111.1,140.8 110.8,141.2 109.7,142.2 109.2,143.2 109.0,144.2 109.2,144.5 116.8,144.4 117.8,143.6 118.6,141.8 118.9,140.2 118.9,136.8 118.4,134.8 116.9,132.2 116.2,131.7 114.8,131.5ZM103.8,135.1 103.1,136.2 103.0,137.8 103.2,137.9 104.8,137.6 105.2,137.2 105.8,136.2 105.8,135.6 105.2,134.9 104.8,134.8ZM146.4,135.2 146.8,135.1 147.2,135.2 147.6,135.8 148.8,138.8 149.1,140.2 149.1,146.8 148.8,147.7 148.2,148.2 147.2,148.6 146.2,148.5 145.8,148.2 145.0,147.2 144.9,146.2 144.9,138.8 145.6,136.2ZM43.6,141.8 44.2,141.7 44.8,141.9 46.1,143.8 46.8,144.1 47.8,143.7 49.2,141.8 50.2,141.5 52.8,141.6 53.8,142.2 54.2,142.8 54.9,144.2 55.5,146.8 57.7,148.2 58.6,150.8 59.8,151.8 60.4,152.8 60.6,156.8 61.4,158.8 61.6,159.8 60.9,162.8 60.9,166.8 59.2,167.0 52.2,167.0 48.5,166.8 47.3,162.8 46.8,162.0 46.2,162.0 45.8,162.5 45.3,163.8 43.8,165.7 43.5,166.8 40.8,167.0 36.5,166.8 36.8,165.8 38.2,164.2 38.4,163.8 38.6,158.8 39.6,152.2 40.2,151.2 41.8,150.6 42.2,150.0 42.4,149.2 41.9,147.2 41.9,145.2 42.6,142.8 42.9,142.2ZM18.0,146.8 18.8,146.6 19.2,146.9 19.8,147.7 20.3,149.2 20.7,151.2 20.9,153.8 20.5,158.8 21.4,160.8 21.8,161.0 22.2,161.1 22.8,160.9 23.9,158.8 24.8,158.2 29.2,157.1 31.2,157.6 32.9,158.8 34.1,161.2 34.5,163.2 34.2,166.8 27.8,167.0 16.1,166.8 15.6,163.8 15.5,160.8 15.6,158.8 16.2,156.2 16.2,149.8 16.9,148.2Z"/>
<path fill="rgb(187, 255, 46)" d="M18.1,98.2 18.2,97.9 18.8,97.9 18.9,98.8 18.8,99.5 18.2,99.5ZM18.1,104.8 18.2,104.5 18.8,104.5 19.3,105.8 19.3,108.2 18.8,109.5 18.2,109.5 17.7,108.2 17.6,106.2ZM147.1,113.8 147.2,113.7 147.8,114.0 148.2,114.8 148.4,116.2 148.2,117.2 147.8,118.1 147.2,118.6 146.8,118.7 146.2,118.4 145.8,117.8 145.6,116.2 145.8,115.2 146.2,114.4 146.8,113.8ZM83.2,114.2 85.8,114.1 87.2,114.6 88.2,115.8 89.5,119.2 89.3,129.8 89.5,132.8 90.1,135.8 90.2,139.8 91.1,146.8 91.8,149.9 92.2,150.9 92.8,151.0 93.4,150.2 94.8,145.2 95.4,144.8 98.2,143.4 98.8,143.5 99.2,143.8 100.2,144.8 101.1,145.8 101.9,147.2 103.2,148.7 104.2,149.4 105.2,149.7 106.8,149.6 107.8,149.2 110.8,146.5 111.8,146.4 113.8,146.7 115.8,146.3 118.2,146.2 118.8,145.7 119.2,144.2 119.5,140.8 119.6,136.8 119.4,135.8 117.2,131.4 115.8,129.4 114.8,128.5 111.2,130.2 110.1,132.2 109.5,132.8 107.8,133.5 105.8,133.1 104.8,133.2 103.8,133.8 101.8,135.7 100.7,136.2 98.8,136.0 97.2,134.7 96.0,133.2 95.2,131.7 94.9,130.2 94.7,123.2 94.8,121.8 97.1,115.2 98.2,114.3 100.8,114.1 102.2,114.4 103.7,115.2 105.8,117.8 108.4,120.2 109.4,120.8 111.6,121.2 112.6,121.8 115.2,124.0 116.8,123.3 118.2,122.9 120.3,122.9 121.6,123.2 122.1,123.8 123.2,125.8 125.2,126.4 125.8,126.8 128.2,129.2 129.2,130.7 129.9,132.2 130.4,135.8 130.5,139.2 130.8,140.7 132.8,143.9 133.3,145.2 133.4,146.2 133.1,147.2 131.7,148.2 131.1,149.2 131.1,150.2 131.3,150.8 131.8,151.2 132.8,151.3 135.2,151.0 136.3,150.8 137.8,150.0 138.2,150.1 140.2,151.2 141.8,151.9 142.1,152.2 142.7,153.8 143.2,154.5 146.8,155.9 147.8,155.3 149.7,153.2 151.0,151.2 151.8,149.0 152.2,148.4 154.2,147.8 156.2,147.6 157.8,148.2 158.7,149.2 159.5,152.2 160.3,157.2 160.8,158.2 161.8,159.3 162.2,159.5 164.8,158.9 171.2,158.8 173.8,158.5 175.8,157.9 176.8,156.8 177.2,153.2 177.9,150.8 178.7,145.2 179.2,144.0 179.8,143.6 180.2,143.5 181.2,144.3 183.2,146.2 184.2,147.4 184.7,148.2 185.2,151.1 186.4,153.2 186.5,154.8 186.3,156.2 186.1,156.8 185.2,157.4 182.8,158.2 182.0,158.8 181.5,159.8 180.9,164.2 180.0,166.8 178.8,166.9 147.2,167.0 122.2,166.9 116.8,166.8 117.8,164.6 118.0,163.2 117.9,159.2 117.3,156.2 116.9,155.8 116.2,155.5 112.2,155.3 110.7,156.6 109.7,158.3 109.5,159.8 109.6,163.8 109.0,166.8 106.2,167.0 76.8,167.0 71.1,166.8 70.9,159.8 72.8,156.3 73.3,155.8 75.5,154.8 78.6,152.2 80.9,150.8 81.5,149.8 81.2,138.8 80.4,136.2 80.3,133.2 79.6,131.2 79.5,129.8 79.7,128.2 80.4,126.2 80.5,122.8 81.2,120.1 81.7,115.8 82.2,114.9ZM131.7,117.8 132.2,117.6 132.8,118.3 132.9,119.2 132.8,119.8 132.2,120.3 131.8,120.3 131.2,120.2 130.8,119.8 130.8,119.2 131.2,118.2ZM195.6,119.8 196.2,119.5 197.8,119.4 200.8,119.5 201.8,120.1 202.2,120.7 202.9,122.2 202.9,130.8 202.4,133.8 201.6,136.2 201.3,139.8 200.6,142.8 200.8,143.8 202.2,145.2 202.4,145.8 202.9,148.8 203.0,166.8 202.8,166.8 200.8,166.9 197.0,166.8 196.3,162.8 195.7,162.2 195.2,162.2 194.8,162.3 194.1,163.2 194.0,166.8 191.0,166.8 191.0,163.2 190.6,159.8 190.7,155.2 191.1,152.8 192.2,150.2 192.7,145.8 193.7,143.8 194.3,141.8 195.1,140.2 195.3,139.2 195.2,136.2 194.3,134.2 194.1,133.2 194.0,129.8 193.6,126.2 194.2,121.4 194.8,120.5ZM18.5,120.2 18.8,119.9 19.2,120.6 19.1,121.2 18.8,121.5 18.4,120.8ZM18.2,128.2 18.8,128.2 19.2,128.8 19.7,130.8 19.5,133.8 19.2,134.6 18.7,135.2 18.2,135.2 17.6,134.2 17.3,132.2 17.5,129.8 17.8,128.8ZM34.3,130.8 34.8,130.5 35.2,130.5 35.8,131.0 36.2,131.9 36.8,134.2 39.4,139.2 39.4,143.2 39.2,144.2 38.2,145.5 37.8,145.5 37.2,145.2 34.2,142.1 33.7,140.8 33.2,138.4 32.1,136.2 32.0,134.8 32.2,133.2 32.8,132.2ZM107.0,136.8 107.2,136.5 107.8,136.5 108.2,136.9 110.0,138.8 110.3,139.8 110.0,140.8 109.7,141.2 108.2,142.6 107.8,142.8 107.2,142.8 106.2,142.2 104.9,140.8 104.5,139.8 104.9,138.8ZM146.7,137.2 147.2,137.3 147.8,137.9 148.2,138.9 148.5,140.2 148.4,146.2 148.1,147.2 147.2,147.8 146.6,147.8 145.9,147.2 145.5,145.8 145.6,139.2 145.8,138.2 146.2,137.5ZM49.5,143.2 50.2,142.9 51.2,142.9 52.2,143.0 53.2,143.4 54.2,144.8 54.7,146.7 55.0,147.2 56.8,148.3 57.2,149.0 57.8,150.8 59.0,152.8 59.8,154.6 60.2,156.8 61.1,159.2 60.7,162.8 60.7,166.8 59.2,167.0 52.2,167.0 48.9,166.8 47.8,162.0 46.8,160.4 45.8,159.8 45.2,159.8 44.8,160.3 44.1,163.2 43.2,165.3 43.0,166.8 40.8,166.9 37.9,166.8 38.8,164.8 39.0,163.8 39.1,158.8 40.2,152.2 40.8,151.7 41.2,151.6 43.2,151.4 43.6,151.2 43.8,150.8 43.9,149.8 42.8,147.8 42.6,146.8 42.6,145.8 42.8,144.8 43.2,144.0 43.8,143.6 44.2,143.5 46.8,145.4 47.2,145.3ZM17.9,147.8 18.2,147.5 18.8,147.5 19.2,147.9 19.7,148.8 20.3,150.8 20.5,153.2 20.5,155.8 20.2,157.8 19.5,160.2 19.9,162.2 20.8,163.9 21.2,163.8 22.7,162.3 23.7,160.8 24.3,159.3 24.8,158.8 28.2,157.8 29.8,157.7 30.8,158.1 31.5,158.8 33.6,161.8 33.9,163.8 33.5,166.8 25.8,166.9 17.5,166.8 17.2,166.6 16.2,165.0 16.0,164.2 15.9,160.2 16.0,158.8 16.7,157.2 16.4,154.2 16.6,151.2 17.1,149.2Z"/>
<path fill="rgb(75, 232, 25)" d="M18.1,105.2 18.2,105.0 18.8,105.0 19.2,106.2 19.2,107.8 18.8,109.0 18.2,109.0 17.8,107.8 17.8,106.2ZM83.1,114.8 84.2,114.5 85.8,114.5 86.8,114.7 87.2,115.0 87.8,115.8 89.0,119.2 88.7,130.8 89.0,133.2 89.8,135.8 89.9,139.8 90.4,142.8 90.8,146.8 91.8,151.2 92.2,151.6 92.8,151.7 93.2,151.4 93.8,150.6 94.2,148.5 95.2,145.7 95.9,145.2 97.8,144.8 98.8,144.8 99.2,145.1 100.6,147.2 102.3,148.8 103.4,150.2 104.2,150.7 106.2,150.8 108.2,150.7 108.9,150.2 109.6,148.8 110.2,148.3 111.3,148.4 111.8,149.0 111.9,149.8 111.6,150.8 110.1,151.8 109.8,152.5 109.6,156.2 109.1,159.2 109.3,163.2 108.7,166.8 106.2,167.0 77.2,167.0 71.9,166.8 71.9,159.8 72.1,158.8 73.2,156.8 73.8,156.1 77.8,154.0 79.2,152.2 81.2,151.1 81.8,150.2 81.9,149.2 81.7,146.2 81.7,139.2 81.4,136.2 81.3,132.8 81.0,131.8 80.2,130.7 80.1,129.8 80.2,128.9 81.3,127.2 81.1,122.8 82.1,116.2 82.5,115.2ZM98.2,114.8 100.2,114.5 102.2,114.8 103.3,115.8 104.2,117.6 105.5,118.8 106.8,120.7 111.2,122.0 111.8,122.6 112.0,123.2 112.0,125.8 111.8,127.0 111.2,127.7 109.6,128.8 108.6,130.8 107.8,131.4 104.2,131.8 103.6,132.2 102.2,133.9 101.2,134.4 98.8,134.4 97.8,133.9 95.8,131.3 95.3,129.8 95.1,123.2 95.2,121.9 97.2,115.8ZM146.8,115.2 147.2,115.2 147.6,115.8 147.6,116.2 147.3,117.2 146.8,117.3 146.4,116.8 146.5,115.8ZM18.7,120.8 18.8,120.5 18.8,120.9ZM196.4,120.8 198.8,120.4 201.2,120.5 202.2,121.4 202.6,122.8 202.6,130.8 201.8,133.8 200.8,135.8 200.6,139.8 200.1,142.8 200.6,144.2 201.9,145.8 202.6,149.2 202.7,166.8 202.2,166.8 197.6,166.8 196.8,162.8 196.2,162.0 195.2,161.7 194.2,162.0 193.5,162.8 193.3,163.8 193.3,166.8 191.7,166.8 191.7,163.2 191.0,159.8 191.1,155.8 191.8,152.7 192.9,150.2 193.5,145.8 194.9,142.2 196.0,140.8 196.3,139.8 196.2,135.9 196.0,135.2 194.8,133.2 194.6,129.8 194.1,127.2 194.0,125.8 195.0,121.8 195.4,121.2ZM119.1,124.8 119.9,124.8 120.6,125.3 121.2,126.8 122.2,127.7 125.2,128.1 126.2,128.6 127.7,130.8 129.3,132.2 129.8,135.2 130.0,140.2 131.4,143.8 132.2,144.8 132.7,145.8 132.5,146.8 131.2,147.9 130.7,148.8 130.6,150.2 131.2,151.6 132.2,152.0 137.8,151.0 138.8,151.2 141.2,152.4 142.8,154.8 146.2,157.0 147.2,156.9 148.8,155.1 150.5,153.8 152.2,149.6 152.8,148.9 154.5,148.2 155.8,148.1 157.2,148.5 157.9,149.2 159.2,152.8 160.0,157.2 161.8,160.1 162.2,160.3 162.8,160.2 164.2,159.5 165.3,159.3 171.8,159.2 175.8,158.6 177.2,157.8 177.6,157.2 178.0,152.8 179.2,146.0 179.8,145.1 180.2,144.9 180.8,145.2 182.1,147.2 183.8,148.4 184.2,149.2 185.0,153.2 185.0,155.2 184.8,156.2 184.5,156.8 182.2,157.8 181.7,158.2 181.0,159.2 180.5,163.8 179.6,165.8 179.4,166.8 176.2,167.0 123.2,166.9 118.0,166.8 118.6,164.2 118.7,160.8 118.6,159.2 117.9,156.2 117.2,155.4 115.3,154.7 114.8,154.3 114.5,153.8 114.4,152.8 115.1,149.2 115.8,148.4 116.2,148.2 117.2,148.4 118.5,150.2 119.2,150.6 119.9,150.2 120.2,149.5 120.3,143.2 120.1,139.8 120.3,135.8 118.8,133.2 117.6,130.8 117.4,129.8 117.5,128.2 118.1,125.8 118.4,125.2ZM18.1,128.8 18.2,128.6 18.9,128.8 19.2,129.4 19.5,130.8 19.4,133.2 19.2,134.0 18.8,134.8 18.2,134.8 17.9,134.2 17.5,132.8 17.5,130.2ZM82.2,129.2 82.2,130.2 82.8,130.6 83.2,130.6 83.9,130.2 84.0,129.8 83.8,129.1 82.8,128.9ZM34.2,132.2 34.8,131.9 35.4,132.2 35.8,133.0 36.8,137.1 38.2,138.5 38.6,139.2 38.8,142.8 38.2,143.9 37.8,144.1 37.1,143.8 36.2,142.2 34.8,141.1 34.3,140.2 33.5,135.2 33.6,133.2ZM106.9,137.8 107.8,137.6 108.2,137.8 108.8,138.2 109.4,139.2 109.4,140.2 109.2,140.8 108.8,141.3 107.8,141.9 107.2,141.9 106.2,141.3 105.5,140.2 105.5,139.2 105.8,138.8ZM146.7,138.8 147.3,138.8 147.8,140.2 147.8,145.8 147.2,146.8 146.6,146.8 146.2,145.8 146.2,139.8ZM49.3,144.2 50.8,143.9 52.2,144.3 53.1,144.8 53.5,145.2 54.3,147.2 54.8,147.8 56.2,148.9 56.8,149.6 58.3,153.8 59.3,155.4 60.6,158.8 60.8,159.8 60.5,162.8 60.5,166.8 59.2,167.0 49.4,166.8 47.3,158.8 45.8,157.2 45.6,156.8 45.5,154.8 45.5,148.2 45.8,148.0 46.8,147.8 47.2,147.5 48.3,145.2ZM43.6,145.2 44.2,144.9 44.8,145.2 45.2,145.8 45.5,147.2 45.5,147.8 45.2,148.0 44.2,147.8 43.6,147.2 43.3,146.2ZM17.9,148.8 18.2,148.5 18.8,148.5 19.2,148.9 19.8,150.1 20.2,152.2 20.2,155.2 19.8,157.8 19.2,159.1 18.8,159.5 17.9,159.8 18.0,161.8 18.8,161.9 19.2,162.2 19.4,163.2 19.2,163.8 18.8,164.1 17.8,163.9 17.2,164.4 16.8,164.3 16.4,163.2 16.4,160.2 16.8,158.8 17.2,158.8 17.4,158.2 16.8,155.8 16.8,152.8 17.2,150.1ZM40.8,152.8 41.2,152.5 41.8,152.5 42.1,152.8 42.4,153.2 42.5,156.2 43.1,159.2 43.1,163.8 42.5,166.8 38.9,166.8 39.5,163.8 39.6,158.8ZM28.1,158.2 29.2,158.1 30.2,158.5 31.0,159.2 31.4,160.2 33.0,161.8 33.4,162.8 33.4,163.8 32.9,166.8 27.8,166.9 23.3,166.8 23.5,162.8 24.8,159.8 25.2,159.2ZM17.8,159.2 17.8,159.4ZM131.8,159.2 131.5,159.8 131.7,160.3 132.2,160.3 132.5,159.8 132.3,159.2Z"/>
<path fill="rgb(12, 232, 90)" d="M18.2,105.8 18.8,105.7 18.9,106.2 19.0,107.2 18.8,108.3 18.2,108.3 18.1,107.8ZM83.1,115.2 84.8,114.9 86.2,115.0 86.8,115.2 87.3,115.8 88.4,118.8 88.6,120.2 88.4,126.2 88.1,130.2 88.5,133.2 89.3,135.8 89.5,140.2 90.1,142.8 90.4,146.8 91.3,151.2 92.2,152.5 92.8,152.5 93.9,151.2 94.8,148.5 95.8,146.9 96.8,146.4 97.8,146.4 98.8,146.8 100.7,148.8 101.9,150.2 102.8,150.9 104.2,151.4 107.2,151.5 108.3,151.8 108.8,152.2 109.0,154.2 108.6,159.8 109.0,163.2 108.4,166.8 106.2,166.9 77.2,166.9 72.5,166.8 72.5,159.8 72.8,158.8 73.2,157.9 74.2,156.8 75.6,155.8 78.2,154.5 79.4,152.8 81.7,151.2 82.3,150.2 82.4,149.2 82.0,145.8 82.1,132.8 82.2,132.2 82.6,131.8 83.8,131.3 84.5,130.8 84.8,129.8 84.8,129.2 84.2,128.5 82.8,127.8 82.2,127.3 81.7,123.8 81.6,122.2 82.2,117.6 82.7,115.8ZM98.2,115.2 98.8,115.0 100.2,114.9 101.2,115.0 102.2,115.3 102.8,115.9 103.3,117.2 104.4,119.2 105.2,122.1 106.2,122.6 108.2,122.9 109.6,123.2 110.1,123.8 110.4,124.8 110.4,125.8 110.1,126.8 107.8,129.2 106.8,129.7 104.8,130.0 101.8,132.6 100.8,133.0 99.2,133.0 98.2,132.6 96.4,130.8 95.9,129.2 95.6,126.2 95.8,122.2 97.5,116.2ZM197.4,121.2 199.2,121.0 201.2,121.2 201.9,121.8 202.3,122.8 202.3,130.2 201.8,132.0 200.1,135.2 199.6,142.8 200.1,144.2 201.3,146.2 202.3,149.2 202.2,166.8 198.6,166.8 197.7,164.8 197.3,162.8 196.6,161.8 196.2,161.5 195.2,161.2 194.2,161.4 192.8,162.2 192.2,162.1 191.8,161.3 191.5,160.2 191.6,155.8 193.4,150.8 194.1,145.8 194.8,144.3 196.4,141.8 196.9,140.2 196.9,135.8 196.7,134.8 195.8,132.8 195.6,129.8 194.7,127.8 194.5,126.2 194.8,124.7 195.8,122.6 196.5,121.8ZM119.0,127.2 119.2,127.0 119.8,127.0 122.8,129.5 124.8,129.7 125.8,130.0 127.7,131.8 128.4,132.8 128.7,134.2 128.9,139.8 130.2,142.2 130.8,144.1 131.5,145.8 131.3,146.8 130.4,148.2 130.1,149.8 130.4,151.2 131.2,152.5 131.8,152.9 132.2,152.9 133.7,152.2 134.8,152.0 137.8,151.6 138.8,151.8 140.3,152.8 141.4,154.2 143.2,156.1 145.8,157.7 146.8,157.8 147.8,157.4 149.2,155.5 151.0,154.2 152.0,151.8 153.3,149.8 154.7,148.8 155.8,148.6 156.7,148.8 157.2,149.3 158.6,152.8 159.9,157.8 161.1,160.2 161.8,160.8 162.8,160.8 165.2,159.9 177.8,159.5 178.4,159.2 178.5,158.8 178.5,153.2 179.1,148.8 179.8,147.4 180.2,147.1 180.8,147.3 182.2,148.8 182.9,149.8 183.2,152.2 183.2,155.3 182.9,156.2 179.4,159.8 179.8,161.8 179.8,163.2 179.1,165.8 178.9,166.8 176.2,166.9 119.5,166.8 119.7,161.2 119.5,159.2 118.8,157.8 118.4,156.2 117.9,155.2 117.2,154.8 115.7,154.2 115.2,153.8 115.1,152.8 115.3,151.8 116.2,150.5 116.8,150.4 118.8,151.3 119.8,151.3 120.6,150.8 120.9,149.8 121.0,143.2 120.6,139.8 120.9,135.8 120.5,134.2 118.8,131.6 118.1,130.2 118.2,128.8ZM18.1,129.2 18.2,129.1 18.8,129.1 19.4,130.8 19.4,132.8 18.8,134.3 18.2,134.3 17.6,132.8 17.6,130.8ZM106.5,138.8 107.2,138.3 107.8,138.3 108.5,138.8 108.8,139.8 108.8,140.3 108.2,141.0 107.2,141.2 106.5,140.8 106.2,139.8ZM49.7,144.8 51.0,144.8 52.2,145.5 53.4,147.2 55.7,149.8 57.2,152.2 57.8,154.2 60.1,158.2 60.4,159.2 60.3,166.8 59.2,166.9 50.1,166.8 49.1,164.2 47.9,158.8 47.0,156.8 46.8,155.2 46.8,152.2 47.1,149.8 48.2,147.8 48.7,145.8 49.0,145.2ZM17.8,149.8 18.2,149.3 18.7,149.3 19.2,149.9 19.6,150.8 20.0,152.8 20.1,154.8 19.9,156.2 19.5,157.8 18.7,158.7 18.2,158.7 17.5,157.8 17.0,155.2 17.0,152.2 17.5,150.2ZM41.2,157.2 41.8,157.5 42.4,159.2 42.5,163.2 42.1,166.8 39.5,166.8 39.9,163.8 40.0,159.2 40.3,158.2 40.8,157.4ZM131.8,158.2 130.9,158.8 130.7,159.2 130.7,160.2 131.2,161.1 132.2,161.3 133.1,160.8 133.3,160.2 133.3,159.2 132.8,158.4ZM28.0,158.8 28.8,158.6 29.8,158.8 30.2,159.2 31.0,160.8 32.8,162.3 33.0,163.2 32.9,164.2 31.9,166.8 24.0,166.8 24.0,163.2 24.5,161.8 25.8,160.1Z"/>
<path fill="rgb(0, 238, 204)" d="M83.5,115.8 85.2,115.5 86.5,115.8 87.2,116.8 88.1,118.8 88.2,120.2 87.9,126.8 87.4,129.2 87.4,130.2 88.8,135.8 88.9,139.8 89.7,142.8 90.0,146.8 90.9,151.2 91.8,153.4 92.2,153.9 92.9,153.8 94.7,150.8 95.2,148.9 95.8,148.3 96.8,148.0 98.2,148.1 99.2,148.6 99.8,149.3 100.0,151.2 100.2,151.5 101.8,151.6 103.8,152.1 107.2,152.2 107.8,152.5 108.0,152.8 108.3,153.8 108.1,159.8 108.6,163.2 108.0,166.8 106.2,166.9 73.2,166.8 73.2,160.2 73.6,158.8 76.0,156.2 78.8,154.8 80.2,152.8 81.8,151.7 82.6,150.8 82.7,150.2 82.8,149.2 82.4,146.8 82.3,144.8 82.3,139.2 82.7,133.2 83.2,132.3 84.8,131.2 85.5,130.2 85.6,129.8 85.5,129.2 84.8,128.2 82.9,126.8 82.1,123.8 82.0,122.2 82.4,118.8 83.1,116.2ZM98.5,115.8 100.2,115.5 101.8,115.8 102.2,116.3 103.5,119.3 103.7,122.8 104.0,123.8 104.8,124.4 108.0,124.8 108.6,125.2 108.8,125.8 108.7,126.8 108.2,127.4 107.2,127.9 104.2,128.3 103.6,128.8 102.4,130.8 101.2,131.4 98.8,131.4 97.8,130.9 97.0,129.8 96.2,127.2 96.2,125.2 96.5,122.2 97.2,118.5 98.1,116.2ZM198.5,121.8 200.2,121.7 201.2,121.9 201.8,122.7 201.8,123.2 201.7,130.2 201.2,131.3 200.2,132.4 199.5,134.8 199.0,142.2 199.3,143.8 200.4,145.8 200.9,147.2 201.6,148.8 201.8,149.8 201.8,166.8 200.0,166.8 199.7,165.8 198.2,164.3 197.6,162.2 196.8,161.3 196.2,160.9 195.2,160.6 192.8,161.0 192.2,160.6 192.0,159.8 192.1,156.2 192.9,154.2 193.8,150.8 194.8,145.9 195.2,144.9 196.8,143.2 197.4,141.8 197.7,140.2 197.7,135.8 197.1,132.8 196.9,129.8 196.4,128.8 195.2,127.3 195.1,125.8 195.2,125.2 197.4,122.2ZM119.1,128.8 119.8,128.4 120.2,128.7 120.7,129.2 121.0,130.8 121.0,131.2 120.8,131.4 119.8,131.3 119.1,130.8 118.8,129.8ZM18.1,129.8 18.2,129.5 18.8,129.5 19.2,131.1 19.2,132.8 18.8,133.9 18.2,133.9 17.8,132.3 17.8,131.1ZM123.3,131.2 124.8,130.9 125.8,131.0 126.8,131.7 127.5,132.8 127.6,133.8 127.8,140.0 128.0,140.8 129.2,142.0 129.8,143.0 130.4,146.2 129.6,148.8 129.6,150.2 130.6,153.8 131.2,154.6 131.8,154.8 132.8,154.6 133.7,153.2 134.3,152.8 137.2,152.3 138.2,152.4 139.0,152.8 139.8,154.2 141.8,155.8 143.2,157.7 145.2,158.4 146.8,158.5 147.8,158.1 149.8,155.9 151.3,154.8 152.0,153.8 152.5,152.2 154.7,149.8 155.2,149.3 156.1,149.2 156.8,149.8 157.8,152.2 159.4,157.2 160.8,160.5 161.2,161.1 162.2,161.4 165.2,160.6 170.8,160.4 174.8,160.6 177.8,161.0 178.7,161.8 179.0,162.8 178.5,166.8 176.2,166.9 121.0,166.8 120.9,159.2 120.7,158.8 119.2,157.3 118.8,155.8 118.2,154.8 117.8,154.4 116.2,153.8 115.9,153.2 115.9,152.8 116.2,152.0 116.8,151.8 118.8,152.1 120.2,152.0 120.8,151.7 121.5,150.8 121.7,149.2 121.7,143.8 121.0,139.8 121.6,135.8 121.1,133.2 121.0,131.8 121.2,131.5ZM107.2,139.2 107.8,139.2 108.0,139.8 107.8,140.3 107.2,140.2 107.0,139.8ZM49.6,145.8 50.2,145.5 51.0,145.8 51.8,147.2 53.8,148.8 55.0,150.8 56.5,152.2 57.1,154.2 58.2,156.6 59.8,158.4 60.2,160.2 60.1,166.8 59.2,166.9 50.8,166.7 50.6,165.8 49.7,164.2 48.7,160.8 47.9,156.2 47.9,152.2 49.2,146.4ZM180.0,148.8 180.2,148.6 180.8,148.7 181.2,149.2 181.5,150.8 181.4,155.8 181.1,156.8 180.2,157.5 179.8,157.5 179.5,157.2 179.2,155.8 179.2,152.4 179.7,149.2ZM18.2,149.8 18.8,149.7 19.2,150.4 19.9,153.2 19.7,156.2 19.2,157.6 18.8,158.3 18.2,158.3 17.8,157.6 17.1,154.8 17.3,151.8 17.8,150.4ZM98.8,151.6 98.2,151.9 97.8,152.8 98.1,153.8 98.8,154.0 99.5,153.8 99.8,153.2 100.0,151.8 99.8,151.5ZM131.2,157.5 130.8,157.8 130.0,158.8 129.9,159.8 130.0,160.8 130.8,161.7 131.2,162.0 132.8,162.0 133.2,161.7 134.0,160.8 134.1,159.8 134.0,158.8 133.2,157.8 132.8,157.5ZM28.5,159.2 29.2,159.3 30.6,161.2 32.2,162.7 32.4,163.2 32.2,164.3 31.1,165.8 30.6,166.8 24.7,166.8 24.7,163.2 25.1,162.2 26.8,160.9 27.8,159.7ZM40.7,159.2 41.2,158.8 41.8,160.0 41.8,163.6 41.4,166.8 40.2,166.8Z"/>
<path fill="rgb(0, 216, 250)" d="M84.0,116.8 85.2,116.4 86.2,116.6 87.2,117.7 87.8,118.8 87.9,120.2 87.6,122.8 87.5,126.8 87.2,127.8 86.8,128.5 86.2,128.6 84.2,126.8 83.2,125.3 82.6,123.8 82.5,122.2 82.8,119.0 83.2,117.6ZM99.0,116.8 99.8,116.5 100.8,116.6 101.2,116.8 102.2,117.9 102.7,118.8 103.0,119.8 103.2,123.8 104.5,126.2 104.2,126.8 101.8,129.2 101.2,129.6 100.2,129.8 99.2,129.8 98.2,129.5 97.2,128.4 96.7,126.8 96.7,125.2 97.5,119.2 98.2,117.5ZM198.5,123.2 199.2,123.0 200.3,123.2 200.8,123.8 201.1,125.2 201.1,127.2 200.8,128.8 200.2,129.5 199.2,129.9 198.8,129.7 196.8,127.8 196.1,126.8 196.0,126.2 196.3,125.2ZM18.2,130.2 18.8,130.1 19.0,130.8 19.0,132.2 18.8,133.3 18.2,133.3 18.0,132.2ZM85.7,131.2 86.2,130.9 86.8,131.0 87.2,131.7 88.2,135.2 88.4,139.8 89.3,142.8 89.5,146.8 90.2,149.2 90.5,151.2 91.2,154.3 91.7,154.8 92.2,154.9 93.2,154.6 93.8,154.0 94.8,151.6 95.8,150.4 96.2,150.2 96.8,150.2 97.0,150.8 97.1,153.2 97.2,154.0 97.8,154.6 98.2,154.8 99.8,154.7 101.8,153.5 102.2,153.3 105.2,153.5 106.4,153.8 106.9,154.2 107.2,155.2 107.5,159.8 108.3,162.8 108.2,163.8 107.5,166.8 74.2,166.8 74.2,160.8 74.5,159.2 76.2,157.3 78.2,156.1 79.2,155.2 82.9,151.2 83.4,150.2 83.4,149.2 82.8,147.2 82.7,146.2 82.8,138.8 83.4,136.2 83.8,133.2ZM124.5,131.8 125.8,131.7 126.2,132.0 126.8,132.8 127.0,133.8 127.1,140.2 127.3,141.2 128.2,142.8 128.5,143.8 128.2,145.6 127.8,146.7 126.8,148.1 126.4,148.2 126.2,148.8 125.2,148.8 125.0,148.2 124.8,148.1 123.8,146.7 123.2,145.8 122.6,143.2 121.8,141.3 121.5,140.2 121.7,138.2 122.6,136.2 122.7,133.2 123.5,132.2ZM198.1,143.8 198.8,144.0 199.8,145.6 200.2,147.6 201.0,149.2 201.2,150.8 201.3,153.8 201.1,160.8 200.8,162.3 200.2,163.1 199.8,163.2 198.8,162.7 196.8,160.6 195.8,159.8 193.6,159.2 193.2,158.8 192.9,157.2 193.7,152.8 194.8,148.2 196.3,145.2 197.8,143.8ZM50.4,149.8 50.8,149.5 51.2,149.6 52.8,149.9 54.2,151.3 55.6,152.8 58.0,157.2 59.5,158.8 59.8,160.2 59.9,166.8 51.5,166.8 51.2,165.2 49.1,160.8 48.5,156.2 48.7,152.2 49.2,150.9ZM18.2,150.2 18.8,150.1 19.2,150.9 19.7,153.2 19.5,156.2 19.2,157.1 18.8,157.9 18.2,157.9 17.8,157.1 17.3,154.8 17.5,151.8 17.8,150.9ZM155.5,150.8 155.8,150.6 156.2,150.8 157.2,152.2 157.8,154.8 159.8,158.8 160.3,160.8 160.8,161.4 161.2,161.7 162.2,161.8 165.2,161.1 171.2,160.9 174.8,161.1 177.2,161.6 178.1,162.2 178.3,162.8 178.4,163.8 178.1,166.8 138.2,166.8 138.2,160.2 138.8,159.8 145.8,159.8 146.8,159.6 151.8,155.2 152.6,154.2 153.8,152.2ZM28.4,160.8 28.8,160.6 29.2,160.8 30.8,162.2 31.5,163.2 31.4,163.8 30.7,164.8 28.8,166.7 26.7,166.8 26.0,164.8 26.1,163.2 26.8,162.2Z"/>
<path fill="rgb(0, 173, 255)" d="M84.5,117.8 85.2,117.5 86.2,117.6 87.1,118.2 87.5,119.2 87.6,120.2 87.1,122.8 86.9,126.2 86.8,127.0 86.2,127.4 85.4,126.8 84.7,125.2 83.6,124.2 83.1,123.2 83.0,121.8 83.2,119.1 83.8,118.2ZM98.8,118.2 99.8,118.0 100.8,118.1 101.2,118.2 101.9,118.8 102.3,119.8 102.4,123.2 102.9,125.8 102.7,126.8 102.2,127.4 101.2,128.0 99.2,128.6 98.2,128.4 97.8,128.1 97.2,127.2 97.1,126.2 98.1,119.2ZM197.6,125.2 198.2,124.8 198.8,124.8 199.6,125.2 199.8,125.8 199.8,126.8 199.2,127.6 198.2,127.7 197.6,127.2 197.2,126.2ZM18.2,131.2 18.2,131.0 18.8,131.0 18.8,132.4 18.2,132.4ZM85.9,132.2 86.2,132.1 86.8,132.4 87.8,135.2 88.0,139.8 88.8,142.8 89.0,146.8 89.8,149.2 90.3,152.8 90.2,154.2 90.0,154.8 88.7,155.8 88.5,156.2 88.6,156.8 89.2,157.1 89.8,157.1 90.5,156.8 91.2,156.0 93.8,155.2 94.5,154.2 94.8,153.2 95.2,152.3 95.8,152.1 96.2,152.8 96.8,154.7 97.8,155.5 99.2,155.6 101.2,155.1 102.8,155.0 104.2,155.0 105.2,155.4 105.8,155.9 106.6,157.8 107.1,160.8 107.8,162.8 107.8,164.0 107.1,165.8 106.9,166.8 75.5,166.8 75.5,160.8 75.8,159.2 76.7,158.2 78.2,157.7 79.8,155.7 81.2,154.7 81.7,154.2 82.4,152.8 83.8,151.2 84.2,150.2 84.2,149.2 83.3,147.2 83.1,146.2 83.2,139.8 83.3,138.8 84.2,136.8 84.8,133.8 85.2,132.9ZM124.5,132.8 125.2,132.5 125.8,132.6 126.3,133.8 126.4,140.2 126.8,143.2 126.2,144.1 125.8,144.3 125.1,144.2 124.4,143.8 123.7,142.2 122.6,141.2 122.1,140.2 122.3,138.8 123.7,137.2 123.9,136.8 124.1,133.8ZM197.7,145.2 198.2,145.0 198.8,145.2 199.1,145.8 200.6,152.8 200.5,154.2 200.0,156.8 199.8,160.2 199.2,161.1 198.8,161.2 197.8,160.6 196.2,158.4 194.9,157.8 194.4,157.2 194.0,156.2 194.1,152.8 195.2,148.8 196.7,147.2 197.3,145.8ZM18.1,150.8 18.8,150.6 19.1,151.2 19.6,153.2 19.4,155.8 19.2,156.5 18.8,157.4 18.2,157.4 17.9,156.8 17.4,154.8 17.6,152.2ZM50.1,151.8 50.8,151.5 52.2,151.5 53.2,151.8 53.8,152.1 54.3,152.8 54.8,154.2 56.2,155.5 57.2,157.2 59.2,159.2 59.7,162.2 59.7,166.8 52.2,166.8 51.4,162.8 51.2,162.2 49.8,160.8 49.5,159.8 49.2,156.8 49.2,153.2 49.5,152.2ZM155.2,152.2 155.8,152.0 156.2,152.2 156.6,152.8 157.0,154.8 157.7,156.8 159.2,158.9 159.9,161.2 160.8,162.1 162.2,162.3 164.8,161.6 170.8,161.2 175.5,161.8 177.0,162.2 177.5,162.8 177.8,163.8 177.6,166.8 160.4,166.8 160.1,165.8 159.2,165.3 158.6,165.8 158.2,166.8 145.4,166.8 145.2,166.0 144.8,165.4 143.4,164.8 142.9,164.2 142.6,163.2 142.9,162.2 143.8,161.6 146.2,161.4 147.2,161.0 148.1,159.2 148.8,158.4 151.2,156.8 152.2,155.7 153.8,154.7 154.2,154.2 154.8,152.8ZM28.1,162.2 28.8,161.9 29.2,162.0 30.1,162.8 30.2,163.8 29.8,164.4 29.2,164.7 28.2,164.6 27.8,163.9 27.7,163.2Z"/>
<path fill="rgb(2, 122, 250)" d="M85.6,118.2 86.2,118.3 86.8,118.6 87.2,119.8 86.8,121.4 85.8,122.6 85.2,122.7 84.8,122.5 84.2,121.9 84.0,119.8 84.5,118.8ZM99.7,122.2 100.2,122.3 100.8,123.2 101.3,124.8 101.3,126.2 100.5,127.2 99.8,127.7 98.8,127.8 98.3,127.7 97.8,127.2 97.5,126.2 97.6,125.2 98.2,123.8ZM85.6,134.2 86.2,133.8 86.8,134.2 87.4,135.8 87.6,139.8 88.3,142.8 88.5,147.2 89.1,149.8 89.2,152.0 89.1,153.8 86.9,156.2 87.0,156.8 88.2,157.7 89.8,157.9 90.8,157.7 92.8,156.8 95.2,156.8 96.8,157.9 97.2,158.0 98.7,157.2 100.8,156.6 103.8,156.4 104.8,156.6 105.8,157.6 106.1,158.2 106.6,160.8 107.2,162.8 107.2,163.8 106.4,166.8 78.7,166.8 78.8,162.3 79.0,161.2 81.6,158.8 83.2,156.6 83.5,155.8 83.7,153.2 84.8,150.8 84.9,149.2 83.7,146.2 83.7,141.8 84.0,139.2 84.8,137.6 85.2,135.2ZM196.6,149.8 197.8,149.5 198.2,149.8 199.2,150.9 199.9,152.8 199.8,154.2 199.4,155.2 198.2,156.7 197.8,156.8 196.2,156.5 195.2,156.0 194.8,155.2 194.5,154.2 194.5,153.2 194.8,152.0 195.8,150.3ZM18.1,151.2 18.2,151.1 18.8,151.1 19.4,152.8 19.4,155.2 18.8,156.9 18.2,156.9 17.6,155.2 17.6,152.8ZM155.1,156.2 155.8,156.3 156.8,157.3 158.1,158.8 158.6,159.8 159.2,163.2 157.8,165.2 157.5,166.8 146.8,166.8 146.3,163.8 146.5,163.2 147.8,161.6 149.1,158.8 149.8,158.2 151.2,157.7 153.2,156.6ZM52.0,156.8 52.2,156.5 54.2,156.5 55.8,156.8 58.3,159.2 58.8,160.2 59.3,162.2 59.4,166.8 54.0,166.8 53.2,164.9 52.8,161.2 51.8,158.8 51.8,157.7ZM169.1,161.8 170.8,161.5 172.2,161.6 174.8,162.1 176.2,162.8 176.7,163.8 176.7,166.8 162.0,166.8 161.7,164.2 161.8,163.8 163.0,162.8 164.8,162.0Z"/>
<path fill="rgb(8, 68, 240)" d="M85.7,119.2 86.3,119.2 86.5,119.8 86.2,120.4 85.8,120.4 85.6,120.2 85.4,119.8ZM98.4,125.2 98.8,125.0 99.2,125.0 99.8,125.7 99.8,126.2 99.2,126.9 98.8,126.9 98.2,126.5 98.2,125.8ZM86.0,135.8 86.2,135.4 86.8,135.8 87.0,139.8 87.8,142.2 88.0,143.8 87.9,153.2 87.2,154.4 86.2,154.7 85.8,154.6 85.2,153.8 85.1,152.8 85.6,150.8 85.6,149.8 84.5,146.8 84.4,145.2 84.5,142.2ZM18.2,151.8 18.2,151.6 18.8,151.6 19.2,153.2 19.2,154.8 18.8,156.4 18.2,156.4 17.8,154.8 17.8,153.2ZM195.9,151.8 196.8,151.5 197.8,151.5 198.8,152.0 199.2,153.2 198.8,154.5 197.8,155.0 196.2,154.9 195.7,154.8 195.2,154.2 195.1,153.2 195.2,152.4ZM102.4,157.8 103.8,157.5 104.8,157.6 105.2,157.9 105.8,158.8 106.6,163.2 106.0,166.2 105.8,166.5 102.8,166.6 100.8,166.5 100.0,166.2 100.1,159.2 100.8,158.4ZM86.1,158.2 86.8,158.2 89.2,158.6 92.2,158.2 93.2,158.4 93.8,159.0 94.6,160.8 96.2,161.8 96.8,162.5 97.0,163.8 97.0,166.2 95.2,166.6 89.8,166.7 83.8,166.6 82.0,166.2 82.0,163.2 82.4,162.2 84.4,160.8 85.4,158.8ZM152.2,158.2 153.8,158.0 155.8,158.1 156.8,158.6 157.2,159.2 157.5,160.2 157.5,163.2 156.8,166.3 154.8,166.6 150.2,166.7 148.8,166.6 147.8,166.2 148.0,162.8 149.2,159.7 149.8,159.0 150.2,158.8ZM54.9,158.8 55.7,158.3 56.8,158.8 57.8,160.8 58.8,162.0 59.0,163.8 58.9,166.2 58.8,166.4 57.4,166.2 56.8,165.4 55.2,164.6 54.8,164.0 54.5,162.8 54.5,160.2ZM168.7,162.2 171.2,161.9 174.7,162.8 175.3,163.2 175.4,163.8 175.5,166.2 174.2,166.5 170.2,166.7 165.2,166.6 163.5,166.2 163.6,163.8 163.8,163.2 164.2,162.8 165.2,162.5Z"/>
<path fill="rgb(35, 23, 229)" d="M85.6,141.2 86.2,140.8 86.8,141.1 87.4,142.8 87.5,147.2 87.2,148.1 86.8,148.7 86.2,148.6 85.8,148.1 85.3,147.2 85.1,146.2 85.1,142.8ZM18.2,152.2 18.8,152.2 19.0,153.2 19.0,154.8 18.8,155.8 18.2,155.8 18.0,154.8 18.0,153.2ZM103.5,158.2 104.8,158.3 105.4,159.2 105.9,163.2 105.6,166.2 105.2,166.4 103.8,166.5 101.5,166.2 101.7,159.8 102.5,158.8ZM86.3,160.2 86.8,159.9 87.8,159.8 91.2,159.8 92.2,159.9 95.1,162.8 95.5,163.8 95.5,166.2 89.8,166.6 83.5,166.2 83.5,163.8 83.9,162.8ZM150.2,160.2 151.2,159.9 152.8,159.8 154.2,159.9 155.3,160.2 155.8,161.2 155.9,162.2 155.8,166.2 151.8,166.5 149.8,166.5 148.5,166.2 148.6,162.8 149.2,161.4ZM169.1,162.8 170.8,162.3 171.8,162.3 172.9,162.8 173.6,163.2 173.9,163.8 174.0,166.2 170.2,166.5 165.0,166.2 165.2,164.7 165.8,164.0 167.8,163.4Z"/>
<path fill="rgb(95, 0, 229)" d="M86.0,142.8 86.2,142.4 86.8,142.7 86.9,143.8 86.8,146.8 86.2,147.1 85.7,145.8 85.8,143.6ZM18.2,153.2 18.8,153.2 18.8,154.8 18.2,154.8ZM103.5,159.2 104.2,159.0 104.8,159.4 104.9,159.8 105.3,163.2 105.0,166.2 104.8,166.3 103.0,166.2 103.1,160.2ZM87.4,161.2 88.8,160.9 90.2,160.9 92.8,161.8 93.4,162.2 93.9,163.2 94.0,166.2 89.8,166.5 85.0,166.2 85.0,163.8 85.3,162.8 86.2,161.8ZM150.2,161.8 151.2,161.5 152.8,161.6 153.5,161.8 154.1,162.2 154.4,163.2 154.5,166.2 151.8,166.4 149.2,166.2 149.2,163.1 149.6,162.2ZM169.8,163.2 170.8,162.8 171.2,162.8 172.1,163.2 172.5,164.2 172.5,166.2 170.2,166.4 166.6,166.2 167.2,165.4 168.8,164.6Z"/>
<path fill="rgb(175, 0, 255)" d="M88.5,161.8 90.2,161.7 91.5,162.2 92.1,162.8 92.5,163.8 92.5,166.2 89.8,166.4 86.5,166.2 86.7,163.2 87.5,162.2Z"/>
<path fill="rgb(228, 0, 255)" d="M88.5,162.8 89.2,162.4 89.8,162.4 90.5,162.8 90.9,163.8 91.0,166.2 88.0,166.2 88.1,163.8Z"/></g></g>
<path d="M42.2,175.7H46.0M42.2,159.3H46.0M42.2,142.8H46.0M42.2,126.4H46.0M42.2,109.9H46.0M42.2,93.5H46.0M42.2,77.1H46.0M42.2,60.6H46.0M42.2,44.2H46.0M42.2,27.7H46.0M42.2,11.3H46.0M46.0,175.7V178.9M71.2,175.7V178.9M96.5,175.7V178.9M121.7,175.7V178.9M147.0,175.7V178.9M172.2,175.7V178.9M197.5,175.7V178.9M222.7,175.7V178.9M248.0,175.7V178.9M273.2,175.7V178.9" stroke="#b8c4ee" stroke-width="0.9" fill="none"/>
<g font-size="9.8" fill="#2222a0" stroke="#2222a0" stroke-width="0.25">
<text transform="translate(40.5,178.6) scale(0.92,1)" text-anchor="end">0</text>
<text transform="translate(40.5,162.2) scale(0.92,1)" text-anchor="end">7</text>
<text transform="translate(40.5,145.7) scale(0.92,1)" text-anchor="end">14</text>
<text transform="translate(40.5,129.3) scale(0.92,1)" text-anchor="end">21</text>
<text transform="translate(40.5,112.8) scale(0.92,1)" text-anchor="end">28</text>
<text transform="translate(40.5,96.4) scale(0.92,1)" text-anchor="end">35</text>
<text transform="translate(40.5,80.0) scale(0.92,1)" text-anchor="end">42</text>
<text transform="translate(40.5,63.5) scale(0.92,1)" text-anchor="end">49</text>
<text transform="translate(40.5,47.1) scale(0.92,1)" text-anchor="end">56</text>
<text transform="translate(40.5,30.6) scale(0.92,1)" text-anchor="end">63</text>
<text transform="translate(40.5,14.2) scale(0.92,1)" text-anchor="end">70</text>
<text transform="translate(45.7,187.7) scale(0.92,1)" text-anchor="middle">2</text>
<text transform="translate(70.9,187.7) scale(0.92,1)" text-anchor="middle">3</text>
<text transform="translate(96.2,187.7) scale(0.92,1)" text-anchor="middle">4</text>
<text transform="translate(121.4,187.7) scale(0.92,1)" text-anchor="middle">5</text>
<text transform="translate(146.7,187.7) scale(0.92,1)" text-anchor="middle">6</text>
<text transform="translate(171.9,187.7) scale(0.92,1)" text-anchor="middle">7</text>
<text transform="translate(197.2,187.7) scale(0.92,1)" text-anchor="middle">8</text>
<text transform="translate(222.4,187.7) scale(0.92,1)" text-anchor="middle">9</text>
<text transform="translate(247.7,187.7) scale(0.92,1)" text-anchor="middle">10</text>
<text transform="translate(272.9,187.7) scale(0.92,1)" text-anchor="middle">11</text>
</g>
<rect x="198.4" y="14.4" width="72.2" height="20.4" fill="#e9efdf" stroke="#2a6aa0" stroke-width="1.4"/>
<text x="204.0" y="28.9" font-size="11.3" font-weight="bold" fill="#111" stroke="#111" stroke-width="0.3" textLength="61.5" lengthAdjust="spacingAndGlyphs">5 GHz, RCP</text>
<text transform="translate(20.6,148.8) rotate(-90)" font-size="10.6" font-weight="bold" fill="#111" stroke="#111" stroke-width="0.3" textLength="119.6" lengthAdjust="spacingAndGlyphs">Frequency (cycles/day)</text>
<path d="M310.2,178.1H314.0M310.2,161.2H314.0M310.2,144.4H314.0M310.2,127.5H314.0M310.2,110.7H314.0M310.2,93.8H314.0M310.2,76.9H314.0M310.2,60.1H314.0M310.2,43.2H314.0M310.2,26.4H314.0M310.2,9.5H314.0M314.0,178.1V181.3M339.5,178.1V181.3M365.0,178.1V181.3M390.5,178.1V181.3M416.0,178.1V181.3M441.6,178.1V181.3M467.1,178.1V181.3M492.6,178.1V181.3M518.1,178.1V181.3M543.6,178.1V181.3" stroke="#b8c4ee" stroke-width="0.9" fill="none"/>
<g font-size="9.8" fill="#2222a0" stroke="#2222a0" stroke-width="0.25">
<text transform="translate(308.5,181.0) scale(0.92,1)" text-anchor="end">0</text>
<text transform="translate(308.5,164.1) scale(0.92,1)" text-anchor="end">7</text>
<text transform="translate(308.5,147.3) scale(0.92,1)" text-anchor="end">14</text>
<text transform="translate(308.5,130.4) scale(0.92,1)" text-anchor="end">21</text>
<text transform="translate(308.5,113.6) scale(0.92,1)" text-anchor="end">28</text>
<text transform="translate(308.5,96.7) scale(0.92,1)" text-anchor="end">35</text>
<text transform="translate(308.5,79.8) scale(0.92,1)" text-anchor="end">42</text>
<text transform="translate(308.5,63.0) scale(0.92,1)" text-anchor="end">49</text>
<text transform="translate(308.5,46.1) scale(0.92,1)" text-anchor="end">56</text>
<text transform="translate(308.5,29.3) scale(0.92,1)" text-anchor="end">63</text>
<text transform="translate(308.5,12.4) scale(0.92,1)" text-anchor="end">70</text>
<text transform="translate(313.7,190.1) scale(0.92,1)" text-anchor="middle">2</text>
<text transform="translate(339.2,190.1) scale(0.92,1)" text-anchor="middle">3</text>
<text transform="translate(364.7,190.1) scale(0.92,1)" text-anchor="middle">4</text>
<text transform="translate(390.2,190.1) scale(0.92,1)" text-anchor="middle">5</text>
<text transform="translate(415.7,190.1) scale(0.92,1)" text-anchor="middle">6</text>
<text transform="translate(441.3,190.1) scale(0.92,1)" text-anchor="middle">7</text>
<text transform="translate(466.8,190.1) scale(0.92,1)" text-anchor="middle">8</text>
<text transform="translate(492.3,190.1) scale(0.92,1)" text-anchor="middle">9</text>
<text transform="translate(517.8,190.1) scale(0.92,1)" text-anchor="middle">10</text>
<text transform="translate(543.3,190.1) scale(0.92,1)" text-anchor="middle">11</text>
</g>
<rect x="466.6" y="14.0" width="72.1" height="20.7" fill="#e9efdf" stroke="#2a6aa0" stroke-width="1.4"/>
<text x="473.0" y="29.0" font-size="11.3" font-weight="bold" fill="#111" stroke="#111" stroke-width="0.3" textLength="58.5" lengthAdjust="spacingAndGlyphs">5 GHz, LCP</text>
<path d="M49.1,378.4H52.9M49.1,361.7H52.9M49.1,345.1H52.9M49.1,328.4H52.9M49.1,311.7H52.9M49.1,295.0H52.9M49.1,278.4H52.9M49.1,261.7H52.9M49.1,245.0H52.9M49.1,228.4H52.9M49.1,211.7H52.9M52.9,378.4V381.6M77.4,378.4V381.6M101.9,378.4V381.6M126.4,378.4V381.6M150.9,378.4V381.6M175.3,378.4V381.6M199.8,378.4V381.6M224.3,378.4V381.6M248.8,378.4V381.6M273.3,378.4V381.6" stroke="#b8c4ee" stroke-width="0.9" fill="none"/>
<g font-size="9.8" fill="#2222a0" stroke="#2222a0" stroke-width="0.25">
<text transform="translate(47.4,381.3) scale(0.92,1)" text-anchor="end">0</text>
<text transform="translate(47.4,364.6) scale(0.92,1)" text-anchor="end">6.3</text>
<text transform="translate(47.4,348.0) scale(0.92,1)" text-anchor="end">12.6</text>
<text transform="translate(47.4,331.3) scale(0.92,1)" text-anchor="end">18.9</text>
<text transform="translate(47.4,314.6) scale(0.92,1)" text-anchor="end">25.2</text>
<text transform="translate(47.4,297.9) scale(0.92,1)" text-anchor="end">31.5</text>
<text transform="translate(47.4,281.3) scale(0.92,1)" text-anchor="end">37.8</text>
<text transform="translate(47.4,264.6) scale(0.92,1)" text-anchor="end">44.1</text>
<text transform="translate(47.4,247.9) scale(0.92,1)" text-anchor="end">50.4</text>
<text transform="translate(47.4,231.3) scale(0.92,1)" text-anchor="end">56.7</text>
<text transform="translate(47.4,214.6) scale(0.92,1)" text-anchor="end">63</text>
<text transform="translate(52.6,390.4) scale(0.92,1)" text-anchor="middle">2</text>
<text transform="translate(77.1,390.4) scale(0.92,1)" text-anchor="middle">3</text>
<text transform="translate(101.6,390.4) scale(0.92,1)" text-anchor="middle">4</text>
<text transform="translate(126.1,390.4) scale(0.92,1)" text-anchor="middle">5</text>
<text transform="translate(150.6,390.4) scale(0.92,1)" text-anchor="middle">6</text>
<text transform="translate(175.0,390.4) scale(0.92,1)" text-anchor="middle">7</text>
<text transform="translate(199.5,390.4) scale(0.92,1)" text-anchor="middle">8</text>
<text transform="translate(224.0,390.4) scale(0.92,1)" text-anchor="middle">9</text>
<text transform="translate(248.5,390.4) scale(0.92,1)" text-anchor="middle">10</text>
<text transform="translate(273.0,390.4) scale(0.92,1)" text-anchor="middle">11</text>
</g>
<rect x="185.8" y="213.6" width="83.5" height="21.0" fill="#e9efdf" stroke="#2a6aa0" stroke-width="1.4"/>
<text x="192.6" y="229.0" font-size="11.3" font-weight="bold" fill="#111" stroke="#111" stroke-width="0.3" textLength="70.8" lengthAdjust="spacingAndGlyphs">6.1 GHz, RCP</text>
<text transform="translate(20.4,354.6) rotate(-90)" font-size="10.6" font-weight="bold" fill="#111" stroke="#111" stroke-width="0.3" textLength="119.2" lengthAdjust="spacingAndGlyphs">Frequency (cycles/day)</text>
<text x="197.3" y="401.6" font-size="10.2" font-weight="bold" fill="#111" stroke="#111" stroke-width="0.3" textLength="53.4" lengthAdjust="spacingAndGlyphs">Time (Days)</text>
<path d="M319.2,379.3H323.0M319.2,362.5H323.0M319.2,345.6H323.0M319.2,328.8H323.0M319.2,312.0H323.0M319.2,295.1H323.0M319.2,278.3H323.0M319.2,261.5H323.0M319.2,244.7H323.0M319.2,227.8H323.0M319.2,211.0H323.0M323.0,379.3V382.5M344.8,379.3V382.5M366.6,379.3V382.5M388.4,379.3V382.5M410.2,379.3V382.5M432.1,379.3V382.5M453.9,379.3V382.5M475.7,379.3V382.5M497.5,379.3V382.5M519.3,379.3V382.5M541.1,379.3V382.5" stroke="#b8c4ee" stroke-width="0.9" fill="none"/>
<g font-size="9.8" fill="#2222a0" stroke="#2222a0" stroke-width="0.25">
<text transform="translate(317.5,382.2) scale(0.92,1)" text-anchor="end">0</text>
<text transform="translate(317.5,365.4) scale(0.92,1)" text-anchor="end">6.3</text>
<text transform="translate(317.5,348.5) scale(0.92,1)" text-anchor="end">12.6</text>
<text transform="translate(317.5,331.7) scale(0.92,1)" text-anchor="end">18.9</text>
<text transform="translate(317.5,314.9) scale(0.92,1)" text-anchor="end">25.2</text>
<text transform="translate(317.5,298.0) scale(0.92,1)" text-anchor="end">31.5</text>
<text transform="translate(317.5,281.2) scale(0.92,1)" text-anchor="end">37.8</text>
<text transform="translate(317.5,264.4) scale(0.92,1)" text-anchor="end">44.1</text>
<text transform="translate(317.5,247.6) scale(0.92,1)" text-anchor="end">50.4</text>
<text transform="translate(317.5,230.7) scale(0.92,1)" text-anchor="end">56.7</text>
<text transform="translate(317.5,213.9) scale(0.92,1)" text-anchor="end">63</text>
<text transform="translate(322.7,391.3) scale(0.92,1)" text-anchor="middle">2</text>
<text transform="translate(344.5,391.3) scale(0.92,1)" text-anchor="middle">2.9</text>
<text transform="translate(366.3,391.3) scale(0.92,1)" text-anchor="middle">3.8</text>
<text transform="translate(388.1,391.3) scale(0.92,1)" text-anchor="middle">4.7</text>
<text transform="translate(409.9,391.3) scale(0.92,1)" text-anchor="middle">5.6</text>
<text transform="translate(431.8,391.3) scale(0.92,1)" text-anchor="middle">6.5</text>
<text transform="translate(453.6,391.3) scale(0.92,1)" text-anchor="middle">7.4</text>
<text transform="translate(475.4,391.3) scale(0.92,1)" text-anchor="middle">8.3</text>
<text transform="translate(497.2,391.3) scale(0.92,1)" text-anchor="middle">9.2</text>
<text transform="translate(519.0,391.3) scale(0.92,1)" text-anchor="middle">10.1</text>
<text transform="translate(540.8,391.3) scale(0.92,1)" text-anchor="middle">11</text>
</g>
<rect x="453.5" y="213.5" width="85.0" height="21.7" fill="#e9efdf" stroke="#2a6aa0" stroke-width="1.4"/>
<text x="461.2" y="228.9" font-size="11.3" font-weight="bold" fill="#111" stroke="#111" stroke-width="0.3" textLength="69.2" lengthAdjust="spacingAndGlyphs">6.1 GHz, LCP</text>
<text x="469.3" y="401.6" font-size="10.2" font-weight="bold" fill="#111" stroke="#111" stroke-width="0.3" textLength="53.9" lengthAdjust="spacingAndGlyphs">Time (Days)</text>
</svg>
</body></html>
